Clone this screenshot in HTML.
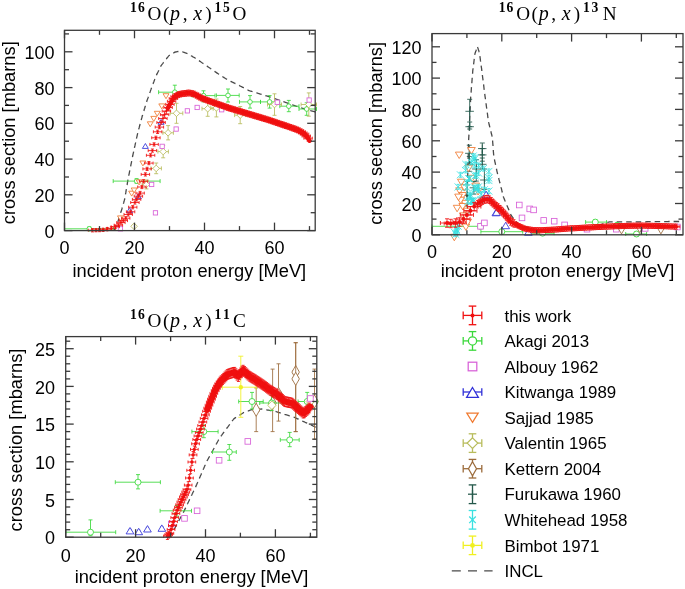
<!DOCTYPE html>
<html><head><meta charset="utf-8"><style>
html,body{margin:0;padding:0;background:#fff;width:685px;height:589px;overflow:hidden}
svg{display:block;filter:blur(0.4px)}
</style></head><body>
<svg width="685" height="589" viewBox="0 0 685 589">
<style>.t{font-family:"Liberation Sans",sans-serif;font-size:18px;fill:#000}.a{font-family:"Liberation Sans",sans-serif;font-size:18.3px;fill:#000}.l{font-family:"Liberation Sans",sans-serif;font-size:16.9px;fill:#000}.ti{font-family:"Liberation Serif",serif;font-size:18px;fill:#000}</style>
<rect width="685" height="589" fill="#fff"/>
<polyline points="114.2,230.6 114.5,229.8 114.9,229.1 115.2,228.3 115.6,227.6 115.9,226.8 116.3,226 116.6,225.3 117,224.5 117.3,223.4 117.7,222.3 118,221.2 118.4,220.1 118.7,219 119.1,217.9 119.4,216.8 119.8,215.7 120.1,214.6 120.5,213.5 120.8,212.4 121.2,211.3 121.5,210.2 121.9,209 122.2,207.7 122.6,206.5 123,205.2 123.3,204 123.7,202.7 124,201.5 124.4,200.2 124.7,199 125.1,196.9 125.4,194.8 125.8,192.7 126.1,190.6 126.5,188.5 126.8,186.4 127.2,184.4 127.5,182.3 127.9,180.2 128.2,178.4 128.6,176.7 128.9,174.9 129.3,173.1 129.6,171.4 130,169.6 130.3,167.8 130.7,166.1 131,164.3 131.4,162.6 131.7,160.8 132.1,159 132.4,157.3 132.8,155.5 133.1,153.9 133.5,152.3 133.8,150.7 134.2,149.1 134.5,147.5 134.9,145.9 135.2,144.3 135.6,142.7 135.9,141.1 136.3,139.5 136.6,137.9 137,136.3 137.3,134.8 137.7,133.2 138,131.8 138.4,130.5 138.7,129.2 139.1,127.9 139.4,126.6 139.8,125.3 140.1,124 140.5,122.7 140.8,121.4 141.2,120.1 141.5,118.8 141.9,117.5 142.2,116.2 142.6,115 142.9,113.9 143.3,112.7 143.6,111.6 144,110.5 144.3,109.3 144.7,108.2 145,107 145.4,105.9 145.7,104.8 146.1,103.6 146.4,102.5 146.8,101.3 147.1,100.3 147.5,99.3 147.8,98.4 148.2,97.4 148.5,96.4 148.9,95.4 149.2,94.4 149.6,93.4 149.9,92.4 150.3,91.4 150.6,90.4 151,89.4 151.3,88.5 151.7,87.5 152,86.6 152.4,85.6 152.7,84.7 153.1,83.8 153.4,82.8 153.8,81.9 154.1,81 154.5,80 154.8,79.1 155.2,78.2 155.5,77.2 155.9,76.3 156.2,75.6 156.6,74.9 156.9,74.1 157.3,73.4 157.6,72.7 158,72 158.3,71.3 158.7,70.6 159,69.9 159.4,69.1 159.7,68.4 160.1,67.7 160.4,67 160.8,66.3 161.1,65.6 161.5,65.1 161.8,64.7 162.2,64.2 162.5,63.8 162.9,63.3 163.2,62.9 163.6,62.4 163.9,62 164.3,61.5 164.6,61.1 165,60.7 165.3,60.2 165.7,59.8 166,59.3 166.4,58.9 166.7,58.4 167.1,58 167.4,57.5 167.8,57.1 168.1,56.6 168.5,56.2 168.8,55.7 169.2,55.5 169.5,55.3 169.9,55.1 170.2,54.9 170.6,54.7 170.9,54.5 171.3,54.3 171.6,54.1 172,53.8 172.3,53.6 172.7,53.4 173,53.2 173.4,53 173.7,52.8 174.1,52.6 174.4,52.4 174.8,52.2 175.1,52.1 175.5,52 175.8,52 176.2,51.9 176.5,51.8 176.9,51.7 177.2,51.7 177.6,51.6 177.9,51.5 178.3,51.5 178.6,51.4 179,51.3 179.3,51.3 179.7,51.3 180,51.4 180.4,51.5 180.7,51.6 181.1,51.6 181.4,51.7 181.8,51.8 182.1,51.9 182.5,51.9 182.8,52 183.2,52.1 183.5,52.2 183.9,52.3 184.2,52.4 184.6,52.6 184.9,52.7 185.3,52.8 185.6,53 186,53.1 186.3,53.2 186.7,53.4 187,53.5 187.4,53.6 187.7,53.8 188.1,54 188.4,54.2 188.8,54.4 189.1,54.6 189.5,54.8 189.8,55 190.2,55.2 190.5,55.4 190.9,55.6 191.2,55.8 191.6,56 191.9,56.2 192.3,56.4 192.6,56.6 193,56.8 193.3,57 193.7,57.2 194,57.4 194.4,57.6 194.7,57.8 195.1,58 195.4,58.2 195.8,58.4 196.1,58.7 196.5,58.9 196.8,59.1 197.2,59.4 197.5,59.6 197.9,59.9 198.2,60.1 198.6,60.3 198.9,60.6 199.3,60.8 199.6,61.1 200,61.3 200.3,61.5 200.7,61.8 201,62 201.4,62.3 201.7,62.5 202.1,62.8 202.4,63 202.8,63.2 203.1,63.5 203.5,63.7 203.8,64 204.2,64.2 204.5,64.4 204.9,64.7 205.2,64.9 205.6,65.2 205.9,65.4 206.3,65.6 206.6,65.9 207,66.1 207.3,66.3 207.7,66.6 208,66.8 208.4,67.1 208.7,67.3 209.1,67.5 209.4,67.8 209.8,68 210.1,68.2 210.5,68.5 210.8,68.7 211.2,69 211.5,69.2 211.9,69.4 212.2,69.7 212.6,69.9 212.9,70.2 213.3,70.4 213.6,70.6 214,70.9 214.3,71.1 214.7,71.4 215,71.6 215.4,71.8 215.7,72.1 216.1,72.3 216.4,72.6 216.8,72.8 217.1,73.1 217.5,73.3 217.8,73.5 218.2,73.8 218.5,74 218.9,74.3 219.2,74.5 219.6,74.7 219.9,75 220.3,75.2 220.6,75.4 221,75.7 221.3,75.9 221.7,76.1 222,76.3 222.4,76.5 222.7,76.7 223.1,77 223.4,77.2 223.8,77.4 224.1,77.6 224.5,77.8 224.8,78 225.2,78.2 225.5,78.5 225.9,78.7 226.2,78.9 226.6,79.1 226.9,79.3 227.3,79.5 227.6,79.8 228,80 228.3,80.2 228.7,80.4 229,80.6 229.4,80.7 229.7,80.9 230.1,81.1 230.4,81.2 230.8,81.4 231.1,81.6 231.5,81.7 231.8,81.9 232.2,82.1 232.5,82.2 232.9,82.4 233.2,82.6 233.6,82.7 233.9,82.9 234.3,83.1 234.6,83.2 235,83.4 235.3,83.6 235.7,83.7 236,83.9 236.4,84.1 236.7,84.2 237.1,84.4 237.4,84.5 237.8,84.7 238.1,84.9 238.5,85.1 238.8,85.2 239.2,85.4 239.5,85.6 239.9,85.8 240.2,86 240.6,86.2 240.9,86.4 241.3,86.5 241.6,86.7 242,86.9 242.3,87.1 242.7,87.3 243,87.5 243.4,87.6 243.7,87.8 244.1,88 244.4,88.2 244.8,88.4 245.1,88.6 245.5,88.8 245.8,88.9 246.2,89.1 246.5,89.3 246.9,89.5 247.2,89.7 247.6,89.9 247.9,90 248.3,90.2 248.6,90.4 249,90.6 249.3,90.7 249.7,90.8 250,90.9 250.4,91 250.7,91.1 251.1,91.2 251.4,91.3 251.8,91.4 252.1,91.5 252.5,91.7 252.8,91.8 253.2,91.9 253.5,92 253.9,92.1 254.2,92.2 254.6,92.3 254.9,92.4 255.3,92.5 255.6,92.6 256,92.7 256.3,92.8 256.7,92.9 257,93 257.4,93.1 257.7,93.2 258.1,93.3 258.4,93.4 258.8,93.5 259.1,93.7 259.5,93.8 259.8,93.9 260.2,94 260.5,94.1 260.9,94.2 261.2,94.3 261.6,94.4 261.9,94.5 262.3,94.6 262.6,94.7 263,94.8 263.3,94.9 263.7,95 264,95.1 264.4,95.2 264.7,95.3 265.1,95.4 265.4,95.6 265.8,95.7 266.1,95.8 266.5,95.9 266.8,96 267.2,96.1 267.5,96.2 267.9,96.3 268.2,96.4 268.6,96.5 268.9,96.6 269.3,96.7 269.6,96.9 270,97 270.3,97.1 270.7,97.2 271,97.3 271.4,97.5 271.7,97.6 272.1,97.7 272.4,97.8 272.8,98 273.1,98.1 273.5,98.2 273.8,98.3 274.2,98.4 274.5,98.6 274.9,98.7 275.2,98.8 275.6,98.9 275.9,99 276.3,99.2 276.6,99.3 277,99.4 277.3,99.5 277.7,99.7 278,99.8 278.4,99.9 278.7,100 279.1,100.1 279.4,100.3 279.8,100.4 280.1,100.5 280.5,100.6 280.8,100.7 281.2,100.9 281.5,101 281.9,101.1 282.2,101.2 282.6,101.4 282.9,101.5 283.3,101.6 283.6,101.7 284,101.8 284.3,102 284.7,102.1 285,102.2 285.4,102.3 285.7,102.4 286.1,102.6 286.4,102.7 286.8,102.8 287.1,102.9 287.5,103.1 287.8,103.2 288.2,103.3 288.5,103.4 288.9,103.5 289.2,103.7 289.6,103.8 289.9,103.9 290.3,104.1 290.6,104.2 291,104.3 291.3,104.4 291.7,104.6 292,104.7 292.4,104.8 292.7,104.9 293.1,105.1 293.4,105.2 293.8,105.3 294.1,105.5 294.5,105.6 294.8,105.7 295.2,105.8 295.5,106 295.9,106.1 296.2,106.2 296.6,106.3 296.9,106.5 297.3,106.6 297.6,106.7 298,106.8 298.3,107 298.7,107.1 299,107.2 299.4,107.3 299.7,107.4 300.1,107.5 300.4,107.6 300.8,107.7 301.1,107.8 301.5,107.9 301.8,108 302.2,108.2 302.5,108.3 302.9,108.4 303.2,108.5 303.6,108.6 303.9,108.7 304.3,108.8 304.6,108.9 305,109 305.3,109.1 305.7,109.2 306,109.3 306.4,109.4 306.7,109.5 307.1,109.6 307.4,109.7 307.8,109.8 308.1,109.9 308.5,110 308.8,110.1 309.2,110.2 309.5,110.3 309.9,110.4 310.2,110.5 310.6,110.6 310.9,110.7 311.3,110.8 311.6,110.9 312,111 312.3,111.1 312.7,111.2 313,111.3 313.4,111.4 313.7,111.5 314.1,111.6 314.4,111.7 314.8,111.9 315.1,112 315.5,112.1" fill="none" stroke="#4a4a4a" stroke-width="1.3" stroke-dasharray="5.5,4"/>
<line x1="64.5" y1="228.8" x2="113.5" y2="228.8" stroke="#3ad83a" stroke-width="0.85" />
<line x1="64.5" y1="226.8" x2="64.5" y2="230.8" stroke="#3ad83a" stroke-width="0.85" />
<line x1="113.5" y1="226.8" x2="113.5" y2="230.8" stroke="#3ad83a" stroke-width="0.85" />
<line x1="89.3" y1="230.6" x2="89.3" y2="227" stroke="#3ad83a" stroke-width="0.85" />
<line x1="87.3" y1="230.6" x2="91.3" y2="230.6" stroke="#3ad83a" stroke-width="0.85" />
<line x1="87.3" y1="227" x2="91.3" y2="227" stroke="#3ad83a" stroke-width="0.85" />
<circle cx="89.3" cy="228.8" r="2.3" fill="#fff" stroke="#3ad83a" stroke-width="0.85"/>
<line x1="113.2" y1="181.1" x2="160.1" y2="181.1" stroke="#3ad83a" stroke-width="0.85" />
<line x1="113.2" y1="179.1" x2="113.2" y2="183.1" stroke="#3ad83a" stroke-width="0.85" />
<line x1="160.1" y1="179.1" x2="160.1" y2="183.1" stroke="#3ad83a" stroke-width="0.85" />
<line x1="136.6" y1="183.2" x2="136.6" y2="178.7" stroke="#3ad83a" stroke-width="0.85" />
<line x1="134.6" y1="183.2" x2="138.6" y2="183.2" stroke="#3ad83a" stroke-width="0.85" />
<line x1="134.6" y1="178.7" x2="138.6" y2="178.7" stroke="#3ad83a" stroke-width="0.85" />
<circle cx="136.6" cy="181.1" r="2.3" fill="#fff" stroke="#3ad83a" stroke-width="0.85"/>
<line x1="158.6" y1="92.2" x2="190.5" y2="92.2" stroke="#3ad83a" stroke-width="0.85" />
<line x1="158.6" y1="90.2" x2="158.6" y2="94.2" stroke="#3ad83a" stroke-width="0.85" />
<line x1="190.5" y1="90.2" x2="190.5" y2="94.2" stroke="#3ad83a" stroke-width="0.85" />
<line x1="174.8" y1="99.2" x2="174.8" y2="85.2" stroke="#3ad83a" stroke-width="0.85" />
<line x1="172.8" y1="99.2" x2="176.8" y2="99.2" stroke="#3ad83a" stroke-width="0.85" />
<line x1="172.8" y1="85.2" x2="176.8" y2="85.2" stroke="#3ad83a" stroke-width="0.85" />
<circle cx="174.8" cy="92.2" r="2.3" fill="#fff" stroke="#3ad83a" stroke-width="0.85"/>
<line x1="192.2" y1="95.6" x2="215" y2="95.6" stroke="#3ad83a" stroke-width="0.85" />
<line x1="192.2" y1="93.6" x2="192.2" y2="97.6" stroke="#3ad83a" stroke-width="0.85" />
<line x1="215" y1="93.6" x2="215" y2="97.6" stroke="#3ad83a" stroke-width="0.85" />
<line x1="203.5" y1="101.9" x2="203.5" y2="90.8" stroke="#3ad83a" stroke-width="0.85" />
<line x1="201.5" y1="101.9" x2="205.5" y2="101.9" stroke="#3ad83a" stroke-width="0.85" />
<line x1="201.5" y1="90.8" x2="205.5" y2="90.8" stroke="#3ad83a" stroke-width="0.85" />
<circle cx="203.5" cy="95.6" r="2.3" fill="#fff" stroke="#3ad83a" stroke-width="0.85"/>
<line x1="216.4" y1="95.4" x2="239.2" y2="95.4" stroke="#3ad83a" stroke-width="0.85" />
<line x1="216.4" y1="93.4" x2="216.4" y2="97.4" stroke="#3ad83a" stroke-width="0.85" />
<line x1="239.2" y1="93.4" x2="239.2" y2="97.4" stroke="#3ad83a" stroke-width="0.85" />
<line x1="228" y1="102" x2="228" y2="89" stroke="#3ad83a" stroke-width="0.85" />
<line x1="226" y1="102" x2="230" y2="102" stroke="#3ad83a" stroke-width="0.85" />
<line x1="226" y1="89" x2="230" y2="89" stroke="#3ad83a" stroke-width="0.85" />
<circle cx="228" cy="95.4" r="2.3" fill="#fff" stroke="#3ad83a" stroke-width="0.85"/>
<line x1="239.5" y1="101.9" x2="260.5" y2="101.9" stroke="#3ad83a" stroke-width="0.85" />
<line x1="239.5" y1="99.9" x2="239.5" y2="103.9" stroke="#3ad83a" stroke-width="0.85" />
<line x1="260.5" y1="99.9" x2="260.5" y2="103.9" stroke="#3ad83a" stroke-width="0.85" />
<line x1="250" y1="108.1" x2="250" y2="95.6" stroke="#3ad83a" stroke-width="0.85" />
<line x1="248" y1="108.1" x2="252" y2="108.1" stroke="#3ad83a" stroke-width="0.85" />
<line x1="248" y1="95.6" x2="252" y2="95.6" stroke="#3ad83a" stroke-width="0.85" />
<circle cx="250" cy="101.9" r="2.3" fill="#fff" stroke="#3ad83a" stroke-width="0.85"/>
<line x1="260.5" y1="101.9" x2="279.8" y2="101.9" stroke="#3ad83a" stroke-width="0.85" />
<line x1="260.5" y1="99.9" x2="260.5" y2="103.9" stroke="#3ad83a" stroke-width="0.85" />
<line x1="279.8" y1="99.9" x2="279.8" y2="103.9" stroke="#3ad83a" stroke-width="0.85" />
<line x1="269.6" y1="108.1" x2="269.6" y2="95.6" stroke="#3ad83a" stroke-width="0.85" />
<line x1="267.6" y1="108.1" x2="271.6" y2="108.1" stroke="#3ad83a" stroke-width="0.85" />
<line x1="267.6" y1="95.6" x2="271.6" y2="95.6" stroke="#3ad83a" stroke-width="0.85" />
<circle cx="269.6" cy="101.9" r="2.3" fill="#fff" stroke="#3ad83a" stroke-width="0.85"/>
<line x1="279.8" y1="106.2" x2="299" y2="106.2" stroke="#3ad83a" stroke-width="0.85" />
<line x1="279.8" y1="104.2" x2="279.8" y2="108.2" stroke="#3ad83a" stroke-width="0.85" />
<line x1="299" y1="104.2" x2="299" y2="108.2" stroke="#3ad83a" stroke-width="0.85" />
<line x1="288.8" y1="111.7" x2="288.8" y2="100.4" stroke="#3ad83a" stroke-width="0.85" />
<line x1="286.8" y1="111.7" x2="290.8" y2="111.7" stroke="#3ad83a" stroke-width="0.85" />
<line x1="286.8" y1="100.4" x2="290.8" y2="100.4" stroke="#3ad83a" stroke-width="0.85" />
<circle cx="288.8" cy="106.2" r="2.3" fill="#fff" stroke="#3ad83a" stroke-width="0.85"/>
<line x1="299" y1="109" x2="316.5" y2="109" stroke="#3ad83a" stroke-width="0.85" />
<line x1="299" y1="107" x2="299" y2="111" stroke="#3ad83a" stroke-width="0.85" />
<line x1="316.5" y1="107" x2="316.5" y2="111" stroke="#3ad83a" stroke-width="0.85" />
<line x1="306.7" y1="115.3" x2="306.7" y2="102.8" stroke="#3ad83a" stroke-width="0.85" />
<line x1="304.7" y1="115.3" x2="308.7" y2="115.3" stroke="#3ad83a" stroke-width="0.85" />
<line x1="304.7" y1="102.8" x2="308.7" y2="102.8" stroke="#3ad83a" stroke-width="0.85" />
<circle cx="306.7" cy="109" r="2.3" fill="#fff" stroke="#3ad83a" stroke-width="0.85"/>
<path d="M134.1 223L137.4 226.3L134.1 229.6L130.8 226.3Z" fill="#fff" stroke="#b8bc5c" stroke-width="0.85"/>
<line x1="142.2" y1="184.5" x2="150.6" y2="184.5" stroke="#b8bc5c" stroke-width="0.85" />
<line x1="142.2" y1="182.5" x2="142.2" y2="186.5" stroke="#b8bc5c" stroke-width="0.85" />
<line x1="150.6" y1="182.5" x2="150.6" y2="186.5" stroke="#b8bc5c" stroke-width="0.85" />
<line x1="146.4" y1="188.9" x2="146.4" y2="180" stroke="#b8bc5c" stroke-width="0.85" />
<line x1="144.4" y1="188.9" x2="148.4" y2="188.9" stroke="#b8bc5c" stroke-width="0.85" />
<line x1="144.4" y1="180" x2="148.4" y2="180" stroke="#b8bc5c" stroke-width="0.85" />
<path d="M146.4 181.2L149.7 184.5L146.4 187.8L143.1 184.5Z" fill="#fff" stroke="#b8bc5c" stroke-width="0.85"/>
<line x1="150.9" y1="168.4" x2="161.4" y2="168.4" stroke="#b8bc5c" stroke-width="0.85" />
<line x1="150.9" y1="166.4" x2="150.9" y2="170.4" stroke="#b8bc5c" stroke-width="0.85" />
<line x1="161.4" y1="166.4" x2="161.4" y2="170.4" stroke="#b8bc5c" stroke-width="0.85" />
<line x1="156.2" y1="173.7" x2="156.2" y2="163" stroke="#b8bc5c" stroke-width="0.85" />
<line x1="154.2" y1="173.7" x2="158.2" y2="173.7" stroke="#b8bc5c" stroke-width="0.85" />
<line x1="154.2" y1="163" x2="158.2" y2="163" stroke="#b8bc5c" stroke-width="0.85" />
<path d="M156.2 165.1L159.5 168.4L156.2 171.7L152.9 168.4Z" fill="#fff" stroke="#b8bc5c" stroke-width="0.85"/>
<line x1="157.9" y1="151.6" x2="168.4" y2="151.6" stroke="#b8bc5c" stroke-width="0.85" />
<line x1="157.9" y1="149.6" x2="157.9" y2="153.6" stroke="#b8bc5c" stroke-width="0.85" />
<line x1="168.4" y1="149.6" x2="168.4" y2="153.6" stroke="#b8bc5c" stroke-width="0.85" />
<line x1="163.2" y1="157.8" x2="163.2" y2="145.3" stroke="#b8bc5c" stroke-width="0.85" />
<line x1="161.2" y1="157.8" x2="165.2" y2="157.8" stroke="#b8bc5c" stroke-width="0.85" />
<line x1="161.2" y1="145.3" x2="165.2" y2="145.3" stroke="#b8bc5c" stroke-width="0.85" />
<path d="M163.2 148.3L166.5 151.6L163.2 154.9L159.9 151.6Z" fill="#fff" stroke="#b8bc5c" stroke-width="0.85"/>
<line x1="162.9" y1="132.8" x2="173.4" y2="132.8" stroke="#b8bc5c" stroke-width="0.85" />
<line x1="162.9" y1="130.8" x2="162.9" y2="134.8" stroke="#b8bc5c" stroke-width="0.85" />
<line x1="173.4" y1="130.8" x2="173.4" y2="134.8" stroke="#b8bc5c" stroke-width="0.85" />
<line x1="168.1" y1="139.9" x2="168.1" y2="125.6" stroke="#b8bc5c" stroke-width="0.85" />
<line x1="166.1" y1="139.9" x2="170.1" y2="139.9" stroke="#b8bc5c" stroke-width="0.85" />
<line x1="166.1" y1="125.6" x2="170.1" y2="125.6" stroke="#b8bc5c" stroke-width="0.85" />
<path d="M168.1 129.5L171.4 132.8L168.1 136.1L164.8 132.8Z" fill="#fff" stroke="#b8bc5c" stroke-width="0.85"/>
<line x1="170.2" y1="113.3" x2="182.8" y2="113.3" stroke="#b8bc5c" stroke-width="0.85" />
<line x1="170.2" y1="111.3" x2="170.2" y2="115.3" stroke="#b8bc5c" stroke-width="0.85" />
<line x1="182.8" y1="111.3" x2="182.8" y2="115.3" stroke="#b8bc5c" stroke-width="0.85" />
<line x1="176.5" y1="123.3" x2="176.5" y2="103.3" stroke="#b8bc5c" stroke-width="0.85" />
<line x1="174.5" y1="123.3" x2="178.5" y2="123.3" stroke="#b8bc5c" stroke-width="0.85" />
<line x1="174.5" y1="103.3" x2="178.5" y2="103.3" stroke="#b8bc5c" stroke-width="0.85" />
<path d="M176.5 110L179.8 113.3L176.5 116.6L173.2 113.3Z" fill="#fff" stroke="#b8bc5c" stroke-width="0.85"/>
<line x1="202" y1="108.7" x2="213.2" y2="108.7" stroke="#b8bc5c" stroke-width="0.85" />
<line x1="202" y1="106.7" x2="202" y2="110.7" stroke="#b8bc5c" stroke-width="0.85" />
<line x1="213.2" y1="106.7" x2="213.2" y2="110.7" stroke="#b8bc5c" stroke-width="0.85" />
<line x1="207.7" y1="116.3" x2="207.7" y2="101" stroke="#b8bc5c" stroke-width="0.85" />
<line x1="205.7" y1="116.3" x2="209.7" y2="116.3" stroke="#b8bc5c" stroke-width="0.85" />
<line x1="205.7" y1="101" x2="209.7" y2="101" stroke="#b8bc5c" stroke-width="0.85" />
<path d="M207.7 105.4L211 108.7L207.7 112L204.3 108.7Z" fill="#fff" stroke="#b8bc5c" stroke-width="0.85"/>
<line x1="210.8" y1="107.9" x2="222" y2="107.9" stroke="#b8bc5c" stroke-width="0.85" />
<line x1="210.8" y1="105.9" x2="210.8" y2="109.9" stroke="#b8bc5c" stroke-width="0.85" />
<line x1="222" y1="105.9" x2="222" y2="109.9" stroke="#b8bc5c" stroke-width="0.85" />
<line x1="216.4" y1="116.9" x2="216.4" y2="99" stroke="#b8bc5c" stroke-width="0.85" />
<line x1="214.4" y1="116.9" x2="218.4" y2="116.9" stroke="#b8bc5c" stroke-width="0.85" />
<line x1="214.4" y1="99" x2="218.4" y2="99" stroke="#b8bc5c" stroke-width="0.85" />
<path d="M216.4 104.6L219.7 107.9L216.4 111.2L213.1 107.9Z" fill="#fff" stroke="#b8bc5c" stroke-width="0.85"/>
<line x1="234.6" y1="115.1" x2="245.8" y2="115.1" stroke="#b8bc5c" stroke-width="0.85" />
<line x1="234.6" y1="113.1" x2="234.6" y2="117.1" stroke="#b8bc5c" stroke-width="0.85" />
<line x1="245.8" y1="113.1" x2="245.8" y2="117.1" stroke="#b8bc5c" stroke-width="0.85" />
<line x1="240.2" y1="123.7" x2="240.2" y2="106.5" stroke="#b8bc5c" stroke-width="0.85" />
<line x1="238.2" y1="123.7" x2="242.2" y2="123.7" stroke="#b8bc5c" stroke-width="0.85" />
<line x1="238.2" y1="106.5" x2="242.2" y2="106.5" stroke="#b8bc5c" stroke-width="0.85" />
<path d="M240.2 111.8L243.5 115.1L240.2 118.4L236.9 115.1Z" fill="#fff" stroke="#b8bc5c" stroke-width="0.85"/>
<line x1="267.5" y1="104.5" x2="281.5" y2="104.5" stroke="#b8bc5c" stroke-width="0.85" />
<line x1="267.5" y1="102.5" x2="267.5" y2="106.5" stroke="#b8bc5c" stroke-width="0.85" />
<line x1="281.5" y1="102.5" x2="281.5" y2="106.5" stroke="#b8bc5c" stroke-width="0.85" />
<line x1="274.5" y1="115.3" x2="274.5" y2="93.8" stroke="#b8bc5c" stroke-width="0.85" />
<line x1="272.5" y1="115.3" x2="276.5" y2="115.3" stroke="#b8bc5c" stroke-width="0.85" />
<line x1="272.5" y1="93.8" x2="276.5" y2="93.8" stroke="#b8bc5c" stroke-width="0.85" />
<path d="M274.5 101.2L277.8 104.5L274.5 107.8L271.2 104.5Z" fill="#fff" stroke="#b8bc5c" stroke-width="0.85"/>
<line x1="301.1" y1="104.5" x2="316.5" y2="104.5" stroke="#b8bc5c" stroke-width="0.85" />
<line x1="301.1" y1="102.5" x2="301.1" y2="106.5" stroke="#b8bc5c" stroke-width="0.85" />
<line x1="316.5" y1="102.5" x2="316.5" y2="106.5" stroke="#b8bc5c" stroke-width="0.85" />
<line x1="308.8" y1="116.2" x2="308.8" y2="92.9" stroke="#b8bc5c" stroke-width="0.85" />
<line x1="306.8" y1="116.2" x2="310.8" y2="116.2" stroke="#b8bc5c" stroke-width="0.85" />
<line x1="306.8" y1="92.9" x2="310.8" y2="92.9" stroke="#b8bc5c" stroke-width="0.85" />
<path d="M308.8 101.2L312.1 104.5L308.8 107.8L305.5 104.5Z" fill="#fff" stroke="#b8bc5c" stroke-width="0.85"/>
<path d="M120.5 220.8L123.5 215.9L117.5 215.9Z" fill="#fff" stroke="#f07a30" stroke-width="0.85"/>
<path d="M131.7 196.1L134.7 191.2L128.7 191.2Z" fill="#fff" stroke="#f07a30" stroke-width="0.85"/>
<path d="M134.1 192.9L137.1 188L131.2 188Z" fill="#fff" stroke="#f07a30" stroke-width="0.85"/>
<path d="M139.1 184.9L142 179.9L136.1 179.9Z" fill="#fff" stroke="#f07a30" stroke-width="0.85"/>
<path d="M142.9 165.9L145.9 161L139.9 161Z" fill="#fff" stroke="#f07a30" stroke-width="0.85"/>
<path d="M150.2 126.7L153.2 121.8L147.3 121.8Z" fill="#fff" stroke="#f07a30" stroke-width="0.85"/>
<path d="M153.8 121.4L156.7 116.4L150.8 116.4Z" fill="#fff" stroke="#f07a30" stroke-width="0.85"/>
<path d="M157.2 116.2L160.2 111.3L154.3 111.3Z" fill="#fff" stroke="#f07a30" stroke-width="0.85"/>
<path d="M161.8 108.9L164.8 103.9L158.8 103.9Z" fill="#fff" stroke="#f07a30" stroke-width="0.85"/>
<path d="M166 98.7L169 93.7L163 93.7Z" fill="#fff" stroke="#f07a30" stroke-width="0.85"/>
<path d="M129.6 207.7L132.6 212.6L126.6 212.6Z" fill="#fff" stroke="#3030d8" stroke-width="0.85"/>
<path d="M138.4 193.7L141.3 198.7L135.4 198.7Z" fill="#fff" stroke="#3030d8" stroke-width="0.85"/>
<path d="M145.4 143.5L148.3 148.4L142.4 148.4Z" fill="#fff" stroke="#3030d8" stroke-width="0.85"/>
<path d="M161.1 119.4L164.1 124.3L158.1 124.3Z" fill="#fff" stroke="#3030d8" stroke-width="0.85"/>
<rect x="118.3" y="226.7" width="4.3" height="4.3" fill="#fff" stroke="#d860d8" stroke-width="0.85"/>
<rect x="149.5" y="182.3" width="4.3" height="4.3" fill="#fff" stroke="#d860d8" stroke-width="0.85"/>
<rect x="153.3" y="210.7" width="4.3" height="4.3" fill="#fff" stroke="#d860d8" stroke-width="0.85"/>
<rect x="160" y="144.2" width="4.3" height="4.3" fill="#fff" stroke="#d860d8" stroke-width="0.85"/>
<rect x="174" y="126.9" width="4.3" height="4.3" fill="#fff" stroke="#d860d8" stroke-width="0.85"/>
<rect x="185.2" y="108.7" width="4.3" height="4.3" fill="#fff" stroke="#d860d8" stroke-width="0.85"/>
<rect x="195" y="105.3" width="4.3" height="4.3" fill="#fff" stroke="#d860d8" stroke-width="0.85"/>
<rect x="219.5" y="107.6" width="4.3" height="4.3" fill="#fff" stroke="#d860d8" stroke-width="0.85"/>
<rect x="275.1" y="100.1" width="4.3" height="4.3" fill="#fff" stroke="#d860d8" stroke-width="0.85"/>
<rect x="307" y="97.9" width="4.3" height="4.3" fill="#fff" stroke="#d860d8" stroke-width="0.85"/>
<polyline points="167.8,108.1 168.6,106.6 169.5,105 170.4,103.4 171.2,101.9 172.1,100.5 173,99.1 173.9,97.7 174.8,96.9 175.6,96.2 176.5,95.5 177.4,94.8 178.2,94.6 179.1,94.4 180,94.2 180.9,94 181.8,93.8 182.6,93.7 183.5,93.6 184.4,93.5 185.2,93.4 186.1,93.3 187,93.1 187.9,93 188.8,92.9 189.6,93.1 190.5,93.2 191.4,93.4 192.2,93.5 193.1,93.7 194,93.8 194.9,94.3 195.8,94.8 196.6,95.4 197.5,95.9 198.4,96.4 199.2,96.9 200.1,97.4 201,97.9 201.9,98.3 202.8,98.6 203.6,98.9 204.5,99.2 205.4,99.6 206.2,99.9 207.1,100.2 208,100.6 208.9,100.9 209.8,101.2 210.6,101.5 211.5,101.9 212.4,102.2 213.2,102.5 214.1,102.8 215,103.1 215.9,103.4 216.8,103.7 217.6,104 218.5,104.3 219.4,104.6 220.2,104.9 221.1,105.2 222,105.5 222.9,105.9 223.8,106.2 224.6,106.5 225.5,106.8 226.4,107.1 227.2,107.4 228.1,107.7 229,108 229.9,108.3 230.8,108.5 231.6,108.8 232.5,109.1 233.4,109.3 234.2,109.6 235.1,109.9 236,110.1 236.9,110.4 237.8,110.7 238.6,110.9 239.5,111.2 240.4,111.4 241.2,111.7 242.1,112 243,112.2 243.9,112.5 244.8,112.8 245.6,113 246.5,113.3 247.4,113.5 248.2,113.8 249.1,114.1 250,114.3 250.9,114.6 251.8,114.9 252.6,115.1 253.5,115.4 254.4,115.7 255.2,115.9 256.1,116.2 257,116.4 257.9,116.7 258.8,117 259.6,117.2 260.5,117.5 261.4,117.8 262.2,118 263.1,118.3 264,118.6 264.9,118.8 265.8,119.1 266.6,119.3 267.5,119.6 268.4,119.9 269.2,120.2 270.1,120.5 271,120.7 271.9,121 272.8,121.3 273.6,121.6 274.5,121.9 275.4,122.2 276.2,122.5 277.1,122.8 278,123.1 278.9,123.4 279.8,123.7 280.6,124 281.5,124.3 282.4,124.6 283.2,124.9 284.1,125.2 285,125.5 285.9,125.8 286.8,126.1 287.6,126.4 288.5,126.7 289.4,127 290.2,127.3 291.1,127.6 292,127.9 292.9,128.2 293.8,128.5 294.6,128.8 295.5,129.1 296.4,129.4 297.2,129.7 298.1,130 299,130.6 299.9,131.1 300.8,131.6 301.6,132.1 302.5,132.6 303.4,133.2 304.2,133.7 305.1,134.7 306,135.7 306.9,136.6 307.8,137.6 308.6,139.1 309.5,140.7" fill="none" stroke="#f01010" stroke-width="4.5" stroke-linejoin="round" stroke-linecap="round"/>
<line x1="88.3" y1="230.2" x2="96.7" y2="230.2" stroke="#f01010" stroke-width="0.85" />
<line x1="88.3" y1="228.7" x2="88.3" y2="231.7" stroke="#f01010" stroke-width="0.85" />
<line x1="96.7" y1="228.7" x2="96.7" y2="231.7" stroke="#f01010" stroke-width="0.85" />
<line x1="92.5" y1="231.9" x2="92.5" y2="228.6" stroke="#f01010" stroke-width="0.85" />
<line x1="91" y1="231.9" x2="94" y2="231.9" stroke="#f01010" stroke-width="0.85" />
<line x1="91" y1="228.6" x2="94" y2="228.6" stroke="#f01010" stroke-width="0.85" />
<circle cx="92.5" cy="230.2" r="1.1" fill="#f01010"/>
<line x1="91.8" y1="230.2" x2="100.2" y2="230.2" stroke="#f01010" stroke-width="0.85" />
<line x1="91.8" y1="228.7" x2="91.8" y2="231.7" stroke="#f01010" stroke-width="0.85" />
<line x1="100.2" y1="228.7" x2="100.2" y2="231.7" stroke="#f01010" stroke-width="0.85" />
<line x1="96" y1="231.8" x2="96" y2="228.5" stroke="#f01010" stroke-width="0.85" />
<line x1="94.5" y1="231.8" x2="97.5" y2="231.8" stroke="#f01010" stroke-width="0.85" />
<line x1="94.5" y1="228.5" x2="97.5" y2="228.5" stroke="#f01010" stroke-width="0.85" />
<circle cx="96" cy="230.2" r="1.1" fill="#f01010"/>
<line x1="95.3" y1="230.1" x2="103.7" y2="230.1" stroke="#f01010" stroke-width="0.85" />
<line x1="95.3" y1="228.6" x2="95.3" y2="231.6" stroke="#f01010" stroke-width="0.85" />
<line x1="103.7" y1="228.6" x2="103.7" y2="231.6" stroke="#f01010" stroke-width="0.85" />
<line x1="99.5" y1="231.7" x2="99.5" y2="228.5" stroke="#f01010" stroke-width="0.85" />
<line x1="98" y1="231.7" x2="101" y2="231.7" stroke="#f01010" stroke-width="0.85" />
<line x1="98" y1="228.5" x2="101" y2="228.5" stroke="#f01010" stroke-width="0.85" />
<circle cx="99.5" cy="230.1" r="1.1" fill="#f01010"/>
<line x1="98.8" y1="229.9" x2="107.2" y2="229.9" stroke="#f01010" stroke-width="0.85" />
<line x1="98.8" y1="228.4" x2="98.8" y2="231.4" stroke="#f01010" stroke-width="0.85" />
<line x1="107.2" y1="228.4" x2="107.2" y2="231.4" stroke="#f01010" stroke-width="0.85" />
<line x1="103" y1="231.5" x2="103" y2="228.3" stroke="#f01010" stroke-width="0.85" />
<line x1="101.5" y1="231.5" x2="104.5" y2="231.5" stroke="#f01010" stroke-width="0.85" />
<line x1="101.5" y1="228.3" x2="104.5" y2="228.3" stroke="#f01010" stroke-width="0.85" />
<circle cx="103" cy="229.9" r="1.1" fill="#f01010"/>
<line x1="103" y1="229.1" x2="111.4" y2="229.1" stroke="#f01010" stroke-width="0.85" />
<line x1="103" y1="227.6" x2="103" y2="230.6" stroke="#f01010" stroke-width="0.85" />
<line x1="111.4" y1="227.6" x2="111.4" y2="230.6" stroke="#f01010" stroke-width="0.85" />
<line x1="107.2" y1="230.7" x2="107.2" y2="227.5" stroke="#f01010" stroke-width="0.85" />
<line x1="105.7" y1="230.7" x2="108.7" y2="230.7" stroke="#f01010" stroke-width="0.85" />
<line x1="105.7" y1="227.5" x2="108.7" y2="227.5" stroke="#f01010" stroke-width="0.85" />
<circle cx="107.2" cy="229.1" r="1.1" fill="#f01010"/>
<line x1="107.2" y1="228.3" x2="115.6" y2="228.3" stroke="#f01010" stroke-width="0.85" />
<line x1="107.2" y1="226.8" x2="107.2" y2="229.8" stroke="#f01010" stroke-width="0.85" />
<line x1="115.6" y1="226.8" x2="115.6" y2="229.8" stroke="#f01010" stroke-width="0.85" />
<line x1="111.4" y1="229.9" x2="111.4" y2="226.7" stroke="#f01010" stroke-width="0.85" />
<line x1="109.9" y1="229.9" x2="112.9" y2="229.9" stroke="#f01010" stroke-width="0.85" />
<line x1="109.9" y1="226.7" x2="112.9" y2="226.7" stroke="#f01010" stroke-width="0.85" />
<circle cx="111.4" cy="228.3" r="1.1" fill="#f01010"/>
<line x1="111.1" y1="226.7" x2="119.4" y2="226.7" stroke="#f01010" stroke-width="0.85" />
<line x1="111.1" y1="225.2" x2="111.1" y2="228.2" stroke="#f01010" stroke-width="0.85" />
<line x1="119.4" y1="225.2" x2="119.4" y2="228.2" stroke="#f01010" stroke-width="0.85" />
<line x1="115.2" y1="228.3" x2="115.2" y2="225.1" stroke="#f01010" stroke-width="0.85" />
<line x1="113.8" y1="228.3" x2="116.8" y2="228.3" stroke="#f01010" stroke-width="0.85" />
<line x1="113.8" y1="225.1" x2="116.8" y2="225.1" stroke="#f01010" stroke-width="0.85" />
<circle cx="115.2" cy="226.7" r="1.1" fill="#f01010"/>
<line x1="114.2" y1="225.2" x2="122.6" y2="225.2" stroke="#f01010" stroke-width="0.85" />
<line x1="114.2" y1="223.7" x2="114.2" y2="226.7" stroke="#f01010" stroke-width="0.85" />
<line x1="122.6" y1="223.7" x2="122.6" y2="226.7" stroke="#f01010" stroke-width="0.85" />
<line x1="118.4" y1="226.8" x2="118.4" y2="223.6" stroke="#f01010" stroke-width="0.85" />
<line x1="116.9" y1="226.8" x2="119.9" y2="226.8" stroke="#f01010" stroke-width="0.85" />
<line x1="116.9" y1="223.6" x2="119.9" y2="223.6" stroke="#f01010" stroke-width="0.85" />
<circle cx="118.4" cy="225.2" r="1.1" fill="#f01010"/>
<line x1="116.7" y1="222.6" x2="125.1" y2="222.6" stroke="#f01010" stroke-width="0.85" />
<line x1="116.7" y1="221.1" x2="116.7" y2="224.1" stroke="#f01010" stroke-width="0.85" />
<line x1="125.1" y1="221.1" x2="125.1" y2="224.1" stroke="#f01010" stroke-width="0.85" />
<line x1="120.9" y1="224.2" x2="120.9" y2="221" stroke="#f01010" stroke-width="0.85" />
<line x1="119.4" y1="224.2" x2="122.4" y2="224.2" stroke="#f01010" stroke-width="0.85" />
<line x1="119.4" y1="221" x2="122.4" y2="221" stroke="#f01010" stroke-width="0.85" />
<circle cx="120.9" cy="222.6" r="1.1" fill="#f01010"/>
<line x1="119.1" y1="220.6" x2="127.5" y2="220.6" stroke="#f01010" stroke-width="0.85" />
<line x1="119.1" y1="219.1" x2="119.1" y2="222.1" stroke="#f01010" stroke-width="0.85" />
<line x1="127.5" y1="219.1" x2="127.5" y2="222.1" stroke="#f01010" stroke-width="0.85" />
<line x1="123.3" y1="222.2" x2="123.3" y2="219" stroke="#f01010" stroke-width="0.85" />
<line x1="121.8" y1="222.2" x2="124.8" y2="222.2" stroke="#f01010" stroke-width="0.85" />
<line x1="121.8" y1="219" x2="124.8" y2="219" stroke="#f01010" stroke-width="0.85" />
<circle cx="123.3" cy="220.6" r="1.1" fill="#f01010"/>
<line x1="121.6" y1="218.2" x2="129.9" y2="218.2" stroke="#f01010" stroke-width="0.85" />
<line x1="121.6" y1="216.7" x2="121.6" y2="219.7" stroke="#f01010" stroke-width="0.85" />
<line x1="129.9" y1="216.7" x2="129.9" y2="219.7" stroke="#f01010" stroke-width="0.85" />
<line x1="125.8" y1="219.8" x2="125.8" y2="216.6" stroke="#f01010" stroke-width="0.85" />
<line x1="124.2" y1="219.8" x2="127.2" y2="219.8" stroke="#f01010" stroke-width="0.85" />
<line x1="124.2" y1="216.6" x2="127.2" y2="216.6" stroke="#f01010" stroke-width="0.85" />
<circle cx="125.8" cy="218.2" r="1.1" fill="#f01010"/>
<line x1="124" y1="214.5" x2="132.4" y2="214.5" stroke="#f01010" stroke-width="0.85" />
<line x1="124" y1="213" x2="124" y2="216" stroke="#f01010" stroke-width="0.85" />
<line x1="132.4" y1="213" x2="132.4" y2="216" stroke="#f01010" stroke-width="0.85" />
<line x1="128.2" y1="216.1" x2="128.2" y2="212.9" stroke="#f01010" stroke-width="0.85" />
<line x1="126.7" y1="216.1" x2="129.7" y2="216.1" stroke="#f01010" stroke-width="0.85" />
<line x1="126.7" y1="212.9" x2="129.7" y2="212.9" stroke="#f01010" stroke-width="0.85" />
<circle cx="128.2" cy="214.5" r="1.1" fill="#f01010"/>
<line x1="126.4" y1="211.8" x2="134.8" y2="211.8" stroke="#f01010" stroke-width="0.85" />
<line x1="126.4" y1="210.3" x2="126.4" y2="213.3" stroke="#f01010" stroke-width="0.85" />
<line x1="134.8" y1="210.3" x2="134.8" y2="213.3" stroke="#f01010" stroke-width="0.85" />
<line x1="130.6" y1="213.4" x2="130.6" y2="210.2" stroke="#f01010" stroke-width="0.85" />
<line x1="129.1" y1="213.4" x2="132.1" y2="213.4" stroke="#f01010" stroke-width="0.85" />
<line x1="129.1" y1="210.2" x2="132.1" y2="210.2" stroke="#f01010" stroke-width="0.85" />
<circle cx="130.6" cy="211.8" r="1.1" fill="#f01010"/>
<line x1="128.6" y1="207.2" x2="136.9" y2="207.2" stroke="#f01010" stroke-width="0.85" />
<line x1="128.6" y1="205.7" x2="128.6" y2="208.7" stroke="#f01010" stroke-width="0.85" />
<line x1="136.9" y1="205.7" x2="136.9" y2="208.7" stroke="#f01010" stroke-width="0.85" />
<line x1="132.8" y1="208.8" x2="132.8" y2="205.6" stroke="#f01010" stroke-width="0.85" />
<line x1="131.2" y1="208.8" x2="134.2" y2="208.8" stroke="#f01010" stroke-width="0.85" />
<line x1="131.2" y1="205.6" x2="134.2" y2="205.6" stroke="#f01010" stroke-width="0.85" />
<circle cx="132.8" cy="207.2" r="1.1" fill="#f01010"/>
<line x1="130.7" y1="202.5" x2="139.1" y2="202.5" stroke="#f01010" stroke-width="0.85" />
<line x1="130.7" y1="201" x2="130.7" y2="204" stroke="#f01010" stroke-width="0.85" />
<line x1="139.1" y1="201" x2="139.1" y2="204" stroke="#f01010" stroke-width="0.85" />
<line x1="134.9" y1="204.1" x2="134.9" y2="200.9" stroke="#f01010" stroke-width="0.85" />
<line x1="133.4" y1="204.1" x2="136.4" y2="204.1" stroke="#f01010" stroke-width="0.85" />
<line x1="133.4" y1="200.9" x2="136.4" y2="200.9" stroke="#f01010" stroke-width="0.85" />
<circle cx="134.9" cy="202.5" r="1.1" fill="#f01010"/>
<line x1="132.4" y1="199.4" x2="140.8" y2="199.4" stroke="#f01010" stroke-width="0.85" />
<line x1="132.4" y1="197.9" x2="132.4" y2="200.9" stroke="#f01010" stroke-width="0.85" />
<line x1="140.8" y1="197.9" x2="140.8" y2="200.9" stroke="#f01010" stroke-width="0.85" />
<line x1="136.6" y1="201" x2="136.6" y2="197.8" stroke="#f01010" stroke-width="0.85" />
<line x1="135.1" y1="201" x2="138.1" y2="201" stroke="#f01010" stroke-width="0.85" />
<line x1="135.1" y1="197.8" x2="138.1" y2="197.8" stroke="#f01010" stroke-width="0.85" />
<circle cx="136.6" cy="199.4" r="1.1" fill="#f01010"/>
<line x1="134.2" y1="196.2" x2="142.6" y2="196.2" stroke="#f01010" stroke-width="0.85" />
<line x1="134.2" y1="194.7" x2="134.2" y2="197.7" stroke="#f01010" stroke-width="0.85" />
<line x1="142.6" y1="194.7" x2="142.6" y2="197.7" stroke="#f01010" stroke-width="0.85" />
<line x1="138.4" y1="197.8" x2="138.4" y2="194.6" stroke="#f01010" stroke-width="0.85" />
<line x1="136.9" y1="197.8" x2="139.9" y2="197.8" stroke="#f01010" stroke-width="0.85" />
<line x1="136.9" y1="194.6" x2="139.9" y2="194.6" stroke="#f01010" stroke-width="0.85" />
<circle cx="138.4" cy="196.2" r="1.1" fill="#f01010"/>
<line x1="135.9" y1="193.1" x2="144.3" y2="193.1" stroke="#f01010" stroke-width="0.85" />
<line x1="135.9" y1="191.6" x2="135.9" y2="194.6" stroke="#f01010" stroke-width="0.85" />
<line x1="144.3" y1="191.6" x2="144.3" y2="194.6" stroke="#f01010" stroke-width="0.85" />
<line x1="140.1" y1="194.7" x2="140.1" y2="191.4" stroke="#f01010" stroke-width="0.85" />
<line x1="138.6" y1="194.7" x2="141.6" y2="194.7" stroke="#f01010" stroke-width="0.85" />
<line x1="138.6" y1="191.4" x2="141.6" y2="191.4" stroke="#f01010" stroke-width="0.85" />
<circle cx="140.1" cy="193.1" r="1.1" fill="#f01010"/>
<line x1="137.7" y1="187" x2="146.1" y2="187" stroke="#f01010" stroke-width="0.85" />
<line x1="137.7" y1="185.5" x2="137.7" y2="188.5" stroke="#f01010" stroke-width="0.85" />
<line x1="146.1" y1="185.5" x2="146.1" y2="188.5" stroke="#f01010" stroke-width="0.85" />
<line x1="141.9" y1="188.6" x2="141.9" y2="185.4" stroke="#f01010" stroke-width="0.85" />
<line x1="140.4" y1="188.6" x2="143.4" y2="188.6" stroke="#f01010" stroke-width="0.85" />
<line x1="140.4" y1="185.4" x2="143.4" y2="185.4" stroke="#f01010" stroke-width="0.85" />
<circle cx="141.9" cy="187" r="1.1" fill="#f01010"/>
<line x1="139.4" y1="181.3" x2="147.8" y2="181.3" stroke="#f01010" stroke-width="0.85" />
<line x1="139.4" y1="179.8" x2="139.4" y2="182.8" stroke="#f01010" stroke-width="0.85" />
<line x1="147.8" y1="179.8" x2="147.8" y2="182.8" stroke="#f01010" stroke-width="0.85" />
<line x1="143.6" y1="182.9" x2="143.6" y2="179.6" stroke="#f01010" stroke-width="0.85" />
<line x1="142.1" y1="182.9" x2="145.1" y2="182.9" stroke="#f01010" stroke-width="0.85" />
<line x1="142.1" y1="179.6" x2="145.1" y2="179.6" stroke="#f01010" stroke-width="0.85" />
<circle cx="143.6" cy="181.3" r="1.1" fill="#f01010"/>
<line x1="141.2" y1="174.4" x2="149.6" y2="174.4" stroke="#f01010" stroke-width="0.85" />
<line x1="141.2" y1="172.9" x2="141.2" y2="175.9" stroke="#f01010" stroke-width="0.85" />
<line x1="149.6" y1="172.9" x2="149.6" y2="175.9" stroke="#f01010" stroke-width="0.85" />
<line x1="145.4" y1="176" x2="145.4" y2="172.8" stroke="#f01010" stroke-width="0.85" />
<line x1="143.9" y1="176" x2="146.9" y2="176" stroke="#f01010" stroke-width="0.85" />
<line x1="143.9" y1="172.8" x2="146.9" y2="172.8" stroke="#f01010" stroke-width="0.85" />
<circle cx="145.4" cy="174.4" r="1.1" fill="#f01010"/>
<line x1="142.9" y1="168.9" x2="151.3" y2="168.9" stroke="#f01010" stroke-width="0.85" />
<line x1="142.9" y1="167.4" x2="142.9" y2="170.4" stroke="#f01010" stroke-width="0.85" />
<line x1="151.3" y1="167.4" x2="151.3" y2="170.4" stroke="#f01010" stroke-width="0.85" />
<line x1="147.1" y1="170.5" x2="147.1" y2="167.3" stroke="#f01010" stroke-width="0.85" />
<line x1="145.6" y1="170.5" x2="148.6" y2="170.5" stroke="#f01010" stroke-width="0.85" />
<line x1="145.6" y1="167.3" x2="148.6" y2="167.3" stroke="#f01010" stroke-width="0.85" />
<circle cx="147.1" cy="168.9" r="1.1" fill="#f01010"/>
<line x1="144.7" y1="163.1" x2="153.1" y2="163.1" stroke="#f01010" stroke-width="0.85" />
<line x1="144.7" y1="161.6" x2="144.7" y2="164.6" stroke="#f01010" stroke-width="0.85" />
<line x1="153.1" y1="161.6" x2="153.1" y2="164.6" stroke="#f01010" stroke-width="0.85" />
<line x1="148.9" y1="164.7" x2="148.9" y2="161.5" stroke="#f01010" stroke-width="0.85" />
<line x1="147.4" y1="164.7" x2="150.4" y2="164.7" stroke="#f01010" stroke-width="0.85" />
<line x1="147.4" y1="161.5" x2="150.4" y2="161.5" stroke="#f01010" stroke-width="0.85" />
<circle cx="148.9" cy="163.1" r="1.1" fill="#f01010"/>
<line x1="146.4" y1="155.3" x2="154.8" y2="155.3" stroke="#f01010" stroke-width="0.85" />
<line x1="146.4" y1="153.8" x2="146.4" y2="156.8" stroke="#f01010" stroke-width="0.85" />
<line x1="154.8" y1="153.8" x2="154.8" y2="156.8" stroke="#f01010" stroke-width="0.85" />
<line x1="150.6" y1="156.9" x2="150.6" y2="153.7" stroke="#f01010" stroke-width="0.85" />
<line x1="149.1" y1="156.9" x2="152.1" y2="156.9" stroke="#f01010" stroke-width="0.85" />
<line x1="149.1" y1="153.7" x2="152.1" y2="153.7" stroke="#f01010" stroke-width="0.85" />
<circle cx="150.6" cy="155.3" r="1.1" fill="#f01010"/>
<line x1="148.2" y1="150.6" x2="156.6" y2="150.6" stroke="#f01010" stroke-width="0.85" />
<line x1="148.2" y1="149.1" x2="148.2" y2="152.1" stroke="#f01010" stroke-width="0.85" />
<line x1="156.6" y1="149.1" x2="156.6" y2="152.1" stroke="#f01010" stroke-width="0.85" />
<line x1="152.4" y1="152.2" x2="152.4" y2="149" stroke="#f01010" stroke-width="0.85" />
<line x1="150.9" y1="152.2" x2="153.9" y2="152.2" stroke="#f01010" stroke-width="0.85" />
<line x1="150.9" y1="149" x2="153.9" y2="149" stroke="#f01010" stroke-width="0.85" />
<circle cx="152.4" cy="150.6" r="1.1" fill="#f01010"/>
<line x1="149.9" y1="144.4" x2="158.3" y2="144.4" stroke="#f01010" stroke-width="0.85" />
<line x1="149.9" y1="142.9" x2="149.9" y2="145.9" stroke="#f01010" stroke-width="0.85" />
<line x1="158.3" y1="142.9" x2="158.3" y2="145.9" stroke="#f01010" stroke-width="0.85" />
<line x1="154.1" y1="146" x2="154.1" y2="142.8" stroke="#f01010" stroke-width="0.85" />
<line x1="152.6" y1="146" x2="155.6" y2="146" stroke="#f01010" stroke-width="0.85" />
<line x1="152.6" y1="142.8" x2="155.6" y2="142.8" stroke="#f01010" stroke-width="0.85" />
<circle cx="154.1" cy="144.4" r="1.1" fill="#f01010"/>
<line x1="151.7" y1="137.8" x2="160.1" y2="137.8" stroke="#f01010" stroke-width="0.85" />
<line x1="151.7" y1="136.3" x2="151.7" y2="139.3" stroke="#f01010" stroke-width="0.85" />
<line x1="160.1" y1="136.3" x2="160.1" y2="139.3" stroke="#f01010" stroke-width="0.85" />
<line x1="155.9" y1="139.4" x2="155.9" y2="136.2" stroke="#f01010" stroke-width="0.85" />
<line x1="154.4" y1="139.4" x2="157.4" y2="139.4" stroke="#f01010" stroke-width="0.85" />
<line x1="154.4" y1="136.2" x2="157.4" y2="136.2" stroke="#f01010" stroke-width="0.85" />
<circle cx="155.9" cy="137.8" r="1.1" fill="#f01010"/>
<line x1="153.4" y1="131.8" x2="161.8" y2="131.8" stroke="#f01010" stroke-width="0.85" />
<line x1="153.4" y1="130.3" x2="153.4" y2="133.3" stroke="#f01010" stroke-width="0.85" />
<line x1="161.8" y1="130.3" x2="161.8" y2="133.3" stroke="#f01010" stroke-width="0.85" />
<line x1="157.6" y1="133.5" x2="157.6" y2="130.2" stroke="#f01010" stroke-width="0.85" />
<line x1="156.1" y1="133.5" x2="159.1" y2="133.5" stroke="#f01010" stroke-width="0.85" />
<line x1="156.1" y1="130.2" x2="159.1" y2="130.2" stroke="#f01010" stroke-width="0.85" />
<circle cx="157.6" cy="131.8" r="1.1" fill="#f01010"/>
<line x1="155.2" y1="127.1" x2="163.6" y2="127.1" stroke="#f01010" stroke-width="0.85" />
<line x1="155.2" y1="125.6" x2="155.2" y2="128.6" stroke="#f01010" stroke-width="0.85" />
<line x1="163.6" y1="125.6" x2="163.6" y2="128.6" stroke="#f01010" stroke-width="0.85" />
<line x1="159.4" y1="128.7" x2="159.4" y2="125.5" stroke="#f01010" stroke-width="0.85" />
<line x1="157.9" y1="128.7" x2="160.9" y2="128.7" stroke="#f01010" stroke-width="0.85" />
<line x1="157.9" y1="125.5" x2="160.9" y2="125.5" stroke="#f01010" stroke-width="0.85" />
<circle cx="159.4" cy="127.1" r="1.1" fill="#f01010"/>
<line x1="156.9" y1="122.5" x2="165.3" y2="122.5" stroke="#f01010" stroke-width="0.85" />
<line x1="156.9" y1="121" x2="156.9" y2="124" stroke="#f01010" stroke-width="0.85" />
<line x1="165.3" y1="121" x2="165.3" y2="124" stroke="#f01010" stroke-width="0.85" />
<line x1="161.1" y1="124.1" x2="161.1" y2="120.9" stroke="#f01010" stroke-width="0.85" />
<line x1="159.6" y1="124.1" x2="162.6" y2="124.1" stroke="#f01010" stroke-width="0.85" />
<line x1="159.6" y1="120.9" x2="162.6" y2="120.9" stroke="#f01010" stroke-width="0.85" />
<circle cx="161.1" cy="122.5" r="1.1" fill="#f01010"/>
<line x1="158.7" y1="118.5" x2="167.1" y2="118.5" stroke="#f01010" stroke-width="0.85" />
<line x1="158.7" y1="117" x2="158.7" y2="120" stroke="#f01010" stroke-width="0.85" />
<line x1="167.1" y1="117" x2="167.1" y2="120" stroke="#f01010" stroke-width="0.85" />
<line x1="162.9" y1="121.4" x2="162.9" y2="115.6" stroke="#f01010" stroke-width="0.85" />
<line x1="161.4" y1="121.4" x2="164.4" y2="121.4" stroke="#f01010" stroke-width="0.85" />
<line x1="161.4" y1="115.6" x2="164.4" y2="115.6" stroke="#f01010" stroke-width="0.85" />
<circle cx="162.9" cy="118.5" r="1.1" fill="#f01010"/>
<line x1="160.4" y1="114.6" x2="168.8" y2="114.6" stroke="#f01010" stroke-width="0.85" />
<line x1="160.4" y1="113.1" x2="160.4" y2="116.1" stroke="#f01010" stroke-width="0.85" />
<line x1="168.8" y1="113.1" x2="168.8" y2="116.1" stroke="#f01010" stroke-width="0.85" />
<line x1="164.6" y1="117.4" x2="164.6" y2="111.7" stroke="#f01010" stroke-width="0.85" />
<line x1="163.1" y1="117.4" x2="166.1" y2="117.4" stroke="#f01010" stroke-width="0.85" />
<line x1="163.1" y1="111.7" x2="166.1" y2="111.7" stroke="#f01010" stroke-width="0.85" />
<circle cx="164.6" cy="114.6" r="1.1" fill="#f01010"/>
<line x1="162.2" y1="111" x2="170.6" y2="111" stroke="#f01010" stroke-width="0.85" />
<line x1="162.2" y1="109.5" x2="162.2" y2="112.5" stroke="#f01010" stroke-width="0.85" />
<line x1="170.6" y1="109.5" x2="170.6" y2="112.5" stroke="#f01010" stroke-width="0.85" />
<line x1="166.4" y1="113.8" x2="166.4" y2="108.1" stroke="#f01010" stroke-width="0.85" />
<line x1="164.9" y1="113.8" x2="167.9" y2="113.8" stroke="#f01010" stroke-width="0.85" />
<line x1="164.9" y1="108.1" x2="167.9" y2="108.1" stroke="#f01010" stroke-width="0.85" />
<circle cx="166.4" cy="111" r="1.1" fill="#f01010"/>
<line x1="163.9" y1="107.5" x2="172.3" y2="107.5" stroke="#f01010" stroke-width="0.85" />
<line x1="163.9" y1="106" x2="163.9" y2="109" stroke="#f01010" stroke-width="0.85" />
<line x1="172.3" y1="106" x2="172.3" y2="109" stroke="#f01010" stroke-width="0.85" />
<line x1="168.1" y1="110.4" x2="168.1" y2="104.6" stroke="#f01010" stroke-width="0.85" />
<line x1="166.6" y1="110.4" x2="169.6" y2="110.4" stroke="#f01010" stroke-width="0.85" />
<line x1="166.6" y1="104.6" x2="169.6" y2="104.6" stroke="#f01010" stroke-width="0.85" />
<circle cx="168.1" cy="107.5" r="1.1" fill="#f01010"/>
<line x1="165.7" y1="104.4" x2="174.1" y2="104.4" stroke="#f01010" stroke-width="0.85" />
<line x1="165.7" y1="102.9" x2="165.7" y2="105.9" stroke="#f01010" stroke-width="0.85" />
<line x1="174.1" y1="102.9" x2="174.1" y2="105.9" stroke="#f01010" stroke-width="0.85" />
<line x1="169.9" y1="107.2" x2="169.9" y2="101.5" stroke="#f01010" stroke-width="0.85" />
<line x1="168.4" y1="107.2" x2="171.4" y2="107.2" stroke="#f01010" stroke-width="0.85" />
<line x1="168.4" y1="101.5" x2="171.4" y2="101.5" stroke="#f01010" stroke-width="0.85" />
<circle cx="169.9" cy="104.4" r="1.1" fill="#f01010"/>
<line x1="167.4" y1="101.3" x2="175.8" y2="101.3" stroke="#f01010" stroke-width="0.85" />
<line x1="167.4" y1="99.8" x2="167.4" y2="102.8" stroke="#f01010" stroke-width="0.85" />
<line x1="175.8" y1="99.8" x2="175.8" y2="102.8" stroke="#f01010" stroke-width="0.85" />
<line x1="171.6" y1="104.2" x2="171.6" y2="98.4" stroke="#f01010" stroke-width="0.85" />
<line x1="170.1" y1="104.2" x2="173.1" y2="104.2" stroke="#f01010" stroke-width="0.85" />
<line x1="170.1" y1="98.4" x2="173.1" y2="98.4" stroke="#f01010" stroke-width="0.85" />
<circle cx="171.6" cy="101.3" r="1.1" fill="#f01010"/>
<line x1="169.2" y1="98.5" x2="177.6" y2="98.5" stroke="#f01010" stroke-width="0.85" />
<line x1="169.2" y1="97" x2="169.2" y2="100" stroke="#f01010" stroke-width="0.85" />
<line x1="177.6" y1="97" x2="177.6" y2="100" stroke="#f01010" stroke-width="0.85" />
<line x1="173.4" y1="101.4" x2="173.4" y2="95.7" stroke="#f01010" stroke-width="0.85" />
<line x1="171.9" y1="101.4" x2="174.9" y2="101.4" stroke="#f01010" stroke-width="0.85" />
<line x1="171.9" y1="95.7" x2="174.9" y2="95.7" stroke="#f01010" stroke-width="0.85" />
<circle cx="173.4" cy="98.5" r="1.1" fill="#f01010"/>
<line x1="170.9" y1="96.6" x2="179.3" y2="96.6" stroke="#f01010" stroke-width="0.85" />
<line x1="170.9" y1="95.1" x2="170.9" y2="98.1" stroke="#f01010" stroke-width="0.85" />
<line x1="179.3" y1="95.1" x2="179.3" y2="98.1" stroke="#f01010" stroke-width="0.85" />
<line x1="175.1" y1="99.5" x2="175.1" y2="93.7" stroke="#f01010" stroke-width="0.85" />
<line x1="173.6" y1="99.5" x2="176.6" y2="99.5" stroke="#f01010" stroke-width="0.85" />
<line x1="173.6" y1="93.7" x2="176.6" y2="93.7" stroke="#f01010" stroke-width="0.85" />
<circle cx="175.1" cy="96.6" r="1.1" fill="#f01010"/>
<line x1="172.7" y1="95.2" x2="181.1" y2="95.2" stroke="#f01010" stroke-width="0.85" />
<line x1="172.7" y1="93.7" x2="172.7" y2="96.7" stroke="#f01010" stroke-width="0.85" />
<line x1="181.1" y1="93.7" x2="181.1" y2="96.7" stroke="#f01010" stroke-width="0.85" />
<line x1="176.9" y1="98.1" x2="176.9" y2="92.4" stroke="#f01010" stroke-width="0.85" />
<line x1="175.4" y1="98.1" x2="178.4" y2="98.1" stroke="#f01010" stroke-width="0.85" />
<line x1="175.4" y1="92.4" x2="178.4" y2="92.4" stroke="#f01010" stroke-width="0.85" />
<circle cx="176.9" cy="95.2" r="1.1" fill="#f01010"/>
<line x1="174.4" y1="94.5" x2="182.8" y2="94.5" stroke="#f01010" stroke-width="0.85" />
<line x1="174.4" y1="93" x2="174.4" y2="96" stroke="#f01010" stroke-width="0.85" />
<line x1="182.8" y1="93" x2="182.8" y2="96" stroke="#f01010" stroke-width="0.85" />
<line x1="178.6" y1="97.3" x2="178.6" y2="91.6" stroke="#f01010" stroke-width="0.85" />
<line x1="177.1" y1="97.3" x2="180.1" y2="97.3" stroke="#f01010" stroke-width="0.85" />
<line x1="177.1" y1="91.6" x2="180.1" y2="91.6" stroke="#f01010" stroke-width="0.85" />
<circle cx="178.6" cy="94.5" r="1.1" fill="#f01010"/>
<line x1="176.2" y1="94.1" x2="184.6" y2="94.1" stroke="#f01010" stroke-width="0.85" />
<line x1="176.2" y1="92.6" x2="176.2" y2="95.6" stroke="#f01010" stroke-width="0.85" />
<line x1="184.6" y1="92.6" x2="184.6" y2="95.6" stroke="#f01010" stroke-width="0.85" />
<line x1="180.4" y1="97" x2="180.4" y2="91.3" stroke="#f01010" stroke-width="0.85" />
<line x1="178.9" y1="97" x2="181.9" y2="97" stroke="#f01010" stroke-width="0.85" />
<line x1="178.9" y1="91.3" x2="181.9" y2="91.3" stroke="#f01010" stroke-width="0.85" />
<circle cx="180.4" cy="94.1" r="1.1" fill="#f01010"/>
<line x1="177.9" y1="93.8" x2="186.3" y2="93.8" stroke="#f01010" stroke-width="0.85" />
<line x1="177.9" y1="92.3" x2="177.9" y2="95.3" stroke="#f01010" stroke-width="0.85" />
<line x1="186.3" y1="92.3" x2="186.3" y2="95.3" stroke="#f01010" stroke-width="0.85" />
<line x1="182.1" y1="96.6" x2="182.1" y2="90.9" stroke="#f01010" stroke-width="0.85" />
<line x1="180.6" y1="96.6" x2="183.6" y2="96.6" stroke="#f01010" stroke-width="0.85" />
<line x1="180.6" y1="90.9" x2="183.6" y2="90.9" stroke="#f01010" stroke-width="0.85" />
<circle cx="182.1" cy="93.8" r="1.1" fill="#f01010"/>
<line x1="179.6" y1="93.5" x2="188.1" y2="93.5" stroke="#f01010" stroke-width="0.85" />
<line x1="179.6" y1="92" x2="179.6" y2="95" stroke="#f01010" stroke-width="0.85" />
<line x1="188.1" y1="92" x2="188.1" y2="95" stroke="#f01010" stroke-width="0.85" />
<line x1="183.9" y1="96.4" x2="183.9" y2="90.7" stroke="#f01010" stroke-width="0.85" />
<line x1="182.4" y1="96.4" x2="185.4" y2="96.4" stroke="#f01010" stroke-width="0.85" />
<line x1="182.4" y1="90.7" x2="185.4" y2="90.7" stroke="#f01010" stroke-width="0.85" />
<circle cx="183.9" cy="93.5" r="1.1" fill="#f01010"/>
<line x1="181.4" y1="93.3" x2="189.8" y2="93.3" stroke="#f01010" stroke-width="0.85" />
<line x1="181.4" y1="91.8" x2="181.4" y2="94.8" stroke="#f01010" stroke-width="0.85" />
<line x1="189.8" y1="91.8" x2="189.8" y2="94.8" stroke="#f01010" stroke-width="0.85" />
<line x1="185.6" y1="96.2" x2="185.6" y2="90.5" stroke="#f01010" stroke-width="0.85" />
<line x1="184.1" y1="96.2" x2="187.1" y2="96.2" stroke="#f01010" stroke-width="0.85" />
<line x1="184.1" y1="90.5" x2="187.1" y2="90.5" stroke="#f01010" stroke-width="0.85" />
<circle cx="185.6" cy="93.3" r="1.1" fill="#f01010"/>
<line x1="183.1" y1="93.1" x2="191.6" y2="93.1" stroke="#f01010" stroke-width="0.85" />
<line x1="183.1" y1="91.6" x2="183.1" y2="94.6" stroke="#f01010" stroke-width="0.85" />
<line x1="191.6" y1="91.6" x2="191.6" y2="94.6" stroke="#f01010" stroke-width="0.85" />
<line x1="187.4" y1="96" x2="187.4" y2="90.2" stroke="#f01010" stroke-width="0.85" />
<line x1="185.9" y1="96" x2="188.9" y2="96" stroke="#f01010" stroke-width="0.85" />
<line x1="185.9" y1="90.2" x2="188.9" y2="90.2" stroke="#f01010" stroke-width="0.85" />
<circle cx="187.4" cy="93.1" r="1.1" fill="#f01010"/>
<line x1="184.9" y1="93" x2="193.3" y2="93" stroke="#f01010" stroke-width="0.85" />
<line x1="184.9" y1="91.5" x2="184.9" y2="94.5" stroke="#f01010" stroke-width="0.85" />
<line x1="193.3" y1="91.5" x2="193.3" y2="94.5" stroke="#f01010" stroke-width="0.85" />
<line x1="189.1" y1="95.8" x2="189.1" y2="90.1" stroke="#f01010" stroke-width="0.85" />
<line x1="187.6" y1="95.8" x2="190.6" y2="95.8" stroke="#f01010" stroke-width="0.85" />
<line x1="187.6" y1="90.1" x2="190.6" y2="90.1" stroke="#f01010" stroke-width="0.85" />
<circle cx="189.1" cy="93" r="1.1" fill="#f01010"/>
<line x1="186.6" y1="93.3" x2="195.1" y2="93.3" stroke="#f01010" stroke-width="0.85" />
<line x1="186.6" y1="91.8" x2="186.6" y2="94.8" stroke="#f01010" stroke-width="0.85" />
<line x1="195.1" y1="91.8" x2="195.1" y2="94.8" stroke="#f01010" stroke-width="0.85" />
<line x1="190.9" y1="96.1" x2="190.9" y2="90.4" stroke="#f01010" stroke-width="0.85" />
<line x1="189.4" y1="96.1" x2="192.4" y2="96.1" stroke="#f01010" stroke-width="0.85" />
<line x1="189.4" y1="90.4" x2="192.4" y2="90.4" stroke="#f01010" stroke-width="0.85" />
<circle cx="190.9" cy="93.3" r="1.1" fill="#f01010"/>
<line x1="188.4" y1="93.6" x2="196.8" y2="93.6" stroke="#f01010" stroke-width="0.85" />
<line x1="188.4" y1="92.1" x2="188.4" y2="95.1" stroke="#f01010" stroke-width="0.85" />
<line x1="196.8" y1="92.1" x2="196.8" y2="95.1" stroke="#f01010" stroke-width="0.85" />
<line x1="192.6" y1="96.4" x2="192.6" y2="90.7" stroke="#f01010" stroke-width="0.85" />
<line x1="191.1" y1="96.4" x2="194.1" y2="96.4" stroke="#f01010" stroke-width="0.85" />
<line x1="191.1" y1="90.7" x2="194.1" y2="90.7" stroke="#f01010" stroke-width="0.85" />
<circle cx="192.6" cy="93.6" r="1.1" fill="#f01010"/>
<line x1="190.1" y1="94" x2="198.6" y2="94" stroke="#f01010" stroke-width="0.85" />
<line x1="190.1" y1="92.5" x2="190.1" y2="95.5" stroke="#f01010" stroke-width="0.85" />
<line x1="198.6" y1="92.5" x2="198.6" y2="95.5" stroke="#f01010" stroke-width="0.85" />
<line x1="194.3" y1="96.9" x2="194.3" y2="91.2" stroke="#f01010" stroke-width="0.85" />
<line x1="192.8" y1="96.9" x2="195.8" y2="96.9" stroke="#f01010" stroke-width="0.85" />
<line x1="192.8" y1="91.2" x2="195.8" y2="91.2" stroke="#f01010" stroke-width="0.85" />
<circle cx="194.3" cy="94" r="1.1" fill="#f01010"/>
<line x1="191.9" y1="95.1" x2="200.3" y2="95.1" stroke="#f01010" stroke-width="0.85" />
<line x1="191.9" y1="93.6" x2="191.9" y2="96.6" stroke="#f01010" stroke-width="0.85" />
<line x1="200.3" y1="93.6" x2="200.3" y2="96.6" stroke="#f01010" stroke-width="0.85" />
<line x1="196.1" y1="97.9" x2="196.1" y2="92.2" stroke="#f01010" stroke-width="0.85" />
<line x1="194.6" y1="97.9" x2="197.6" y2="97.9" stroke="#f01010" stroke-width="0.85" />
<line x1="194.6" y1="92.2" x2="197.6" y2="92.2" stroke="#f01010" stroke-width="0.85" />
<circle cx="196.1" cy="95.1" r="1.1" fill="#f01010"/>
<line x1="193.7" y1="96.1" x2="202.1" y2="96.1" stroke="#f01010" stroke-width="0.85" />
<line x1="193.7" y1="94.6" x2="193.7" y2="97.6" stroke="#f01010" stroke-width="0.85" />
<line x1="202.1" y1="94.6" x2="202.1" y2="97.6" stroke="#f01010" stroke-width="0.85" />
<line x1="197.8" y1="98.9" x2="197.8" y2="93.2" stroke="#f01010" stroke-width="0.85" />
<line x1="196.3" y1="98.9" x2="199.3" y2="98.9" stroke="#f01010" stroke-width="0.85" />
<line x1="196.3" y1="93.2" x2="199.3" y2="93.2" stroke="#f01010" stroke-width="0.85" />
<circle cx="197.8" cy="96.1" r="1.1" fill="#f01010"/>
<line x1="195.4" y1="97.1" x2="203.8" y2="97.1" stroke="#f01010" stroke-width="0.85" />
<line x1="195.4" y1="95.6" x2="195.4" y2="98.6" stroke="#f01010" stroke-width="0.85" />
<line x1="203.8" y1="95.6" x2="203.8" y2="98.6" stroke="#f01010" stroke-width="0.85" />
<line x1="199.6" y1="100" x2="199.6" y2="94.2" stroke="#f01010" stroke-width="0.85" />
<line x1="198.1" y1="100" x2="201.1" y2="100" stroke="#f01010" stroke-width="0.85" />
<line x1="198.1" y1="94.2" x2="201.1" y2="94.2" stroke="#f01010" stroke-width="0.85" />
<circle cx="199.6" cy="97.1" r="1.1" fill="#f01010"/>
<line x1="197.2" y1="98.1" x2="205.6" y2="98.1" stroke="#f01010" stroke-width="0.85" />
<line x1="197.2" y1="96.6" x2="197.2" y2="99.6" stroke="#f01010" stroke-width="0.85" />
<line x1="205.6" y1="96.6" x2="205.6" y2="99.6" stroke="#f01010" stroke-width="0.85" />
<line x1="201.3" y1="100.9" x2="201.3" y2="95.2" stroke="#f01010" stroke-width="0.85" />
<line x1="199.8" y1="100.9" x2="202.8" y2="100.9" stroke="#f01010" stroke-width="0.85" />
<line x1="199.8" y1="95.2" x2="202.8" y2="95.2" stroke="#f01010" stroke-width="0.85" />
<circle cx="201.3" cy="98.1" r="1.1" fill="#f01010"/>
<line x1="198.9" y1="98.7" x2="207.3" y2="98.7" stroke="#f01010" stroke-width="0.85" />
<line x1="198.9" y1="97.2" x2="198.9" y2="100.2" stroke="#f01010" stroke-width="0.85" />
<line x1="207.3" y1="97.2" x2="207.3" y2="100.2" stroke="#f01010" stroke-width="0.85" />
<line x1="203.1" y1="101.6" x2="203.1" y2="95.9" stroke="#f01010" stroke-width="0.85" />
<line x1="201.6" y1="101.6" x2="204.6" y2="101.6" stroke="#f01010" stroke-width="0.85" />
<line x1="201.6" y1="95.9" x2="204.6" y2="95.9" stroke="#f01010" stroke-width="0.85" />
<circle cx="203.1" cy="98.7" r="1.1" fill="#f01010"/>
<line x1="200.7" y1="99.4" x2="209.1" y2="99.4" stroke="#f01010" stroke-width="0.85" />
<line x1="200.7" y1="97.9" x2="200.7" y2="100.9" stroke="#f01010" stroke-width="0.85" />
<line x1="209.1" y1="97.9" x2="209.1" y2="100.9" stroke="#f01010" stroke-width="0.85" />
<line x1="204.8" y1="102.2" x2="204.8" y2="96.5" stroke="#f01010" stroke-width="0.85" />
<line x1="203.3" y1="102.2" x2="206.3" y2="102.2" stroke="#f01010" stroke-width="0.85" />
<line x1="203.3" y1="96.5" x2="206.3" y2="96.5" stroke="#f01010" stroke-width="0.85" />
<circle cx="204.8" cy="99.4" r="1.1" fill="#f01010"/>
<line x1="202.4" y1="100" x2="210.8" y2="100" stroke="#f01010" stroke-width="0.85" />
<line x1="202.4" y1="98.5" x2="202.4" y2="101.5" stroke="#f01010" stroke-width="0.85" />
<line x1="210.8" y1="98.5" x2="210.8" y2="101.5" stroke="#f01010" stroke-width="0.85" />
<line x1="206.6" y1="102.9" x2="206.6" y2="97.2" stroke="#f01010" stroke-width="0.85" />
<line x1="205.1" y1="102.9" x2="208.1" y2="102.9" stroke="#f01010" stroke-width="0.85" />
<line x1="205.1" y1="97.2" x2="208.1" y2="97.2" stroke="#f01010" stroke-width="0.85" />
<circle cx="206.6" cy="100" r="1.1" fill="#f01010"/>
<line x1="204.2" y1="100.7" x2="212.6" y2="100.7" stroke="#f01010" stroke-width="0.85" />
<line x1="204.2" y1="99.2" x2="204.2" y2="102.2" stroke="#f01010" stroke-width="0.85" />
<line x1="212.6" y1="99.2" x2="212.6" y2="102.2" stroke="#f01010" stroke-width="0.85" />
<line x1="208.3" y1="103.5" x2="208.3" y2="97.8" stroke="#f01010" stroke-width="0.85" />
<line x1="206.8" y1="103.5" x2="209.8" y2="103.5" stroke="#f01010" stroke-width="0.85" />
<line x1="206.8" y1="97.8" x2="209.8" y2="97.8" stroke="#f01010" stroke-width="0.85" />
<circle cx="208.3" cy="100.7" r="1.1" fill="#f01010"/>
<line x1="205.9" y1="101.3" x2="214.3" y2="101.3" stroke="#f01010" stroke-width="0.85" />
<line x1="205.9" y1="99.8" x2="205.9" y2="102.8" stroke="#f01010" stroke-width="0.85" />
<line x1="214.3" y1="99.8" x2="214.3" y2="102.8" stroke="#f01010" stroke-width="0.85" />
<line x1="210.1" y1="104.2" x2="210.1" y2="98.5" stroke="#f01010" stroke-width="0.85" />
<line x1="208.6" y1="104.2" x2="211.6" y2="104.2" stroke="#f01010" stroke-width="0.85" />
<line x1="208.6" y1="98.5" x2="211.6" y2="98.5" stroke="#f01010" stroke-width="0.85" />
<circle cx="210.1" cy="101.3" r="1.1" fill="#f01010"/>
<line x1="207.7" y1="102" x2="216.1" y2="102" stroke="#f01010" stroke-width="0.85" />
<line x1="207.7" y1="100.5" x2="207.7" y2="103.5" stroke="#f01010" stroke-width="0.85" />
<line x1="216.1" y1="100.5" x2="216.1" y2="103.5" stroke="#f01010" stroke-width="0.85" />
<line x1="211.8" y1="104.8" x2="211.8" y2="99.1" stroke="#f01010" stroke-width="0.85" />
<line x1="210.3" y1="104.8" x2="213.3" y2="104.8" stroke="#f01010" stroke-width="0.85" />
<line x1="210.3" y1="99.1" x2="213.3" y2="99.1" stroke="#f01010" stroke-width="0.85" />
<circle cx="211.8" cy="102" r="1.1" fill="#f01010"/>
<line x1="209.4" y1="102.6" x2="217.8" y2="102.6" stroke="#f01010" stroke-width="0.85" />
<line x1="209.4" y1="101.1" x2="209.4" y2="104.1" stroke="#f01010" stroke-width="0.85" />
<line x1="217.8" y1="101.1" x2="217.8" y2="104.1" stroke="#f01010" stroke-width="0.85" />
<line x1="213.6" y1="105.5" x2="213.6" y2="99.7" stroke="#f01010" stroke-width="0.85" />
<line x1="212.1" y1="105.5" x2="215.1" y2="105.5" stroke="#f01010" stroke-width="0.85" />
<line x1="212.1" y1="99.7" x2="215.1" y2="99.7" stroke="#f01010" stroke-width="0.85" />
<circle cx="213.6" cy="102.6" r="1.1" fill="#f01010"/>
<line x1="211.2" y1="103.2" x2="219.6" y2="103.2" stroke="#f01010" stroke-width="0.85" />
<line x1="211.2" y1="101.7" x2="211.2" y2="104.7" stroke="#f01010" stroke-width="0.85" />
<line x1="219.6" y1="101.7" x2="219.6" y2="104.7" stroke="#f01010" stroke-width="0.85" />
<line x1="215.3" y1="106.1" x2="215.3" y2="100.4" stroke="#f01010" stroke-width="0.85" />
<line x1="213.8" y1="106.1" x2="216.8" y2="106.1" stroke="#f01010" stroke-width="0.85" />
<line x1="213.8" y1="100.4" x2="216.8" y2="100.4" stroke="#f01010" stroke-width="0.85" />
<circle cx="215.3" cy="103.2" r="1.1" fill="#f01010"/>
<line x1="212.9" y1="103.8" x2="221.3" y2="103.8" stroke="#f01010" stroke-width="0.85" />
<line x1="212.9" y1="102.3" x2="212.9" y2="105.3" stroke="#f01010" stroke-width="0.85" />
<line x1="221.3" y1="102.3" x2="221.3" y2="105.3" stroke="#f01010" stroke-width="0.85" />
<line x1="217.1" y1="106.7" x2="217.1" y2="101" stroke="#f01010" stroke-width="0.85" />
<line x1="215.6" y1="106.7" x2="218.6" y2="106.7" stroke="#f01010" stroke-width="0.85" />
<line x1="215.6" y1="101" x2="218.6" y2="101" stroke="#f01010" stroke-width="0.85" />
<circle cx="217.1" cy="103.8" r="1.1" fill="#f01010"/>
<line x1="214.7" y1="104.4" x2="223.1" y2="104.4" stroke="#f01010" stroke-width="0.85" />
<line x1="214.7" y1="102.9" x2="214.7" y2="105.9" stroke="#f01010" stroke-width="0.85" />
<line x1="223.1" y1="102.9" x2="223.1" y2="105.9" stroke="#f01010" stroke-width="0.85" />
<line x1="218.8" y1="107.3" x2="218.8" y2="101.6" stroke="#f01010" stroke-width="0.85" />
<line x1="217.3" y1="107.3" x2="220.3" y2="107.3" stroke="#f01010" stroke-width="0.85" />
<line x1="217.3" y1="101.6" x2="220.3" y2="101.6" stroke="#f01010" stroke-width="0.85" />
<circle cx="218.8" cy="104.4" r="1.1" fill="#f01010"/>
<line x1="216.4" y1="105.1" x2="224.8" y2="105.1" stroke="#f01010" stroke-width="0.85" />
<line x1="216.4" y1="103.6" x2="216.4" y2="106.6" stroke="#f01010" stroke-width="0.85" />
<line x1="224.8" y1="103.6" x2="224.8" y2="106.6" stroke="#f01010" stroke-width="0.85" />
<line x1="220.6" y1="107.9" x2="220.6" y2="102.2" stroke="#f01010" stroke-width="0.85" />
<line x1="219.1" y1="107.9" x2="222.1" y2="107.9" stroke="#f01010" stroke-width="0.85" />
<line x1="219.1" y1="102.2" x2="222.1" y2="102.2" stroke="#f01010" stroke-width="0.85" />
<circle cx="220.6" cy="105.1" r="1.1" fill="#f01010"/>
<line x1="218.2" y1="105.7" x2="226.6" y2="105.7" stroke="#f01010" stroke-width="0.85" />
<line x1="218.2" y1="104.2" x2="218.2" y2="107.2" stroke="#f01010" stroke-width="0.85" />
<line x1="226.6" y1="104.2" x2="226.6" y2="107.2" stroke="#f01010" stroke-width="0.85" />
<line x1="222.3" y1="108.5" x2="222.3" y2="102.8" stroke="#f01010" stroke-width="0.85" />
<line x1="220.8" y1="108.5" x2="223.8" y2="108.5" stroke="#f01010" stroke-width="0.85" />
<line x1="220.8" y1="102.8" x2="223.8" y2="102.8" stroke="#f01010" stroke-width="0.85" />
<circle cx="222.3" cy="105.7" r="1.1" fill="#f01010"/>
<line x1="219.9" y1="106.3" x2="228.3" y2="106.3" stroke="#f01010" stroke-width="0.85" />
<line x1="219.9" y1="104.8" x2="219.9" y2="107.8" stroke="#f01010" stroke-width="0.85" />
<line x1="228.3" y1="104.8" x2="228.3" y2="107.8" stroke="#f01010" stroke-width="0.85" />
<line x1="224.1" y1="109.1" x2="224.1" y2="103.4" stroke="#f01010" stroke-width="0.85" />
<line x1="222.6" y1="109.1" x2="225.6" y2="109.1" stroke="#f01010" stroke-width="0.85" />
<line x1="222.6" y1="103.4" x2="225.6" y2="103.4" stroke="#f01010" stroke-width="0.85" />
<circle cx="224.1" cy="106.3" r="1.1" fill="#f01010"/>
<line x1="221.7" y1="106.9" x2="230.1" y2="106.9" stroke="#f01010" stroke-width="0.85" />
<line x1="221.7" y1="105.4" x2="221.7" y2="108.4" stroke="#f01010" stroke-width="0.85" />
<line x1="230.1" y1="105.4" x2="230.1" y2="108.4" stroke="#f01010" stroke-width="0.85" />
<line x1="225.8" y1="109.8" x2="225.8" y2="104" stroke="#f01010" stroke-width="0.85" />
<line x1="224.3" y1="109.8" x2="227.3" y2="109.8" stroke="#f01010" stroke-width="0.85" />
<line x1="224.3" y1="104" x2="227.3" y2="104" stroke="#f01010" stroke-width="0.85" />
<circle cx="225.8" cy="106.9" r="1.1" fill="#f01010"/>
<line x1="223.4" y1="107.5" x2="231.8" y2="107.5" stroke="#f01010" stroke-width="0.85" />
<line x1="223.4" y1="106" x2="223.4" y2="109" stroke="#f01010" stroke-width="0.85" />
<line x1="231.8" y1="106" x2="231.8" y2="109" stroke="#f01010" stroke-width="0.85" />
<line x1="227.6" y1="110.4" x2="227.6" y2="104.6" stroke="#f01010" stroke-width="0.85" />
<line x1="226.1" y1="110.4" x2="229.1" y2="110.4" stroke="#f01010" stroke-width="0.85" />
<line x1="226.1" y1="104.6" x2="229.1" y2="104.6" stroke="#f01010" stroke-width="0.85" />
<circle cx="227.6" cy="107.5" r="1.1" fill="#f01010"/>
<line x1="225.2" y1="108.1" x2="233.6" y2="108.1" stroke="#f01010" stroke-width="0.85" />
<line x1="225.2" y1="106.6" x2="225.2" y2="109.6" stroke="#f01010" stroke-width="0.85" />
<line x1="233.6" y1="106.6" x2="233.6" y2="109.6" stroke="#f01010" stroke-width="0.85" />
<line x1="229.3" y1="111" x2="229.3" y2="105.3" stroke="#f01010" stroke-width="0.85" />
<line x1="227.8" y1="111" x2="230.8" y2="111" stroke="#f01010" stroke-width="0.85" />
<line x1="227.8" y1="105.3" x2="230.8" y2="105.3" stroke="#f01010" stroke-width="0.85" />
<circle cx="229.3" cy="108.1" r="1.1" fill="#f01010"/>
<line x1="226.9" y1="108.6" x2="235.3" y2="108.6" stroke="#f01010" stroke-width="0.85" />
<line x1="226.9" y1="107.1" x2="226.9" y2="110.1" stroke="#f01010" stroke-width="0.85" />
<line x1="235.3" y1="107.1" x2="235.3" y2="110.1" stroke="#f01010" stroke-width="0.85" />
<line x1="231.1" y1="111.5" x2="231.1" y2="105.8" stroke="#f01010" stroke-width="0.85" />
<line x1="229.6" y1="111.5" x2="232.6" y2="111.5" stroke="#f01010" stroke-width="0.85" />
<line x1="229.6" y1="105.8" x2="232.6" y2="105.8" stroke="#f01010" stroke-width="0.85" />
<circle cx="231.1" cy="108.6" r="1.1" fill="#f01010"/>
<line x1="228.7" y1="109.2" x2="237.1" y2="109.2" stroke="#f01010" stroke-width="0.85" />
<line x1="228.7" y1="107.7" x2="228.7" y2="110.7" stroke="#f01010" stroke-width="0.85" />
<line x1="237.1" y1="107.7" x2="237.1" y2="110.7" stroke="#f01010" stroke-width="0.85" />
<line x1="232.8" y1="112" x2="232.8" y2="106.3" stroke="#f01010" stroke-width="0.85" />
<line x1="231.3" y1="112" x2="234.3" y2="112" stroke="#f01010" stroke-width="0.85" />
<line x1="231.3" y1="106.3" x2="234.3" y2="106.3" stroke="#f01010" stroke-width="0.85" />
<circle cx="232.8" cy="109.2" r="1.1" fill="#f01010"/>
<line x1="230.4" y1="109.7" x2="238.8" y2="109.7" stroke="#f01010" stroke-width="0.85" />
<line x1="230.4" y1="108.2" x2="230.4" y2="111.2" stroke="#f01010" stroke-width="0.85" />
<line x1="238.8" y1="108.2" x2="238.8" y2="111.2" stroke="#f01010" stroke-width="0.85" />
<line x1="234.6" y1="112.6" x2="234.6" y2="106.8" stroke="#f01010" stroke-width="0.85" />
<line x1="233.1" y1="112.6" x2="236.1" y2="112.6" stroke="#f01010" stroke-width="0.85" />
<line x1="233.1" y1="106.8" x2="236.1" y2="106.8" stroke="#f01010" stroke-width="0.85" />
<circle cx="234.6" cy="109.7" r="1.1" fill="#f01010"/>
<line x1="232.2" y1="110.2" x2="240.6" y2="110.2" stroke="#f01010" stroke-width="0.85" />
<line x1="232.2" y1="108.7" x2="232.2" y2="111.7" stroke="#f01010" stroke-width="0.85" />
<line x1="240.6" y1="108.7" x2="240.6" y2="111.7" stroke="#f01010" stroke-width="0.85" />
<line x1="236.3" y1="113.1" x2="236.3" y2="107.4" stroke="#f01010" stroke-width="0.85" />
<line x1="234.8" y1="113.1" x2="237.8" y2="113.1" stroke="#f01010" stroke-width="0.85" />
<line x1="234.8" y1="107.4" x2="237.8" y2="107.4" stroke="#f01010" stroke-width="0.85" />
<circle cx="236.3" cy="110.2" r="1.1" fill="#f01010"/>
<line x1="233.9" y1="110.8" x2="242.3" y2="110.8" stroke="#f01010" stroke-width="0.85" />
<line x1="233.9" y1="109.3" x2="233.9" y2="112.3" stroke="#f01010" stroke-width="0.85" />
<line x1="242.3" y1="109.3" x2="242.3" y2="112.3" stroke="#f01010" stroke-width="0.85" />
<line x1="238.1" y1="113.6" x2="238.1" y2="107.9" stroke="#f01010" stroke-width="0.85" />
<line x1="236.6" y1="113.6" x2="239.6" y2="113.6" stroke="#f01010" stroke-width="0.85" />
<line x1="236.6" y1="107.9" x2="239.6" y2="107.9" stroke="#f01010" stroke-width="0.85" />
<circle cx="238.1" cy="110.8" r="1.1" fill="#f01010"/>
<line x1="235.7" y1="111.3" x2="244.1" y2="111.3" stroke="#f01010" stroke-width="0.85" />
<line x1="235.7" y1="109.8" x2="235.7" y2="112.8" stroke="#f01010" stroke-width="0.85" />
<line x1="244.1" y1="109.8" x2="244.1" y2="112.8" stroke="#f01010" stroke-width="0.85" />
<line x1="239.8" y1="114.1" x2="239.8" y2="108.4" stroke="#f01010" stroke-width="0.85" />
<line x1="238.3" y1="114.1" x2="241.3" y2="114.1" stroke="#f01010" stroke-width="0.85" />
<line x1="238.3" y1="108.4" x2="241.3" y2="108.4" stroke="#f01010" stroke-width="0.85" />
<circle cx="239.8" cy="111.3" r="1.1" fill="#f01010"/>
<line x1="237.4" y1="111.8" x2="245.8" y2="111.8" stroke="#f01010" stroke-width="0.85" />
<line x1="237.4" y1="110.3" x2="237.4" y2="113.3" stroke="#f01010" stroke-width="0.85" />
<line x1="245.8" y1="110.3" x2="245.8" y2="113.3" stroke="#f01010" stroke-width="0.85" />
<line x1="241.6" y1="114.7" x2="241.6" y2="108.9" stroke="#f01010" stroke-width="0.85" />
<line x1="240.1" y1="114.7" x2="243.1" y2="114.7" stroke="#f01010" stroke-width="0.85" />
<line x1="240.1" y1="108.9" x2="243.1" y2="108.9" stroke="#f01010" stroke-width="0.85" />
<circle cx="241.6" cy="111.8" r="1.1" fill="#f01010"/>
<line x1="239.2" y1="112.3" x2="247.6" y2="112.3" stroke="#f01010" stroke-width="0.85" />
<line x1="239.2" y1="110.8" x2="239.2" y2="113.8" stroke="#f01010" stroke-width="0.85" />
<line x1="247.6" y1="110.8" x2="247.6" y2="113.8" stroke="#f01010" stroke-width="0.85" />
<line x1="243.3" y1="115.2" x2="243.3" y2="109.5" stroke="#f01010" stroke-width="0.85" />
<line x1="241.8" y1="115.2" x2="244.8" y2="115.2" stroke="#f01010" stroke-width="0.85" />
<line x1="241.8" y1="109.5" x2="244.8" y2="109.5" stroke="#f01010" stroke-width="0.85" />
<circle cx="243.3" cy="112.3" r="1.1" fill="#f01010"/>
<line x1="240.9" y1="112.9" x2="249.3" y2="112.9" stroke="#f01010" stroke-width="0.85" />
<line x1="240.9" y1="111.4" x2="240.9" y2="114.4" stroke="#f01010" stroke-width="0.85" />
<line x1="249.3" y1="111.4" x2="249.3" y2="114.4" stroke="#f01010" stroke-width="0.85" />
<line x1="245.1" y1="115.7" x2="245.1" y2="110" stroke="#f01010" stroke-width="0.85" />
<line x1="243.6" y1="115.7" x2="246.6" y2="115.7" stroke="#f01010" stroke-width="0.85" />
<line x1="243.6" y1="110" x2="246.6" y2="110" stroke="#f01010" stroke-width="0.85" />
<circle cx="245.1" cy="112.9" r="1.1" fill="#f01010"/>
<line x1="242.7" y1="113.4" x2="251.1" y2="113.4" stroke="#f01010" stroke-width="0.85" />
<line x1="242.7" y1="111.9" x2="242.7" y2="114.9" stroke="#f01010" stroke-width="0.85" />
<line x1="251.1" y1="111.9" x2="251.1" y2="114.9" stroke="#f01010" stroke-width="0.85" />
<line x1="246.8" y1="116.3" x2="246.8" y2="110.5" stroke="#f01010" stroke-width="0.85" />
<line x1="245.3" y1="116.3" x2="248.3" y2="116.3" stroke="#f01010" stroke-width="0.85" />
<line x1="245.3" y1="110.5" x2="248.3" y2="110.5" stroke="#f01010" stroke-width="0.85" />
<circle cx="246.8" cy="113.4" r="1.1" fill="#f01010"/>
<line x1="244.4" y1="113.9" x2="252.8" y2="113.9" stroke="#f01010" stroke-width="0.85" />
<line x1="244.4" y1="112.4" x2="244.4" y2="115.4" stroke="#f01010" stroke-width="0.85" />
<line x1="252.8" y1="112.4" x2="252.8" y2="115.4" stroke="#f01010" stroke-width="0.85" />
<line x1="248.6" y1="116.8" x2="248.6" y2="111.1" stroke="#f01010" stroke-width="0.85" />
<line x1="247.1" y1="116.8" x2="250.1" y2="116.8" stroke="#f01010" stroke-width="0.85" />
<line x1="247.1" y1="111.1" x2="250.1" y2="111.1" stroke="#f01010" stroke-width="0.85" />
<circle cx="248.6" cy="113.9" r="1.1" fill="#f01010"/>
<line x1="246.2" y1="114.4" x2="254.6" y2="114.4" stroke="#f01010" stroke-width="0.85" />
<line x1="246.2" y1="112.9" x2="246.2" y2="115.9" stroke="#f01010" stroke-width="0.85" />
<line x1="254.6" y1="112.9" x2="254.6" y2="115.9" stroke="#f01010" stroke-width="0.85" />
<line x1="250.3" y1="117.3" x2="250.3" y2="111.6" stroke="#f01010" stroke-width="0.85" />
<line x1="248.8" y1="117.3" x2="251.8" y2="117.3" stroke="#f01010" stroke-width="0.85" />
<line x1="248.8" y1="111.6" x2="251.8" y2="111.6" stroke="#f01010" stroke-width="0.85" />
<circle cx="250.3" cy="114.4" r="1.1" fill="#f01010"/>
<line x1="247.9" y1="115" x2="256.3" y2="115" stroke="#f01010" stroke-width="0.85" />
<line x1="247.9" y1="113.5" x2="247.9" y2="116.5" stroke="#f01010" stroke-width="0.85" />
<line x1="256.3" y1="113.5" x2="256.3" y2="116.5" stroke="#f01010" stroke-width="0.85" />
<line x1="252.1" y1="117.8" x2="252.1" y2="112.1" stroke="#f01010" stroke-width="0.85" />
<line x1="250.6" y1="117.8" x2="253.6" y2="117.8" stroke="#f01010" stroke-width="0.85" />
<line x1="250.6" y1="112.1" x2="253.6" y2="112.1" stroke="#f01010" stroke-width="0.85" />
<circle cx="252.1" cy="115" r="1.1" fill="#f01010"/>
<line x1="249.7" y1="115.5" x2="258.1" y2="115.5" stroke="#f01010" stroke-width="0.85" />
<line x1="249.7" y1="114" x2="249.7" y2="117" stroke="#f01010" stroke-width="0.85" />
<line x1="258.1" y1="114" x2="258.1" y2="117" stroke="#f01010" stroke-width="0.85" />
<line x1="253.8" y1="118.4" x2="253.8" y2="112.6" stroke="#f01010" stroke-width="0.85" />
<line x1="252.3" y1="118.4" x2="255.3" y2="118.4" stroke="#f01010" stroke-width="0.85" />
<line x1="252.3" y1="112.6" x2="255.3" y2="112.6" stroke="#f01010" stroke-width="0.85" />
<circle cx="253.8" cy="115.5" r="1.1" fill="#f01010"/>
<line x1="251.4" y1="116" x2="259.8" y2="116" stroke="#f01010" stroke-width="0.85" />
<line x1="251.4" y1="114.5" x2="251.4" y2="117.5" stroke="#f01010" stroke-width="0.85" />
<line x1="259.8" y1="114.5" x2="259.8" y2="117.5" stroke="#f01010" stroke-width="0.85" />
<line x1="255.6" y1="118.9" x2="255.6" y2="113.2" stroke="#f01010" stroke-width="0.85" />
<line x1="254.1" y1="118.9" x2="257.1" y2="118.9" stroke="#f01010" stroke-width="0.85" />
<line x1="254.1" y1="113.2" x2="257.1" y2="113.2" stroke="#f01010" stroke-width="0.85" />
<circle cx="255.6" cy="116" r="1.1" fill="#f01010"/>
<line x1="253.2" y1="116.6" x2="261.6" y2="116.6" stroke="#f01010" stroke-width="0.85" />
<line x1="253.2" y1="115.1" x2="253.2" y2="118.1" stroke="#f01010" stroke-width="0.85" />
<line x1="261.6" y1="115.1" x2="261.6" y2="118.1" stroke="#f01010" stroke-width="0.85" />
<line x1="257.4" y1="119.4" x2="257.4" y2="113.7" stroke="#f01010" stroke-width="0.85" />
<line x1="255.9" y1="119.4" x2="258.9" y2="119.4" stroke="#f01010" stroke-width="0.85" />
<line x1="255.9" y1="113.7" x2="258.9" y2="113.7" stroke="#f01010" stroke-width="0.85" />
<circle cx="257.4" cy="116.6" r="1.1" fill="#f01010"/>
<line x1="254.9" y1="117.1" x2="263.3" y2="117.1" stroke="#f01010" stroke-width="0.85" />
<line x1="254.9" y1="115.6" x2="254.9" y2="118.6" stroke="#f01010" stroke-width="0.85" />
<line x1="263.3" y1="115.6" x2="263.3" y2="118.6" stroke="#f01010" stroke-width="0.85" />
<line x1="259.1" y1="119.9" x2="259.1" y2="114.2" stroke="#f01010" stroke-width="0.85" />
<line x1="257.6" y1="119.9" x2="260.6" y2="119.9" stroke="#f01010" stroke-width="0.85" />
<line x1="257.6" y1="114.2" x2="260.6" y2="114.2" stroke="#f01010" stroke-width="0.85" />
<circle cx="259.1" cy="117.1" r="1.1" fill="#f01010"/>
<line x1="256.6" y1="117.6" x2="265.1" y2="117.6" stroke="#f01010" stroke-width="0.85" />
<line x1="256.6" y1="116.1" x2="256.6" y2="119.1" stroke="#f01010" stroke-width="0.85" />
<line x1="265.1" y1="116.1" x2="265.1" y2="119.1" stroke="#f01010" stroke-width="0.85" />
<line x1="260.9" y1="120.5" x2="260.9" y2="114.7" stroke="#f01010" stroke-width="0.85" />
<line x1="259.4" y1="120.5" x2="262.4" y2="120.5" stroke="#f01010" stroke-width="0.85" />
<line x1="259.4" y1="114.7" x2="262.4" y2="114.7" stroke="#f01010" stroke-width="0.85" />
<circle cx="260.9" cy="117.6" r="1.1" fill="#f01010"/>
<line x1="258.4" y1="118.1" x2="266.8" y2="118.1" stroke="#f01010" stroke-width="0.85" />
<line x1="258.4" y1="116.6" x2="258.4" y2="119.6" stroke="#f01010" stroke-width="0.85" />
<line x1="266.8" y1="116.6" x2="266.8" y2="119.6" stroke="#f01010" stroke-width="0.85" />
<line x1="262.6" y1="121" x2="262.6" y2="115.3" stroke="#f01010" stroke-width="0.85" />
<line x1="261.1" y1="121" x2="264.1" y2="121" stroke="#f01010" stroke-width="0.85" />
<line x1="261.1" y1="115.3" x2="264.1" y2="115.3" stroke="#f01010" stroke-width="0.85" />
<circle cx="262.6" cy="118.1" r="1.1" fill="#f01010"/>
<line x1="260.1" y1="118.7" x2="268.6" y2="118.7" stroke="#f01010" stroke-width="0.85" />
<line x1="260.1" y1="117.2" x2="260.1" y2="120.2" stroke="#f01010" stroke-width="0.85" />
<line x1="268.6" y1="117.2" x2="268.6" y2="120.2" stroke="#f01010" stroke-width="0.85" />
<line x1="264.4" y1="121.5" x2="264.4" y2="115.8" stroke="#f01010" stroke-width="0.85" />
<line x1="262.9" y1="121.5" x2="265.9" y2="121.5" stroke="#f01010" stroke-width="0.85" />
<line x1="262.9" y1="115.8" x2="265.9" y2="115.8" stroke="#f01010" stroke-width="0.85" />
<circle cx="264.4" cy="118.7" r="1.1" fill="#f01010"/>
<line x1="261.9" y1="119.2" x2="270.3" y2="119.2" stroke="#f01010" stroke-width="0.85" />
<line x1="261.9" y1="117.7" x2="261.9" y2="120.7" stroke="#f01010" stroke-width="0.85" />
<line x1="270.3" y1="117.7" x2="270.3" y2="120.7" stroke="#f01010" stroke-width="0.85" />
<line x1="266.1" y1="122" x2="266.1" y2="116.3" stroke="#f01010" stroke-width="0.85" />
<line x1="264.6" y1="122" x2="267.6" y2="122" stroke="#f01010" stroke-width="0.85" />
<line x1="264.6" y1="116.3" x2="267.6" y2="116.3" stroke="#f01010" stroke-width="0.85" />
<circle cx="266.1" cy="119.2" r="1.1" fill="#f01010"/>
<line x1="263.6" y1="119.7" x2="272.1" y2="119.7" stroke="#f01010" stroke-width="0.85" />
<line x1="263.6" y1="118.2" x2="263.6" y2="121.2" stroke="#f01010" stroke-width="0.85" />
<line x1="272.1" y1="118.2" x2="272.1" y2="121.2" stroke="#f01010" stroke-width="0.85" />
<line x1="267.9" y1="122.6" x2="267.9" y2="116.9" stroke="#f01010" stroke-width="0.85" />
<line x1="266.4" y1="122.6" x2="269.4" y2="122.6" stroke="#f01010" stroke-width="0.85" />
<line x1="266.4" y1="116.9" x2="269.4" y2="116.9" stroke="#f01010" stroke-width="0.85" />
<circle cx="267.9" cy="119.7" r="1.1" fill="#f01010"/>
<line x1="265.4" y1="120.3" x2="273.8" y2="120.3" stroke="#f01010" stroke-width="0.85" />
<line x1="265.4" y1="118.8" x2="265.4" y2="121.8" stroke="#f01010" stroke-width="0.85" />
<line x1="273.8" y1="118.8" x2="273.8" y2="121.8" stroke="#f01010" stroke-width="0.85" />
<line x1="269.6" y1="123.1" x2="269.6" y2="117.4" stroke="#f01010" stroke-width="0.85" />
<line x1="268.1" y1="123.1" x2="271.1" y2="123.1" stroke="#f01010" stroke-width="0.85" />
<line x1="268.1" y1="117.4" x2="271.1" y2="117.4" stroke="#f01010" stroke-width="0.85" />
<circle cx="269.6" cy="120.3" r="1.1" fill="#f01010"/>
<line x1="267.1" y1="120.9" x2="275.6" y2="120.9" stroke="#f01010" stroke-width="0.85" />
<line x1="267.1" y1="119.4" x2="267.1" y2="122.4" stroke="#f01010" stroke-width="0.85" />
<line x1="275.6" y1="119.4" x2="275.6" y2="122.4" stroke="#f01010" stroke-width="0.85" />
<line x1="271.4" y1="123.7" x2="271.4" y2="118" stroke="#f01010" stroke-width="0.85" />
<line x1="269.9" y1="123.7" x2="272.9" y2="123.7" stroke="#f01010" stroke-width="0.85" />
<line x1="269.9" y1="118" x2="272.9" y2="118" stroke="#f01010" stroke-width="0.85" />
<circle cx="271.4" cy="120.9" r="1.1" fill="#f01010"/>
<line x1="268.9" y1="121.5" x2="277.3" y2="121.5" stroke="#f01010" stroke-width="0.85" />
<line x1="268.9" y1="120" x2="268.9" y2="123" stroke="#f01010" stroke-width="0.85" />
<line x1="277.3" y1="120" x2="277.3" y2="123" stroke="#f01010" stroke-width="0.85" />
<line x1="273.1" y1="124.3" x2="273.1" y2="118.6" stroke="#f01010" stroke-width="0.85" />
<line x1="271.6" y1="124.3" x2="274.6" y2="124.3" stroke="#f01010" stroke-width="0.85" />
<line x1="271.6" y1="118.6" x2="274.6" y2="118.6" stroke="#f01010" stroke-width="0.85" />
<circle cx="273.1" cy="121.5" r="1.1" fill="#f01010"/>
<line x1="270.6" y1="122" x2="279.1" y2="122" stroke="#f01010" stroke-width="0.85" />
<line x1="270.6" y1="120.5" x2="270.6" y2="123.5" stroke="#f01010" stroke-width="0.85" />
<line x1="279.1" y1="120.5" x2="279.1" y2="123.5" stroke="#f01010" stroke-width="0.85" />
<line x1="274.9" y1="124.9" x2="274.9" y2="119.2" stroke="#f01010" stroke-width="0.85" />
<line x1="273.4" y1="124.9" x2="276.4" y2="124.9" stroke="#f01010" stroke-width="0.85" />
<line x1="273.4" y1="119.2" x2="276.4" y2="119.2" stroke="#f01010" stroke-width="0.85" />
<circle cx="274.9" cy="122" r="1.1" fill="#f01010"/>
<line x1="272.4" y1="122.6" x2="280.8" y2="122.6" stroke="#f01010" stroke-width="0.85" />
<line x1="272.4" y1="121.1" x2="272.4" y2="124.1" stroke="#f01010" stroke-width="0.85" />
<line x1="280.8" y1="121.1" x2="280.8" y2="124.1" stroke="#f01010" stroke-width="0.85" />
<line x1="276.6" y1="125.5" x2="276.6" y2="119.8" stroke="#f01010" stroke-width="0.85" />
<line x1="275.1" y1="125.5" x2="278.1" y2="125.5" stroke="#f01010" stroke-width="0.85" />
<line x1="275.1" y1="119.8" x2="278.1" y2="119.8" stroke="#f01010" stroke-width="0.85" />
<circle cx="276.6" cy="122.6" r="1.1" fill="#f01010"/>
<line x1="274.1" y1="123.2" x2="282.6" y2="123.2" stroke="#f01010" stroke-width="0.85" />
<line x1="274.1" y1="121.7" x2="274.1" y2="124.7" stroke="#f01010" stroke-width="0.85" />
<line x1="282.6" y1="121.7" x2="282.6" y2="124.7" stroke="#f01010" stroke-width="0.85" />
<line x1="278.4" y1="126.1" x2="278.4" y2="120.4" stroke="#f01010" stroke-width="0.85" />
<line x1="276.9" y1="126.1" x2="279.9" y2="126.1" stroke="#f01010" stroke-width="0.85" />
<line x1="276.9" y1="120.4" x2="279.9" y2="120.4" stroke="#f01010" stroke-width="0.85" />
<circle cx="278.4" cy="123.2" r="1.1" fill="#f01010"/>
<line x1="275.9" y1="123.8" x2="284.3" y2="123.8" stroke="#f01010" stroke-width="0.85" />
<line x1="275.9" y1="122.3" x2="275.9" y2="125.3" stroke="#f01010" stroke-width="0.85" />
<line x1="284.3" y1="122.3" x2="284.3" y2="125.3" stroke="#f01010" stroke-width="0.85" />
<line x1="280.1" y1="126.7" x2="280.1" y2="121" stroke="#f01010" stroke-width="0.85" />
<line x1="278.6" y1="126.7" x2="281.6" y2="126.7" stroke="#f01010" stroke-width="0.85" />
<line x1="278.6" y1="121" x2="281.6" y2="121" stroke="#f01010" stroke-width="0.85" />
<circle cx="280.1" cy="123.8" r="1.1" fill="#f01010"/>
<line x1="277.6" y1="124.4" x2="286.1" y2="124.4" stroke="#f01010" stroke-width="0.85" />
<line x1="277.6" y1="122.9" x2="277.6" y2="125.9" stroke="#f01010" stroke-width="0.85" />
<line x1="286.1" y1="122.9" x2="286.1" y2="125.9" stroke="#f01010" stroke-width="0.85" />
<line x1="281.9" y1="127.3" x2="281.9" y2="121.6" stroke="#f01010" stroke-width="0.85" />
<line x1="280.4" y1="127.3" x2="283.4" y2="127.3" stroke="#f01010" stroke-width="0.85" />
<line x1="280.4" y1="121.6" x2="283.4" y2="121.6" stroke="#f01010" stroke-width="0.85" />
<circle cx="281.9" cy="124.4" r="1.1" fill="#f01010"/>
<line x1="279.4" y1="125" x2="287.8" y2="125" stroke="#f01010" stroke-width="0.85" />
<line x1="279.4" y1="123.5" x2="279.4" y2="126.5" stroke="#f01010" stroke-width="0.85" />
<line x1="287.8" y1="123.5" x2="287.8" y2="126.5" stroke="#f01010" stroke-width="0.85" />
<line x1="283.6" y1="127.9" x2="283.6" y2="122.1" stroke="#f01010" stroke-width="0.85" />
<line x1="282.1" y1="127.9" x2="285.1" y2="127.9" stroke="#f01010" stroke-width="0.85" />
<line x1="282.1" y1="122.1" x2="285.1" y2="122.1" stroke="#f01010" stroke-width="0.85" />
<circle cx="283.6" cy="125" r="1.1" fill="#f01010"/>
<line x1="281.1" y1="125.6" x2="289.5" y2="125.6" stroke="#f01010" stroke-width="0.85" />
<line x1="281.1" y1="124.1" x2="281.1" y2="127.1" stroke="#f01010" stroke-width="0.85" />
<line x1="289.5" y1="124.1" x2="289.5" y2="127.1" stroke="#f01010" stroke-width="0.85" />
<line x1="285.4" y1="128.5" x2="285.4" y2="122.7" stroke="#f01010" stroke-width="0.85" />
<line x1="283.9" y1="128.5" x2="286.9" y2="128.5" stroke="#f01010" stroke-width="0.85" />
<line x1="283.9" y1="122.7" x2="286.9" y2="122.7" stroke="#f01010" stroke-width="0.85" />
<circle cx="285.4" cy="125.6" r="1.1" fill="#f01010"/>
<line x1="282.9" y1="126.2" x2="291.3" y2="126.2" stroke="#f01010" stroke-width="0.85" />
<line x1="282.9" y1="124.7" x2="282.9" y2="127.7" stroke="#f01010" stroke-width="0.85" />
<line x1="291.3" y1="124.7" x2="291.3" y2="127.7" stroke="#f01010" stroke-width="0.85" />
<line x1="287.1" y1="129" x2="287.1" y2="123.3" stroke="#f01010" stroke-width="0.85" />
<line x1="285.6" y1="129" x2="288.6" y2="129" stroke="#f01010" stroke-width="0.85" />
<line x1="285.6" y1="123.3" x2="288.6" y2="123.3" stroke="#f01010" stroke-width="0.85" />
<circle cx="287.1" cy="126.2" r="1.1" fill="#f01010"/>
<line x1="284.6" y1="126.8" x2="293" y2="126.8" stroke="#f01010" stroke-width="0.85" />
<line x1="284.6" y1="125.3" x2="284.6" y2="128.3" stroke="#f01010" stroke-width="0.85" />
<line x1="293" y1="125.3" x2="293" y2="128.3" stroke="#f01010" stroke-width="0.85" />
<line x1="288.8" y1="129.6" x2="288.8" y2="123.9" stroke="#f01010" stroke-width="0.85" />
<line x1="287.3" y1="129.6" x2="290.3" y2="129.6" stroke="#f01010" stroke-width="0.85" />
<line x1="287.3" y1="123.9" x2="290.3" y2="123.9" stroke="#f01010" stroke-width="0.85" />
<circle cx="288.8" cy="126.8" r="1.1" fill="#f01010"/>
<line x1="286.4" y1="127.4" x2="294.8" y2="127.4" stroke="#f01010" stroke-width="0.85" />
<line x1="286.4" y1="125.9" x2="286.4" y2="128.9" stroke="#f01010" stroke-width="0.85" />
<line x1="294.8" y1="125.9" x2="294.8" y2="128.9" stroke="#f01010" stroke-width="0.85" />
<line x1="290.6" y1="130.2" x2="290.6" y2="124.5" stroke="#f01010" stroke-width="0.85" />
<line x1="289.1" y1="130.2" x2="292.1" y2="130.2" stroke="#f01010" stroke-width="0.85" />
<line x1="289.1" y1="124.5" x2="292.1" y2="124.5" stroke="#f01010" stroke-width="0.85" />
<circle cx="290.6" cy="127.4" r="1.1" fill="#f01010"/>
<line x1="288.1" y1="128" x2="296.5" y2="128" stroke="#f01010" stroke-width="0.85" />
<line x1="288.1" y1="126.5" x2="288.1" y2="129.5" stroke="#f01010" stroke-width="0.85" />
<line x1="296.5" y1="126.5" x2="296.5" y2="129.5" stroke="#f01010" stroke-width="0.85" />
<line x1="292.3" y1="130.9" x2="292.3" y2="125.1" stroke="#f01010" stroke-width="0.85" />
<line x1="290.8" y1="130.9" x2="293.8" y2="130.9" stroke="#f01010" stroke-width="0.85" />
<line x1="290.8" y1="125.1" x2="293.8" y2="125.1" stroke="#f01010" stroke-width="0.85" />
<circle cx="292.3" cy="128" r="1.1" fill="#f01010"/>
<line x1="289.9" y1="128.6" x2="298.3" y2="128.6" stroke="#f01010" stroke-width="0.85" />
<line x1="289.9" y1="127.1" x2="289.9" y2="130.1" stroke="#f01010" stroke-width="0.85" />
<line x1="298.3" y1="127.1" x2="298.3" y2="130.1" stroke="#f01010" stroke-width="0.85" />
<line x1="294.1" y1="131.5" x2="294.1" y2="125.7" stroke="#f01010" stroke-width="0.85" />
<line x1="292.6" y1="131.5" x2="295.6" y2="131.5" stroke="#f01010" stroke-width="0.85" />
<line x1="292.6" y1="125.7" x2="295.6" y2="125.7" stroke="#f01010" stroke-width="0.85" />
<circle cx="294.1" cy="128.6" r="1.1" fill="#f01010"/>
<line x1="291.6" y1="129.2" x2="300" y2="129.2" stroke="#f01010" stroke-width="0.85" />
<line x1="291.6" y1="127.7" x2="291.6" y2="130.7" stroke="#f01010" stroke-width="0.85" />
<line x1="300" y1="127.7" x2="300" y2="130.7" stroke="#f01010" stroke-width="0.85" />
<line x1="295.8" y1="132.1" x2="295.8" y2="126.3" stroke="#f01010" stroke-width="0.85" />
<line x1="294.3" y1="132.1" x2="297.3" y2="132.1" stroke="#f01010" stroke-width="0.85" />
<line x1="294.3" y1="126.3" x2="297.3" y2="126.3" stroke="#f01010" stroke-width="0.85" />
<circle cx="295.8" cy="129.2" r="1.1" fill="#f01010"/>
<line x1="293.4" y1="129.8" x2="301.8" y2="129.8" stroke="#f01010" stroke-width="0.85" />
<line x1="293.4" y1="128.3" x2="293.4" y2="131.3" stroke="#f01010" stroke-width="0.85" />
<line x1="301.8" y1="128.3" x2="301.8" y2="131.3" stroke="#f01010" stroke-width="0.85" />
<line x1="297.6" y1="132.7" x2="297.6" y2="127" stroke="#f01010" stroke-width="0.85" />
<line x1="296.1" y1="132.7" x2="299.1" y2="132.7" stroke="#f01010" stroke-width="0.85" />
<line x1="296.1" y1="127" x2="299.1" y2="127" stroke="#f01010" stroke-width="0.85" />
<circle cx="297.6" cy="129.8" r="1.1" fill="#f01010"/>
<line x1="295.1" y1="130.8" x2="303.5" y2="130.8" stroke="#f01010" stroke-width="0.85" />
<line x1="295.1" y1="129.3" x2="295.1" y2="132.3" stroke="#f01010" stroke-width="0.85" />
<line x1="303.5" y1="129.3" x2="303.5" y2="132.3" stroke="#f01010" stroke-width="0.85" />
<line x1="299.3" y1="133.6" x2="299.3" y2="127.9" stroke="#f01010" stroke-width="0.85" />
<line x1="297.8" y1="133.6" x2="300.8" y2="133.6" stroke="#f01010" stroke-width="0.85" />
<line x1="297.8" y1="127.9" x2="300.8" y2="127.9" stroke="#f01010" stroke-width="0.85" />
<circle cx="299.3" cy="130.8" r="1.1" fill="#f01010"/>
<line x1="296.9" y1="131.8" x2="305.3" y2="131.8" stroke="#f01010" stroke-width="0.85" />
<line x1="296.9" y1="130.3" x2="296.9" y2="133.3" stroke="#f01010" stroke-width="0.85" />
<line x1="305.3" y1="130.3" x2="305.3" y2="133.3" stroke="#f01010" stroke-width="0.85" />
<line x1="301.1" y1="134.7" x2="301.1" y2="129" stroke="#f01010" stroke-width="0.85" />
<line x1="299.6" y1="134.7" x2="302.6" y2="134.7" stroke="#f01010" stroke-width="0.85" />
<line x1="299.6" y1="129" x2="302.6" y2="129" stroke="#f01010" stroke-width="0.85" />
<circle cx="301.1" cy="131.8" r="1.1" fill="#f01010"/>
<line x1="298.6" y1="132.9" x2="307" y2="132.9" stroke="#f01010" stroke-width="0.85" />
<line x1="298.6" y1="131.4" x2="298.6" y2="134.4" stroke="#f01010" stroke-width="0.85" />
<line x1="307" y1="131.4" x2="307" y2="134.4" stroke="#f01010" stroke-width="0.85" />
<line x1="302.8" y1="135.7" x2="302.8" y2="130" stroke="#f01010" stroke-width="0.85" />
<line x1="301.3" y1="135.7" x2="304.3" y2="135.7" stroke="#f01010" stroke-width="0.85" />
<line x1="301.3" y1="130" x2="304.3" y2="130" stroke="#f01010" stroke-width="0.85" />
<circle cx="302.8" cy="132.9" r="1.1" fill="#f01010"/>
<line x1="300.4" y1="134.1" x2="308.8" y2="134.1" stroke="#f01010" stroke-width="0.85" />
<line x1="300.4" y1="132.6" x2="300.4" y2="135.6" stroke="#f01010" stroke-width="0.85" />
<line x1="308.8" y1="132.6" x2="308.8" y2="135.6" stroke="#f01010" stroke-width="0.85" />
<line x1="304.6" y1="136.9" x2="304.6" y2="131.2" stroke="#f01010" stroke-width="0.85" />
<line x1="303.1" y1="136.9" x2="306.1" y2="136.9" stroke="#f01010" stroke-width="0.85" />
<line x1="303.1" y1="131.2" x2="306.1" y2="131.2" stroke="#f01010" stroke-width="0.85" />
<circle cx="304.6" cy="134.1" r="1.1" fill="#f01010"/>
<line x1="302.1" y1="136.1" x2="310.5" y2="136.1" stroke="#f01010" stroke-width="0.85" />
<line x1="302.1" y1="134.6" x2="302.1" y2="137.6" stroke="#f01010" stroke-width="0.85" />
<line x1="310.5" y1="134.6" x2="310.5" y2="137.6" stroke="#f01010" stroke-width="0.85" />
<line x1="306.3" y1="138.9" x2="306.3" y2="133.2" stroke="#f01010" stroke-width="0.85" />
<line x1="304.8" y1="138.9" x2="307.8" y2="138.9" stroke="#f01010" stroke-width="0.85" />
<line x1="304.8" y1="133.2" x2="307.8" y2="133.2" stroke="#f01010" stroke-width="0.85" />
<circle cx="306.3" cy="136.1" r="1.1" fill="#f01010"/>
<line x1="303.9" y1="138.2" x2="312.3" y2="138.2" stroke="#f01010" stroke-width="0.85" />
<line x1="303.9" y1="136.7" x2="303.9" y2="139.7" stroke="#f01010" stroke-width="0.85" />
<line x1="312.3" y1="136.7" x2="312.3" y2="139.7" stroke="#f01010" stroke-width="0.85" />
<line x1="308.1" y1="141.1" x2="308.1" y2="135.4" stroke="#f01010" stroke-width="0.85" />
<line x1="306.6" y1="141.1" x2="309.6" y2="141.1" stroke="#f01010" stroke-width="0.85" />
<line x1="306.6" y1="135.4" x2="309.6" y2="135.4" stroke="#f01010" stroke-width="0.85" />
<circle cx="308.1" cy="138.2" r="1.1" fill="#f01010"/>
<line x1="64.5" y1="212.7" x2="69" y2="212.7" stroke="#3a3a3a" stroke-width="1.3" />
<line x1="315.2" y1="212.7" x2="310.7" y2="212.7" stroke="#3a3a3a" stroke-width="1.3" />
<line x1="64.5" y1="177" x2="69" y2="177" stroke="#3a3a3a" stroke-width="1.3" />
<line x1="315.2" y1="177" x2="310.7" y2="177" stroke="#3a3a3a" stroke-width="1.3" />
<line x1="64.5" y1="141.2" x2="69" y2="141.2" stroke="#3a3a3a" stroke-width="1.3" />
<line x1="315.2" y1="141.2" x2="310.7" y2="141.2" stroke="#3a3a3a" stroke-width="1.3" />
<line x1="64.5" y1="105.4" x2="69" y2="105.4" stroke="#3a3a3a" stroke-width="1.3" />
<line x1="315.2" y1="105.4" x2="310.7" y2="105.4" stroke="#3a3a3a" stroke-width="1.3" />
<line x1="64.5" y1="69.7" x2="69" y2="69.7" stroke="#3a3a3a" stroke-width="1.3" />
<line x1="315.2" y1="69.7" x2="310.7" y2="69.7" stroke="#3a3a3a" stroke-width="1.3" />
<line x1="64.5" y1="33.9" x2="69" y2="33.9" stroke="#3a3a3a" stroke-width="1.3" />
<line x1="315.2" y1="33.9" x2="310.7" y2="33.9" stroke="#3a3a3a" stroke-width="1.3" />
<line x1="64.5" y1="230.6" x2="72.5" y2="230.6" stroke="#3a3a3a" stroke-width="1.3" />
<line x1="315.2" y1="230.6" x2="307.2" y2="230.6" stroke="#3a3a3a" stroke-width="1.3" />
<line x1="64.5" y1="194.8" x2="72.5" y2="194.8" stroke="#3a3a3a" stroke-width="1.3" />
<line x1="315.2" y1="194.8" x2="307.2" y2="194.8" stroke="#3a3a3a" stroke-width="1.3" />
<line x1="64.5" y1="159.1" x2="72.5" y2="159.1" stroke="#3a3a3a" stroke-width="1.3" />
<line x1="315.2" y1="159.1" x2="307.2" y2="159.1" stroke="#3a3a3a" stroke-width="1.3" />
<line x1="64.5" y1="123.3" x2="72.5" y2="123.3" stroke="#3a3a3a" stroke-width="1.3" />
<line x1="315.2" y1="123.3" x2="307.2" y2="123.3" stroke="#3a3a3a" stroke-width="1.3" />
<line x1="64.5" y1="87.6" x2="72.5" y2="87.6" stroke="#3a3a3a" stroke-width="1.3" />
<line x1="315.2" y1="87.6" x2="307.2" y2="87.6" stroke="#3a3a3a" stroke-width="1.3" />
<line x1="64.5" y1="51.8" x2="72.5" y2="51.8" stroke="#3a3a3a" stroke-width="1.3" />
<line x1="315.2" y1="51.8" x2="307.2" y2="51.8" stroke="#3a3a3a" stroke-width="1.3" />
<line x1="99.5" y1="230.6" x2="99.5" y2="226.1" stroke="#3a3a3a" stroke-width="1.3" />
<line x1="99.5" y1="30.3" x2="99.5" y2="34.8" stroke="#3a3a3a" stroke-width="1.3" />
<line x1="169.5" y1="230.6" x2="169.5" y2="226.1" stroke="#3a3a3a" stroke-width="1.3" />
<line x1="169.5" y1="30.3" x2="169.5" y2="34.8" stroke="#3a3a3a" stroke-width="1.3" />
<line x1="239.5" y1="230.6" x2="239.5" y2="226.1" stroke="#3a3a3a" stroke-width="1.3" />
<line x1="239.5" y1="30.3" x2="239.5" y2="34.8" stroke="#3a3a3a" stroke-width="1.3" />
<line x1="309.5" y1="230.6" x2="309.5" y2="226.1" stroke="#3a3a3a" stroke-width="1.3" />
<line x1="309.5" y1="30.3" x2="309.5" y2="34.8" stroke="#3a3a3a" stroke-width="1.3" />
<line x1="64.5" y1="230.6" x2="64.5" y2="222.6" stroke="#3a3a3a" stroke-width="1.3" />
<line x1="64.5" y1="30.3" x2="64.5" y2="38.3" stroke="#3a3a3a" stroke-width="1.3" />
<line x1="134.5" y1="230.6" x2="134.5" y2="222.6" stroke="#3a3a3a" stroke-width="1.3" />
<line x1="134.5" y1="30.3" x2="134.5" y2="38.3" stroke="#3a3a3a" stroke-width="1.3" />
<line x1="204.5" y1="230.6" x2="204.5" y2="222.6" stroke="#3a3a3a" stroke-width="1.3" />
<line x1="204.5" y1="30.3" x2="204.5" y2="38.3" stroke="#3a3a3a" stroke-width="1.3" />
<line x1="274.5" y1="230.6" x2="274.5" y2="222.6" stroke="#3a3a3a" stroke-width="1.3" />
<line x1="274.5" y1="30.3" x2="274.5" y2="38.3" stroke="#3a3a3a" stroke-width="1.3" />
<rect x="64.5" y="30.3" width="250.7" height="200.3" fill="none" stroke="#3a3a3a" stroke-width="1.3"/>
<text x="54.6" y="237.7" text-anchor="end" class="t">0</text>
<text x="54.6" y="201.9" text-anchor="end" class="t">20</text>
<text x="54.6" y="166.2" text-anchor="end" class="t">40</text>
<text x="54.6" y="130.4" text-anchor="end" class="t">60</text>
<text x="54.6" y="94.7" text-anchor="end" class="t">80</text>
<text x="54.6" y="58.9" text-anchor="end" class="t">100</text>
<text x="64.5" y="254.3" text-anchor="middle" class="t">0</text>
<text x="134.5" y="254.3" text-anchor="middle" class="t">20</text>
<text x="204.5" y="254.3" text-anchor="middle" class="t">40</text>
<text x="274.5" y="254.3" text-anchor="middle" class="t">60</text>
<polyline points="465.5,216 465.9,213.6 466.2,211.3 466.6,203.5 466.9,195.6 467.2,187.8 467.6,180 467.9,166.9 468.3,153.8 468.6,140.8 469,133.5 469.3,126.2 469.7,118.8 470,111.5 470.4,104.2 470.7,96.9 471.1,92.5 471.4,88 471.8,83.6 472.1,79.1 472.5,74.7 472.8,70.3 473.2,67.5 473.5,64.8 473.9,62 474.2,59.3 474.6,56.6 474.9,53.8 475.3,52.8 475.6,51.7 476,50.7 476.3,49.6 476.7,48.6 477,47.5 477.4,46.4 477.7,47.5 478.1,48.6 478.4,49.7 478.8,50.8 479.1,51.9 479.5,53 479.8,55.6 480.2,58.3 480.5,60.9 480.9,63.5 481.2,66.1 481.6,68.7 481.9,71.5 482.3,74.3 482.6,77 483,79.8 483.3,82.6 483.7,85.4 484,88.2 484.3,90.9 484.7,93.5 485,96.1 485.4,98.7 485.7,101.3 486.1,103.9 486.4,106.5 486.8,109 487.1,111.6 487.5,114.2 487.8,116.8 488.2,119.4 488.5,122 488.9,123.4 489.2,124.8 489.6,126.2 489.9,127.6 490.3,129 490.6,130.4 491,131.8 491.3,133.3 491.7,134.7 492,136.1 492.4,137.5 492.7,142.2 493.1,147 493.4,151.7 493.8,156.5 494.1,158.1 494.5,159.7 494.8,161.3 495.2,163 495.5,164.6 495.9,166.2 496.2,167.9 496.6,169.5 496.9,171.1 497.3,172.7 497.6,174.1 498,175.5 498.3,176.8 498.7,178.2 499,179.5 499.4,180.9 499.7,182.3 500.1,183.6 500.4,185 500.8,186.3 501.1,187.7 501.5,189 501.8,190.4 502.1,191.8 502.5,193.1 502.8,194.5 503.2,195.8 503.5,197.2 503.9,198 504.2,198.9 504.6,199.7 504.9,200.5 505.3,201.4 505.6,202.2 506,203 506.3,203.9 506.7,204.7 507,205.5 507.4,206.4 507.7,207.2 508.1,208 508.4,208.9 508.8,209.7 509.1,210.5 509.5,211.4 509.8,212.2 510.2,213 510.5,213.9 510.9,214.7 511.2,215.5 511.6,216 511.9,216.4 512.3,216.8 512.6,217.2 513,217.7 513.3,218.1 513.7,218.5 514,219 514.4,219.4 514.7,219.8 515.1,220.2 515.4,220.7 515.8,221.1 516.1,221.5 516.5,222 516.8,222.4 517.2,222.8 517.5,223.3 517.9,223.7 518.2,224.1 518.6,224.5 518.9,225 519.3,225.4 519.6,225.5 519.9,225.6 520.3,225.7 520.6,225.7 521,225.8 521.3,225.9 521.7,226 522,226.1 522.4,226.2 522.7,226.3 523.1,226.4 523.4,226.5 523.8,226.5 524.1,226.6 524.5,226.7 524.8,226.8 525.2,226.9 525.5,227 525.9,227.1 526.2,227.2 526.6,227.2 526.9,227.3 527.3,227.4 527.6,227.5 528,227.6 528.3,227.7 528.7,227.8 529,227.9 529.4,227.9 529.7,228 530.1,228.1 530.4,228.2 530.8,228.3 531.1,228.4 531.5,228.5 531.8,228.6 532.2,228.6 532.5,228.7 532.9,228.8 533.2,228.9 533.6,229 533.9,229.1 534.3,229.2 534.6,229.3 535,229.3 535.3,229.4 535.7,229.5 536,229.6 536.4,229.7 536.7,229.8 537,229.8 537.4,229.8 537.7,229.8 538.1,229.8 538.4,229.8 538.8,229.8 539.1,229.8 539.5,229.7 539.8,229.7 540.2,229.7 540.5,229.7 540.9,229.7 541.2,229.7 541.6,229.7 541.9,229.7 542.3,229.7 542.6,229.7 543,229.7 543.3,229.7 543.7,229.7 544,229.7 544.4,229.7 544.7,229.7 545.1,229.7 545.4,229.7 545.8,229.7 546.1,229.7 546.5,229.7 546.8,229.6 547.2,229.6 547.5,229.6 547.9,229.6 548.2,229.6 548.6,229.6 548.9,229.6 549.3,229.6 549.6,229.6 550,229.6 550.3,229.6 550.7,229.6 551,229.6 551.4,229.6 551.7,229.6 552.1,229.6 552.4,229.6 552.8,229.6 553.1,229.6 553.5,229.6 553.8,229.6 554.2,229.6 554.5,229.5 554.8,229.5 555.2,229.5 555.5,229.5 555.9,229.5 556.2,229.5 556.6,229.5 556.9,229.5 557.3,229.5 557.6,229.5 558,229.5 558.3,229.5 558.7,229.5 559,229.5 559.4,229.5 559.7,229.5 560.1,229.5 560.4,229.5 560.8,229.5 561.1,229.5 561.5,229.5 561.8,229.4 562.2,229.4 562.5,229.4 562.9,229.4 563.2,229.4 563.6,229.4 563.9,229.4 564.3,229.4 564.6,229.4 565,229.4 565.3,229.4 565.7,229.4 566,229.4 566.4,229.4 566.7,229.4 567.1,229.4 567.4,229.4 567.8,229.4 568.1,229.4 568.5,229.4 568.8,229.4 569.2,229.3 569.5,229.3 569.9,229.3 570.2,229.3 570.6,229.3 570.9,229.3 571.3,229.3 571.6,229.3 571.9,229.3 572.3,229.3 572.6,229.2 573,229.2 573.3,229.2 573.7,229.2 574,229.1 574.4,229.1 574.7,229.1 575.1,229.1 575.4,229 575.8,229 576.1,229 576.5,228.9 576.8,228.9 577.2,228.9 577.5,228.9 577.9,228.8 578.2,228.8 578.6,228.8 578.9,228.8 579.3,228.7 579.6,228.7 580,228.7 580.3,228.7 580.7,228.6 581,228.6 581.4,228.6 581.7,228.6 582.1,228.5 582.4,228.5 582.8,228.5 583.1,228.5 583.5,228.4 583.8,228.4 584.2,228.4 584.5,228.3 584.9,228.3 585.2,228.3 585.6,228.3 585.9,228.2 586.3,228.2 586.6,228.2 587,228.2 587.3,228.1 587.7,228.1 588,228.1 588.4,228.1 588.7,228 589.1,228 589.4,228 589.7,228 590.1,227.9 590.4,227.9 590.8,227.9 591.1,227.9 591.5,227.8 591.8,227.8 592.2,227.8 592.5,227.7 592.9,227.6 593.2,227.5 593.6,227.4 593.9,227.2 594.3,227.1 594.6,227 595,226.8 595.3,226.7 595.7,226.6 596,226.4 596.4,226.3 596.7,226.2 597.1,226.1 597.4,225.9 597.8,225.8 598.1,225.7 598.5,225.5 598.8,225.4 599.2,225.3 599.5,225.1 599.9,225 600.2,224.9 600.6,224.7 600.9,224.6 601.3,224.5 601.6,224.4 602,224.2 602.3,224.1 602.7,224 603,223.8 603.4,223.7 603.7,223.6 604.1,223.5 604.4,223.4 604.8,223.3 605.1,223.2 605.5,223.1 605.8,222.9 606.2,222.8 606.5,222.7 606.8,222.6 607.2,222.5 607.5,222.4 607.9,222.3 608.2,222.2 608.6,222.1 608.9,222 609.3,221.9 609.6,221.9 610,221.9 610.3,221.9 610.7,221.9 611,221.9 611.4,221.9 611.7,221.9 612.1,221.9 612.4,221.9 612.8,221.9 613.1,221.9 613.5,221.9 613.8,221.9 614.2,221.9 614.5,221.9 614.9,221.9 615.2,221.9 615.6,221.9 615.9,221.9 616.3,221.9 616.6,221.9 617,221.9 617.3,221.9 617.7,221.9 618,221.9 618.4,221.9 618.7,221.9 619.1,221.9 619.4,221.9 619.8,221.9 620.1,221.9 620.5,221.9 620.8,221.9 621.2,221.9 621.5,221.9 621.9,221.9 622.2,221.9 622.6,221.9 622.9,221.9 623.3,221.9 623.6,221.9 624,221.9 624.3,221.9 624.6,221.9 625,221.9 625.3,221.9 625.7,221.9 626,221.9 626.4,221.9 626.7,221.9 627.1,221.9 627.4,221.9 627.8,221.9 628.1,221.9 628.5,221.9 628.8,221.9 629.2,221.9 629.5,221.9 629.9,221.8 630.2,221.8 630.6,221.8 630.9,221.8 631.3,221.8 631.6,221.8 632,221.8 632.3,221.8 632.7,221.8 633,221.8 633.4,221.8 633.7,221.8 634.1,221.8 634.4,221.8 634.8,221.8 635.1,221.8 635.5,221.8 635.8,221.8 636.2,221.8 636.5,221.8 636.9,221.8 637.2,221.8 637.6,221.8 637.9,221.8 638.3,221.8 638.6,221.8 639,221.8 639.3,221.8 639.7,221.8 640,221.8 640.4,221.8 640.7,221.8 641.1,221.8 641.4,221.8 641.7,221.8 642.1,221.8 642.4,221.8 642.8,221.8 643.1,221.8 643.5,221.8 643.8,221.8 644.2,221.8 644.5,221.8 644.9,221.8 645.2,221.8 645.6,221.8 645.9,221.8 646.3,221.8 646.6,221.7 647,221.7 647.3,221.7 647.7,221.7 648,221.7 648.4,221.7 648.7,221.7 649.1,221.7 649.4,221.7 649.8,221.7 650.1,221.7 650.5,221.7 650.8,221.7 651.2,221.7 651.5,221.7 651.9,221.7 652.2,221.7 652.6,221.7 652.9,221.7 653.3,221.7 653.6,221.7 654,221.7 654.3,221.7 654.7,221.7 655,221.7 655.4,221.7 655.7,221.7 656.1,221.7 656.4,221.7 656.8,221.7 657.1,221.7 657.5,221.6 657.8,221.6 658.2,221.6 658.5,221.6 658.9,221.6 659.2,221.6 659.5,221.6 659.9,221.6 660.2,221.6 660.6,221.6 660.9,221.6 661.3,221.6 661.6,221.6 662,221.6 662.3,221.6 662.7,221.6 663,221.6 663.4,221.6 663.7,221.6 664.1,221.6 664.4,221.6 664.8,221.6 665.1,221.6 665.5,221.6 665.8,221.6 666.2,221.6 666.5,221.6 666.9,221.6 667.2,221.6 667.6,221.6 667.9,221.6 668.3,221.6 668.6,221.5 669,221.5 669.3,221.5 669.7,221.5 670,221.5 670.4,221.5 670.7,221.5 671.1,221.5 671.4,221.5 671.8,221.5 672.1,221.5 672.5,221.5 672.8,221.5 673.2,221.5 673.5,221.5 673.9,221.5 674.2,221.5 674.6,221.5 674.9,221.5 675.3,221.5 675.6,221.5 676,221.5 676.3,221.5 676.6,221.5 677,221.5 677.3,221.5 677.7,221.5 678,221.5 678.4,221.5 678.7,221.5 679.1,221.5 679.4,221.5 679.8,221.5 680.1,221.5 680.5,221.5 680.8,221.5 681.2,221.5 681.5,221.5 681.9,221.5 682.2,221.5 682.6,221.5 682.9,221.5 683.3,221.5" fill="none" stroke="#4a4a4a" stroke-width="1.3" stroke-dasharray="5.5,4"/>
<line x1="432" y1="226.3" x2="480.9" y2="226.3" stroke="#3ad83a" stroke-width="0.85" />
<line x1="432" y1="224.3" x2="432" y2="228.3" stroke="#3ad83a" stroke-width="0.85" />
<line x1="480.9" y1="224.3" x2="480.9" y2="228.3" stroke="#3ad83a" stroke-width="0.85" />
<line x1="480.5" y1="226.3" x2="480.9" y2="226.3" stroke="#3ad83a" stroke-width="0.85" />
<line x1="480.5" y1="224.3" x2="480.5" y2="228.3" stroke="#3ad83a" stroke-width="0.85" />
<line x1="480.9" y1="224.3" x2="480.9" y2="228.3" stroke="#3ad83a" stroke-width="0.85" />
<circle cx="480.5" cy="226.3" r="3" fill="#fff" stroke="#3ad83a" stroke-width="0.85"/>
<line x1="480.9" y1="231.7" x2="522.7" y2="231.7" stroke="#3ad83a" stroke-width="0.85" />
<line x1="480.9" y1="229.7" x2="480.9" y2="233.7" stroke="#3ad83a" stroke-width="0.85" />
<line x1="522.7" y1="229.7" x2="522.7" y2="233.7" stroke="#3ad83a" stroke-width="0.85" />
<line x1="501.8" y1="234" x2="501.8" y2="229.3" stroke="#3ad83a" stroke-width="0.85" />
<line x1="499.8" y1="234" x2="503.8" y2="234" stroke="#3ad83a" stroke-width="0.85" />
<line x1="499.8" y1="229.3" x2="503.8" y2="229.3" stroke="#3ad83a" stroke-width="0.85" />
<circle cx="501.8" cy="231.7" r="3" fill="#fff" stroke="#3ad83a" stroke-width="0.85"/>
<line x1="529.7" y1="233.2" x2="554.1" y2="233.2" stroke="#3ad83a" stroke-width="0.85" />
<line x1="529.7" y1="231.2" x2="529.7" y2="235.2" stroke="#3ad83a" stroke-width="0.85" />
<line x1="554.1" y1="231.2" x2="554.1" y2="235.2" stroke="#3ad83a" stroke-width="0.85" />
<line x1="542.6" y1="234.8" x2="542.6" y2="231.7" stroke="#3ad83a" stroke-width="0.85" />
<line x1="540.6" y1="234.8" x2="544.6" y2="234.8" stroke="#3ad83a" stroke-width="0.85" />
<line x1="540.6" y1="231.7" x2="544.6" y2="231.7" stroke="#3ad83a" stroke-width="0.85" />
<circle cx="542.6" cy="233.2" r="3" fill="#fff" stroke="#3ad83a" stroke-width="0.85"/>
<line x1="585.6" y1="222.1" x2="606.5" y2="222.1" stroke="#3ad83a" stroke-width="0.85" />
<line x1="585.6" y1="220.1" x2="585.6" y2="224.1" stroke="#3ad83a" stroke-width="0.85" />
<line x1="606.5" y1="220.1" x2="606.5" y2="224.1" stroke="#3ad83a" stroke-width="0.85" />
<line x1="595.3" y1="224.6" x2="595.3" y2="219.6" stroke="#3ad83a" stroke-width="0.85" />
<line x1="593.3" y1="224.6" x2="597.3" y2="224.6" stroke="#3ad83a" stroke-width="0.85" />
<line x1="593.3" y1="219.6" x2="597.3" y2="219.6" stroke="#3ad83a" stroke-width="0.85" />
<circle cx="595.3" cy="222.1" r="3" fill="#fff" stroke="#3ad83a" stroke-width="0.85"/>
<line x1="625.7" y1="234" x2="646.6" y2="234" stroke="#3ad83a" stroke-width="0.85" />
<line x1="625.7" y1="232" x2="625.7" y2="236" stroke="#3ad83a" stroke-width="0.85" />
<line x1="646.6" y1="232" x2="646.6" y2="236" stroke="#3ad83a" stroke-width="0.85" />
<line x1="636.5" y1="236.4" x2="636.5" y2="231.7" stroke="#3ad83a" stroke-width="0.85" />
<line x1="634.5" y1="236.4" x2="638.5" y2="236.4" stroke="#3ad83a" stroke-width="0.85" />
<line x1="634.5" y1="231.7" x2="638.5" y2="231.7" stroke="#3ad83a" stroke-width="0.85" />
<circle cx="636.5" cy="234" r="3" fill="#fff" stroke="#3ad83a" stroke-width="0.85"/>
<line x1="606.5" y1="225.4" x2="627.4" y2="225.4" stroke="#3ad83a" stroke-width="0.85" />
<line x1="606.5" y1="223.4" x2="606.5" y2="227.4" stroke="#3ad83a" stroke-width="0.85" />
<line x1="627.4" y1="223.4" x2="627.4" y2="227.4" stroke="#3ad83a" stroke-width="0.85" />
<line x1="617" y1="227.7" x2="617" y2="223" stroke="#3ad83a" stroke-width="0.85" />
<line x1="615" y1="227.7" x2="619" y2="227.7" stroke="#3ad83a" stroke-width="0.85" />
<line x1="615" y1="223" x2="619" y2="223" stroke="#3ad83a" stroke-width="0.85" />
<circle cx="617" cy="225.4" r="3" fill="#fff" stroke="#3ad83a" stroke-width="0.85"/>
<line x1="469.7" y1="126.7" x2="469.7" y2="99.3" stroke="#24584a" stroke-width="0.85" />
<line x1="467.2" y1="126.7" x2="472.2" y2="126.7" stroke="#24584a" stroke-width="0.85" />
<line x1="467.2" y1="99.3" x2="472.2" y2="99.3" stroke="#24584a" stroke-width="0.85" />
<line x1="465.4" y1="111.3" x2="473.9" y2="111.3" stroke="#24584a" stroke-width="0.85" />
<line x1="469.7" y1="107.1" x2="469.7" y2="115.6" stroke="#24584a" stroke-width="0.85" />
<line x1="469.7" y1="129" x2="469.7" y2="122" stroke="#24584a" stroke-width="0.85" />
<line x1="467.2" y1="129" x2="472.2" y2="129" stroke="#24584a" stroke-width="0.85" />
<line x1="467.2" y1="122" x2="472.2" y2="122" stroke="#24584a" stroke-width="0.85" />
<line x1="465.4" y1="126.7" x2="473.9" y2="126.7" stroke="#24584a" stroke-width="0.85" />
<line x1="469.7" y1="122.4" x2="469.7" y2="130.9" stroke="#24584a" stroke-width="0.85" />
<line x1="469.3" y1="162.7" x2="469.3" y2="145.2" stroke="#24584a" stroke-width="0.85" />
<line x1="466.8" y1="162.7" x2="471.8" y2="162.7" stroke="#24584a" stroke-width="0.85" />
<line x1="466.8" y1="145.2" x2="471.8" y2="145.2" stroke="#24584a" stroke-width="0.85" />
<line x1="465.1" y1="153.3" x2="473.6" y2="153.3" stroke="#24584a" stroke-width="0.85" />
<line x1="469.3" y1="149.1" x2="469.3" y2="157.6" stroke="#24584a" stroke-width="0.85" />
<line x1="469.3" y1="171.3" x2="469.3" y2="156.5" stroke="#24584a" stroke-width="0.85" />
<line x1="466.8" y1="171.3" x2="471.8" y2="171.3" stroke="#24584a" stroke-width="0.85" />
<line x1="466.8" y1="156.5" x2="471.8" y2="156.5" stroke="#24584a" stroke-width="0.85" />
<line x1="465.1" y1="164.3" x2="473.6" y2="164.3" stroke="#24584a" stroke-width="0.85" />
<line x1="469.3" y1="160" x2="469.3" y2="168.5" stroke="#24584a" stroke-width="0.85" />
<line x1="482.3" y1="154.9" x2="482.3" y2="143" stroke="#24584a" stroke-width="0.85" />
<line x1="479.8" y1="154.9" x2="484.8" y2="154.9" stroke="#24584a" stroke-width="0.85" />
<line x1="479.8" y1="143" x2="484.8" y2="143" stroke="#24584a" stroke-width="0.85" />
<line x1="478" y1="148.6" x2="486.5" y2="148.6" stroke="#24584a" stroke-width="0.85" />
<line x1="482.3" y1="144.4" x2="482.3" y2="152.9" stroke="#24584a" stroke-width="0.85" />
<line x1="482.3" y1="161.2" x2="482.3" y2="148.6" stroke="#24584a" stroke-width="0.85" />
<line x1="479.8" y1="161.2" x2="484.8" y2="161.2" stroke="#24584a" stroke-width="0.85" />
<line x1="479.8" y1="148.6" x2="484.8" y2="148.6" stroke="#24584a" stroke-width="0.85" />
<line x1="478" y1="154.9" x2="486.5" y2="154.9" stroke="#24584a" stroke-width="0.85" />
<line x1="482.3" y1="150.6" x2="482.3" y2="159.1" stroke="#24584a" stroke-width="0.85" />
<line x1="482.3" y1="169" x2="482.3" y2="158" stroke="#24584a" stroke-width="0.85" />
<line x1="479.8" y1="169" x2="484.8" y2="169" stroke="#24584a" stroke-width="0.85" />
<line x1="479.8" y1="158" x2="484.8" y2="158" stroke="#24584a" stroke-width="0.85" />
<line x1="478" y1="164.3" x2="486.5" y2="164.3" stroke="#24584a" stroke-width="0.85" />
<line x1="482.3" y1="160" x2="482.3" y2="168.5" stroke="#24584a" stroke-width="0.85" />
<line x1="476.3" y1="181.1" x2="476.3" y2="159.6" stroke="#24584a" stroke-width="0.85" />
<line x1="473.8" y1="181.1" x2="478.8" y2="181.1" stroke="#24584a" stroke-width="0.85" />
<line x1="473.8" y1="159.6" x2="478.8" y2="159.6" stroke="#24584a" stroke-width="0.85" />
<line x1="472.1" y1="169" x2="480.6" y2="169" stroke="#24584a" stroke-width="0.85" />
<line x1="476.3" y1="164.7" x2="476.3" y2="173.2" stroke="#24584a" stroke-width="0.85" />
<line x1="484.4" y1="189.4" x2="484.4" y2="169" stroke="#24584a" stroke-width="0.85" />
<line x1="481.9" y1="189.4" x2="486.9" y2="189.4" stroke="#24584a" stroke-width="0.85" />
<line x1="481.9" y1="169" x2="486.9" y2="169" stroke="#24584a" stroke-width="0.85" />
<line x1="480.1" y1="180" x2="488.6" y2="180" stroke="#24584a" stroke-width="0.85" />
<line x1="484.4" y1="175.7" x2="484.4" y2="184.2" stroke="#24584a" stroke-width="0.85" />
<line x1="467.2" y1="212.9" x2="467.2" y2="181.5" stroke="#24584a" stroke-width="0.85" />
<line x1="464.7" y1="212.9" x2="469.7" y2="212.9" stroke="#24584a" stroke-width="0.85" />
<line x1="464.7" y1="181.5" x2="469.7" y2="181.5" stroke="#24584a" stroke-width="0.85" />
<line x1="463" y1="195.6" x2="471.5" y2="195.6" stroke="#24584a" stroke-width="0.85" />
<line x1="467.2" y1="191.4" x2="467.2" y2="199.9" stroke="#24584a" stroke-width="0.85" />
<line x1="473.9" y1="194.1" x2="473.9" y2="181.5" stroke="#24584a" stroke-width="0.85" />
<line x1="471.4" y1="194.1" x2="476.4" y2="194.1" stroke="#24584a" stroke-width="0.85" />
<line x1="471.4" y1="181.5" x2="476.4" y2="181.5" stroke="#24584a" stroke-width="0.85" />
<line x1="469.6" y1="187.8" x2="478.1" y2="187.8" stroke="#24584a" stroke-width="0.85" />
<line x1="473.9" y1="183.5" x2="473.9" y2="192" stroke="#24584a" stroke-width="0.85" />
<path d="M459.2 158.5L463.1 152.1L455.4 152.1Z" fill="#fff" stroke="#f07a30" stroke-width="0.85"/>
<path d="M471.4 153.9L475.3 147.5L467.6 147.5Z" fill="#fff" stroke="#f07a30" stroke-width="0.85"/>
<path d="M468.6 171.6L472.5 165.2L464.8 165.2Z" fill="#fff" stroke="#f07a30" stroke-width="0.85"/>
<path d="M461.3 185.6L465.2 179.2L457.5 179.2Z" fill="#fff" stroke="#f07a30" stroke-width="0.85"/>
<path d="M459.6 194.2L463.4 187.8L455.7 187.8Z" fill="#fff" stroke="#f07a30" stroke-width="0.85"/>
<path d="M462.7 198.9L466.6 192.5L458.9 192.5Z" fill="#fff" stroke="#f07a30" stroke-width="0.85"/>
<path d="M457.1 211.8L461 205.3L453.3 205.3Z" fill="#fff" stroke="#f07a30" stroke-width="0.85"/>
<path d="M463.4 219.3L467.3 212.9L459.5 212.9Z" fill="#fff" stroke="#f07a30" stroke-width="0.85"/>
<path d="M465.9 230.4L469.7 224L462 224Z" fill="#fff" stroke="#f07a30" stroke-width="0.85"/>
<path d="M478.1 195L481.9 188.6L474.2 188.6Z" fill="#fff" stroke="#f07a30" stroke-width="0.85"/>
<path d="M454.3 240.8L458.2 234.3L450.5 234.3Z" fill="#fff" stroke="#f07a30" stroke-width="0.85"/>
<path d="M472.1 181.7L476 175.3L468.3 175.3Z" fill="#fff" stroke="#f07a30" stroke-width="0.85"/>
<path d="M475.6 189.5L479.5 183.1L471.8 183.1Z" fill="#fff" stroke="#f07a30" stroke-width="0.85"/>
<path d="M465.2 206.7L469 200.3L461.3 200.3Z" fill="#fff" stroke="#f07a30" stroke-width="0.85"/>
<path d="M467.6 225.6L471.5 219.1L463.7 219.1Z" fill="#fff" stroke="#f07a30" stroke-width="0.85"/>
<path d="M460.6 203.6L464.5 197.2L456.8 197.2Z" fill="#fff" stroke="#f07a30" stroke-width="0.85"/>
<path d="M462.7 209.9L466.6 203.5L458.9 203.5Z" fill="#fff" stroke="#f07a30" stroke-width="0.85"/>
<path d="M464.5 191.1L468.3 184.7L460.6 184.7Z" fill="#fff" stroke="#f07a30" stroke-width="0.85"/>
<path d="M466.9 214.6L470.8 208.2L463 208.2Z" fill="#fff" stroke="#f07a30" stroke-width="0.85"/>
<path d="M458.5 200.5L462.4 194.1L454.7 194.1Z" fill="#fff" stroke="#f07a30" stroke-width="0.85"/>
<line x1="465.7" y1="172.9" x2="465.7" y2="167.9" stroke="#3ae0e0" stroke-width="0.85" />
<line x1="464.2" y1="172.9" x2="467.2" y2="172.9" stroke="#3ae0e0" stroke-width="0.85" />
<line x1="464.2" y1="167.9" x2="467.2" y2="167.9" stroke="#3ae0e0" stroke-width="0.85" />
<line x1="462.1" y1="166.9" x2="469.2" y2="174" stroke="#3ae0e0" stroke-width="0.85" />
<line x1="462.1" y1="174" x2="469.2" y2="166.9" stroke="#3ae0e0" stroke-width="0.85" />
<line x1="465.9" y1="166.9" x2="465.9" y2="161.9" stroke="#3ae0e0" stroke-width="0.85" />
<line x1="464.4" y1="166.9" x2="467.4" y2="166.9" stroke="#3ae0e0" stroke-width="0.85" />
<line x1="464.4" y1="161.9" x2="467.4" y2="161.9" stroke="#3ae0e0" stroke-width="0.85" />
<line x1="462.3" y1="160.9" x2="469.4" y2="167.9" stroke="#3ae0e0" stroke-width="0.85" />
<line x1="462.3" y1="167.9" x2="469.4" y2="160.9" stroke="#3ae0e0" stroke-width="0.85" />
<line x1="472.9" y1="203" x2="472.9" y2="198" stroke="#3ae0e0" stroke-width="0.85" />
<line x1="471.4" y1="203" x2="474.4" y2="203" stroke="#3ae0e0" stroke-width="0.85" />
<line x1="471.4" y1="198" x2="474.4" y2="198" stroke="#3ae0e0" stroke-width="0.85" />
<line x1="469.3" y1="197" x2="476.4" y2="204.1" stroke="#3ae0e0" stroke-width="0.85" />
<line x1="469.3" y1="204.1" x2="476.4" y2="197" stroke="#3ae0e0" stroke-width="0.85" />
<line x1="458.1" y1="189.4" x2="458.1" y2="184.4" stroke="#3ae0e0" stroke-width="0.85" />
<line x1="456.6" y1="189.4" x2="459.6" y2="189.4" stroke="#3ae0e0" stroke-width="0.85" />
<line x1="456.6" y1="184.4" x2="459.6" y2="184.4" stroke="#3ae0e0" stroke-width="0.85" />
<line x1="454.6" y1="183.4" x2="461.7" y2="190.5" stroke="#3ae0e0" stroke-width="0.85" />
<line x1="454.6" y1="190.5" x2="461.7" y2="183.4" stroke="#3ae0e0" stroke-width="0.85" />
<line x1="483.3" y1="171.1" x2="483.3" y2="166.1" stroke="#3ae0e0" stroke-width="0.85" />
<line x1="481.8" y1="171.1" x2="484.8" y2="171.1" stroke="#3ae0e0" stroke-width="0.85" />
<line x1="481.8" y1="166.1" x2="484.8" y2="166.1" stroke="#3ae0e0" stroke-width="0.85" />
<line x1="479.8" y1="165" x2="486.9" y2="172.1" stroke="#3ae0e0" stroke-width="0.85" />
<line x1="479.8" y1="172.1" x2="486.9" y2="165" stroke="#3ae0e0" stroke-width="0.85" />
<line x1="470.4" y1="199.4" x2="470.4" y2="194.4" stroke="#3ae0e0" stroke-width="0.85" />
<line x1="468.9" y1="199.4" x2="471.9" y2="199.4" stroke="#3ae0e0" stroke-width="0.85" />
<line x1="468.9" y1="194.4" x2="471.9" y2="194.4" stroke="#3ae0e0" stroke-width="0.85" />
<line x1="466.8" y1="193.3" x2="473.9" y2="200.4" stroke="#3ae0e0" stroke-width="0.85" />
<line x1="466.8" y1="200.4" x2="473.9" y2="193.3" stroke="#3ae0e0" stroke-width="0.85" />
<line x1="468.7" y1="181.2" x2="468.7" y2="176.2" stroke="#3ae0e0" stroke-width="0.85" />
<line x1="467.2" y1="181.2" x2="470.2" y2="181.2" stroke="#3ae0e0" stroke-width="0.85" />
<line x1="467.2" y1="176.2" x2="470.2" y2="176.2" stroke="#3ae0e0" stroke-width="0.85" />
<line x1="465.2" y1="175.2" x2="472.3" y2="182.3" stroke="#3ae0e0" stroke-width="0.85" />
<line x1="465.2" y1="182.3" x2="472.3" y2="175.2" stroke="#3ae0e0" stroke-width="0.85" />
<line x1="474.9" y1="178.4" x2="474.9" y2="173.4" stroke="#3ae0e0" stroke-width="0.85" />
<line x1="473.4" y1="178.4" x2="476.4" y2="178.4" stroke="#3ae0e0" stroke-width="0.85" />
<line x1="473.4" y1="173.4" x2="476.4" y2="173.4" stroke="#3ae0e0" stroke-width="0.85" />
<line x1="471.4" y1="172.3" x2="478.4" y2="179.4" stroke="#3ae0e0" stroke-width="0.85" />
<line x1="471.4" y1="179.4" x2="478.4" y2="172.3" stroke="#3ae0e0" stroke-width="0.85" />
<line x1="478.7" y1="192.8" x2="478.7" y2="187.8" stroke="#3ae0e0" stroke-width="0.85" />
<line x1="477.2" y1="192.8" x2="480.2" y2="192.8" stroke="#3ae0e0" stroke-width="0.85" />
<line x1="477.2" y1="187.8" x2="480.2" y2="187.8" stroke="#3ae0e0" stroke-width="0.85" />
<line x1="475.2" y1="186.8" x2="482.3" y2="193.8" stroke="#3ae0e0" stroke-width="0.85" />
<line x1="475.2" y1="193.8" x2="482.3" y2="186.8" stroke="#3ae0e0" stroke-width="0.85" />
<line x1="474.3" y1="162.3" x2="474.3" y2="157.3" stroke="#3ae0e0" stroke-width="0.85" />
<line x1="472.8" y1="162.3" x2="475.8" y2="162.3" stroke="#3ae0e0" stroke-width="0.85" />
<line x1="472.8" y1="157.3" x2="475.8" y2="157.3" stroke="#3ae0e0" stroke-width="0.85" />
<line x1="470.7" y1="156.3" x2="477.8" y2="163.4" stroke="#3ae0e0" stroke-width="0.85" />
<line x1="470.7" y1="163.4" x2="477.8" y2="156.3" stroke="#3ae0e0" stroke-width="0.85" />
<line x1="474.3" y1="167.8" x2="474.3" y2="162.8" stroke="#3ae0e0" stroke-width="0.85" />
<line x1="472.8" y1="167.8" x2="475.8" y2="167.8" stroke="#3ae0e0" stroke-width="0.85" />
<line x1="472.8" y1="162.8" x2="475.8" y2="162.8" stroke="#3ae0e0" stroke-width="0.85" />
<line x1="470.7" y1="161.7" x2="477.8" y2="168.8" stroke="#3ae0e0" stroke-width="0.85" />
<line x1="470.7" y1="168.8" x2="477.8" y2="161.7" stroke="#3ae0e0" stroke-width="0.85" />
<line x1="469.8" y1="198.3" x2="469.8" y2="193.3" stroke="#3ae0e0" stroke-width="0.85" />
<line x1="468.3" y1="198.3" x2="471.3" y2="198.3" stroke="#3ae0e0" stroke-width="0.85" />
<line x1="468.3" y1="193.3" x2="471.3" y2="193.3" stroke="#3ae0e0" stroke-width="0.85" />
<line x1="466.2" y1="192.3" x2="473.3" y2="199.4" stroke="#3ae0e0" stroke-width="0.85" />
<line x1="466.2" y1="199.4" x2="473.3" y2="192.3" stroke="#3ae0e0" stroke-width="0.85" />
<line x1="471.2" y1="204.3" x2="471.2" y2="199.3" stroke="#3ae0e0" stroke-width="0.85" />
<line x1="469.7" y1="204.3" x2="472.7" y2="204.3" stroke="#3ae0e0" stroke-width="0.85" />
<line x1="469.7" y1="199.3" x2="472.7" y2="199.3" stroke="#3ae0e0" stroke-width="0.85" />
<line x1="467.7" y1="198.3" x2="474.7" y2="205.4" stroke="#3ae0e0" stroke-width="0.85" />
<line x1="467.7" y1="205.4" x2="474.7" y2="198.3" stroke="#3ae0e0" stroke-width="0.85" />
<line x1="471.4" y1="164.9" x2="471.4" y2="159.9" stroke="#3ae0e0" stroke-width="0.85" />
<line x1="469.9" y1="164.9" x2="472.9" y2="164.9" stroke="#3ae0e0" stroke-width="0.85" />
<line x1="469.9" y1="159.9" x2="472.9" y2="159.9" stroke="#3ae0e0" stroke-width="0.85" />
<line x1="467.9" y1="158.9" x2="475" y2="166" stroke="#3ae0e0" stroke-width="0.85" />
<line x1="467.9" y1="166" x2="475" y2="158.9" stroke="#3ae0e0" stroke-width="0.85" />
<line x1="475.1" y1="160.1" x2="475.1" y2="155.1" stroke="#3ae0e0" stroke-width="0.85" />
<line x1="473.6" y1="160.1" x2="476.6" y2="160.1" stroke="#3ae0e0" stroke-width="0.85" />
<line x1="473.6" y1="155.1" x2="476.6" y2="155.1" stroke="#3ae0e0" stroke-width="0.85" />
<line x1="471.6" y1="154" x2="478.6" y2="161.1" stroke="#3ae0e0" stroke-width="0.85" />
<line x1="471.6" y1="161.1" x2="478.6" y2="154" stroke="#3ae0e0" stroke-width="0.85" />
<line x1="478.6" y1="168" x2="478.6" y2="163" stroke="#3ae0e0" stroke-width="0.85" />
<line x1="477.1" y1="168" x2="480.1" y2="168" stroke="#3ae0e0" stroke-width="0.85" />
<line x1="477.1" y1="163" x2="480.1" y2="163" stroke="#3ae0e0" stroke-width="0.85" />
<line x1="475" y1="162" x2="482.1" y2="169.1" stroke="#3ae0e0" stroke-width="0.85" />
<line x1="475" y1="169.1" x2="482.1" y2="162" stroke="#3ae0e0" stroke-width="0.85" />
<line x1="469.5" y1="181" x2="469.5" y2="176" stroke="#3ae0e0" stroke-width="0.85" />
<line x1="468" y1="181" x2="471" y2="181" stroke="#3ae0e0" stroke-width="0.85" />
<line x1="468" y1="176" x2="471" y2="176" stroke="#3ae0e0" stroke-width="0.85" />
<line x1="466" y1="175" x2="473.1" y2="182" stroke="#3ae0e0" stroke-width="0.85" />
<line x1="466" y1="182" x2="473.1" y2="175" stroke="#3ae0e0" stroke-width="0.85" />
<line x1="488.9" y1="183.1" x2="488.9" y2="178" stroke="#3ae0e0" stroke-width="0.85" />
<line x1="487.4" y1="183.1" x2="490.4" y2="183.1" stroke="#3ae0e0" stroke-width="0.85" />
<line x1="487.4" y1="178" x2="490.4" y2="178" stroke="#3ae0e0" stroke-width="0.85" />
<line x1="485.3" y1="177" x2="492.4" y2="184.1" stroke="#3ae0e0" stroke-width="0.85" />
<line x1="485.3" y1="184.1" x2="492.4" y2="177" stroke="#3ae0e0" stroke-width="0.85" />
<line x1="478.5" y1="175.6" x2="478.5" y2="170.6" stroke="#3ae0e0" stroke-width="0.85" />
<line x1="477" y1="175.6" x2="480" y2="175.6" stroke="#3ae0e0" stroke-width="0.85" />
<line x1="477" y1="170.6" x2="480" y2="170.6" stroke="#3ae0e0" stroke-width="0.85" />
<line x1="475" y1="169.5" x2="482.1" y2="176.6" stroke="#3ae0e0" stroke-width="0.85" />
<line x1="475" y1="176.6" x2="482.1" y2="169.5" stroke="#3ae0e0" stroke-width="0.85" />
<line x1="488.9" y1="174" x2="488.9" y2="168.9" stroke="#3ae0e0" stroke-width="0.85" />
<line x1="487.4" y1="174" x2="490.4" y2="174" stroke="#3ae0e0" stroke-width="0.85" />
<line x1="487.4" y1="168.9" x2="490.4" y2="168.9" stroke="#3ae0e0" stroke-width="0.85" />
<line x1="485.3" y1="167.9" x2="492.4" y2="175" stroke="#3ae0e0" stroke-width="0.85" />
<line x1="485.3" y1="175" x2="492.4" y2="167.9" stroke="#3ae0e0" stroke-width="0.85" />
<line x1="478.5" y1="189.3" x2="478.5" y2="184.3" stroke="#3ae0e0" stroke-width="0.85" />
<line x1="477" y1="189.3" x2="480" y2="189.3" stroke="#3ae0e0" stroke-width="0.85" />
<line x1="477" y1="184.3" x2="480" y2="184.3" stroke="#3ae0e0" stroke-width="0.85" />
<line x1="475" y1="183.3" x2="482" y2="190.3" stroke="#3ae0e0" stroke-width="0.85" />
<line x1="475" y1="190.3" x2="482" y2="183.3" stroke="#3ae0e0" stroke-width="0.85" />
<line x1="470.2" y1="197.1" x2="470.2" y2="192.1" stroke="#3ae0e0" stroke-width="0.85" />
<line x1="468.7" y1="197.1" x2="471.7" y2="197.1" stroke="#3ae0e0" stroke-width="0.85" />
<line x1="468.7" y1="192.1" x2="471.7" y2="192.1" stroke="#3ae0e0" stroke-width="0.85" />
<line x1="466.7" y1="191" x2="473.8" y2="198.1" stroke="#3ae0e0" stroke-width="0.85" />
<line x1="466.7" y1="198.1" x2="473.8" y2="191" stroke="#3ae0e0" stroke-width="0.85" />
<line x1="475.4" y1="190.9" x2="475.4" y2="185.9" stroke="#3ae0e0" stroke-width="0.85" />
<line x1="473.9" y1="190.9" x2="476.9" y2="190.9" stroke="#3ae0e0" stroke-width="0.85" />
<line x1="473.9" y1="185.9" x2="476.9" y2="185.9" stroke="#3ae0e0" stroke-width="0.85" />
<line x1="471.9" y1="184.9" x2="479" y2="191.9" stroke="#3ae0e0" stroke-width="0.85" />
<line x1="471.9" y1="191.9" x2="479" y2="184.9" stroke="#3ae0e0" stroke-width="0.85" />
<line x1="475.9" y1="177.7" x2="475.9" y2="172.7" stroke="#3ae0e0" stroke-width="0.85" />
<line x1="474.4" y1="177.7" x2="477.4" y2="177.7" stroke="#3ae0e0" stroke-width="0.85" />
<line x1="474.4" y1="172.7" x2="477.4" y2="172.7" stroke="#3ae0e0" stroke-width="0.85" />
<line x1="472.4" y1="171.6" x2="479.5" y2="178.7" stroke="#3ae0e0" stroke-width="0.85" />
<line x1="472.4" y1="178.7" x2="479.5" y2="171.6" stroke="#3ae0e0" stroke-width="0.85" />
<line x1="484.4" y1="192.3" x2="484.4" y2="187.2" stroke="#3ae0e0" stroke-width="0.85" />
<line x1="482.9" y1="192.3" x2="485.9" y2="192.3" stroke="#3ae0e0" stroke-width="0.85" />
<line x1="482.9" y1="187.2" x2="485.9" y2="187.2" stroke="#3ae0e0" stroke-width="0.85" />
<line x1="480.8" y1="186.2" x2="487.9" y2="193.3" stroke="#3ae0e0" stroke-width="0.85" />
<line x1="480.8" y1="193.3" x2="487.9" y2="186.2" stroke="#3ae0e0" stroke-width="0.85" />
<line x1="474.1" y1="190.1" x2="474.1" y2="185.1" stroke="#3ae0e0" stroke-width="0.85" />
<line x1="472.6" y1="190.1" x2="475.6" y2="190.1" stroke="#3ae0e0" stroke-width="0.85" />
<line x1="472.6" y1="185.1" x2="475.6" y2="185.1" stroke="#3ae0e0" stroke-width="0.85" />
<line x1="470.6" y1="184.1" x2="477.6" y2="191.1" stroke="#3ae0e0" stroke-width="0.85" />
<line x1="470.6" y1="191.1" x2="477.6" y2="184.1" stroke="#3ae0e0" stroke-width="0.85" />
<line x1="477.2" y1="190.8" x2="477.2" y2="185.8" stroke="#3ae0e0" stroke-width="0.85" />
<line x1="475.7" y1="190.8" x2="478.7" y2="190.8" stroke="#3ae0e0" stroke-width="0.85" />
<line x1="475.7" y1="185.8" x2="478.7" y2="185.8" stroke="#3ae0e0" stroke-width="0.85" />
<line x1="473.7" y1="184.8" x2="480.8" y2="191.8" stroke="#3ae0e0" stroke-width="0.85" />
<line x1="473.7" y1="191.8" x2="480.8" y2="184.8" stroke="#3ae0e0" stroke-width="0.85" />
<line x1="466.6" y1="184.9" x2="466.6" y2="179.9" stroke="#3ae0e0" stroke-width="0.85" />
<line x1="465.1" y1="184.9" x2="468.1" y2="184.9" stroke="#3ae0e0" stroke-width="0.85" />
<line x1="465.1" y1="179.9" x2="468.1" y2="179.9" stroke="#3ae0e0" stroke-width="0.85" />
<line x1="463.1" y1="178.9" x2="470.2" y2="185.9" stroke="#3ae0e0" stroke-width="0.85" />
<line x1="463.1" y1="185.9" x2="470.2" y2="178.9" stroke="#3ae0e0" stroke-width="0.85" />
<line x1="473.2" y1="158.6" x2="473.2" y2="153.6" stroke="#3ae0e0" stroke-width="0.85" />
<line x1="471.7" y1="158.6" x2="474.7" y2="158.6" stroke="#3ae0e0" stroke-width="0.85" />
<line x1="471.7" y1="153.6" x2="474.7" y2="153.6" stroke="#3ae0e0" stroke-width="0.85" />
<line x1="469.7" y1="152.5" x2="476.7" y2="159.6" stroke="#3ae0e0" stroke-width="0.85" />
<line x1="469.7" y1="159.6" x2="476.7" y2="152.5" stroke="#3ae0e0" stroke-width="0.85" />
<line x1="471.6" y1="203.4" x2="471.6" y2="198.3" stroke="#3ae0e0" stroke-width="0.85" />
<line x1="470.1" y1="203.4" x2="473.1" y2="203.4" stroke="#3ae0e0" stroke-width="0.85" />
<line x1="470.1" y1="198.3" x2="473.1" y2="198.3" stroke="#3ae0e0" stroke-width="0.85" />
<line x1="468" y1="197.3" x2="475.1" y2="204.4" stroke="#3ae0e0" stroke-width="0.85" />
<line x1="468" y1="204.4" x2="475.1" y2="197.3" stroke="#3ae0e0" stroke-width="0.85" />
<line x1="473.9" y1="203.6" x2="473.9" y2="198.5" stroke="#3ae0e0" stroke-width="0.85" />
<line x1="472.4" y1="203.6" x2="475.4" y2="203.6" stroke="#3ae0e0" stroke-width="0.85" />
<line x1="472.4" y1="198.5" x2="475.4" y2="198.5" stroke="#3ae0e0" stroke-width="0.85" />
<line x1="470.3" y1="197.5" x2="477.4" y2="204.6" stroke="#3ae0e0" stroke-width="0.85" />
<line x1="470.3" y1="204.6" x2="477.4" y2="197.5" stroke="#3ae0e0" stroke-width="0.85" />
<line x1="460.4" y1="177.3" x2="460.4" y2="172.3" stroke="#3ae0e0" stroke-width="0.85" />
<line x1="458.9" y1="177.3" x2="461.9" y2="177.3" stroke="#3ae0e0" stroke-width="0.85" />
<line x1="458.9" y1="172.3" x2="461.9" y2="172.3" stroke="#3ae0e0" stroke-width="0.85" />
<line x1="456.9" y1="171.3" x2="463.9" y2="178.3" stroke="#3ae0e0" stroke-width="0.85" />
<line x1="456.9" y1="178.3" x2="463.9" y2="171.3" stroke="#3ae0e0" stroke-width="0.85" />
<line x1="467.8" y1="204" x2="467.8" y2="199" stroke="#3ae0e0" stroke-width="0.85" />
<line x1="466.3" y1="204" x2="469.3" y2="204" stroke="#3ae0e0" stroke-width="0.85" />
<line x1="466.3" y1="199" x2="469.3" y2="199" stroke="#3ae0e0" stroke-width="0.85" />
<line x1="464.2" y1="198" x2="471.3" y2="205.1" stroke="#3ae0e0" stroke-width="0.85" />
<line x1="464.2" y1="205.1" x2="471.3" y2="198" stroke="#3ae0e0" stroke-width="0.85" />
<line x1="480.7" y1="202.6" x2="480.7" y2="197.5" stroke="#3ae0e0" stroke-width="0.85" />
<line x1="479.2" y1="202.6" x2="482.2" y2="202.6" stroke="#3ae0e0" stroke-width="0.85" />
<line x1="479.2" y1="197.5" x2="482.2" y2="197.5" stroke="#3ae0e0" stroke-width="0.85" />
<line x1="477.2" y1="196.5" x2="484.3" y2="203.6" stroke="#3ae0e0" stroke-width="0.85" />
<line x1="477.2" y1="203.6" x2="484.3" y2="196.5" stroke="#3ae0e0" stroke-width="0.85" />
<line x1="481.2" y1="196.7" x2="481.2" y2="191.7" stroke="#3ae0e0" stroke-width="0.85" />
<line x1="479.7" y1="196.7" x2="482.7" y2="196.7" stroke="#3ae0e0" stroke-width="0.85" />
<line x1="479.7" y1="191.7" x2="482.7" y2="191.7" stroke="#3ae0e0" stroke-width="0.85" />
<line x1="477.7" y1="190.7" x2="484.7" y2="197.7" stroke="#3ae0e0" stroke-width="0.85" />
<line x1="477.7" y1="197.7" x2="484.7" y2="190.7" stroke="#3ae0e0" stroke-width="0.85" />
<line x1="488.9" y1="180.6" x2="488.9" y2="175.6" stroke="#3ae0e0" stroke-width="0.85" />
<line x1="487.4" y1="180.6" x2="490.4" y2="180.6" stroke="#3ae0e0" stroke-width="0.85" />
<line x1="487.4" y1="175.6" x2="490.4" y2="175.6" stroke="#3ae0e0" stroke-width="0.85" />
<line x1="485.3" y1="174.6" x2="492.4" y2="181.6" stroke="#3ae0e0" stroke-width="0.85" />
<line x1="485.3" y1="181.6" x2="492.4" y2="174.6" stroke="#3ae0e0" stroke-width="0.85" />
<line x1="488.9" y1="193.6" x2="488.9" y2="188.5" stroke="#3ae0e0" stroke-width="0.85" />
<line x1="487.4" y1="193.6" x2="490.4" y2="193.6" stroke="#3ae0e0" stroke-width="0.85" />
<line x1="487.4" y1="188.5" x2="490.4" y2="188.5" stroke="#3ae0e0" stroke-width="0.85" />
<line x1="485.3" y1="187.5" x2="492.4" y2="194.6" stroke="#3ae0e0" stroke-width="0.85" />
<line x1="485.3" y1="194.6" x2="492.4" y2="187.5" stroke="#3ae0e0" stroke-width="0.85" />
<line x1="466.8" y1="190" x2="466.8" y2="185" stroke="#3ae0e0" stroke-width="0.85" />
<line x1="465.3" y1="190" x2="468.3" y2="190" stroke="#3ae0e0" stroke-width="0.85" />
<line x1="465.3" y1="185" x2="468.3" y2="185" stroke="#3ae0e0" stroke-width="0.85" />
<line x1="463.2" y1="183.9" x2="470.3" y2="191" stroke="#3ae0e0" stroke-width="0.85" />
<line x1="463.2" y1="191" x2="470.3" y2="183.9" stroke="#3ae0e0" stroke-width="0.85" />
<line x1="454.7" y1="234.8" x2="454.7" y2="230.1" stroke="#3ae0e0" stroke-width="0.85" />
<line x1="453.2" y1="234.8" x2="456.2" y2="234.8" stroke="#3ae0e0" stroke-width="0.85" />
<line x1="453.2" y1="230.1" x2="456.2" y2="230.1" stroke="#3ae0e0" stroke-width="0.85" />
<line x1="451.1" y1="228.9" x2="458.2" y2="236" stroke="#3ae0e0" stroke-width="0.85" />
<line x1="451.1" y1="236" x2="458.2" y2="228.9" stroke="#3ae0e0" stroke-width="0.85" />
<line x1="456.4" y1="231.7" x2="456.4" y2="227" stroke="#3ae0e0" stroke-width="0.85" />
<line x1="454.9" y1="231.7" x2="457.9" y2="231.7" stroke="#3ae0e0" stroke-width="0.85" />
<line x1="454.9" y1="227" x2="457.9" y2="227" stroke="#3ae0e0" stroke-width="0.85" />
<line x1="452.9" y1="225.8" x2="460" y2="232.9" stroke="#3ae0e0" stroke-width="0.85" />
<line x1="452.9" y1="232.9" x2="460" y2="225.8" stroke="#3ae0e0" stroke-width="0.85" />
<line x1="458.2" y1="228.5" x2="458.2" y2="223.8" stroke="#3ae0e0" stroke-width="0.85" />
<line x1="456.7" y1="228.5" x2="459.7" y2="228.5" stroke="#3ae0e0" stroke-width="0.85" />
<line x1="456.7" y1="223.8" x2="459.7" y2="223.8" stroke="#3ae0e0" stroke-width="0.85" />
<line x1="454.6" y1="222.6" x2="461.7" y2="229.7" stroke="#3ae0e0" stroke-width="0.85" />
<line x1="454.6" y1="229.7" x2="461.7" y2="222.6" stroke="#3ae0e0" stroke-width="0.85" />
<line x1="455.7" y1="236.7" x2="455.7" y2="232" stroke="#3ae0e0" stroke-width="0.85" />
<line x1="454.2" y1="236.7" x2="457.2" y2="236.7" stroke="#3ae0e0" stroke-width="0.85" />
<line x1="454.2" y1="232" x2="457.2" y2="232" stroke="#3ae0e0" stroke-width="0.85" />
<line x1="452.2" y1="230.8" x2="459.3" y2="237.9" stroke="#3ae0e0" stroke-width="0.85" />
<line x1="452.2" y1="237.9" x2="459.3" y2="230.8" stroke="#3ae0e0" stroke-width="0.85" />
<line x1="457.5" y1="234" x2="457.5" y2="229.3" stroke="#3ae0e0" stroke-width="0.85" />
<line x1="456" y1="234" x2="459" y2="234" stroke="#3ae0e0" stroke-width="0.85" />
<line x1="456" y1="229.3" x2="459" y2="229.3" stroke="#3ae0e0" stroke-width="0.85" />
<line x1="453.9" y1="228.1" x2="461" y2="235.2" stroke="#3ae0e0" stroke-width="0.85" />
<line x1="453.9" y1="235.2" x2="461" y2="228.1" stroke="#3ae0e0" stroke-width="0.85" />
<path d="M486.1 191.2L490 197.7L482.2 197.7Z" fill="#fff" stroke="#3030d8" stroke-width="0.85"/>
<path d="M495.9 209.4L499.7 215.8L492 215.8Z" fill="#fff" stroke="#3030d8" stroke-width="0.85"/>
<path d="M496.6 208.9L500.4 215.4L492.7 215.4Z" fill="#fff" stroke="#3030d8" stroke-width="0.85"/>
<path d="M505.6 222.3L509.5 228.7L501.8 228.7Z" fill="#fff" stroke="#3030d8" stroke-width="0.85"/>
<path d="M528.3 228.8L532.2 235.3L524.5 235.3Z" fill="#fff" stroke="#3030d8" stroke-width="0.85"/>
<rect x="477.7" y="223.5" width="5.6" height="5.6" fill="#fff" stroke="#d860d8" stroke-width="0.85"/>
<rect x="481.6" y="220.1" width="5.6" height="5.6" fill="#fff" stroke="#d860d8" stroke-width="0.85"/>
<rect x="516.5" y="202.2" width="5.6" height="5.6" fill="#fff" stroke="#d860d8" stroke-width="0.85"/>
<rect x="519.2" y="215.1" width="5.6" height="5.6" fill="#fff" stroke="#d860d8" stroke-width="0.85"/>
<rect x="526.9" y="206.1" width="5.6" height="5.6" fill="#fff" stroke="#d860d8" stroke-width="0.85"/>
<rect x="530.8" y="207.1" width="5.6" height="5.6" fill="#fff" stroke="#d860d8" stroke-width="0.85"/>
<rect x="540.9" y="217.6" width="5.6" height="5.6" fill="#fff" stroke="#d860d8" stroke-width="0.85"/>
<rect x="551.4" y="218.4" width="5.6" height="5.6" fill="#fff" stroke="#d860d8" stroke-width="0.85"/>
<rect x="561.8" y="222.1" width="5.6" height="5.6" fill="#fff" stroke="#d860d8" stroke-width="0.85"/>
<rect x="584.2" y="226.4" width="5.6" height="5.6" fill="#fff" stroke="#d860d8" stroke-width="0.85"/>
<rect x="613.5" y="226.4" width="5.6" height="5.6" fill="#fff" stroke="#d860d8" stroke-width="0.85"/>
<rect x="642.4" y="225.6" width="5.6" height="5.6" fill="#fff" stroke="#d860d8" stroke-width="0.85"/>
<rect x="674.6" y="224.2" width="5.6" height="5.6" fill="#fff" stroke="#d860d8" stroke-width="0.85"/>
<path d="M621.5 233.9L625.4 227.4L617.6 227.4Z" fill="#fff" stroke="#9c6c3c" stroke-width="0.85"/>
<path d="M639.7 232.6L643.5 226.2L635.8 226.2Z" fill="#fff" stroke="#9c6c3c" stroke-width="0.85"/>
<path d="M660.9 233.9L664.8 227.4L657.1 227.4Z" fill="#fff" stroke="#9c6c3c" stroke-width="0.85"/>
<polyline points="479.1,202.9 480,202.4 480.9,201.8 481.7,201.2 482.6,200.7 483.5,200.1 484.4,199.5 485.2,199.4 486.1,199.3 487,199.2 487.8,199.1 488.7,199.4 489.6,199.7 490.5,200.4 491.3,201.3 492.2,202.2 493.1,203.1 493.9,204 494.8,204.9 495.7,205.8 496.6,206.4 497.4,207 498.3,207.6 499.2,208.4 500.1,209.3 500.9,210.2 501.8,211.1 502.7,212.1 503.5,213 504.4,214 505.3,215 506.2,216 507,216.9 507.9,218.1 508.8,219.2 509.7,220.3 510.5,221.5 511.4,222 512.3,222.5 513.1,223 514,223.5 514.9,224 515.8,224.5 516.6,224.9 517.5,225.3 518.4,225.7 519.2,226.2 520.1,226.6 521,227 521.9,227.4 522.7,227.7 523.6,228.1 524.5,228.5 525.4,228.7 526.2,228.9 527.1,229 528,229.2 528.8,229.3 529.7,229.5 530.6,229.7 531.5,229.8 532.3,230 533.2,230.1 534.1,230.1 535,230.1 535.8,230.2 536.7,230.2 537.6,230.2 538.4,230.2 539.3,230.2 540.2,230.3 541.1,230.2 541.9,230.2 542.8,230.1 543.7,230.1 544.6,230.1 545.4,230 546.3,230 547.2,229.9 548,229.9 548.9,229.9 549.8,229.8 550.7,229.8 551.5,229.7 552.4,229.7 553.3,229.7 554.1,229.6 555,229.6 555.9,229.5 556.8,229.4 557.6,229.4 558.5,229.3 559.4,229.2 560.3,229.1 561.1,229.1 562,229 562.9,228.9 563.7,228.9 564.6,228.8 565.5,228.7 566.4,228.7 567.2,228.6 568.1,228.5 569,228.5 569.9,228.4 570.7,228.4 571.6,228.4 572.5,228.3 573.3,228.3 574.2,228.2 575.1,228.2 576,228.1 576.8,228.1 577.7,228 578.6,228 579.5,227.9 580.3,227.9 581.2,227.9 582.1,227.8 582.9,227.8 583.8,227.7 584.7,227.7 585.6,227.6 586.4,227.6 587.3,227.5 588.2,227.5 589,227.4 589.9,227.4 590.8,227.4 591.7,227.3 592.5,227.3 593.4,227.2 594.3,227.2 595.2,227.1 596,227.1 596.9,227.1 597.8,227 598.6,227 599.5,226.9 600.4,226.9 601.3,226.9 602.1,226.8 603,226.8 603.9,226.7 604.8,226.7 605.6,226.7 606.5,226.6 607.4,226.6 608.2,226.5 609.1,226.5 610,226.5 610.9,226.4 611.7,226.4 612.6,226.3 613.5,226.3 614.4,226.3 615.2,226.2 616.1,226.2 617,226.2 617.8,226.1 618.7,226.1 619.6,226.1 620.5,226.1 621.3,226 622.2,226 623.1,226 624,226 624.8,226 625.7,225.9 626.6,225.9 627.4,225.9 628.3,225.9 629.2,225.8 630.1,225.8 630.9,225.8 631.8,225.8 632.7,225.8 633.5,225.7 634.4,225.7 635.3,225.7 636.2,225.7 637,225.6 637.9,225.6 638.8,225.6 639.7,225.6 640.5,225.6 641.4,225.6 642.3,225.6 643.1,225.6 644,225.7 644.9,225.7 645.8,225.7 646.6,225.7 647.5,225.7 648.4,225.8 649.3,225.8 650.1,225.8 651,225.8 651.9,225.9 652.7,225.9 653.6,225.9 654.5,225.9 655.4,225.9 656.2,226 657.1,226 658,226 658.9,226 659.7,226.1 660.6,226.1 661.5,226.1 662.3,226.1 663.2,226.1 664.1,226.2 665,226.2 665.8,226.2 666.7,226.3 667.6,226.3 668.4,226.3 669.3,226.4 670.2,226.4 671.1,226.4 671.9,226.5 672.8,226.5 673.7,226.5 674.6,226.6 675.4,226.6 676.3,226.7" fill="none" stroke="#f01010" stroke-width="3.0" stroke-linejoin="round" stroke-linecap="round"/>
<line x1="440.4" y1="223" x2="453.6" y2="223" stroke="#f01010" stroke-width="0.85" />
<line x1="440.4" y1="221" x2="440.4" y2="225" stroke="#f01010" stroke-width="0.85" />
<line x1="453.6" y1="221" x2="453.6" y2="225" stroke="#f01010" stroke-width="0.85" />
<line x1="447" y1="227.3" x2="447" y2="218.8" stroke="#f01010" stroke-width="0.85" />
<line x1="445" y1="227.3" x2="449" y2="227.3" stroke="#f01010" stroke-width="0.85" />
<line x1="445" y1="218.8" x2="449" y2="218.8" stroke="#f01010" stroke-width="0.85" />
<circle cx="447" cy="223" r="2" fill="#f01010"/>
<line x1="444.2" y1="223.5" x2="457.5" y2="223.5" stroke="#f01010" stroke-width="0.85" />
<line x1="444.2" y1="221.5" x2="444.2" y2="225.5" stroke="#f01010" stroke-width="0.85" />
<line x1="457.5" y1="221.5" x2="457.5" y2="225.5" stroke="#f01010" stroke-width="0.85" />
<line x1="450.8" y1="227.7" x2="450.8" y2="219.3" stroke="#f01010" stroke-width="0.85" />
<line x1="448.8" y1="227.7" x2="452.8" y2="227.7" stroke="#f01010" stroke-width="0.85" />
<line x1="448.8" y1="219.3" x2="452.8" y2="219.3" stroke="#f01010" stroke-width="0.85" />
<circle cx="450.8" cy="223.5" r="2" fill="#f01010"/>
<line x1="448.8" y1="223" x2="462" y2="223" stroke="#f01010" stroke-width="0.85" />
<line x1="448.8" y1="221" x2="448.8" y2="225" stroke="#f01010" stroke-width="0.85" />
<line x1="462" y1="221" x2="462" y2="225" stroke="#f01010" stroke-width="0.85" />
<line x1="455.4" y1="227.3" x2="455.4" y2="218.8" stroke="#f01010" stroke-width="0.85" />
<line x1="453.4" y1="227.3" x2="457.4" y2="227.3" stroke="#f01010" stroke-width="0.85" />
<line x1="453.4" y1="218.8" x2="457.4" y2="218.8" stroke="#f01010" stroke-width="0.85" />
<circle cx="455.4" cy="223" r="2" fill="#f01010"/>
<line x1="452.9" y1="222" x2="466.2" y2="222" stroke="#f01010" stroke-width="0.85" />
<line x1="452.9" y1="220" x2="452.9" y2="224" stroke="#f01010" stroke-width="0.85" />
<line x1="466.2" y1="220" x2="466.2" y2="224" stroke="#f01010" stroke-width="0.85" />
<line x1="459.6" y1="226.2" x2="459.6" y2="217.7" stroke="#f01010" stroke-width="0.85" />
<line x1="457.6" y1="226.2" x2="461.6" y2="226.2" stroke="#f01010" stroke-width="0.85" />
<line x1="457.6" y1="217.7" x2="461.6" y2="217.7" stroke="#f01010" stroke-width="0.85" />
<circle cx="459.6" cy="222" r="2" fill="#f01010"/>
<line x1="456.8" y1="219.1" x2="470" y2="219.1" stroke="#f01010" stroke-width="0.85" />
<line x1="456.8" y1="217.1" x2="456.8" y2="221.1" stroke="#f01010" stroke-width="0.85" />
<line x1="470" y1="217.1" x2="470" y2="221.1" stroke="#f01010" stroke-width="0.85" />
<line x1="463.4" y1="223.4" x2="463.4" y2="214.9" stroke="#f01010" stroke-width="0.85" />
<line x1="461.4" y1="223.4" x2="465.4" y2="223.4" stroke="#f01010" stroke-width="0.85" />
<line x1="461.4" y1="214.9" x2="465.4" y2="214.9" stroke="#f01010" stroke-width="0.85" />
<circle cx="463.4" cy="219.1" r="2" fill="#f01010"/>
<line x1="460.3" y1="214.9" x2="473.5" y2="214.9" stroke="#f01010" stroke-width="0.85" />
<line x1="460.3" y1="212.9" x2="460.3" y2="216.9" stroke="#f01010" stroke-width="0.85" />
<line x1="473.5" y1="212.9" x2="473.5" y2="216.9" stroke="#f01010" stroke-width="0.85" />
<line x1="466.9" y1="219.1" x2="466.9" y2="210.7" stroke="#f01010" stroke-width="0.85" />
<line x1="464.9" y1="219.1" x2="468.9" y2="219.1" stroke="#f01010" stroke-width="0.85" />
<line x1="464.9" y1="210.7" x2="468.9" y2="210.7" stroke="#f01010" stroke-width="0.85" />
<circle cx="466.9" cy="214.9" r="2" fill="#f01010"/>
<line x1="463.8" y1="210.8" x2="477" y2="210.8" stroke="#f01010" stroke-width="0.85" />
<line x1="463.8" y1="208.8" x2="463.8" y2="212.8" stroke="#f01010" stroke-width="0.85" />
<line x1="477" y1="208.8" x2="477" y2="212.8" stroke="#f01010" stroke-width="0.85" />
<line x1="470.4" y1="215.1" x2="470.4" y2="206.6" stroke="#f01010" stroke-width="0.85" />
<line x1="468.4" y1="215.1" x2="472.4" y2="215.1" stroke="#f01010" stroke-width="0.85" />
<line x1="468.4" y1="206.6" x2="472.4" y2="206.6" stroke="#f01010" stroke-width="0.85" />
<circle cx="470.4" cy="210.8" r="2" fill="#f01010"/>
<line x1="467.6" y1="206.6" x2="480.9" y2="206.6" stroke="#f01010" stroke-width="0.85" />
<line x1="467.6" y1="204.6" x2="467.6" y2="208.6" stroke="#f01010" stroke-width="0.85" />
<line x1="480.9" y1="204.6" x2="480.9" y2="208.6" stroke="#f01010" stroke-width="0.85" />
<line x1="474.2" y1="210.8" x2="474.2" y2="202.4" stroke="#f01010" stroke-width="0.85" />
<line x1="472.2" y1="210.8" x2="476.2" y2="210.8" stroke="#f01010" stroke-width="0.85" />
<line x1="472.2" y1="202.4" x2="476.2" y2="202.4" stroke="#f01010" stroke-width="0.85" />
<circle cx="474.2" cy="206.6" r="2" fill="#f01010"/>
<line x1="473.9" y1="204.2" x2="480.9" y2="204.2" stroke="#f01010" stroke-width="0.85" />
<line x1="473.9" y1="202.7" x2="473.9" y2="205.7" stroke="#f01010" stroke-width="0.85" />
<line x1="480.9" y1="202.7" x2="480.9" y2="205.7" stroke="#f01010" stroke-width="0.85" />
<line x1="477.4" y1="208" x2="477.4" y2="200.4" stroke="#f01010" stroke-width="0.85" />
<line x1="475.9" y1="208" x2="478.9" y2="208" stroke="#f01010" stroke-width="0.85" />
<line x1="475.9" y1="200.4" x2="478.9" y2="200.4" stroke="#f01010" stroke-width="0.85" />
<circle cx="477.4" cy="204.2" r="1.7" fill="#f01010"/>
<line x1="475.6" y1="202.9" x2="482.6" y2="202.9" stroke="#f01010" stroke-width="0.85" />
<line x1="475.6" y1="201.4" x2="475.6" y2="204.4" stroke="#f01010" stroke-width="0.85" />
<line x1="482.6" y1="201.4" x2="482.6" y2="204.4" stroke="#f01010" stroke-width="0.85" />
<line x1="479.1" y1="206.7" x2="479.1" y2="199.2" stroke="#f01010" stroke-width="0.85" />
<line x1="477.6" y1="206.7" x2="480.6" y2="206.7" stroke="#f01010" stroke-width="0.85" />
<line x1="477.6" y1="199.2" x2="480.6" y2="199.2" stroke="#f01010" stroke-width="0.85" />
<circle cx="479.1" cy="202.9" r="1.7" fill="#f01010"/>
<line x1="477.4" y1="201.8" x2="484.4" y2="201.8" stroke="#f01010" stroke-width="0.85" />
<line x1="477.4" y1="200.3" x2="477.4" y2="203.3" stroke="#f01010" stroke-width="0.85" />
<line x1="484.4" y1="200.3" x2="484.4" y2="203.3" stroke="#f01010" stroke-width="0.85" />
<line x1="480.9" y1="205.6" x2="480.9" y2="198" stroke="#f01010" stroke-width="0.85" />
<line x1="479.4" y1="205.6" x2="482.4" y2="205.6" stroke="#f01010" stroke-width="0.85" />
<line x1="479.4" y1="198" x2="482.4" y2="198" stroke="#f01010" stroke-width="0.85" />
<circle cx="480.9" cy="201.8" r="1.7" fill="#f01010"/>
<line x1="479.1" y1="200.7" x2="486.1" y2="200.7" stroke="#f01010" stroke-width="0.85" />
<line x1="479.1" y1="199.2" x2="479.1" y2="202.2" stroke="#f01010" stroke-width="0.85" />
<line x1="486.1" y1="199.2" x2="486.1" y2="202.2" stroke="#f01010" stroke-width="0.85" />
<line x1="482.6" y1="204.4" x2="482.6" y2="196.9" stroke="#f01010" stroke-width="0.85" />
<line x1="481.1" y1="204.4" x2="484.1" y2="204.4" stroke="#f01010" stroke-width="0.85" />
<line x1="481.1" y1="196.9" x2="484.1" y2="196.9" stroke="#f01010" stroke-width="0.85" />
<circle cx="482.6" cy="200.7" r="1.7" fill="#f01010"/>
<line x1="480.9" y1="199.5" x2="487.8" y2="199.5" stroke="#f01010" stroke-width="0.85" />
<line x1="480.9" y1="198" x2="480.9" y2="201" stroke="#f01010" stroke-width="0.85" />
<line x1="487.8" y1="198" x2="487.8" y2="201" stroke="#f01010" stroke-width="0.85" />
<line x1="484.4" y1="203.3" x2="484.4" y2="195.8" stroke="#f01010" stroke-width="0.85" />
<line x1="482.9" y1="203.3" x2="485.9" y2="203.3" stroke="#f01010" stroke-width="0.85" />
<line x1="482.9" y1="195.8" x2="485.9" y2="195.8" stroke="#f01010" stroke-width="0.85" />
<circle cx="484.4" cy="199.5" r="1.7" fill="#f01010"/>
<line x1="482.6" y1="199.3" x2="489.6" y2="199.3" stroke="#f01010" stroke-width="0.85" />
<line x1="482.6" y1="197.8" x2="482.6" y2="200.8" stroke="#f01010" stroke-width="0.85" />
<line x1="489.6" y1="197.8" x2="489.6" y2="200.8" stroke="#f01010" stroke-width="0.85" />
<line x1="486.1" y1="203.1" x2="486.1" y2="195.5" stroke="#f01010" stroke-width="0.85" />
<line x1="484.6" y1="203.1" x2="487.6" y2="203.1" stroke="#f01010" stroke-width="0.85" />
<line x1="484.6" y1="195.5" x2="487.6" y2="195.5" stroke="#f01010" stroke-width="0.85" />
<circle cx="486.1" cy="199.3" r="1.7" fill="#f01010"/>
<line x1="484.4" y1="199.1" x2="491.3" y2="199.1" stroke="#f01010" stroke-width="0.85" />
<line x1="484.4" y1="197.6" x2="484.4" y2="200.6" stroke="#f01010" stroke-width="0.85" />
<line x1="491.3" y1="197.6" x2="491.3" y2="200.6" stroke="#f01010" stroke-width="0.85" />
<line x1="487.8" y1="202.8" x2="487.8" y2="195.3" stroke="#f01010" stroke-width="0.85" />
<line x1="486.3" y1="202.8" x2="489.3" y2="202.8" stroke="#f01010" stroke-width="0.85" />
<line x1="486.3" y1="195.3" x2="489.3" y2="195.3" stroke="#f01010" stroke-width="0.85" />
<circle cx="487.8" cy="199.1" r="1.7" fill="#f01010"/>
<line x1="486.1" y1="199.7" x2="493.1" y2="199.7" stroke="#f01010" stroke-width="0.85" />
<line x1="486.1" y1="198.2" x2="486.1" y2="201.2" stroke="#f01010" stroke-width="0.85" />
<line x1="493.1" y1="198.2" x2="493.1" y2="201.2" stroke="#f01010" stroke-width="0.85" />
<line x1="489.6" y1="203.5" x2="489.6" y2="196" stroke="#f01010" stroke-width="0.85" />
<line x1="488.1" y1="203.5" x2="491.1" y2="203.5" stroke="#f01010" stroke-width="0.85" />
<line x1="488.1" y1="196" x2="491.1" y2="196" stroke="#f01010" stroke-width="0.85" />
<circle cx="489.6" cy="199.7" r="1.7" fill="#f01010"/>
<line x1="487.8" y1="201.3" x2="494.8" y2="201.3" stroke="#f01010" stroke-width="0.85" />
<line x1="487.8" y1="199.8" x2="487.8" y2="202.8" stroke="#f01010" stroke-width="0.85" />
<line x1="494.8" y1="199.8" x2="494.8" y2="202.8" stroke="#f01010" stroke-width="0.85" />
<line x1="491.3" y1="205.1" x2="491.3" y2="197.5" stroke="#f01010" stroke-width="0.85" />
<line x1="489.8" y1="205.1" x2="492.8" y2="205.1" stroke="#f01010" stroke-width="0.85" />
<line x1="489.8" y1="197.5" x2="492.8" y2="197.5" stroke="#f01010" stroke-width="0.85" />
<circle cx="491.3" cy="201.3" r="1.7" fill="#f01010"/>
<line x1="489.6" y1="203.1" x2="496.6" y2="203.1" stroke="#f01010" stroke-width="0.85" />
<line x1="489.6" y1="201.6" x2="489.6" y2="204.6" stroke="#f01010" stroke-width="0.85" />
<line x1="496.6" y1="201.6" x2="496.6" y2="204.6" stroke="#f01010" stroke-width="0.85" />
<line x1="493.1" y1="206.9" x2="493.1" y2="199.4" stroke="#f01010" stroke-width="0.85" />
<line x1="491.6" y1="206.9" x2="494.6" y2="206.9" stroke="#f01010" stroke-width="0.85" />
<line x1="491.6" y1="199.4" x2="494.6" y2="199.4" stroke="#f01010" stroke-width="0.85" />
<circle cx="493.1" cy="203.1" r="1.7" fill="#f01010"/>
<line x1="491.3" y1="204.9" x2="498.3" y2="204.9" stroke="#f01010" stroke-width="0.85" />
<line x1="491.3" y1="203.4" x2="491.3" y2="206.4" stroke="#f01010" stroke-width="0.85" />
<line x1="498.3" y1="203.4" x2="498.3" y2="206.4" stroke="#f01010" stroke-width="0.85" />
<line x1="494.8" y1="208.7" x2="494.8" y2="201.2" stroke="#f01010" stroke-width="0.85" />
<line x1="493.3" y1="208.7" x2="496.3" y2="208.7" stroke="#f01010" stroke-width="0.85" />
<line x1="493.3" y1="201.2" x2="496.3" y2="201.2" stroke="#f01010" stroke-width="0.85" />
<circle cx="494.8" cy="204.9" r="1.7" fill="#f01010"/>
<line x1="493.1" y1="206.4" x2="500.1" y2="206.4" stroke="#f01010" stroke-width="0.85" />
<line x1="493.1" y1="204.9" x2="493.1" y2="207.9" stroke="#f01010" stroke-width="0.85" />
<line x1="500.1" y1="204.9" x2="500.1" y2="207.9" stroke="#f01010" stroke-width="0.85" />
<line x1="496.6" y1="210.1" x2="496.6" y2="202.6" stroke="#f01010" stroke-width="0.85" />
<line x1="495.1" y1="210.1" x2="498.1" y2="210.1" stroke="#f01010" stroke-width="0.85" />
<line x1="495.1" y1="202.6" x2="498.1" y2="202.6" stroke="#f01010" stroke-width="0.85" />
<circle cx="496.6" cy="206.4" r="1.7" fill="#f01010"/>
<line x1="494.8" y1="207.6" x2="501.8" y2="207.6" stroke="#f01010" stroke-width="0.85" />
<line x1="494.8" y1="206.1" x2="494.8" y2="209.1" stroke="#f01010" stroke-width="0.85" />
<line x1="501.8" y1="206.1" x2="501.8" y2="209.1" stroke="#f01010" stroke-width="0.85" />
<line x1="498.3" y1="211.4" x2="498.3" y2="203.8" stroke="#f01010" stroke-width="0.85" />
<line x1="496.8" y1="211.4" x2="499.8" y2="211.4" stroke="#f01010" stroke-width="0.85" />
<line x1="496.8" y1="203.8" x2="499.8" y2="203.8" stroke="#f01010" stroke-width="0.85" />
<circle cx="498.3" cy="207.6" r="1.7" fill="#f01010"/>
<line x1="496.6" y1="209.3" x2="503.5" y2="209.3" stroke="#f01010" stroke-width="0.85" />
<line x1="496.6" y1="207.8" x2="496.6" y2="210.8" stroke="#f01010" stroke-width="0.85" />
<line x1="503.5" y1="207.8" x2="503.5" y2="210.8" stroke="#f01010" stroke-width="0.85" />
<line x1="500.1" y1="213.1" x2="500.1" y2="205.5" stroke="#f01010" stroke-width="0.85" />
<line x1="498.6" y1="213.1" x2="501.6" y2="213.1" stroke="#f01010" stroke-width="0.85" />
<line x1="498.6" y1="205.5" x2="501.6" y2="205.5" stroke="#f01010" stroke-width="0.85" />
<circle cx="500.1" cy="209.3" r="1.7" fill="#f01010"/>
<line x1="498.3" y1="211.1" x2="505.3" y2="211.1" stroke="#f01010" stroke-width="0.85" />
<line x1="498.3" y1="209.6" x2="498.3" y2="212.6" stroke="#f01010" stroke-width="0.85" />
<line x1="505.3" y1="209.6" x2="505.3" y2="212.6" stroke="#f01010" stroke-width="0.85" />
<line x1="501.8" y1="214.9" x2="501.8" y2="207.4" stroke="#f01010" stroke-width="0.85" />
<line x1="500.3" y1="214.9" x2="503.3" y2="214.9" stroke="#f01010" stroke-width="0.85" />
<line x1="500.3" y1="207.4" x2="503.3" y2="207.4" stroke="#f01010" stroke-width="0.85" />
<circle cx="501.8" cy="211.1" r="1.7" fill="#f01010"/>
<line x1="500.1" y1="213" x2="507" y2="213" stroke="#f01010" stroke-width="0.85" />
<line x1="500.1" y1="211.5" x2="500.1" y2="214.5" stroke="#f01010" stroke-width="0.85" />
<line x1="507" y1="211.5" x2="507" y2="214.5" stroke="#f01010" stroke-width="0.85" />
<line x1="503.5" y1="216.8" x2="503.5" y2="209.3" stroke="#f01010" stroke-width="0.85" />
<line x1="502" y1="216.8" x2="505" y2="216.8" stroke="#f01010" stroke-width="0.85" />
<line x1="502" y1="209.3" x2="505" y2="209.3" stroke="#f01010" stroke-width="0.85" />
<circle cx="503.5" cy="213" r="1.7" fill="#f01010"/>
<line x1="501.8" y1="215" x2="508.8" y2="215" stroke="#f01010" stroke-width="0.85" />
<line x1="501.8" y1="213.5" x2="501.8" y2="216.5" stroke="#f01010" stroke-width="0.85" />
<line x1="508.8" y1="213.5" x2="508.8" y2="216.5" stroke="#f01010" stroke-width="0.85" />
<line x1="505.3" y1="218.7" x2="505.3" y2="211.2" stroke="#f01010" stroke-width="0.85" />
<line x1="503.8" y1="218.7" x2="506.8" y2="218.7" stroke="#f01010" stroke-width="0.85" />
<line x1="503.8" y1="211.2" x2="506.8" y2="211.2" stroke="#f01010" stroke-width="0.85" />
<circle cx="505.3" cy="215" r="1.7" fill="#f01010"/>
<line x1="503.5" y1="216.9" x2="510.5" y2="216.9" stroke="#f01010" stroke-width="0.85" />
<line x1="503.5" y1="215.4" x2="503.5" y2="218.4" stroke="#f01010" stroke-width="0.85" />
<line x1="510.5" y1="215.4" x2="510.5" y2="218.4" stroke="#f01010" stroke-width="0.85" />
<line x1="507" y1="220.7" x2="507" y2="213.2" stroke="#f01010" stroke-width="0.85" />
<line x1="505.5" y1="220.7" x2="508.5" y2="220.7" stroke="#f01010" stroke-width="0.85" />
<line x1="505.5" y1="213.2" x2="508.5" y2="213.2" stroke="#f01010" stroke-width="0.85" />
<circle cx="507" cy="216.9" r="1.7" fill="#f01010"/>
<line x1="505.3" y1="219.2" x2="512.3" y2="219.2" stroke="#f01010" stroke-width="0.85" />
<line x1="505.3" y1="217.7" x2="505.3" y2="220.7" stroke="#f01010" stroke-width="0.85" />
<line x1="512.3" y1="217.7" x2="512.3" y2="220.7" stroke="#f01010" stroke-width="0.85" />
<line x1="508.8" y1="223" x2="508.8" y2="215.4" stroke="#f01010" stroke-width="0.85" />
<line x1="507.3" y1="223" x2="510.3" y2="223" stroke="#f01010" stroke-width="0.85" />
<line x1="507.3" y1="215.4" x2="510.3" y2="215.4" stroke="#f01010" stroke-width="0.85" />
<circle cx="508.8" cy="219.2" r="1.7" fill="#f01010"/>
<line x1="507" y1="221.5" x2="514" y2="221.5" stroke="#f01010" stroke-width="0.85" />
<line x1="507" y1="220" x2="507" y2="223" stroke="#f01010" stroke-width="0.85" />
<line x1="514" y1="220" x2="514" y2="223" stroke="#f01010" stroke-width="0.85" />
<line x1="510.5" y1="225.2" x2="510.5" y2="217.7" stroke="#f01010" stroke-width="0.85" />
<line x1="509" y1="225.2" x2="512" y2="225.2" stroke="#f01010" stroke-width="0.85" />
<line x1="509" y1="217.7" x2="512" y2="217.7" stroke="#f01010" stroke-width="0.85" />
<circle cx="510.5" cy="221.5" r="1.7" fill="#f01010"/>
<line x1="508.8" y1="222.5" x2="515.8" y2="222.5" stroke="#f01010" stroke-width="0.85" />
<line x1="508.8" y1="221" x2="508.8" y2="224" stroke="#f01010" stroke-width="0.85" />
<line x1="515.8" y1="221" x2="515.8" y2="224" stroke="#f01010" stroke-width="0.85" />
<line x1="512.3" y1="226.2" x2="512.3" y2="218.7" stroke="#f01010" stroke-width="0.85" />
<line x1="510.8" y1="226.2" x2="513.8" y2="226.2" stroke="#f01010" stroke-width="0.85" />
<line x1="510.8" y1="218.7" x2="513.8" y2="218.7" stroke="#f01010" stroke-width="0.85" />
<circle cx="512.3" cy="222.5" r="1.7" fill="#f01010"/>
<line x1="510.5" y1="223.5" x2="517.5" y2="223.5" stroke="#f01010" stroke-width="0.85" />
<line x1="510.5" y1="222" x2="510.5" y2="225" stroke="#f01010" stroke-width="0.85" />
<line x1="517.5" y1="222" x2="517.5" y2="225" stroke="#f01010" stroke-width="0.85" />
<line x1="514" y1="227.2" x2="514" y2="219.7" stroke="#f01010" stroke-width="0.85" />
<line x1="512.5" y1="227.2" x2="515.5" y2="227.2" stroke="#f01010" stroke-width="0.85" />
<line x1="512.5" y1="219.7" x2="515.5" y2="219.7" stroke="#f01010" stroke-width="0.85" />
<circle cx="514" cy="223.5" r="1.7" fill="#f01010"/>
<line x1="512.3" y1="224.5" x2="519.2" y2="224.5" stroke="#f01010" stroke-width="0.85" />
<line x1="512.3" y1="223" x2="512.3" y2="226" stroke="#f01010" stroke-width="0.85" />
<line x1="519.2" y1="223" x2="519.2" y2="226" stroke="#f01010" stroke-width="0.85" />
<line x1="515.8" y1="227" x2="515.8" y2="222" stroke="#f01010" stroke-width="0.85" />
<line x1="514.3" y1="227" x2="517.3" y2="227" stroke="#f01010" stroke-width="0.85" />
<line x1="514.3" y1="222" x2="517.3" y2="222" stroke="#f01010" stroke-width="0.85" />
<circle cx="515.8" cy="224.5" r="1.7" fill="#f01010"/>
<line x1="514" y1="225.3" x2="521" y2="225.3" stroke="#f01010" stroke-width="0.85" />
<line x1="514" y1="223.8" x2="514" y2="226.8" stroke="#f01010" stroke-width="0.85" />
<line x1="521" y1="223.8" x2="521" y2="226.8" stroke="#f01010" stroke-width="0.85" />
<line x1="517.5" y1="227.8" x2="517.5" y2="222.8" stroke="#f01010" stroke-width="0.85" />
<line x1="516" y1="227.8" x2="519" y2="227.8" stroke="#f01010" stroke-width="0.85" />
<line x1="516" y1="222.8" x2="519" y2="222.8" stroke="#f01010" stroke-width="0.85" />
<circle cx="517.5" cy="225.3" r="1.7" fill="#f01010"/>
<line x1="515.8" y1="226.2" x2="522.7" y2="226.2" stroke="#f01010" stroke-width="0.85" />
<line x1="515.8" y1="224.7" x2="515.8" y2="227.7" stroke="#f01010" stroke-width="0.85" />
<line x1="522.7" y1="224.7" x2="522.7" y2="227.7" stroke="#f01010" stroke-width="0.85" />
<line x1="519.2" y1="228.7" x2="519.2" y2="223.6" stroke="#f01010" stroke-width="0.85" />
<line x1="517.8" y1="228.7" x2="520.8" y2="228.7" stroke="#f01010" stroke-width="0.85" />
<line x1="517.8" y1="223.6" x2="520.8" y2="223.6" stroke="#f01010" stroke-width="0.85" />
<circle cx="519.2" cy="226.2" r="1.7" fill="#f01010"/>
<line x1="517.5" y1="227" x2="524.5" y2="227" stroke="#f01010" stroke-width="0.85" />
<line x1="517.5" y1="225.5" x2="517.5" y2="228.5" stroke="#f01010" stroke-width="0.85" />
<line x1="524.5" y1="225.5" x2="524.5" y2="228.5" stroke="#f01010" stroke-width="0.85" />
<line x1="521" y1="229.5" x2="521" y2="224.5" stroke="#f01010" stroke-width="0.85" />
<line x1="519.5" y1="229.5" x2="522.5" y2="229.5" stroke="#f01010" stroke-width="0.85" />
<line x1="519.5" y1="224.5" x2="522.5" y2="224.5" stroke="#f01010" stroke-width="0.85" />
<circle cx="521" cy="227" r="1.7" fill="#f01010"/>
<line x1="519.2" y1="227.7" x2="526.2" y2="227.7" stroke="#f01010" stroke-width="0.85" />
<line x1="519.2" y1="226.2" x2="519.2" y2="229.2" stroke="#f01010" stroke-width="0.85" />
<line x1="526.2" y1="226.2" x2="526.2" y2="229.2" stroke="#f01010" stroke-width="0.85" />
<line x1="522.7" y1="230.3" x2="522.7" y2="225.2" stroke="#f01010" stroke-width="0.85" />
<line x1="521.2" y1="230.3" x2="524.2" y2="230.3" stroke="#f01010" stroke-width="0.85" />
<line x1="521.2" y1="225.2" x2="524.2" y2="225.2" stroke="#f01010" stroke-width="0.85" />
<circle cx="522.7" cy="227.7" r="1.7" fill="#f01010"/>
<line x1="521" y1="228.5" x2="528" y2="228.5" stroke="#f01010" stroke-width="0.85" />
<line x1="521" y1="227" x2="521" y2="230" stroke="#f01010" stroke-width="0.85" />
<line x1="528" y1="227" x2="528" y2="230" stroke="#f01010" stroke-width="0.85" />
<line x1="524.5" y1="231" x2="524.5" y2="226" stroke="#f01010" stroke-width="0.85" />
<line x1="523" y1="231" x2="526" y2="231" stroke="#f01010" stroke-width="0.85" />
<line x1="523" y1="226" x2="526" y2="226" stroke="#f01010" stroke-width="0.85" />
<circle cx="524.5" cy="228.5" r="1.7" fill="#f01010"/>
<line x1="522.7" y1="228.9" x2="529.7" y2="228.9" stroke="#f01010" stroke-width="0.85" />
<line x1="522.7" y1="227.4" x2="522.7" y2="230.4" stroke="#f01010" stroke-width="0.85" />
<line x1="529.7" y1="227.4" x2="529.7" y2="230.4" stroke="#f01010" stroke-width="0.85" />
<line x1="526.2" y1="231.4" x2="526.2" y2="226.4" stroke="#f01010" stroke-width="0.85" />
<line x1="524.7" y1="231.4" x2="527.7" y2="231.4" stroke="#f01010" stroke-width="0.85" />
<line x1="524.7" y1="226.4" x2="527.7" y2="226.4" stroke="#f01010" stroke-width="0.85" />
<circle cx="526.2" cy="228.9" r="1.7" fill="#f01010"/>
<line x1="524.5" y1="229.2" x2="531.5" y2="229.2" stroke="#f01010" stroke-width="0.85" />
<line x1="524.5" y1="227.7" x2="524.5" y2="230.7" stroke="#f01010" stroke-width="0.85" />
<line x1="531.5" y1="227.7" x2="531.5" y2="230.7" stroke="#f01010" stroke-width="0.85" />
<line x1="528" y1="231.7" x2="528" y2="226.7" stroke="#f01010" stroke-width="0.85" />
<line x1="526.5" y1="231.7" x2="529.5" y2="231.7" stroke="#f01010" stroke-width="0.85" />
<line x1="526.5" y1="226.7" x2="529.5" y2="226.7" stroke="#f01010" stroke-width="0.85" />
<circle cx="528" cy="229.2" r="1.7" fill="#f01010"/>
<line x1="526.2" y1="229.5" x2="533.2" y2="229.5" stroke="#f01010" stroke-width="0.85" />
<line x1="526.2" y1="228" x2="526.2" y2="231" stroke="#f01010" stroke-width="0.85" />
<line x1="533.2" y1="228" x2="533.2" y2="231" stroke="#f01010" stroke-width="0.85" />
<line x1="529.7" y1="232" x2="529.7" y2="227" stroke="#f01010" stroke-width="0.85" />
<line x1="528.2" y1="232" x2="531.2" y2="232" stroke="#f01010" stroke-width="0.85" />
<line x1="528.2" y1="227" x2="531.2" y2="227" stroke="#f01010" stroke-width="0.85" />
<circle cx="529.7" cy="229.5" r="1.7" fill="#f01010"/>
<line x1="528" y1="229.8" x2="535" y2="229.8" stroke="#f01010" stroke-width="0.85" />
<line x1="528" y1="228.3" x2="528" y2="231.3" stroke="#f01010" stroke-width="0.85" />
<line x1="535" y1="228.3" x2="535" y2="231.3" stroke="#f01010" stroke-width="0.85" />
<line x1="531.5" y1="232.3" x2="531.5" y2="227.3" stroke="#f01010" stroke-width="0.85" />
<line x1="530" y1="232.3" x2="533" y2="232.3" stroke="#f01010" stroke-width="0.85" />
<line x1="530" y1="227.3" x2="533" y2="227.3" stroke="#f01010" stroke-width="0.85" />
<circle cx="531.5" cy="229.8" r="1.7" fill="#f01010"/>
<line x1="529.7" y1="230.1" x2="536.7" y2="230.1" stroke="#f01010" stroke-width="0.85" />
<line x1="529.7" y1="228.6" x2="529.7" y2="231.6" stroke="#f01010" stroke-width="0.85" />
<line x1="536.7" y1="228.6" x2="536.7" y2="231.6" stroke="#f01010" stroke-width="0.85" />
<line x1="533.2" y1="232.6" x2="533.2" y2="227.6" stroke="#f01010" stroke-width="0.85" />
<line x1="531.7" y1="232.6" x2="534.7" y2="232.6" stroke="#f01010" stroke-width="0.85" />
<line x1="531.7" y1="227.6" x2="534.7" y2="227.6" stroke="#f01010" stroke-width="0.85" />
<circle cx="533.2" cy="230.1" r="1.7" fill="#f01010"/>
<line x1="531.5" y1="230.1" x2="538.4" y2="230.1" stroke="#f01010" stroke-width="0.85" />
<line x1="531.5" y1="228.6" x2="531.5" y2="231.6" stroke="#f01010" stroke-width="0.85" />
<line x1="538.4" y1="228.6" x2="538.4" y2="231.6" stroke="#f01010" stroke-width="0.85" />
<line x1="535" y1="232.7" x2="535" y2="227.6" stroke="#f01010" stroke-width="0.85" />
<line x1="533.5" y1="232.7" x2="536.5" y2="232.7" stroke="#f01010" stroke-width="0.85" />
<line x1="533.5" y1="227.6" x2="536.5" y2="227.6" stroke="#f01010" stroke-width="0.85" />
<circle cx="535" cy="230.1" r="1.7" fill="#f01010"/>
<line x1="533.2" y1="230.2" x2="540.2" y2="230.2" stroke="#f01010" stroke-width="0.85" />
<line x1="533.2" y1="228.7" x2="533.2" y2="231.7" stroke="#f01010" stroke-width="0.85" />
<line x1="540.2" y1="228.7" x2="540.2" y2="231.7" stroke="#f01010" stroke-width="0.85" />
<line x1="536.7" y1="232.7" x2="536.7" y2="227.7" stroke="#f01010" stroke-width="0.85" />
<line x1="535.2" y1="232.7" x2="538.2" y2="232.7" stroke="#f01010" stroke-width="0.85" />
<line x1="535.2" y1="227.7" x2="538.2" y2="227.7" stroke="#f01010" stroke-width="0.85" />
<circle cx="536.7" cy="230.2" r="1.7" fill="#f01010"/>
<line x1="535" y1="230.2" x2="541.9" y2="230.2" stroke="#f01010" stroke-width="0.85" />
<line x1="535" y1="228.7" x2="535" y2="231.7" stroke="#f01010" stroke-width="0.85" />
<line x1="541.9" y1="228.7" x2="541.9" y2="231.7" stroke="#f01010" stroke-width="0.85" />
<line x1="538.4" y1="232.7" x2="538.4" y2="227.7" stroke="#f01010" stroke-width="0.85" />
<line x1="536.9" y1="232.7" x2="539.9" y2="232.7" stroke="#f01010" stroke-width="0.85" />
<line x1="536.9" y1="227.7" x2="539.9" y2="227.7" stroke="#f01010" stroke-width="0.85" />
<circle cx="538.4" cy="230.2" r="1.7" fill="#f01010"/>
<line x1="536.7" y1="230.3" x2="543.7" y2="230.3" stroke="#f01010" stroke-width="0.85" />
<line x1="536.7" y1="228.8" x2="536.7" y2="231.8" stroke="#f01010" stroke-width="0.85" />
<line x1="543.7" y1="228.8" x2="543.7" y2="231.8" stroke="#f01010" stroke-width="0.85" />
<line x1="540.2" y1="232.8" x2="540.2" y2="227.7" stroke="#f01010" stroke-width="0.85" />
<line x1="538.7" y1="232.8" x2="541.7" y2="232.8" stroke="#f01010" stroke-width="0.85" />
<line x1="538.7" y1="227.7" x2="541.7" y2="227.7" stroke="#f01010" stroke-width="0.85" />
<circle cx="540.2" cy="230.3" r="1.7" fill="#f01010"/>
<line x1="538.4" y1="230.2" x2="545.4" y2="230.2" stroke="#f01010" stroke-width="0.85" />
<line x1="538.4" y1="228.7" x2="538.4" y2="231.7" stroke="#f01010" stroke-width="0.85" />
<line x1="545.4" y1="228.7" x2="545.4" y2="231.7" stroke="#f01010" stroke-width="0.85" />
<line x1="541.9" y1="232.7" x2="541.9" y2="227.7" stroke="#f01010" stroke-width="0.85" />
<line x1="540.4" y1="232.7" x2="543.4" y2="232.7" stroke="#f01010" stroke-width="0.85" />
<line x1="540.4" y1="227.7" x2="543.4" y2="227.7" stroke="#f01010" stroke-width="0.85" />
<circle cx="541.9" cy="230.2" r="1.7" fill="#f01010"/>
<line x1="540.2" y1="230.1" x2="547.2" y2="230.1" stroke="#f01010" stroke-width="0.85" />
<line x1="540.2" y1="228.6" x2="540.2" y2="231.6" stroke="#f01010" stroke-width="0.85" />
<line x1="547.2" y1="228.6" x2="547.2" y2="231.6" stroke="#f01010" stroke-width="0.85" />
<line x1="543.7" y1="232.6" x2="543.7" y2="227.6" stroke="#f01010" stroke-width="0.85" />
<line x1="542.2" y1="232.6" x2="545.2" y2="232.6" stroke="#f01010" stroke-width="0.85" />
<line x1="542.2" y1="227.6" x2="545.2" y2="227.6" stroke="#f01010" stroke-width="0.85" />
<circle cx="543.7" cy="230.1" r="1.7" fill="#f01010"/>
<line x1="541.9" y1="230" x2="548.9" y2="230" stroke="#f01010" stroke-width="0.85" />
<line x1="541.9" y1="228.5" x2="541.9" y2="231.5" stroke="#f01010" stroke-width="0.85" />
<line x1="548.9" y1="228.5" x2="548.9" y2="231.5" stroke="#f01010" stroke-width="0.85" />
<line x1="545.4" y1="232.5" x2="545.4" y2="227.5" stroke="#f01010" stroke-width="0.85" />
<line x1="543.9" y1="232.5" x2="546.9" y2="232.5" stroke="#f01010" stroke-width="0.85" />
<line x1="543.9" y1="227.5" x2="546.9" y2="227.5" stroke="#f01010" stroke-width="0.85" />
<circle cx="545.4" cy="230" r="1.7" fill="#f01010"/>
<line x1="543.7" y1="229.9" x2="550.7" y2="229.9" stroke="#f01010" stroke-width="0.85" />
<line x1="543.7" y1="228.4" x2="543.7" y2="231.4" stroke="#f01010" stroke-width="0.85" />
<line x1="550.7" y1="228.4" x2="550.7" y2="231.4" stroke="#f01010" stroke-width="0.85" />
<line x1="547.2" y1="232.4" x2="547.2" y2="227.4" stroke="#f01010" stroke-width="0.85" />
<line x1="545.7" y1="232.4" x2="548.7" y2="232.4" stroke="#f01010" stroke-width="0.85" />
<line x1="545.7" y1="227.4" x2="548.7" y2="227.4" stroke="#f01010" stroke-width="0.85" />
<circle cx="547.2" cy="229.9" r="1.7" fill="#f01010"/>
<line x1="545.4" y1="229.9" x2="552.4" y2="229.9" stroke="#f01010" stroke-width="0.85" />
<line x1="545.4" y1="228.4" x2="545.4" y2="231.4" stroke="#f01010" stroke-width="0.85" />
<line x1="552.4" y1="228.4" x2="552.4" y2="231.4" stroke="#f01010" stroke-width="0.85" />
<line x1="548.9" y1="232.4" x2="548.9" y2="227.4" stroke="#f01010" stroke-width="0.85" />
<line x1="547.4" y1="232.4" x2="550.4" y2="232.4" stroke="#f01010" stroke-width="0.85" />
<line x1="547.4" y1="227.4" x2="550.4" y2="227.4" stroke="#f01010" stroke-width="0.85" />
<circle cx="548.9" cy="229.9" r="1.7" fill="#f01010"/>
<line x1="547.2" y1="229.8" x2="554.1" y2="229.8" stroke="#f01010" stroke-width="0.85" />
<line x1="547.2" y1="228.3" x2="547.2" y2="231.3" stroke="#f01010" stroke-width="0.85" />
<line x1="554.1" y1="228.3" x2="554.1" y2="231.3" stroke="#f01010" stroke-width="0.85" />
<line x1="550.7" y1="232.3" x2="550.7" y2="227.3" stroke="#f01010" stroke-width="0.85" />
<line x1="549.2" y1="232.3" x2="552.2" y2="232.3" stroke="#f01010" stroke-width="0.85" />
<line x1="549.2" y1="227.3" x2="552.2" y2="227.3" stroke="#f01010" stroke-width="0.85" />
<circle cx="550.7" cy="229.8" r="1.7" fill="#f01010"/>
<line x1="548.9" y1="229.7" x2="555.9" y2="229.7" stroke="#f01010" stroke-width="0.85" />
<line x1="548.9" y1="228.2" x2="548.9" y2="231.2" stroke="#f01010" stroke-width="0.85" />
<line x1="555.9" y1="228.2" x2="555.9" y2="231.2" stroke="#f01010" stroke-width="0.85" />
<line x1="552.4" y1="232.2" x2="552.4" y2="227.2" stroke="#f01010" stroke-width="0.85" />
<line x1="550.9" y1="232.2" x2="553.9" y2="232.2" stroke="#f01010" stroke-width="0.85" />
<line x1="550.9" y1="227.2" x2="553.9" y2="227.2" stroke="#f01010" stroke-width="0.85" />
<circle cx="552.4" cy="229.7" r="1.7" fill="#f01010"/>
<line x1="550.7" y1="229.6" x2="557.6" y2="229.6" stroke="#f01010" stroke-width="0.85" />
<line x1="550.7" y1="228.1" x2="550.7" y2="231.1" stroke="#f01010" stroke-width="0.85" />
<line x1="557.6" y1="228.1" x2="557.6" y2="231.1" stroke="#f01010" stroke-width="0.85" />
<line x1="554.1" y1="232.1" x2="554.1" y2="227.1" stroke="#f01010" stroke-width="0.85" />
<line x1="552.6" y1="232.1" x2="555.6" y2="232.1" stroke="#f01010" stroke-width="0.85" />
<line x1="552.6" y1="227.1" x2="555.6" y2="227.1" stroke="#f01010" stroke-width="0.85" />
<circle cx="554.1" cy="229.6" r="1.7" fill="#f01010"/>
<line x1="552.4" y1="229.5" x2="559.4" y2="229.5" stroke="#f01010" stroke-width="0.85" />
<line x1="552.4" y1="228" x2="552.4" y2="231" stroke="#f01010" stroke-width="0.85" />
<line x1="559.4" y1="228" x2="559.4" y2="231" stroke="#f01010" stroke-width="0.85" />
<line x1="555.9" y1="232" x2="555.9" y2="227" stroke="#f01010" stroke-width="0.85" />
<line x1="554.4" y1="232" x2="557.4" y2="232" stroke="#f01010" stroke-width="0.85" />
<line x1="554.4" y1="227" x2="557.4" y2="227" stroke="#f01010" stroke-width="0.85" />
<circle cx="555.9" cy="229.5" r="1.7" fill="#f01010"/>
<line x1="554.1" y1="229.4" x2="561.1" y2="229.4" stroke="#f01010" stroke-width="0.85" />
<line x1="554.1" y1="227.9" x2="554.1" y2="230.9" stroke="#f01010" stroke-width="0.85" />
<line x1="561.1" y1="227.9" x2="561.1" y2="230.9" stroke="#f01010" stroke-width="0.85" />
<line x1="557.6" y1="231.9" x2="557.6" y2="226.8" stroke="#f01010" stroke-width="0.85" />
<line x1="556.1" y1="231.9" x2="559.1" y2="231.9" stroke="#f01010" stroke-width="0.85" />
<line x1="556.1" y1="226.8" x2="559.1" y2="226.8" stroke="#f01010" stroke-width="0.85" />
<circle cx="557.6" cy="229.4" r="1.7" fill="#f01010"/>
<line x1="555.9" y1="229.2" x2="562.9" y2="229.2" stroke="#f01010" stroke-width="0.85" />
<line x1="555.9" y1="227.7" x2="555.9" y2="230.7" stroke="#f01010" stroke-width="0.85" />
<line x1="562.9" y1="227.7" x2="562.9" y2="230.7" stroke="#f01010" stroke-width="0.85" />
<line x1="559.4" y1="231.7" x2="559.4" y2="226.7" stroke="#f01010" stroke-width="0.85" />
<line x1="557.9" y1="231.7" x2="560.9" y2="231.7" stroke="#f01010" stroke-width="0.85" />
<line x1="557.9" y1="226.7" x2="560.9" y2="226.7" stroke="#f01010" stroke-width="0.85" />
<circle cx="559.4" cy="229.2" r="1.7" fill="#f01010"/>
<line x1="557.6" y1="229.1" x2="564.6" y2="229.1" stroke="#f01010" stroke-width="0.85" />
<line x1="557.6" y1="227.6" x2="557.6" y2="230.6" stroke="#f01010" stroke-width="0.85" />
<line x1="564.6" y1="227.6" x2="564.6" y2="230.6" stroke="#f01010" stroke-width="0.85" />
<line x1="561.1" y1="231.6" x2="561.1" y2="226.6" stroke="#f01010" stroke-width="0.85" />
<line x1="559.6" y1="231.6" x2="562.6" y2="231.6" stroke="#f01010" stroke-width="0.85" />
<line x1="559.6" y1="226.6" x2="562.6" y2="226.6" stroke="#f01010" stroke-width="0.85" />
<circle cx="561.1" cy="229.1" r="1.7" fill="#f01010"/>
<line x1="559.4" y1="228.9" x2="566.4" y2="228.9" stroke="#f01010" stroke-width="0.85" />
<line x1="559.4" y1="227.4" x2="559.4" y2="230.4" stroke="#f01010" stroke-width="0.85" />
<line x1="566.4" y1="227.4" x2="566.4" y2="230.4" stroke="#f01010" stroke-width="0.85" />
<line x1="562.9" y1="231.5" x2="562.9" y2="226.4" stroke="#f01010" stroke-width="0.85" />
<line x1="561.4" y1="231.5" x2="564.4" y2="231.5" stroke="#f01010" stroke-width="0.85" />
<line x1="561.4" y1="226.4" x2="564.4" y2="226.4" stroke="#f01010" stroke-width="0.85" />
<circle cx="562.9" cy="228.9" r="1.7" fill="#f01010"/>
<line x1="561.1" y1="228.8" x2="568.1" y2="228.8" stroke="#f01010" stroke-width="0.85" />
<line x1="561.1" y1="227.3" x2="561.1" y2="230.3" stroke="#f01010" stroke-width="0.85" />
<line x1="568.1" y1="227.3" x2="568.1" y2="230.3" stroke="#f01010" stroke-width="0.85" />
<line x1="564.6" y1="231.3" x2="564.6" y2="226.3" stroke="#f01010" stroke-width="0.85" />
<line x1="563.1" y1="231.3" x2="566.1" y2="231.3" stroke="#f01010" stroke-width="0.85" />
<line x1="563.1" y1="226.3" x2="566.1" y2="226.3" stroke="#f01010" stroke-width="0.85" />
<circle cx="564.6" cy="228.8" r="1.7" fill="#f01010"/>
<line x1="562.9" y1="228.7" x2="569.9" y2="228.7" stroke="#f01010" stroke-width="0.85" />
<line x1="562.9" y1="227.2" x2="562.9" y2="230.2" stroke="#f01010" stroke-width="0.85" />
<line x1="569.9" y1="227.2" x2="569.9" y2="230.2" stroke="#f01010" stroke-width="0.85" />
<line x1="566.4" y1="231.2" x2="566.4" y2="226.2" stroke="#f01010" stroke-width="0.85" />
<line x1="564.9" y1="231.2" x2="567.9" y2="231.2" stroke="#f01010" stroke-width="0.85" />
<line x1="564.9" y1="226.2" x2="567.9" y2="226.2" stroke="#f01010" stroke-width="0.85" />
<circle cx="566.4" cy="228.7" r="1.7" fill="#f01010"/>
<line x1="564.6" y1="228.5" x2="571.6" y2="228.5" stroke="#f01010" stroke-width="0.85" />
<line x1="564.6" y1="227" x2="564.6" y2="230" stroke="#f01010" stroke-width="0.85" />
<line x1="571.6" y1="227" x2="571.6" y2="230" stroke="#f01010" stroke-width="0.85" />
<line x1="568.1" y1="231" x2="568.1" y2="226" stroke="#f01010" stroke-width="0.85" />
<line x1="566.6" y1="231" x2="569.6" y2="231" stroke="#f01010" stroke-width="0.85" />
<line x1="566.6" y1="226" x2="569.6" y2="226" stroke="#f01010" stroke-width="0.85" />
<circle cx="568.1" cy="228.5" r="1.7" fill="#f01010"/>
<line x1="566.4" y1="228.4" x2="573.3" y2="228.4" stroke="#f01010" stroke-width="0.85" />
<line x1="566.4" y1="226.9" x2="566.4" y2="229.9" stroke="#f01010" stroke-width="0.85" />
<line x1="573.3" y1="226.9" x2="573.3" y2="229.9" stroke="#f01010" stroke-width="0.85" />
<line x1="569.9" y1="230.9" x2="569.9" y2="225.9" stroke="#f01010" stroke-width="0.85" />
<line x1="568.4" y1="230.9" x2="571.4" y2="230.9" stroke="#f01010" stroke-width="0.85" />
<line x1="568.4" y1="225.9" x2="571.4" y2="225.9" stroke="#f01010" stroke-width="0.85" />
<circle cx="569.9" cy="228.4" r="1.7" fill="#f01010"/>
<line x1="568.1" y1="228.4" x2="575.1" y2="228.4" stroke="#f01010" stroke-width="0.85" />
<line x1="568.1" y1="226.9" x2="568.1" y2="229.9" stroke="#f01010" stroke-width="0.85" />
<line x1="575.1" y1="226.9" x2="575.1" y2="229.9" stroke="#f01010" stroke-width="0.85" />
<line x1="571.6" y1="230.9" x2="571.6" y2="225.8" stroke="#f01010" stroke-width="0.85" />
<line x1="570.1" y1="230.9" x2="573.1" y2="230.9" stroke="#f01010" stroke-width="0.85" />
<line x1="570.1" y1="225.8" x2="573.1" y2="225.8" stroke="#f01010" stroke-width="0.85" />
<circle cx="571.6" cy="228.4" r="1.7" fill="#f01010"/>
<line x1="569.9" y1="228.3" x2="576.8" y2="228.3" stroke="#f01010" stroke-width="0.85" />
<line x1="569.9" y1="226.8" x2="569.9" y2="229.8" stroke="#f01010" stroke-width="0.85" />
<line x1="576.8" y1="226.8" x2="576.8" y2="229.8" stroke="#f01010" stroke-width="0.85" />
<line x1="573.3" y1="230.8" x2="573.3" y2="225.8" stroke="#f01010" stroke-width="0.85" />
<line x1="571.8" y1="230.8" x2="574.8" y2="230.8" stroke="#f01010" stroke-width="0.85" />
<line x1="571.8" y1="225.8" x2="574.8" y2="225.8" stroke="#f01010" stroke-width="0.85" />
<circle cx="573.3" cy="228.3" r="1.7" fill="#f01010"/>
<line x1="571.6" y1="228.2" x2="578.6" y2="228.2" stroke="#f01010" stroke-width="0.85" />
<line x1="571.6" y1="226.7" x2="571.6" y2="229.7" stroke="#f01010" stroke-width="0.85" />
<line x1="578.6" y1="226.7" x2="578.6" y2="229.7" stroke="#f01010" stroke-width="0.85" />
<line x1="575.1" y1="230.7" x2="575.1" y2="225.7" stroke="#f01010" stroke-width="0.85" />
<line x1="573.6" y1="230.7" x2="576.6" y2="230.7" stroke="#f01010" stroke-width="0.85" />
<line x1="573.6" y1="225.7" x2="576.6" y2="225.7" stroke="#f01010" stroke-width="0.85" />
<circle cx="575.1" cy="228.2" r="1.7" fill="#f01010"/>
<line x1="573.3" y1="228.1" x2="580.3" y2="228.1" stroke="#f01010" stroke-width="0.85" />
<line x1="573.3" y1="226.6" x2="573.3" y2="229.6" stroke="#f01010" stroke-width="0.85" />
<line x1="580.3" y1="226.6" x2="580.3" y2="229.6" stroke="#f01010" stroke-width="0.85" />
<line x1="576.8" y1="230.6" x2="576.8" y2="225.6" stroke="#f01010" stroke-width="0.85" />
<line x1="575.3" y1="230.6" x2="578.3" y2="230.6" stroke="#f01010" stroke-width="0.85" />
<line x1="575.3" y1="225.6" x2="578.3" y2="225.6" stroke="#f01010" stroke-width="0.85" />
<circle cx="576.8" cy="228.1" r="1.7" fill="#f01010"/>
<line x1="575.1" y1="228" x2="582.1" y2="228" stroke="#f01010" stroke-width="0.85" />
<line x1="575.1" y1="226.5" x2="575.1" y2="229.5" stroke="#f01010" stroke-width="0.85" />
<line x1="582.1" y1="226.5" x2="582.1" y2="229.5" stroke="#f01010" stroke-width="0.85" />
<line x1="578.6" y1="230.5" x2="578.6" y2="225.5" stroke="#f01010" stroke-width="0.85" />
<line x1="577.1" y1="230.5" x2="580.1" y2="230.5" stroke="#f01010" stroke-width="0.85" />
<line x1="577.1" y1="225.5" x2="580.1" y2="225.5" stroke="#f01010" stroke-width="0.85" />
<circle cx="578.6" cy="228" r="1.7" fill="#f01010"/>
<line x1="576.8" y1="227.9" x2="583.8" y2="227.9" stroke="#f01010" stroke-width="0.85" />
<line x1="576.8" y1="226.4" x2="576.8" y2="229.4" stroke="#f01010" stroke-width="0.85" />
<line x1="583.8" y1="226.4" x2="583.8" y2="229.4" stroke="#f01010" stroke-width="0.85" />
<line x1="580.3" y1="230.4" x2="580.3" y2="225.4" stroke="#f01010" stroke-width="0.85" />
<line x1="578.8" y1="230.4" x2="581.8" y2="230.4" stroke="#f01010" stroke-width="0.85" />
<line x1="578.8" y1="225.4" x2="581.8" y2="225.4" stroke="#f01010" stroke-width="0.85" />
<circle cx="580.3" cy="227.9" r="1.7" fill="#f01010"/>
<line x1="578.6" y1="227.8" x2="585.6" y2="227.8" stroke="#f01010" stroke-width="0.85" />
<line x1="578.6" y1="226.3" x2="578.6" y2="229.3" stroke="#f01010" stroke-width="0.85" />
<line x1="585.6" y1="226.3" x2="585.6" y2="229.3" stroke="#f01010" stroke-width="0.85" />
<line x1="582.1" y1="230.3" x2="582.1" y2="225.3" stroke="#f01010" stroke-width="0.85" />
<line x1="580.6" y1="230.3" x2="583.6" y2="230.3" stroke="#f01010" stroke-width="0.85" />
<line x1="580.6" y1="225.3" x2="583.6" y2="225.3" stroke="#f01010" stroke-width="0.85" />
<circle cx="582.1" cy="227.8" r="1.7" fill="#f01010"/>
<line x1="580.3" y1="227.7" x2="587.3" y2="227.7" stroke="#f01010" stroke-width="0.85" />
<line x1="580.3" y1="226.2" x2="580.3" y2="229.2" stroke="#f01010" stroke-width="0.85" />
<line x1="587.3" y1="226.2" x2="587.3" y2="229.2" stroke="#f01010" stroke-width="0.85" />
<line x1="583.8" y1="230.2" x2="583.8" y2="225.2" stroke="#f01010" stroke-width="0.85" />
<line x1="582.3" y1="230.2" x2="585.3" y2="230.2" stroke="#f01010" stroke-width="0.85" />
<line x1="582.3" y1="225.2" x2="585.3" y2="225.2" stroke="#f01010" stroke-width="0.85" />
<circle cx="583.8" cy="227.7" r="1.7" fill="#f01010"/>
<line x1="582.1" y1="227.6" x2="589" y2="227.6" stroke="#f01010" stroke-width="0.85" />
<line x1="582.1" y1="226.1" x2="582.1" y2="229.1" stroke="#f01010" stroke-width="0.85" />
<line x1="589" y1="226.1" x2="589" y2="229.1" stroke="#f01010" stroke-width="0.85" />
<line x1="585.6" y1="230.1" x2="585.6" y2="225.1" stroke="#f01010" stroke-width="0.85" />
<line x1="584.1" y1="230.1" x2="587.1" y2="230.1" stroke="#f01010" stroke-width="0.85" />
<line x1="584.1" y1="225.1" x2="587.1" y2="225.1" stroke="#f01010" stroke-width="0.85" />
<circle cx="585.6" cy="227.6" r="1.7" fill="#f01010"/>
<line x1="583.8" y1="227.5" x2="590.8" y2="227.5" stroke="#f01010" stroke-width="0.85" />
<line x1="583.8" y1="226" x2="583.8" y2="229" stroke="#f01010" stroke-width="0.85" />
<line x1="590.8" y1="226" x2="590.8" y2="229" stroke="#f01010" stroke-width="0.85" />
<line x1="587.3" y1="230" x2="587.3" y2="225" stroke="#f01010" stroke-width="0.85" />
<line x1="585.8" y1="230" x2="588.8" y2="230" stroke="#f01010" stroke-width="0.85" />
<line x1="585.8" y1="225" x2="588.8" y2="225" stroke="#f01010" stroke-width="0.85" />
<circle cx="587.3" cy="227.5" r="1.7" fill="#f01010"/>
<line x1="585.6" y1="227.4" x2="592.5" y2="227.4" stroke="#f01010" stroke-width="0.85" />
<line x1="585.6" y1="225.9" x2="585.6" y2="228.9" stroke="#f01010" stroke-width="0.85" />
<line x1="592.5" y1="225.9" x2="592.5" y2="228.9" stroke="#f01010" stroke-width="0.85" />
<line x1="589" y1="229.9" x2="589" y2="224.9" stroke="#f01010" stroke-width="0.85" />
<line x1="587.5" y1="229.9" x2="590.5" y2="229.9" stroke="#f01010" stroke-width="0.85" />
<line x1="587.5" y1="224.9" x2="590.5" y2="224.9" stroke="#f01010" stroke-width="0.85" />
<circle cx="589" cy="227.4" r="1.7" fill="#f01010"/>
<line x1="587.3" y1="227.4" x2="594.3" y2="227.4" stroke="#f01010" stroke-width="0.85" />
<line x1="587.3" y1="225.9" x2="587.3" y2="228.9" stroke="#f01010" stroke-width="0.85" />
<line x1="594.3" y1="225.9" x2="594.3" y2="228.9" stroke="#f01010" stroke-width="0.85" />
<line x1="590.8" y1="229.9" x2="590.8" y2="224.8" stroke="#f01010" stroke-width="0.85" />
<line x1="589.3" y1="229.9" x2="592.3" y2="229.9" stroke="#f01010" stroke-width="0.85" />
<line x1="589.3" y1="224.8" x2="592.3" y2="224.8" stroke="#f01010" stroke-width="0.85" />
<circle cx="590.8" cy="227.4" r="1.7" fill="#f01010"/>
<line x1="589" y1="227.3" x2="596" y2="227.3" stroke="#f01010" stroke-width="0.85" />
<line x1="589" y1="225.8" x2="589" y2="228.8" stroke="#f01010" stroke-width="0.85" />
<line x1="596" y1="225.8" x2="596" y2="228.8" stroke="#f01010" stroke-width="0.85" />
<line x1="592.5" y1="229.8" x2="592.5" y2="224.8" stroke="#f01010" stroke-width="0.85" />
<line x1="591" y1="229.8" x2="594" y2="229.8" stroke="#f01010" stroke-width="0.85" />
<line x1="591" y1="224.8" x2="594" y2="224.8" stroke="#f01010" stroke-width="0.85" />
<circle cx="592.5" cy="227.3" r="1.7" fill="#f01010"/>
<line x1="590.8" y1="227.2" x2="597.8" y2="227.2" stroke="#f01010" stroke-width="0.85" />
<line x1="590.8" y1="225.7" x2="590.8" y2="228.7" stroke="#f01010" stroke-width="0.85" />
<line x1="597.8" y1="225.7" x2="597.8" y2="228.7" stroke="#f01010" stroke-width="0.85" />
<line x1="594.3" y1="229.7" x2="594.3" y2="224.7" stroke="#f01010" stroke-width="0.85" />
<line x1="592.8" y1="229.7" x2="595.8" y2="229.7" stroke="#f01010" stroke-width="0.85" />
<line x1="592.8" y1="224.7" x2="595.8" y2="224.7" stroke="#f01010" stroke-width="0.85" />
<circle cx="594.3" cy="227.2" r="1.7" fill="#f01010"/>
<line x1="592.5" y1="227.1" x2="599.5" y2="227.1" stroke="#f01010" stroke-width="0.85" />
<line x1="592.5" y1="225.6" x2="592.5" y2="228.6" stroke="#f01010" stroke-width="0.85" />
<line x1="599.5" y1="225.6" x2="599.5" y2="228.6" stroke="#f01010" stroke-width="0.85" />
<line x1="596" y1="229.6" x2="596" y2="224.6" stroke="#f01010" stroke-width="0.85" />
<line x1="594.5" y1="229.6" x2="597.5" y2="229.6" stroke="#f01010" stroke-width="0.85" />
<line x1="594.5" y1="224.6" x2="597.5" y2="224.6" stroke="#f01010" stroke-width="0.85" />
<circle cx="596" cy="227.1" r="1.7" fill="#f01010"/>
<line x1="594.3" y1="227" x2="601.3" y2="227" stroke="#f01010" stroke-width="0.85" />
<line x1="594.3" y1="225.5" x2="594.3" y2="228.5" stroke="#f01010" stroke-width="0.85" />
<line x1="601.3" y1="225.5" x2="601.3" y2="228.5" stroke="#f01010" stroke-width="0.85" />
<line x1="597.8" y1="229.5" x2="597.8" y2="224.5" stroke="#f01010" stroke-width="0.85" />
<line x1="596.3" y1="229.5" x2="599.3" y2="229.5" stroke="#f01010" stroke-width="0.85" />
<line x1="596.3" y1="224.5" x2="599.3" y2="224.5" stroke="#f01010" stroke-width="0.85" />
<circle cx="597.8" cy="227" r="1.7" fill="#f01010"/>
<line x1="596" y1="226.9" x2="603" y2="226.9" stroke="#f01010" stroke-width="0.85" />
<line x1="596" y1="225.4" x2="596" y2="228.4" stroke="#f01010" stroke-width="0.85" />
<line x1="603" y1="225.4" x2="603" y2="228.4" stroke="#f01010" stroke-width="0.85" />
<line x1="599.5" y1="229.5" x2="599.5" y2="224.4" stroke="#f01010" stroke-width="0.85" />
<line x1="598" y1="229.5" x2="601" y2="229.5" stroke="#f01010" stroke-width="0.85" />
<line x1="598" y1="224.4" x2="601" y2="224.4" stroke="#f01010" stroke-width="0.85" />
<circle cx="599.5" cy="226.9" r="1.7" fill="#f01010"/>
<line x1="597.8" y1="226.9" x2="604.8" y2="226.9" stroke="#f01010" stroke-width="0.85" />
<line x1="597.8" y1="225.4" x2="597.8" y2="228.4" stroke="#f01010" stroke-width="0.85" />
<line x1="604.8" y1="225.4" x2="604.8" y2="228.4" stroke="#f01010" stroke-width="0.85" />
<line x1="601.3" y1="229.4" x2="601.3" y2="224.4" stroke="#f01010" stroke-width="0.85" />
<line x1="599.8" y1="229.4" x2="602.8" y2="229.4" stroke="#f01010" stroke-width="0.85" />
<line x1="599.8" y1="224.4" x2="602.8" y2="224.4" stroke="#f01010" stroke-width="0.85" />
<circle cx="601.3" cy="226.9" r="1.7" fill="#f01010"/>
<line x1="599.5" y1="226.8" x2="606.5" y2="226.8" stroke="#f01010" stroke-width="0.85" />
<line x1="599.5" y1="225.3" x2="599.5" y2="228.3" stroke="#f01010" stroke-width="0.85" />
<line x1="606.5" y1="225.3" x2="606.5" y2="228.3" stroke="#f01010" stroke-width="0.85" />
<line x1="603" y1="229.3" x2="603" y2="224.3" stroke="#f01010" stroke-width="0.85" />
<line x1="601.5" y1="229.3" x2="604.5" y2="229.3" stroke="#f01010" stroke-width="0.85" />
<line x1="601.5" y1="224.3" x2="604.5" y2="224.3" stroke="#f01010" stroke-width="0.85" />
<circle cx="603" cy="226.8" r="1.7" fill="#f01010"/>
<line x1="601.3" y1="226.7" x2="608.2" y2="226.7" stroke="#f01010" stroke-width="0.85" />
<line x1="601.3" y1="225.2" x2="601.3" y2="228.2" stroke="#f01010" stroke-width="0.85" />
<line x1="608.2" y1="225.2" x2="608.2" y2="228.2" stroke="#f01010" stroke-width="0.85" />
<line x1="604.8" y1="229.2" x2="604.8" y2="224.2" stroke="#f01010" stroke-width="0.85" />
<line x1="603.3" y1="229.2" x2="606.3" y2="229.2" stroke="#f01010" stroke-width="0.85" />
<line x1="603.3" y1="224.2" x2="606.3" y2="224.2" stroke="#f01010" stroke-width="0.85" />
<circle cx="604.8" cy="226.7" r="1.7" fill="#f01010"/>
<line x1="603" y1="226.6" x2="610" y2="226.6" stroke="#f01010" stroke-width="0.85" />
<line x1="603" y1="225.1" x2="603" y2="228.1" stroke="#f01010" stroke-width="0.85" />
<line x1="610" y1="225.1" x2="610" y2="228.1" stroke="#f01010" stroke-width="0.85" />
<line x1="606.5" y1="229.1" x2="606.5" y2="224.1" stroke="#f01010" stroke-width="0.85" />
<line x1="605" y1="229.1" x2="608" y2="229.1" stroke="#f01010" stroke-width="0.85" />
<line x1="605" y1="224.1" x2="608" y2="224.1" stroke="#f01010" stroke-width="0.85" />
<circle cx="606.5" cy="226.6" r="1.7" fill="#f01010"/>
<line x1="604.8" y1="226.5" x2="611.7" y2="226.5" stroke="#f01010" stroke-width="0.85" />
<line x1="604.8" y1="225" x2="604.8" y2="228" stroke="#f01010" stroke-width="0.85" />
<line x1="611.7" y1="225" x2="611.7" y2="228" stroke="#f01010" stroke-width="0.85" />
<line x1="608.2" y1="229.1" x2="608.2" y2="224" stroke="#f01010" stroke-width="0.85" />
<line x1="606.7" y1="229.1" x2="609.7" y2="229.1" stroke="#f01010" stroke-width="0.85" />
<line x1="606.7" y1="224" x2="609.7" y2="224" stroke="#f01010" stroke-width="0.85" />
<circle cx="608.2" cy="226.5" r="1.7" fill="#f01010"/>
<line x1="606.5" y1="226.5" x2="613.5" y2="226.5" stroke="#f01010" stroke-width="0.85" />
<line x1="606.5" y1="225" x2="606.5" y2="228" stroke="#f01010" stroke-width="0.85" />
<line x1="613.5" y1="225" x2="613.5" y2="228" stroke="#f01010" stroke-width="0.85" />
<line x1="610" y1="229" x2="610" y2="224" stroke="#f01010" stroke-width="0.85" />
<line x1="608.5" y1="229" x2="611.5" y2="229" stroke="#f01010" stroke-width="0.85" />
<line x1="608.5" y1="224" x2="611.5" y2="224" stroke="#f01010" stroke-width="0.85" />
<circle cx="610" cy="226.5" r="1.7" fill="#f01010"/>
<line x1="608.2" y1="226.4" x2="615.2" y2="226.4" stroke="#f01010" stroke-width="0.85" />
<line x1="608.2" y1="224.9" x2="608.2" y2="227.9" stroke="#f01010" stroke-width="0.85" />
<line x1="615.2" y1="224.9" x2="615.2" y2="227.9" stroke="#f01010" stroke-width="0.85" />
<line x1="611.7" y1="228.9" x2="611.7" y2="223.9" stroke="#f01010" stroke-width="0.85" />
<line x1="610.2" y1="228.9" x2="613.2" y2="228.9" stroke="#f01010" stroke-width="0.85" />
<line x1="610.2" y1="223.9" x2="613.2" y2="223.9" stroke="#f01010" stroke-width="0.85" />
<circle cx="611.7" cy="226.4" r="1.7" fill="#f01010"/>
<line x1="610" y1="226.3" x2="617" y2="226.3" stroke="#f01010" stroke-width="0.85" />
<line x1="610" y1="224.8" x2="610" y2="227.8" stroke="#f01010" stroke-width="0.85" />
<line x1="617" y1="224.8" x2="617" y2="227.8" stroke="#f01010" stroke-width="0.85" />
<line x1="613.5" y1="228.8" x2="613.5" y2="223.8" stroke="#f01010" stroke-width="0.85" />
<line x1="612" y1="228.8" x2="615" y2="228.8" stroke="#f01010" stroke-width="0.85" />
<line x1="612" y1="223.8" x2="615" y2="223.8" stroke="#f01010" stroke-width="0.85" />
<circle cx="613.5" cy="226.3" r="1.7" fill="#f01010"/>
<line x1="611.7" y1="226.2" x2="618.7" y2="226.2" stroke="#f01010" stroke-width="0.85" />
<line x1="611.7" y1="224.7" x2="611.7" y2="227.7" stroke="#f01010" stroke-width="0.85" />
<line x1="618.7" y1="224.7" x2="618.7" y2="227.7" stroke="#f01010" stroke-width="0.85" />
<line x1="615.2" y1="228.7" x2="615.2" y2="223.7" stroke="#f01010" stroke-width="0.85" />
<line x1="613.7" y1="228.7" x2="616.7" y2="228.7" stroke="#f01010" stroke-width="0.85" />
<line x1="613.7" y1="223.7" x2="616.7" y2="223.7" stroke="#f01010" stroke-width="0.85" />
<circle cx="615.2" cy="226.2" r="1.7" fill="#f01010"/>
<line x1="613.5" y1="226.2" x2="620.5" y2="226.2" stroke="#f01010" stroke-width="0.85" />
<line x1="613.5" y1="224.7" x2="613.5" y2="227.7" stroke="#f01010" stroke-width="0.85" />
<line x1="620.5" y1="224.7" x2="620.5" y2="227.7" stroke="#f01010" stroke-width="0.85" />
<line x1="617" y1="228.7" x2="617" y2="223.7" stroke="#f01010" stroke-width="0.85" />
<line x1="615.5" y1="228.7" x2="618.5" y2="228.7" stroke="#f01010" stroke-width="0.85" />
<line x1="615.5" y1="223.7" x2="618.5" y2="223.7" stroke="#f01010" stroke-width="0.85" />
<circle cx="617" cy="226.2" r="1.7" fill="#f01010"/>
<line x1="615.2" y1="226.1" x2="622.2" y2="226.1" stroke="#f01010" stroke-width="0.85" />
<line x1="615.2" y1="224.6" x2="615.2" y2="227.6" stroke="#f01010" stroke-width="0.85" />
<line x1="622.2" y1="224.6" x2="622.2" y2="227.6" stroke="#f01010" stroke-width="0.85" />
<line x1="618.7" y1="228.6" x2="618.7" y2="223.6" stroke="#f01010" stroke-width="0.85" />
<line x1="617.2" y1="228.6" x2="620.2" y2="228.6" stroke="#f01010" stroke-width="0.85" />
<line x1="617.2" y1="223.6" x2="620.2" y2="223.6" stroke="#f01010" stroke-width="0.85" />
<circle cx="618.7" cy="226.1" r="1.7" fill="#f01010"/>
<line x1="617" y1="226.1" x2="624" y2="226.1" stroke="#f01010" stroke-width="0.85" />
<line x1="617" y1="224.6" x2="617" y2="227.6" stroke="#f01010" stroke-width="0.85" />
<line x1="624" y1="224.6" x2="624" y2="227.6" stroke="#f01010" stroke-width="0.85" />
<line x1="620.5" y1="228.6" x2="620.5" y2="223.6" stroke="#f01010" stroke-width="0.85" />
<line x1="619" y1="228.6" x2="622" y2="228.6" stroke="#f01010" stroke-width="0.85" />
<line x1="619" y1="223.6" x2="622" y2="223.6" stroke="#f01010" stroke-width="0.85" />
<circle cx="620.5" cy="226.1" r="1.7" fill="#f01010"/>
<line x1="618.7" y1="226" x2="625.7" y2="226" stroke="#f01010" stroke-width="0.85" />
<line x1="618.7" y1="224.5" x2="618.7" y2="227.5" stroke="#f01010" stroke-width="0.85" />
<line x1="625.7" y1="224.5" x2="625.7" y2="227.5" stroke="#f01010" stroke-width="0.85" />
<line x1="622.2" y1="228.5" x2="622.2" y2="223.5" stroke="#f01010" stroke-width="0.85" />
<line x1="620.7" y1="228.5" x2="623.7" y2="228.5" stroke="#f01010" stroke-width="0.85" />
<line x1="620.7" y1="223.5" x2="623.7" y2="223.5" stroke="#f01010" stroke-width="0.85" />
<circle cx="622.2" cy="226" r="1.7" fill="#f01010"/>
<line x1="620.5" y1="226" x2="627.4" y2="226" stroke="#f01010" stroke-width="0.85" />
<line x1="620.5" y1="224.5" x2="620.5" y2="227.5" stroke="#f01010" stroke-width="0.85" />
<line x1="627.4" y1="224.5" x2="627.4" y2="227.5" stroke="#f01010" stroke-width="0.85" />
<line x1="624" y1="228.5" x2="624" y2="223.5" stroke="#f01010" stroke-width="0.85" />
<line x1="622.5" y1="228.5" x2="625.5" y2="228.5" stroke="#f01010" stroke-width="0.85" />
<line x1="622.5" y1="223.5" x2="625.5" y2="223.5" stroke="#f01010" stroke-width="0.85" />
<circle cx="624" cy="226" r="1.7" fill="#f01010"/>
<line x1="622.2" y1="225.9" x2="629.2" y2="225.9" stroke="#f01010" stroke-width="0.85" />
<line x1="622.2" y1="224.4" x2="622.2" y2="227.4" stroke="#f01010" stroke-width="0.85" />
<line x1="629.2" y1="224.4" x2="629.2" y2="227.4" stroke="#f01010" stroke-width="0.85" />
<line x1="625.7" y1="228.4" x2="625.7" y2="223.4" stroke="#f01010" stroke-width="0.85" />
<line x1="624.2" y1="228.4" x2="627.2" y2="228.4" stroke="#f01010" stroke-width="0.85" />
<line x1="624.2" y1="223.4" x2="627.2" y2="223.4" stroke="#f01010" stroke-width="0.85" />
<circle cx="625.7" cy="225.9" r="1.7" fill="#f01010"/>
<line x1="624" y1="225.9" x2="630.9" y2="225.9" stroke="#f01010" stroke-width="0.85" />
<line x1="624" y1="224.4" x2="624" y2="227.4" stroke="#f01010" stroke-width="0.85" />
<line x1="630.9" y1="224.4" x2="630.9" y2="227.4" stroke="#f01010" stroke-width="0.85" />
<line x1="627.4" y1="228.4" x2="627.4" y2="223.4" stroke="#f01010" stroke-width="0.85" />
<line x1="625.9" y1="228.4" x2="628.9" y2="228.4" stroke="#f01010" stroke-width="0.85" />
<line x1="625.9" y1="223.4" x2="628.9" y2="223.4" stroke="#f01010" stroke-width="0.85" />
<circle cx="627.4" cy="225.9" r="1.7" fill="#f01010"/>
<line x1="625.7" y1="225.8" x2="632.7" y2="225.8" stroke="#f01010" stroke-width="0.85" />
<line x1="625.7" y1="224.3" x2="625.7" y2="227.3" stroke="#f01010" stroke-width="0.85" />
<line x1="632.7" y1="224.3" x2="632.7" y2="227.3" stroke="#f01010" stroke-width="0.85" />
<line x1="629.2" y1="228.4" x2="629.2" y2="223.3" stroke="#f01010" stroke-width="0.85" />
<line x1="627.7" y1="228.4" x2="630.7" y2="228.4" stroke="#f01010" stroke-width="0.85" />
<line x1="627.7" y1="223.3" x2="630.7" y2="223.3" stroke="#f01010" stroke-width="0.85" />
<circle cx="629.2" cy="225.8" r="1.7" fill="#f01010"/>
<line x1="627.4" y1="225.8" x2="634.4" y2="225.8" stroke="#f01010" stroke-width="0.85" />
<line x1="627.4" y1="224.3" x2="627.4" y2="227.3" stroke="#f01010" stroke-width="0.85" />
<line x1="634.4" y1="224.3" x2="634.4" y2="227.3" stroke="#f01010" stroke-width="0.85" />
<line x1="630.9" y1="228.3" x2="630.9" y2="223.3" stroke="#f01010" stroke-width="0.85" />
<line x1="629.4" y1="228.3" x2="632.4" y2="228.3" stroke="#f01010" stroke-width="0.85" />
<line x1="629.4" y1="223.3" x2="632.4" y2="223.3" stroke="#f01010" stroke-width="0.85" />
<circle cx="630.9" cy="225.8" r="1.7" fill="#f01010"/>
<line x1="629.2" y1="225.8" x2="636.2" y2="225.8" stroke="#f01010" stroke-width="0.85" />
<line x1="629.2" y1="224.3" x2="629.2" y2="227.3" stroke="#f01010" stroke-width="0.85" />
<line x1="636.2" y1="224.3" x2="636.2" y2="227.3" stroke="#f01010" stroke-width="0.85" />
<line x1="632.7" y1="228.3" x2="632.7" y2="223.2" stroke="#f01010" stroke-width="0.85" />
<line x1="631.2" y1="228.3" x2="634.2" y2="228.3" stroke="#f01010" stroke-width="0.85" />
<line x1="631.2" y1="223.2" x2="634.2" y2="223.2" stroke="#f01010" stroke-width="0.85" />
<circle cx="632.7" cy="225.8" r="1.7" fill="#f01010"/>
<line x1="630.9" y1="225.7" x2="637.9" y2="225.7" stroke="#f01010" stroke-width="0.85" />
<line x1="630.9" y1="224.2" x2="630.9" y2="227.2" stroke="#f01010" stroke-width="0.85" />
<line x1="637.9" y1="224.2" x2="637.9" y2="227.2" stroke="#f01010" stroke-width="0.85" />
<line x1="634.4" y1="228.2" x2="634.4" y2="223.2" stroke="#f01010" stroke-width="0.85" />
<line x1="632.9" y1="228.2" x2="635.9" y2="228.2" stroke="#f01010" stroke-width="0.85" />
<line x1="632.9" y1="223.2" x2="635.9" y2="223.2" stroke="#f01010" stroke-width="0.85" />
<circle cx="634.4" cy="225.7" r="1.7" fill="#f01010"/>
<line x1="632.7" y1="225.7" x2="639.7" y2="225.7" stroke="#f01010" stroke-width="0.85" />
<line x1="632.7" y1="224.2" x2="632.7" y2="227.2" stroke="#f01010" stroke-width="0.85" />
<line x1="639.7" y1="224.2" x2="639.7" y2="227.2" stroke="#f01010" stroke-width="0.85" />
<line x1="636.2" y1="228.2" x2="636.2" y2="223.2" stroke="#f01010" stroke-width="0.85" />
<line x1="634.7" y1="228.2" x2="637.7" y2="228.2" stroke="#f01010" stroke-width="0.85" />
<line x1="634.7" y1="223.2" x2="637.7" y2="223.2" stroke="#f01010" stroke-width="0.85" />
<circle cx="636.2" cy="225.7" r="1.7" fill="#f01010"/>
<line x1="634.4" y1="225.6" x2="641.4" y2="225.6" stroke="#f01010" stroke-width="0.85" />
<line x1="634.4" y1="224.1" x2="634.4" y2="227.1" stroke="#f01010" stroke-width="0.85" />
<line x1="641.4" y1="224.1" x2="641.4" y2="227.1" stroke="#f01010" stroke-width="0.85" />
<line x1="637.9" y1="228.1" x2="637.9" y2="223.1" stroke="#f01010" stroke-width="0.85" />
<line x1="636.4" y1="228.1" x2="639.4" y2="228.1" stroke="#f01010" stroke-width="0.85" />
<line x1="636.4" y1="223.1" x2="639.4" y2="223.1" stroke="#f01010" stroke-width="0.85" />
<circle cx="637.9" cy="225.6" r="1.7" fill="#f01010"/>
<line x1="636.2" y1="225.6" x2="643.1" y2="225.6" stroke="#f01010" stroke-width="0.85" />
<line x1="636.2" y1="224.1" x2="636.2" y2="227.1" stroke="#f01010" stroke-width="0.85" />
<line x1="643.1" y1="224.1" x2="643.1" y2="227.1" stroke="#f01010" stroke-width="0.85" />
<line x1="639.7" y1="228.1" x2="639.7" y2="223.1" stroke="#f01010" stroke-width="0.85" />
<line x1="638.2" y1="228.1" x2="641.2" y2="228.1" stroke="#f01010" stroke-width="0.85" />
<line x1="638.2" y1="223.1" x2="641.2" y2="223.1" stroke="#f01010" stroke-width="0.85" />
<circle cx="639.7" cy="225.6" r="1.7" fill="#f01010"/>
<line x1="637.9" y1="225.6" x2="644.9" y2="225.6" stroke="#f01010" stroke-width="0.85" />
<line x1="637.9" y1="224.1" x2="637.9" y2="227.1" stroke="#f01010" stroke-width="0.85" />
<line x1="644.9" y1="224.1" x2="644.9" y2="227.1" stroke="#f01010" stroke-width="0.85" />
<line x1="641.4" y1="228.1" x2="641.4" y2="223.1" stroke="#f01010" stroke-width="0.85" />
<line x1="639.9" y1="228.1" x2="642.9" y2="228.1" stroke="#f01010" stroke-width="0.85" />
<line x1="639.9" y1="223.1" x2="642.9" y2="223.1" stroke="#f01010" stroke-width="0.85" />
<circle cx="641.4" cy="225.6" r="1.7" fill="#f01010"/>
<line x1="639.7" y1="225.6" x2="646.6" y2="225.6" stroke="#f01010" stroke-width="0.85" />
<line x1="639.7" y1="224.1" x2="639.7" y2="227.1" stroke="#f01010" stroke-width="0.85" />
<line x1="646.6" y1="224.1" x2="646.6" y2="227.1" stroke="#f01010" stroke-width="0.85" />
<line x1="643.1" y1="228.1" x2="643.1" y2="223.1" stroke="#f01010" stroke-width="0.85" />
<line x1="641.6" y1="228.1" x2="644.6" y2="228.1" stroke="#f01010" stroke-width="0.85" />
<line x1="641.6" y1="223.1" x2="644.6" y2="223.1" stroke="#f01010" stroke-width="0.85" />
<circle cx="643.1" cy="225.6" r="1.7" fill="#f01010"/>
<line x1="641.4" y1="225.7" x2="648.4" y2="225.7" stroke="#f01010" stroke-width="0.85" />
<line x1="641.4" y1="224.2" x2="641.4" y2="227.2" stroke="#f01010" stroke-width="0.85" />
<line x1="648.4" y1="224.2" x2="648.4" y2="227.2" stroke="#f01010" stroke-width="0.85" />
<line x1="644.9" y1="228.2" x2="644.9" y2="223.2" stroke="#f01010" stroke-width="0.85" />
<line x1="643.4" y1="228.2" x2="646.4" y2="228.2" stroke="#f01010" stroke-width="0.85" />
<line x1="643.4" y1="223.2" x2="646.4" y2="223.2" stroke="#f01010" stroke-width="0.85" />
<circle cx="644.9" cy="225.7" r="1.7" fill="#f01010"/>
<line x1="643.1" y1="225.7" x2="650.1" y2="225.7" stroke="#f01010" stroke-width="0.85" />
<line x1="643.1" y1="224.2" x2="643.1" y2="227.2" stroke="#f01010" stroke-width="0.85" />
<line x1="650.1" y1="224.2" x2="650.1" y2="227.2" stroke="#f01010" stroke-width="0.85" />
<line x1="646.6" y1="228.2" x2="646.6" y2="223.2" stroke="#f01010" stroke-width="0.85" />
<line x1="645.1" y1="228.2" x2="648.1" y2="228.2" stroke="#f01010" stroke-width="0.85" />
<line x1="645.1" y1="223.2" x2="648.1" y2="223.2" stroke="#f01010" stroke-width="0.85" />
<circle cx="646.6" cy="225.7" r="1.7" fill="#f01010"/>
<line x1="644.9" y1="225.8" x2="651.9" y2="225.8" stroke="#f01010" stroke-width="0.85" />
<line x1="644.9" y1="224.3" x2="644.9" y2="227.3" stroke="#f01010" stroke-width="0.85" />
<line x1="651.9" y1="224.3" x2="651.9" y2="227.3" stroke="#f01010" stroke-width="0.85" />
<line x1="648.4" y1="228.3" x2="648.4" y2="223.3" stroke="#f01010" stroke-width="0.85" />
<line x1="646.9" y1="228.3" x2="649.9" y2="228.3" stroke="#f01010" stroke-width="0.85" />
<line x1="646.9" y1="223.3" x2="649.9" y2="223.3" stroke="#f01010" stroke-width="0.85" />
<circle cx="648.4" cy="225.8" r="1.7" fill="#f01010"/>
<line x1="646.6" y1="225.8" x2="653.6" y2="225.8" stroke="#f01010" stroke-width="0.85" />
<line x1="646.6" y1="224.3" x2="646.6" y2="227.3" stroke="#f01010" stroke-width="0.85" />
<line x1="653.6" y1="224.3" x2="653.6" y2="227.3" stroke="#f01010" stroke-width="0.85" />
<line x1="650.1" y1="228.3" x2="650.1" y2="223.3" stroke="#f01010" stroke-width="0.85" />
<line x1="648.6" y1="228.3" x2="651.6" y2="228.3" stroke="#f01010" stroke-width="0.85" />
<line x1="648.6" y1="223.3" x2="651.6" y2="223.3" stroke="#f01010" stroke-width="0.85" />
<circle cx="650.1" cy="225.8" r="1.7" fill="#f01010"/>
<line x1="648.4" y1="225.9" x2="655.4" y2="225.9" stroke="#f01010" stroke-width="0.85" />
<line x1="648.4" y1="224.4" x2="648.4" y2="227.4" stroke="#f01010" stroke-width="0.85" />
<line x1="655.4" y1="224.4" x2="655.4" y2="227.4" stroke="#f01010" stroke-width="0.85" />
<line x1="651.9" y1="228.4" x2="651.9" y2="223.3" stroke="#f01010" stroke-width="0.85" />
<line x1="650.4" y1="228.4" x2="653.4" y2="228.4" stroke="#f01010" stroke-width="0.85" />
<line x1="650.4" y1="223.3" x2="653.4" y2="223.3" stroke="#f01010" stroke-width="0.85" />
<circle cx="651.9" cy="225.9" r="1.7" fill="#f01010"/>
<line x1="650.1" y1="225.9" x2="657.1" y2="225.9" stroke="#f01010" stroke-width="0.85" />
<line x1="650.1" y1="224.4" x2="650.1" y2="227.4" stroke="#f01010" stroke-width="0.85" />
<line x1="657.1" y1="224.4" x2="657.1" y2="227.4" stroke="#f01010" stroke-width="0.85" />
<line x1="653.6" y1="228.4" x2="653.6" y2="223.4" stroke="#f01010" stroke-width="0.85" />
<line x1="652.1" y1="228.4" x2="655.1" y2="228.4" stroke="#f01010" stroke-width="0.85" />
<line x1="652.1" y1="223.4" x2="655.1" y2="223.4" stroke="#f01010" stroke-width="0.85" />
<circle cx="653.6" cy="225.9" r="1.7" fill="#f01010"/>
<line x1="651.9" y1="225.9" x2="658.9" y2="225.9" stroke="#f01010" stroke-width="0.85" />
<line x1="651.9" y1="224.4" x2="651.9" y2="227.4" stroke="#f01010" stroke-width="0.85" />
<line x1="658.9" y1="224.4" x2="658.9" y2="227.4" stroke="#f01010" stroke-width="0.85" />
<line x1="655.4" y1="228.5" x2="655.4" y2="223.4" stroke="#f01010" stroke-width="0.85" />
<line x1="653.9" y1="228.5" x2="656.9" y2="228.5" stroke="#f01010" stroke-width="0.85" />
<line x1="653.9" y1="223.4" x2="656.9" y2="223.4" stroke="#f01010" stroke-width="0.85" />
<circle cx="655.4" cy="225.9" r="1.7" fill="#f01010"/>
<line x1="653.6" y1="226" x2="660.6" y2="226" stroke="#f01010" stroke-width="0.85" />
<line x1="653.6" y1="224.5" x2="653.6" y2="227.5" stroke="#f01010" stroke-width="0.85" />
<line x1="660.6" y1="224.5" x2="660.6" y2="227.5" stroke="#f01010" stroke-width="0.85" />
<line x1="657.1" y1="228.5" x2="657.1" y2="223.5" stroke="#f01010" stroke-width="0.85" />
<line x1="655.6" y1="228.5" x2="658.6" y2="228.5" stroke="#f01010" stroke-width="0.85" />
<line x1="655.6" y1="223.5" x2="658.6" y2="223.5" stroke="#f01010" stroke-width="0.85" />
<circle cx="657.1" cy="226" r="1.7" fill="#f01010"/>
<line x1="655.4" y1="226" x2="662.3" y2="226" stroke="#f01010" stroke-width="0.85" />
<line x1="655.4" y1="224.5" x2="655.4" y2="227.5" stroke="#f01010" stroke-width="0.85" />
<line x1="662.3" y1="224.5" x2="662.3" y2="227.5" stroke="#f01010" stroke-width="0.85" />
<line x1="658.9" y1="228.5" x2="658.9" y2="223.5" stroke="#f01010" stroke-width="0.85" />
<line x1="657.4" y1="228.5" x2="660.4" y2="228.5" stroke="#f01010" stroke-width="0.85" />
<line x1="657.4" y1="223.5" x2="660.4" y2="223.5" stroke="#f01010" stroke-width="0.85" />
<circle cx="658.9" cy="226" r="1.7" fill="#f01010"/>
<line x1="657.1" y1="226.1" x2="664.1" y2="226.1" stroke="#f01010" stroke-width="0.85" />
<line x1="657.1" y1="224.6" x2="657.1" y2="227.6" stroke="#f01010" stroke-width="0.85" />
<line x1="664.1" y1="224.6" x2="664.1" y2="227.6" stroke="#f01010" stroke-width="0.85" />
<line x1="660.6" y1="228.6" x2="660.6" y2="223.6" stroke="#f01010" stroke-width="0.85" />
<line x1="659.1" y1="228.6" x2="662.1" y2="228.6" stroke="#f01010" stroke-width="0.85" />
<line x1="659.1" y1="223.6" x2="662.1" y2="223.6" stroke="#f01010" stroke-width="0.85" />
<circle cx="660.6" cy="226.1" r="1.7" fill="#f01010"/>
<line x1="658.9" y1="226.1" x2="665.8" y2="226.1" stroke="#f01010" stroke-width="0.85" />
<line x1="658.9" y1="224.6" x2="658.9" y2="227.6" stroke="#f01010" stroke-width="0.85" />
<line x1="665.8" y1="224.6" x2="665.8" y2="227.6" stroke="#f01010" stroke-width="0.85" />
<line x1="662.3" y1="228.6" x2="662.3" y2="223.6" stroke="#f01010" stroke-width="0.85" />
<line x1="660.8" y1="228.6" x2="663.8" y2="228.6" stroke="#f01010" stroke-width="0.85" />
<line x1="660.8" y1="223.6" x2="663.8" y2="223.6" stroke="#f01010" stroke-width="0.85" />
<circle cx="662.3" cy="226.1" r="1.7" fill="#f01010"/>
<line x1="660.6" y1="226.2" x2="667.6" y2="226.2" stroke="#f01010" stroke-width="0.85" />
<line x1="660.6" y1="224.7" x2="660.6" y2="227.7" stroke="#f01010" stroke-width="0.85" />
<line x1="667.6" y1="224.7" x2="667.6" y2="227.7" stroke="#f01010" stroke-width="0.85" />
<line x1="664.1" y1="228.7" x2="664.1" y2="223.7" stroke="#f01010" stroke-width="0.85" />
<line x1="662.6" y1="228.7" x2="665.6" y2="228.7" stroke="#f01010" stroke-width="0.85" />
<line x1="662.6" y1="223.7" x2="665.6" y2="223.7" stroke="#f01010" stroke-width="0.85" />
<circle cx="664.1" cy="226.2" r="1.7" fill="#f01010"/>
<line x1="662.3" y1="226.2" x2="669.3" y2="226.2" stroke="#f01010" stroke-width="0.85" />
<line x1="662.3" y1="224.7" x2="662.3" y2="227.7" stroke="#f01010" stroke-width="0.85" />
<line x1="669.3" y1="224.7" x2="669.3" y2="227.7" stroke="#f01010" stroke-width="0.85" />
<line x1="665.8" y1="228.7" x2="665.8" y2="223.7" stroke="#f01010" stroke-width="0.85" />
<line x1="664.3" y1="228.7" x2="667.3" y2="228.7" stroke="#f01010" stroke-width="0.85" />
<line x1="664.3" y1="223.7" x2="667.3" y2="223.7" stroke="#f01010" stroke-width="0.85" />
<circle cx="665.8" cy="226.2" r="1.7" fill="#f01010"/>
<line x1="664.1" y1="226.3" x2="671.1" y2="226.3" stroke="#f01010" stroke-width="0.85" />
<line x1="664.1" y1="224.8" x2="664.1" y2="227.8" stroke="#f01010" stroke-width="0.85" />
<line x1="671.1" y1="224.8" x2="671.1" y2="227.8" stroke="#f01010" stroke-width="0.85" />
<line x1="667.6" y1="228.8" x2="667.6" y2="223.8" stroke="#f01010" stroke-width="0.85" />
<line x1="666.1" y1="228.8" x2="669.1" y2="228.8" stroke="#f01010" stroke-width="0.85" />
<line x1="666.1" y1="223.8" x2="669.1" y2="223.8" stroke="#f01010" stroke-width="0.85" />
<circle cx="667.6" cy="226.3" r="1.7" fill="#f01010"/>
<line x1="665.8" y1="226.4" x2="672.8" y2="226.4" stroke="#f01010" stroke-width="0.85" />
<line x1="665.8" y1="224.9" x2="665.8" y2="227.9" stroke="#f01010" stroke-width="0.85" />
<line x1="672.8" y1="224.9" x2="672.8" y2="227.9" stroke="#f01010" stroke-width="0.85" />
<line x1="669.3" y1="228.9" x2="669.3" y2="223.9" stroke="#f01010" stroke-width="0.85" />
<line x1="667.8" y1="228.9" x2="670.8" y2="228.9" stroke="#f01010" stroke-width="0.85" />
<line x1="667.8" y1="223.9" x2="670.8" y2="223.9" stroke="#f01010" stroke-width="0.85" />
<circle cx="669.3" cy="226.4" r="1.7" fill="#f01010"/>
<line x1="667.6" y1="226.4" x2="674.6" y2="226.4" stroke="#f01010" stroke-width="0.85" />
<line x1="667.6" y1="224.9" x2="667.6" y2="227.9" stroke="#f01010" stroke-width="0.85" />
<line x1="674.6" y1="224.9" x2="674.6" y2="227.9" stroke="#f01010" stroke-width="0.85" />
<line x1="671.1" y1="229" x2="671.1" y2="223.9" stroke="#f01010" stroke-width="0.85" />
<line x1="669.6" y1="229" x2="672.6" y2="229" stroke="#f01010" stroke-width="0.85" />
<line x1="669.6" y1="223.9" x2="672.6" y2="223.9" stroke="#f01010" stroke-width="0.85" />
<circle cx="671.1" cy="226.4" r="1.7" fill="#f01010"/>
<line x1="669.3" y1="226.5" x2="676.3" y2="226.5" stroke="#f01010" stroke-width="0.85" />
<line x1="669.3" y1="225" x2="669.3" y2="228" stroke="#f01010" stroke-width="0.85" />
<line x1="676.3" y1="225" x2="676.3" y2="228" stroke="#f01010" stroke-width="0.85" />
<line x1="672.8" y1="229" x2="672.8" y2="224" stroke="#f01010" stroke-width="0.85" />
<line x1="671.3" y1="229" x2="674.3" y2="229" stroke="#f01010" stroke-width="0.85" />
<line x1="671.3" y1="224" x2="674.3" y2="224" stroke="#f01010" stroke-width="0.85" />
<circle cx="672.8" cy="226.5" r="1.7" fill="#f01010"/>
<line x1="671.1" y1="226.6" x2="678" y2="226.6" stroke="#f01010" stroke-width="0.85" />
<line x1="671.1" y1="225.1" x2="671.1" y2="228.1" stroke="#f01010" stroke-width="0.85" />
<line x1="678" y1="225.1" x2="678" y2="228.1" stroke="#f01010" stroke-width="0.85" />
<line x1="674.6" y1="229.1" x2="674.6" y2="224.1" stroke="#f01010" stroke-width="0.85" />
<line x1="673.1" y1="229.1" x2="676.1" y2="229.1" stroke="#f01010" stroke-width="0.85" />
<line x1="673.1" y1="224.1" x2="676.1" y2="224.1" stroke="#f01010" stroke-width="0.85" />
<circle cx="674.6" cy="226.6" r="1.7" fill="#f01010"/>
<line x1="672.8" y1="226.7" x2="679.8" y2="226.7" stroke="#f01010" stroke-width="0.85" />
<line x1="672.8" y1="225.2" x2="672.8" y2="228.2" stroke="#f01010" stroke-width="0.85" />
<line x1="679.8" y1="225.2" x2="679.8" y2="228.2" stroke="#f01010" stroke-width="0.85" />
<line x1="676.3" y1="229.2" x2="676.3" y2="224.1" stroke="#f01010" stroke-width="0.85" />
<line x1="674.8" y1="229.2" x2="677.8" y2="229.2" stroke="#f01010" stroke-width="0.85" />
<line x1="674.8" y1="224.1" x2="677.8" y2="224.1" stroke="#f01010" stroke-width="0.85" />
<circle cx="676.3" cy="226.7" r="1.7" fill="#f01010"/>
<line x1="432" y1="219.1" x2="436.5" y2="219.1" stroke="#3a3a3a" stroke-width="1.3" />
<line x1="683" y1="219.1" x2="678.5" y2="219.1" stroke="#3a3a3a" stroke-width="1.3" />
<line x1="432" y1="187.8" x2="436.5" y2="187.8" stroke="#3a3a3a" stroke-width="1.3" />
<line x1="683" y1="187.8" x2="678.5" y2="187.8" stroke="#3a3a3a" stroke-width="1.3" />
<line x1="432" y1="156.5" x2="436.5" y2="156.5" stroke="#3a3a3a" stroke-width="1.3" />
<line x1="683" y1="156.5" x2="678.5" y2="156.5" stroke="#3a3a3a" stroke-width="1.3" />
<line x1="432" y1="125.1" x2="436.5" y2="125.1" stroke="#3a3a3a" stroke-width="1.3" />
<line x1="683" y1="125.1" x2="678.5" y2="125.1" stroke="#3a3a3a" stroke-width="1.3" />
<line x1="432" y1="93.8" x2="436.5" y2="93.8" stroke="#3a3a3a" stroke-width="1.3" />
<line x1="683" y1="93.8" x2="678.5" y2="93.8" stroke="#3a3a3a" stroke-width="1.3" />
<line x1="432" y1="62.4" x2="436.5" y2="62.4" stroke="#3a3a3a" stroke-width="1.3" />
<line x1="683" y1="62.4" x2="678.5" y2="62.4" stroke="#3a3a3a" stroke-width="1.3" />
<line x1="432" y1="234.8" x2="440" y2="234.8" stroke="#3a3a3a" stroke-width="1.3" />
<line x1="683" y1="234.8" x2="675" y2="234.8" stroke="#3a3a3a" stroke-width="1.3" />
<line x1="432" y1="203.5" x2="440" y2="203.5" stroke="#3a3a3a" stroke-width="1.3" />
<line x1="683" y1="203.5" x2="675" y2="203.5" stroke="#3a3a3a" stroke-width="1.3" />
<line x1="432" y1="172.1" x2="440" y2="172.1" stroke="#3a3a3a" stroke-width="1.3" />
<line x1="683" y1="172.1" x2="675" y2="172.1" stroke="#3a3a3a" stroke-width="1.3" />
<line x1="432" y1="140.8" x2="440" y2="140.8" stroke="#3a3a3a" stroke-width="1.3" />
<line x1="683" y1="140.8" x2="675" y2="140.8" stroke="#3a3a3a" stroke-width="1.3" />
<line x1="432" y1="109.4" x2="440" y2="109.4" stroke="#3a3a3a" stroke-width="1.3" />
<line x1="683" y1="109.4" x2="675" y2="109.4" stroke="#3a3a3a" stroke-width="1.3" />
<line x1="432" y1="78.1" x2="440" y2="78.1" stroke="#3a3a3a" stroke-width="1.3" />
<line x1="683" y1="78.1" x2="675" y2="78.1" stroke="#3a3a3a" stroke-width="1.3" />
<line x1="432" y1="46.8" x2="440" y2="46.8" stroke="#3a3a3a" stroke-width="1.3" />
<line x1="683" y1="46.8" x2="675" y2="46.8" stroke="#3a3a3a" stroke-width="1.3" />
<line x1="466.9" y1="234.8" x2="466.9" y2="230.3" stroke="#3a3a3a" stroke-width="1.3" />
<line x1="466.9" y1="33.6" x2="466.9" y2="38.1" stroke="#3a3a3a" stroke-width="1.3" />
<line x1="536.7" y1="234.8" x2="536.7" y2="230.3" stroke="#3a3a3a" stroke-width="1.3" />
<line x1="536.7" y1="33.6" x2="536.7" y2="38.1" stroke="#3a3a3a" stroke-width="1.3" />
<line x1="606.5" y1="234.8" x2="606.5" y2="230.3" stroke="#3a3a3a" stroke-width="1.3" />
<line x1="606.5" y1="33.6" x2="606.5" y2="38.1" stroke="#3a3a3a" stroke-width="1.3" />
<line x1="676.3" y1="234.8" x2="676.3" y2="230.3" stroke="#3a3a3a" stroke-width="1.3" />
<line x1="676.3" y1="33.6" x2="676.3" y2="38.1" stroke="#3a3a3a" stroke-width="1.3" />
<line x1="432" y1="234.8" x2="432" y2="226.8" stroke="#3a3a3a" stroke-width="1.3" />
<line x1="432" y1="33.6" x2="432" y2="41.6" stroke="#3a3a3a" stroke-width="1.3" />
<line x1="501.8" y1="234.8" x2="501.8" y2="226.8" stroke="#3a3a3a" stroke-width="1.3" />
<line x1="501.8" y1="33.6" x2="501.8" y2="41.6" stroke="#3a3a3a" stroke-width="1.3" />
<line x1="571.6" y1="234.8" x2="571.6" y2="226.8" stroke="#3a3a3a" stroke-width="1.3" />
<line x1="571.6" y1="33.6" x2="571.6" y2="41.6" stroke="#3a3a3a" stroke-width="1.3" />
<line x1="641.4" y1="234.8" x2="641.4" y2="226.8" stroke="#3a3a3a" stroke-width="1.3" />
<line x1="641.4" y1="33.6" x2="641.4" y2="41.6" stroke="#3a3a3a" stroke-width="1.3" />
<rect x="432" y="33.6" width="251" height="201.2" fill="none" stroke="#3a3a3a" stroke-width="1.3"/>
<text x="421.6" y="241.9" text-anchor="end" class="t">0</text>
<text x="421.6" y="210.6" text-anchor="end" class="t">20</text>
<text x="421.6" y="179.2" text-anchor="end" class="t">40</text>
<text x="421.6" y="147.9" text-anchor="end" class="t">60</text>
<text x="421.6" y="116.5" text-anchor="end" class="t">80</text>
<text x="421.6" y="85.2" text-anchor="end" class="t">100</text>
<text x="421.6" y="53.9" text-anchor="end" class="t">120</text>
<text x="432" y="258.3" text-anchor="middle" class="t">0</text>
<text x="501.8" y="258.3" text-anchor="middle" class="t">20</text>
<text x="571.6" y="258.3" text-anchor="middle" class="t">40</text>
<text x="641.4" y="258.3" text-anchor="middle" class="t">60</text>
<polyline points="168.8,537.2 169.2,536.8 169.5,536.4 169.9,535.9 170.2,535.5 170.6,535.1 170.9,534.7 171.2,534.3 171.6,533.8 171.9,533.4 172.3,532.8 172.6,532.1 173,531.5 173.3,530.9 173.7,530.2 174,529.6 174.4,528.9 174.7,528.3 175.1,527.6 175.4,527 175.8,526.4 176.1,525.7 176.5,525.1 176.8,524.4 177.2,523.8 177.5,523.1 177.9,522.5 178.2,521.9 178.6,521.2 178.9,520.6 179.3,519.9 179.6,519.3 180,518.6 180.3,518 180.7,517.4 181,516.7 181.4,516.1 181.7,515.4 182.1,514.8 182.4,514.1 182.8,513.5 183.1,512.9 183.5,512.2 183.8,511.6 184.2,510.8 184.5,510.1 184.9,509.4 185.2,508.6 185.6,507.9 185.9,507.2 186.3,506.4 186.6,505.7 187,505 187.3,504.2 187.7,503.5 188,502.8 188.4,502 188.7,501.3 189.1,500.6 189.4,499.8 189.8,499.1 190.1,498.4 190.5,497.6 190.8,496.9 191.2,496.2 191.5,495.4 191.9,494.7 192.2,494 192.6,493.3 192.9,492.5 193.3,491.8 193.6,491.1 194,490.3 194.3,489.6 194.7,488.9 195,488.1 195.4,487.4 195.7,486.7 196.1,485.9 196.4,485.1 196.8,484.3 197.1,483.5 197.5,482.7 197.8,481.9 198.2,481.1 198.5,480.3 198.9,479.5 199.2,478.7 199.6,477.9 199.9,477.1 200.3,476.3 200.6,475.5 201,474.7 201.3,473.9 201.7,473.1 202,472.3 202.4,471.5 202.7,470.6 203.1,469.8 203.4,469 203.8,468.2 204.1,467.4 204.5,466.6 204.8,465.8 205.2,465 205.5,464.2 205.8,463.4 206.2,462.6 206.5,461.8 206.9,461.2 207.2,460.5 207.6,459.9 207.9,459.3 208.3,458.6 208.6,458 209,457.4 209.3,456.7 209.7,456.1 210,455.5 210.4,454.8 210.7,454.2 211.1,453.5 211.4,452.9 211.8,452.3 212.1,451.6 212.5,451 212.8,450.4 213.2,449.7 213.5,449.1 213.9,448.5 214.2,447.8 214.6,447.2 214.9,446.6 215.3,445.9 215.6,445.3 216,444.7 216.3,444 216.7,443.4 217,442.8 217.4,442.1 217.7,441.5 218.1,440.8 218.4,440.2 218.8,439.6 219.1,438.9 219.5,438.3 219.8,437.7 220.2,437.2 220.5,436.7 220.9,436.3 221.2,435.8 221.6,435.3 221.9,434.8 222.3,434.4 222.6,433.9 223,433.4 223.3,433 223.7,432.5 224,432 224.4,431.5 224.7,431.1 225.1,430.6 225.4,430.1 225.8,429.7 226.1,429.2 226.5,428.7 226.8,428.2 227.2,427.8 227.5,427.3 227.9,426.8 228.2,426.4 228.6,425.9 228.9,425.4 229.3,424.9 229.6,424.5 230,424 230.3,423.5 230.7,423.1 231,422.6 231.4,422.1 231.7,421.6 232.1,421.2 232.4,420.7 232.8,420.2 233.1,419.8 233.5,419.3 233.8,418.8 234.2,418.6 234.5,418.4 234.9,418.2 235.2,417.9 235.6,417.7 235.9,417.5 236.3,417.3 236.6,417 237,416.8 237.3,416.6 237.7,416.4 238,416.1 238.4,415.9 238.7,415.7 239.1,415.5 239.4,415.2 239.8,415 240.1,414.8 240.5,414.6 240.8,414.4 241.1,414.1 241.5,413.9 241.8,413.7 242.2,413.5 242.5,413.2 242.9,413 243.2,412.8 243.6,412.7 243.9,412.5 244.3,412.4 244.6,412.3 245,412.1 245.3,412 245.7,411.9 246,411.7 246.4,411.6 246.7,411.5 247.1,411.3 247.4,411.2 247.8,411.1 248.1,411 248.5,410.8 248.8,410.7 249.2,410.6 249.5,410.4 249.9,410.3 250.2,410.2 250.6,410 250.9,409.9 251.3,409.8 251.6,409.7 252,409.7 252.3,409.7 252.7,409.7 253,409.6 253.4,409.6 253.7,409.6 254.1,409.6 254.4,409.5 254.8,409.5 255.1,409.5 255.5,409.5 255.8,409.4 256.2,409.4 256.5,409.4 256.9,409.4 257.2,409.3 257.6,409.3 257.9,409.3 258.3,409.3 258.6,409.2 259,409.2 259.3,409.2 259.7,409.1 260,409.1 260.4,409.1 260.7,409.1 261.1,409 261.4,409 261.8,409.1 262.1,409.1 262.5,409.2 262.8,409.3 263.2,409.3 263.5,409.4 263.9,409.4 264.2,409.5 264.6,409.5 264.9,409.6 265.3,409.7 265.6,409.7 266,409.8 266.3,409.8 266.7,409.9 267,409.9 267.4,410 267.7,410.1 268.1,410.1 268.4,410.2 268.8,410.2 269.1,410.3 269.5,410.4 269.8,410.4 270.2,410.5 270.5,410.5 270.9,410.6 271.2,410.6 271.6,410.7 271.9,410.8 272.3,410.8 272.6,410.9 273,410.9 273.3,411 273.7,411.1 274,411.1 274.4,411.2 274.7,411.2 275.1,411.3 275.4,411.4 275.7,411.5 276.1,411.6 276.4,411.7 276.8,411.8 277.1,411.9 277.5,412 277.8,412.2 278.2,412.3 278.5,412.4 278.9,412.5 279.2,412.6 279.6,412.7 279.9,412.8 280.3,412.9 280.6,413 281,413.1 281.3,413.3 281.7,413.4 282,413.5 282.4,413.6 282.7,413.7 283.1,413.8 283.4,413.9 283.8,414 284.1,414.1 284.5,414.2 284.8,414.4 285.2,414.5 285.5,414.6 285.9,414.7 286.2,414.8 286.6,414.9 286.9,415 287.3,415.1 287.6,415.2 288,415.3 288.3,415.4 288.7,415.6 289,415.7 289.4,415.8 289.7,415.9 290.1,416 290.4,416.1 290.8,416.2 291.1,416.3 291.5,416.4 291.8,416.5 292.2,416.7 292.5,416.8 292.9,416.9 293.2,417 293.6,417.1 293.9,417.2 294.3,417.3 294.6,417.5 295,417.6 295.3,417.8 295.7,418 296,418.1 296.4,418.3 296.7,418.4 297.1,418.6 297.4,418.8 297.8,418.9 298.1,419.1 298.5,419.2 298.8,419.4 299.2,419.6 299.5,419.7 299.9,419.9 300.2,420 300.6,420.2 300.9,420.4 301.3,420.5 301.6,420.7 302,420.8 302.3,421 302.7,421.2 303,421.3 303.4,421.5 303.7,421.7 304.1,421.8 304.4,422 304.8,422.1 305.1,422.3 305.5,422.5 305.8,422.6 306.2,422.8 306.5,422.9 306.9,423.1 307.2,423.3 307.6,423.4 307.9,423.6 308.3,423.7 308.6,423.9 309,424.1 309.3,424.2 309.7,424.4 310,424.5 310.4,424.7 310.7,424.9 311,425 311.4,425.2 311.7,425.3 312.1,425.5 312.4,425.7 312.8,425.8 313.1,426 313.5,426.2 313.8,426.3 314.2,426.5 314.5,426.6 314.9,426.8 315.2,427 315.6,427.1 315.9,427.1 316.3,427.1" fill="none" stroke="#4a4a4a" stroke-width="1.3" stroke-dasharray="5.5,4"/>
<line x1="253.4" y1="409.8" x2="259" y2="409.8" stroke="#9c6c3c" stroke-width="0.85" />
<line x1="253.4" y1="407.8" x2="253.4" y2="411.8" stroke="#9c6c3c" stroke-width="0.85" />
<line x1="259" y1="407.8" x2="259" y2="411.8" stroke="#9c6c3c" stroke-width="0.85" />
<line x1="256.2" y1="431.6" x2="256.2" y2="387.9" stroke="#9c6c3c" stroke-width="0.85" />
<line x1="254.2" y1="431.6" x2="258.2" y2="431.6" stroke="#9c6c3c" stroke-width="0.85" />
<line x1="254.2" y1="387.9" x2="258.2" y2="387.9" stroke="#9c6c3c" stroke-width="0.85" />
<path d="M256.2 403.2L259.9 409.8L256.2 416.3L252.4 409.8Z" fill="#fff" stroke="#9c6c3c" stroke-width="0.85"/>
<line x1="269.8" y1="403" x2="275.4" y2="403" stroke="#9c6c3c" stroke-width="0.85" />
<line x1="269.8" y1="401" x2="269.8" y2="405" stroke="#9c6c3c" stroke-width="0.85" />
<line x1="275.4" y1="401" x2="275.4" y2="405" stroke="#9c6c3c" stroke-width="0.85" />
<line x1="272.6" y1="431.6" x2="272.6" y2="369.1" stroke="#9c6c3c" stroke-width="0.85" />
<line x1="270.6" y1="431.6" x2="274.6" y2="431.6" stroke="#9c6c3c" stroke-width="0.85" />
<line x1="270.6" y1="369.1" x2="274.6" y2="369.1" stroke="#9c6c3c" stroke-width="0.85" />
<path d="M272.6 396.4L276.3 403L272.6 409.5L268.9 403Z" fill="#fff" stroke="#9c6c3c" stroke-width="0.85"/>
<line x1="275.7" y1="393.9" x2="281.3" y2="393.9" stroke="#9c6c3c" stroke-width="0.85" />
<line x1="275.7" y1="391.9" x2="275.7" y2="395.9" stroke="#9c6c3c" stroke-width="0.85" />
<line x1="281.3" y1="391.9" x2="281.3" y2="395.9" stroke="#9c6c3c" stroke-width="0.85" />
<line x1="278.5" y1="421.1" x2="278.5" y2="363.8" stroke="#9c6c3c" stroke-width="0.85" />
<line x1="276.5" y1="421.1" x2="280.5" y2="421.1" stroke="#9c6c3c" stroke-width="0.85" />
<line x1="276.5" y1="363.8" x2="280.5" y2="363.8" stroke="#9c6c3c" stroke-width="0.85" />
<path d="M278.5 387.4L282.3 393.9L278.5 400.5L274.8 393.9Z" fill="#fff" stroke="#9c6c3c" stroke-width="0.85"/>
<line x1="292.9" y1="372.1" x2="298.5" y2="372.1" stroke="#9c6c3c" stroke-width="0.85" />
<line x1="292.9" y1="370.1" x2="292.9" y2="374.1" stroke="#9c6c3c" stroke-width="0.85" />
<line x1="298.5" y1="370.1" x2="298.5" y2="374.1" stroke="#9c6c3c" stroke-width="0.85" />
<line x1="295.7" y1="431.6" x2="295.7" y2="342.7" stroke="#9c6c3c" stroke-width="0.85" />
<line x1="293.7" y1="431.6" x2="297.7" y2="431.6" stroke="#9c6c3c" stroke-width="0.85" />
<line x1="293.7" y1="342.7" x2="297.7" y2="342.7" stroke="#9c6c3c" stroke-width="0.85" />
<path d="M295.7 365.5L299.4 372.1L295.7 378.6L291.9 372.1Z" fill="#fff" stroke="#9c6c3c" stroke-width="0.85"/>
<line x1="292.9" y1="378.9" x2="298.5" y2="378.9" stroke="#9c6c3c" stroke-width="0.85" />
<line x1="292.9" y1="376.9" x2="292.9" y2="380.9" stroke="#9c6c3c" stroke-width="0.85" />
<line x1="298.5" y1="376.9" x2="298.5" y2="380.9" stroke="#9c6c3c" stroke-width="0.85" />
<line x1="295.7" y1="431.6" x2="295.7" y2="342.7" stroke="#9c6c3c" stroke-width="0.85" />
<line x1="293.7" y1="431.6" x2="297.7" y2="431.6" stroke="#9c6c3c" stroke-width="0.85" />
<line x1="293.7" y1="342.7" x2="297.7" y2="342.7" stroke="#9c6c3c" stroke-width="0.85" />
<path d="M295.7 372.3L299.4 378.9L295.7 385.4L291.9 378.9Z" fill="#fff" stroke="#9c6c3c" stroke-width="0.85"/>
<line x1="311.7" y1="401.5" x2="317.3" y2="401.5" stroke="#9c6c3c" stroke-width="0.85" />
<line x1="311.7" y1="399.5" x2="311.7" y2="403.5" stroke="#9c6c3c" stroke-width="0.85" />
<line x1="317.3" y1="399.5" x2="317.3" y2="403.5" stroke="#9c6c3c" stroke-width="0.85" />
<line x1="314.5" y1="439.2" x2="314.5" y2="369.1" stroke="#9c6c3c" stroke-width="0.85" />
<line x1="312.5" y1="439.2" x2="316.5" y2="439.2" stroke="#9c6c3c" stroke-width="0.85" />
<line x1="312.5" y1="369.1" x2="316.5" y2="369.1" stroke="#9c6c3c" stroke-width="0.85" />
<path d="M314.5 394.9L318.3 401.5L314.5 408L310.8 401.5Z" fill="#fff" stroke="#9c6c3c" stroke-width="0.85"/>
<line x1="65.7" y1="532.2" x2="115.7" y2="532.2" stroke="#3ad83a" stroke-width="0.85" />
<line x1="65.7" y1="530.2" x2="65.7" y2="534.2" stroke="#3ad83a" stroke-width="0.85" />
<line x1="115.7" y1="530.2" x2="115.7" y2="534.2" stroke="#3ad83a" stroke-width="0.85" />
<line x1="90.5" y1="535.7" x2="90.5" y2="519.9" stroke="#3ad83a" stroke-width="0.85" />
<line x1="88.5" y1="535.7" x2="92.5" y2="535.7" stroke="#3ad83a" stroke-width="0.85" />
<line x1="88.5" y1="519.9" x2="92.5" y2="519.9" stroke="#3ad83a" stroke-width="0.85" />
<circle cx="90.5" cy="532.2" r="3" fill="#fff" stroke="#3ad83a" stroke-width="0.85"/>
<line x1="115.3" y1="482.2" x2="160.4" y2="482.2" stroke="#3ad83a" stroke-width="0.85" />
<line x1="115.3" y1="480.2" x2="115.3" y2="484.2" stroke="#3ad83a" stroke-width="0.85" />
<line x1="160.4" y1="480.2" x2="160.4" y2="484.2" stroke="#3ad83a" stroke-width="0.85" />
<line x1="138" y1="488.9" x2="138" y2="474.6" stroke="#3ad83a" stroke-width="0.85" />
<line x1="136" y1="488.9" x2="140" y2="488.9" stroke="#3ad83a" stroke-width="0.85" />
<line x1="136" y1="474.6" x2="140" y2="474.6" stroke="#3ad83a" stroke-width="0.85" />
<circle cx="138" cy="482.2" r="3" fill="#fff" stroke="#3ad83a" stroke-width="0.85"/>
<line x1="160.1" y1="510.8" x2="191.5" y2="510.8" stroke="#3ad83a" stroke-width="0.85" />
<line x1="160.1" y1="508.8" x2="160.1" y2="512.8" stroke="#3ad83a" stroke-width="0.85" />
<line x1="191.5" y1="508.8" x2="191.5" y2="512.8" stroke="#3ad83a" stroke-width="0.85" />
<line x1="176.8" y1="516.1" x2="176.8" y2="505.5" stroke="#3ad83a" stroke-width="0.85" />
<line x1="174.8" y1="516.1" x2="178.8" y2="516.1" stroke="#3ad83a" stroke-width="0.85" />
<line x1="174.8" y1="505.5" x2="178.8" y2="505.5" stroke="#3ad83a" stroke-width="0.85" />
<circle cx="176.8" cy="510.8" r="3" fill="#fff" stroke="#3ad83a" stroke-width="0.85"/>
<line x1="191.9" y1="431.6" x2="218.1" y2="431.6" stroke="#3ad83a" stroke-width="0.85" />
<line x1="191.9" y1="429.6" x2="191.9" y2="433.6" stroke="#3ad83a" stroke-width="0.85" />
<line x1="218.1" y1="429.6" x2="218.1" y2="433.6" stroke="#3ad83a" stroke-width="0.85" />
<line x1="203.8" y1="437.7" x2="203.8" y2="424.9" stroke="#3ad83a" stroke-width="0.85" />
<line x1="201.8" y1="437.7" x2="205.8" y2="437.7" stroke="#3ad83a" stroke-width="0.85" />
<line x1="201.8" y1="424.9" x2="205.8" y2="424.9" stroke="#3ad83a" stroke-width="0.85" />
<circle cx="203.8" cy="431.6" r="3" fill="#fff" stroke="#3ad83a" stroke-width="0.85"/>
<line x1="212.5" y1="452" x2="236.3" y2="452" stroke="#3ad83a" stroke-width="0.85" />
<line x1="212.5" y1="450" x2="212.5" y2="454" stroke="#3ad83a" stroke-width="0.85" />
<line x1="236.3" y1="450" x2="236.3" y2="454" stroke="#3ad83a" stroke-width="0.85" />
<line x1="229.3" y1="460.3" x2="229.3" y2="444.5" stroke="#3ad83a" stroke-width="0.85" />
<line x1="227.3" y1="460.3" x2="231.3" y2="460.3" stroke="#3ad83a" stroke-width="0.85" />
<line x1="227.3" y1="444.5" x2="231.3" y2="444.5" stroke="#3ad83a" stroke-width="0.85" />
<circle cx="229.3" cy="452" r="3" fill="#fff" stroke="#3ad83a" stroke-width="0.85"/>
<line x1="238.7" y1="401.5" x2="263.2" y2="401.5" stroke="#3ad83a" stroke-width="0.85" />
<line x1="238.7" y1="399.5" x2="238.7" y2="403.5" stroke="#3ad83a" stroke-width="0.85" />
<line x1="263.2" y1="399.5" x2="263.2" y2="403.5" stroke="#3ad83a" stroke-width="0.85" />
<line x1="252" y1="409" x2="252" y2="392.4" stroke="#3ad83a" stroke-width="0.85" />
<line x1="250" y1="409" x2="254" y2="409" stroke="#3ad83a" stroke-width="0.85" />
<line x1="250" y1="392.4" x2="254" y2="392.4" stroke="#3ad83a" stroke-width="0.85" />
<circle cx="252" cy="401.5" r="3" fill="#fff" stroke="#3ad83a" stroke-width="0.85"/>
<line x1="259.7" y1="403" x2="282.4" y2="403" stroke="#3ad83a" stroke-width="0.85" />
<line x1="259.7" y1="401" x2="259.7" y2="405" stroke="#3ad83a" stroke-width="0.85" />
<line x1="282.4" y1="401" x2="282.4" y2="405" stroke="#3ad83a" stroke-width="0.85" />
<line x1="271.6" y1="410.5" x2="271.6" y2="395.4" stroke="#3ad83a" stroke-width="0.85" />
<line x1="269.6" y1="410.5" x2="273.6" y2="410.5" stroke="#3ad83a" stroke-width="0.85" />
<line x1="269.6" y1="395.4" x2="273.6" y2="395.4" stroke="#3ad83a" stroke-width="0.85" />
<circle cx="271.6" cy="403" r="3" fill="#fff" stroke="#3ad83a" stroke-width="0.85"/>
<line x1="280.3" y1="439.9" x2="299.2" y2="439.9" stroke="#3ad83a" stroke-width="0.85" />
<line x1="280.3" y1="437.9" x2="280.3" y2="441.9" stroke="#3ad83a" stroke-width="0.85" />
<line x1="299.2" y1="437.9" x2="299.2" y2="441.9" stroke="#3ad83a" stroke-width="0.85" />
<line x1="289.7" y1="446.7" x2="289.7" y2="432.4" stroke="#3ad83a" stroke-width="0.85" />
<line x1="287.7" y1="446.7" x2="291.7" y2="446.7" stroke="#3ad83a" stroke-width="0.85" />
<line x1="287.7" y1="432.4" x2="291.7" y2="432.4" stroke="#3ad83a" stroke-width="0.85" />
<circle cx="289.7" cy="439.9" r="3" fill="#fff" stroke="#3ad83a" stroke-width="0.85"/>
<line x1="298.1" y1="401.5" x2="317.3" y2="401.5" stroke="#3ad83a" stroke-width="0.85" />
<line x1="298.1" y1="399.5" x2="298.1" y2="403.5" stroke="#3ad83a" stroke-width="0.85" />
<line x1="317.3" y1="399.5" x2="317.3" y2="403.5" stroke="#3ad83a" stroke-width="0.85" />
<line x1="307.2" y1="409" x2="307.2" y2="392.4" stroke="#3ad83a" stroke-width="0.85" />
<line x1="305.2" y1="409" x2="309.2" y2="409" stroke="#3ad83a" stroke-width="0.85" />
<line x1="305.2" y1="392.4" x2="309.2" y2="392.4" stroke="#3ad83a" stroke-width="0.85" />
<circle cx="307.2" cy="401.5" r="3" fill="#fff" stroke="#3ad83a" stroke-width="0.85"/>
<line x1="129" y1="530.8" x2="131.1" y2="530.8" stroke="#3030d8" stroke-width="0.85" />
<line x1="129" y1="528.8" x2="129" y2="532.8" stroke="#3030d8" stroke-width="0.85" />
<line x1="131.1" y1="528.8" x2="131.1" y2="532.8" stroke="#3030d8" stroke-width="0.85" />
<path d="M130 527.5L133.9 533.9L126.1 533.9Z" fill="#fff" stroke="#3030d8" stroke-width="0.85"/>
<line x1="137.7" y1="531.6" x2="139.8" y2="531.6" stroke="#3030d8" stroke-width="0.85" />
<line x1="137.7" y1="529.6" x2="137.7" y2="533.6" stroke="#3030d8" stroke-width="0.85" />
<line x1="139.8" y1="529.6" x2="139.8" y2="533.6" stroke="#3030d8" stroke-width="0.85" />
<path d="M138.7 528.3L142.6 534.7L134.9 534.7Z" fill="#fff" stroke="#3030d8" stroke-width="0.85"/>
<line x1="146.4" y1="528.9" x2="148.5" y2="528.9" stroke="#3030d8" stroke-width="0.85" />
<line x1="146.4" y1="526.9" x2="146.4" y2="530.9" stroke="#3030d8" stroke-width="0.85" />
<line x1="148.5" y1="526.9" x2="148.5" y2="530.9" stroke="#3030d8" stroke-width="0.85" />
<path d="M147.5 525.6L151.3 532L143.6 532Z" fill="#fff" stroke="#3030d8" stroke-width="0.85"/>
<line x1="160.8" y1="528.2" x2="162.9" y2="528.2" stroke="#3030d8" stroke-width="0.85" />
<line x1="160.8" y1="526.2" x2="160.8" y2="530.2" stroke="#3030d8" stroke-width="0.85" />
<line x1="162.9" y1="526.2" x2="162.9" y2="530.2" stroke="#3030d8" stroke-width="0.85" />
<path d="M161.8 524.9L165.7 531.3L158 531.3Z" fill="#fff" stroke="#3030d8" stroke-width="0.85"/>
<path d="M176.8 506.5L181.1 510.8L176.8 515.1L172.6 510.8Z" fill="#fff" stroke="#b8bc5c" stroke-width="0.85"/>
<path d="M271.9 401L276.2 405.3L271.9 409.5L267.6 405.3Z" fill="#fff" stroke="#b8bc5c" stroke-width="0.85"/>
<path d="M310.4 397.2L314.6 401.5L310.4 405.8L306.1 401.5Z" fill="#fff" stroke="#b8bc5c" stroke-width="0.85"/>
<line x1="222.3" y1="387.2" x2="256.2" y2="387.2" stroke="#f0f020" stroke-width="0.85" />
<line x1="222.3" y1="384.7" x2="222.3" y2="389.7" stroke="#f0f020" stroke-width="0.85" />
<line x1="256.2" y1="384.7" x2="256.2" y2="389.7" stroke="#f0f020" stroke-width="0.85" />
<line x1="240.8" y1="417.3" x2="240.8" y2="356.2" stroke="#f0f020" stroke-width="0.85" />
<line x1="238.3" y1="417.3" x2="243.3" y2="417.3" stroke="#f0f020" stroke-width="0.85" />
<line x1="238.3" y1="356.2" x2="243.3" y2="356.2" stroke="#f0f020" stroke-width="0.85" />
<circle cx="240.8" cy="387.2" r="2.2" fill="#f0f020"/>
<rect x="168.5" y="521.2" width="5.6" height="5.6" fill="#fff" stroke="#d860d8" stroke-width="0.85"/>
<rect x="181.7" y="515.6" width="5.6" height="5.6" fill="#fff" stroke="#d860d8" stroke-width="0.85"/>
<rect x="194.3" y="508" width="5.6" height="5.6" fill="#fff" stroke="#d860d8" stroke-width="0.85"/>
<rect x="216.3" y="457.5" width="5.6" height="5.6" fill="#fff" stroke="#d860d8" stroke-width="0.85"/>
<rect x="245" y="438.6" width="5.6" height="5.6" fill="#fff" stroke="#d860d8" stroke-width="0.85"/>
<rect x="307.6" y="395.7" width="5.6" height="5.6" fill="#fff" stroke="#d860d8" stroke-width="0.85"/>
<polyline points="207.2,409.5 208.1,407.4 209,405.2 209.9,403 210.7,400.8 211.6,398.7 212.5,396.7 213.4,394.7 214.2,392.6 215.1,390.6 216,388.9 216.9,387.3 217.7,385.8 218.6,384.2 219.5,382.6 220.4,381.7 221.2,380.8 222.1,379.9 223,379 223.8,378.1 224.7,377.2 225.6,376.3 226.5,375.4 227.3,374.5 228.2,374.1 229.1,373.8 230,373.5 230.8,373.3 231.7,373 232.6,372.7 233.5,372.4 234.3,372.1 235.2,372.9 236.1,373.9 237,375 237.8,376 238.7,376.1 239.6,374.8 240.4,373.5 241.3,372.2 242.2,370.9 243.1,370 243.9,370.9 244.8,371.8 245.7,372.7 246.6,373.5 247.4,374.4 248.3,375.3 249.2,376.1 250.1,376.6 250.9,377.1 251.8,377.7 252.7,378.2 253.6,378.8 254.4,379.3 255.3,379.8 256.2,380.4 257.1,380.9 257.9,381.5 258.8,382.1 259.7,382.6 260.5,383.2 261.4,383.8 262.3,384.3 263.2,384.9 264,385.6 264.9,386.2 265.8,386.9 266.7,387.5 267.5,388.2 268.4,388.9 269.3,389.5 270.2,390.2 271,390.7 271.9,391.2 272.8,391.8 273.7,392.3 274.5,392.9 275.4,393.4 276.3,393.9 277.1,394.5 278,395.2 278.9,396.1 279.8,396.9 280.6,397.7 281.5,398.6 282.4,399.4 283.3,400.3 284.1,401.1 285,401.6 285.9,401.8 286.8,401.9 287.6,402.1 288.5,402.3 289.4,402.5 290.3,402.7 291.1,402.8 292,403.1 292.9,403.9 293.7,404.6 294.6,405.4 295.5,406.2 296.4,406.9 297.2,407.7 298.1,408.4 299,409.2 299.9,410 300.7,410.8 301.6,411.6 302.5,412.4 303.4,413.2 304.2,413 305.1,412.1 306,411.2 306.9,410.4 307.7,409.5 308.6,408.6 309.5,407.7 310.4,406.8" fill="none" stroke="#f01010" stroke-width="6.0" stroke-linejoin="round" stroke-linecap="round"/>
<line x1="163.6" y1="536.1" x2="171.2" y2="536.1" stroke="#f01010" stroke-width="0.85" />
<line x1="163.6" y1="534.6" x2="163.6" y2="537.6" stroke="#f01010" stroke-width="0.85" />
<line x1="171.2" y1="534.6" x2="171.2" y2="537.6" stroke="#f01010" stroke-width="0.85" />
<line x1="167.4" y1="539.5" x2="167.4" y2="532.7" stroke="#f01010" stroke-width="0.85" />
<line x1="165.9" y1="539.5" x2="168.9" y2="539.5" stroke="#f01010" stroke-width="0.85" />
<line x1="165.9" y1="532.7" x2="168.9" y2="532.7" stroke="#f01010" stroke-width="0.85" />
<circle cx="167.4" cy="536.1" r="1.7" fill="#f01010"/>
<line x1="164.8" y1="534.7" x2="172.5" y2="534.7" stroke="#f01010" stroke-width="0.85" />
<line x1="164.8" y1="533.2" x2="164.8" y2="536.2" stroke="#f01010" stroke-width="0.85" />
<line x1="172.5" y1="533.2" x2="172.5" y2="536.2" stroke="#f01010" stroke-width="0.85" />
<line x1="168.6" y1="538.1" x2="168.6" y2="531.4" stroke="#f01010" stroke-width="0.85" />
<line x1="167.1" y1="538.1" x2="170.1" y2="538.1" stroke="#f01010" stroke-width="0.85" />
<line x1="167.1" y1="531.4" x2="170.1" y2="531.4" stroke="#f01010" stroke-width="0.85" />
<circle cx="168.6" cy="534.7" r="1.7" fill="#f01010"/>
<line x1="166" y1="533.4" x2="173.7" y2="533.4" stroke="#f01010" stroke-width="0.85" />
<line x1="166" y1="531.9" x2="166" y2="534.9" stroke="#f01010" stroke-width="0.85" />
<line x1="173.7" y1="531.9" x2="173.7" y2="534.9" stroke="#f01010" stroke-width="0.85" />
<line x1="169.9" y1="536.8" x2="169.9" y2="530" stroke="#f01010" stroke-width="0.85" />
<line x1="168.4" y1="536.8" x2="171.4" y2="536.8" stroke="#f01010" stroke-width="0.85" />
<line x1="168.4" y1="530" x2="171.4" y2="530" stroke="#f01010" stroke-width="0.85" />
<circle cx="169.9" cy="533.4" r="1.7" fill="#f01010"/>
<line x1="167.2" y1="529.5" x2="174.9" y2="529.5" stroke="#f01010" stroke-width="0.85" />
<line x1="167.2" y1="528" x2="167.2" y2="531" stroke="#f01010" stroke-width="0.85" />
<line x1="174.9" y1="528" x2="174.9" y2="531" stroke="#f01010" stroke-width="0.85" />
<line x1="171.1" y1="532.9" x2="171.1" y2="526.1" stroke="#f01010" stroke-width="0.85" />
<line x1="169.6" y1="532.9" x2="172.6" y2="532.9" stroke="#f01010" stroke-width="0.85" />
<line x1="169.6" y1="526.1" x2="172.6" y2="526.1" stroke="#f01010" stroke-width="0.85" />
<circle cx="171.1" cy="529.5" r="1.7" fill="#f01010"/>
<line x1="168.5" y1="525.5" x2="176.1" y2="525.5" stroke="#f01010" stroke-width="0.85" />
<line x1="168.5" y1="524" x2="168.5" y2="527" stroke="#f01010" stroke-width="0.85" />
<line x1="176.1" y1="524" x2="176.1" y2="527" stroke="#f01010" stroke-width="0.85" />
<line x1="172.3" y1="528.9" x2="172.3" y2="522.1" stroke="#f01010" stroke-width="0.85" />
<line x1="170.8" y1="528.9" x2="173.8" y2="528.9" stroke="#f01010" stroke-width="0.85" />
<line x1="170.8" y1="522.1" x2="173.8" y2="522.1" stroke="#f01010" stroke-width="0.85" />
<circle cx="172.3" cy="525.5" r="1.7" fill="#f01010"/>
<line x1="169.7" y1="521.6" x2="177.4" y2="521.6" stroke="#f01010" stroke-width="0.85" />
<line x1="169.7" y1="520.1" x2="169.7" y2="523.1" stroke="#f01010" stroke-width="0.85" />
<line x1="177.4" y1="520.1" x2="177.4" y2="523.1" stroke="#f01010" stroke-width="0.85" />
<line x1="173.5" y1="524.9" x2="173.5" y2="518.2" stroke="#f01010" stroke-width="0.85" />
<line x1="172" y1="524.9" x2="175" y2="524.9" stroke="#f01010" stroke-width="0.85" />
<line x1="172" y1="518.2" x2="175" y2="518.2" stroke="#f01010" stroke-width="0.85" />
<circle cx="173.5" cy="521.6" r="1.7" fill="#f01010"/>
<line x1="170.9" y1="517.6" x2="178.6" y2="517.6" stroke="#f01010" stroke-width="0.85" />
<line x1="170.9" y1="516.1" x2="170.9" y2="519.1" stroke="#f01010" stroke-width="0.85" />
<line x1="178.6" y1="516.1" x2="178.6" y2="519.1" stroke="#f01010" stroke-width="0.85" />
<line x1="174.7" y1="521" x2="174.7" y2="514.2" stroke="#f01010" stroke-width="0.85" />
<line x1="173.2" y1="521" x2="176.2" y2="521" stroke="#f01010" stroke-width="0.85" />
<line x1="173.2" y1="514.2" x2="176.2" y2="514.2" stroke="#f01010" stroke-width="0.85" />
<circle cx="174.7" cy="517.6" r="1.7" fill="#f01010"/>
<line x1="172.1" y1="513.6" x2="179.8" y2="513.6" stroke="#f01010" stroke-width="0.85" />
<line x1="172.1" y1="512.1" x2="172.1" y2="515.1" stroke="#f01010" stroke-width="0.85" />
<line x1="179.8" y1="512.1" x2="179.8" y2="515.1" stroke="#f01010" stroke-width="0.85" />
<line x1="176" y1="517" x2="176" y2="510.2" stroke="#f01010" stroke-width="0.85" />
<line x1="174.5" y1="517" x2="177.5" y2="517" stroke="#f01010" stroke-width="0.85" />
<line x1="174.5" y1="510.2" x2="177.5" y2="510.2" stroke="#f01010" stroke-width="0.85" />
<circle cx="176" cy="513.6" r="1.7" fill="#f01010"/>
<line x1="173.3" y1="510.1" x2="181" y2="510.1" stroke="#f01010" stroke-width="0.85" />
<line x1="173.3" y1="508.6" x2="173.3" y2="511.6" stroke="#f01010" stroke-width="0.85" />
<line x1="181" y1="508.6" x2="181" y2="511.6" stroke="#f01010" stroke-width="0.85" />
<line x1="177.2" y1="513.4" x2="177.2" y2="506.7" stroke="#f01010" stroke-width="0.85" />
<line x1="175.7" y1="513.4" x2="178.7" y2="513.4" stroke="#f01010" stroke-width="0.85" />
<line x1="175.7" y1="506.7" x2="178.7" y2="506.7" stroke="#f01010" stroke-width="0.85" />
<circle cx="177.2" cy="510.1" r="1.7" fill="#f01010"/>
<line x1="174.6" y1="507.4" x2="182.3" y2="507.4" stroke="#f01010" stroke-width="0.85" />
<line x1="174.6" y1="505.9" x2="174.6" y2="508.9" stroke="#f01010" stroke-width="0.85" />
<line x1="182.3" y1="505.9" x2="182.3" y2="508.9" stroke="#f01010" stroke-width="0.85" />
<line x1="178.4" y1="510.8" x2="178.4" y2="504" stroke="#f01010" stroke-width="0.85" />
<line x1="176.9" y1="510.8" x2="179.9" y2="510.8" stroke="#f01010" stroke-width="0.85" />
<line x1="176.9" y1="504" x2="179.9" y2="504" stroke="#f01010" stroke-width="0.85" />
<circle cx="178.4" cy="507.4" r="1.7" fill="#f01010"/>
<line x1="175.8" y1="504.8" x2="183.5" y2="504.8" stroke="#f01010" stroke-width="0.85" />
<line x1="175.8" y1="503.3" x2="175.8" y2="506.3" stroke="#f01010" stroke-width="0.85" />
<line x1="183.5" y1="503.3" x2="183.5" y2="506.3" stroke="#f01010" stroke-width="0.85" />
<line x1="179.6" y1="508.2" x2="179.6" y2="501.4" stroke="#f01010" stroke-width="0.85" />
<line x1="178.1" y1="508.2" x2="181.1" y2="508.2" stroke="#f01010" stroke-width="0.85" />
<line x1="178.1" y1="501.4" x2="181.1" y2="501.4" stroke="#f01010" stroke-width="0.85" />
<circle cx="179.6" cy="504.8" r="1.7" fill="#f01010"/>
<line x1="177" y1="502.1" x2="184.7" y2="502.1" stroke="#f01010" stroke-width="0.85" />
<line x1="177" y1="500.6" x2="177" y2="503.6" stroke="#f01010" stroke-width="0.85" />
<line x1="184.7" y1="500.6" x2="184.7" y2="503.6" stroke="#f01010" stroke-width="0.85" />
<line x1="180.9" y1="505.5" x2="180.9" y2="498.7" stroke="#f01010" stroke-width="0.85" />
<line x1="179.4" y1="505.5" x2="182.4" y2="505.5" stroke="#f01010" stroke-width="0.85" />
<line x1="179.4" y1="498.7" x2="182.4" y2="498.7" stroke="#f01010" stroke-width="0.85" />
<circle cx="180.9" cy="502.1" r="1.7" fill="#f01010"/>
<line x1="178.2" y1="499.5" x2="185.9" y2="499.5" stroke="#f01010" stroke-width="0.85" />
<line x1="178.2" y1="498" x2="178.2" y2="501" stroke="#f01010" stroke-width="0.85" />
<line x1="185.9" y1="498" x2="185.9" y2="501" stroke="#f01010" stroke-width="0.85" />
<line x1="182.1" y1="502.9" x2="182.1" y2="496.1" stroke="#f01010" stroke-width="0.85" />
<line x1="180.6" y1="502.9" x2="183.6" y2="502.9" stroke="#f01010" stroke-width="0.85" />
<line x1="180.6" y1="496.1" x2="183.6" y2="496.1" stroke="#f01010" stroke-width="0.85" />
<circle cx="182.1" cy="499.5" r="1.7" fill="#f01010"/>
<line x1="179.5" y1="497" x2="187.2" y2="497" stroke="#f01010" stroke-width="0.85" />
<line x1="179.5" y1="495.5" x2="179.5" y2="498.5" stroke="#f01010" stroke-width="0.85" />
<line x1="187.2" y1="495.5" x2="187.2" y2="498.5" stroke="#f01010" stroke-width="0.85" />
<line x1="183.3" y1="500.4" x2="183.3" y2="493.6" stroke="#f01010" stroke-width="0.85" />
<line x1="181.8" y1="500.4" x2="184.8" y2="500.4" stroke="#f01010" stroke-width="0.85" />
<line x1="181.8" y1="493.6" x2="184.8" y2="493.6" stroke="#f01010" stroke-width="0.85" />
<circle cx="183.3" cy="497" r="1.7" fill="#f01010"/>
<line x1="180.7" y1="494.6" x2="188.4" y2="494.6" stroke="#f01010" stroke-width="0.85" />
<line x1="180.7" y1="493.1" x2="180.7" y2="496.1" stroke="#f01010" stroke-width="0.85" />
<line x1="188.4" y1="493.1" x2="188.4" y2="496.1" stroke="#f01010" stroke-width="0.85" />
<line x1="184.5" y1="497.9" x2="184.5" y2="491.2" stroke="#f01010" stroke-width="0.85" />
<line x1="183" y1="497.9" x2="186" y2="497.9" stroke="#f01010" stroke-width="0.85" />
<line x1="183" y1="491.2" x2="186" y2="491.2" stroke="#f01010" stroke-width="0.85" />
<circle cx="184.5" cy="494.6" r="1.7" fill="#f01010"/>
<line x1="181.9" y1="492.1" x2="189.6" y2="492.1" stroke="#f01010" stroke-width="0.85" />
<line x1="181.9" y1="490.6" x2="181.9" y2="493.6" stroke="#f01010" stroke-width="0.85" />
<line x1="189.6" y1="490.6" x2="189.6" y2="493.6" stroke="#f01010" stroke-width="0.85" />
<line x1="185.8" y1="495.5" x2="185.8" y2="488.7" stroke="#f01010" stroke-width="0.85" />
<line x1="184.3" y1="495.5" x2="187.3" y2="495.5" stroke="#f01010" stroke-width="0.85" />
<line x1="184.3" y1="488.7" x2="187.3" y2="488.7" stroke="#f01010" stroke-width="0.85" />
<circle cx="185.8" cy="492.1" r="1.7" fill="#f01010"/>
<line x1="183.1" y1="489.6" x2="190.8" y2="489.6" stroke="#f01010" stroke-width="0.85" />
<line x1="183.1" y1="488.1" x2="183.1" y2="491.1" stroke="#f01010" stroke-width="0.85" />
<line x1="190.8" y1="488.1" x2="190.8" y2="491.1" stroke="#f01010" stroke-width="0.85" />
<line x1="187" y1="493" x2="187" y2="486.2" stroke="#f01010" stroke-width="0.85" />
<line x1="185.5" y1="493" x2="188.5" y2="493" stroke="#f01010" stroke-width="0.85" />
<line x1="185.5" y1="486.2" x2="188.5" y2="486.2" stroke="#f01010" stroke-width="0.85" />
<circle cx="187" cy="489.6" r="1.7" fill="#f01010"/>
<line x1="184.4" y1="485.1" x2="192" y2="485.1" stroke="#f01010" stroke-width="0.85" />
<line x1="184.4" y1="483.6" x2="184.4" y2="486.6" stroke="#f01010" stroke-width="0.85" />
<line x1="192" y1="483.6" x2="192" y2="486.6" stroke="#f01010" stroke-width="0.85" />
<line x1="188.2" y1="488.5" x2="188.2" y2="481.7" stroke="#f01010" stroke-width="0.85" />
<line x1="186.7" y1="488.5" x2="189.7" y2="488.5" stroke="#f01010" stroke-width="0.85" />
<line x1="186.7" y1="481.7" x2="189.7" y2="481.7" stroke="#f01010" stroke-width="0.85" />
<circle cx="188.2" cy="485.1" r="1.7" fill="#f01010"/>
<line x1="185.6" y1="478" x2="193.3" y2="478" stroke="#f01010" stroke-width="0.85" />
<line x1="185.6" y1="476.5" x2="185.6" y2="479.5" stroke="#f01010" stroke-width="0.85" />
<line x1="193.3" y1="476.5" x2="193.3" y2="479.5" stroke="#f01010" stroke-width="0.85" />
<line x1="189.4" y1="481.4" x2="189.4" y2="474.6" stroke="#f01010" stroke-width="0.85" />
<line x1="187.9" y1="481.4" x2="190.9" y2="481.4" stroke="#f01010" stroke-width="0.85" />
<line x1="187.9" y1="474.6" x2="190.9" y2="474.6" stroke="#f01010" stroke-width="0.85" />
<circle cx="189.4" cy="478" r="1.7" fill="#f01010"/>
<line x1="186.8" y1="470.3" x2="194.5" y2="470.3" stroke="#f01010" stroke-width="0.85" />
<line x1="186.8" y1="468.8" x2="186.8" y2="471.8" stroke="#f01010" stroke-width="0.85" />
<line x1="194.5" y1="468.8" x2="194.5" y2="471.8" stroke="#f01010" stroke-width="0.85" />
<line x1="190.6" y1="473.7" x2="190.6" y2="466.9" stroke="#f01010" stroke-width="0.85" />
<line x1="189.1" y1="473.7" x2="192.1" y2="473.7" stroke="#f01010" stroke-width="0.85" />
<line x1="189.1" y1="466.9" x2="192.1" y2="466.9" stroke="#f01010" stroke-width="0.85" />
<circle cx="190.6" cy="470.3" r="1.7" fill="#f01010"/>
<line x1="188" y1="462" x2="195.7" y2="462" stroke="#f01010" stroke-width="0.85" />
<line x1="188" y1="460.5" x2="188" y2="463.5" stroke="#f01010" stroke-width="0.85" />
<line x1="195.7" y1="460.5" x2="195.7" y2="463.5" stroke="#f01010" stroke-width="0.85" />
<line x1="191.9" y1="465.4" x2="191.9" y2="458.6" stroke="#f01010" stroke-width="0.85" />
<line x1="190.4" y1="465.4" x2="193.4" y2="465.4" stroke="#f01010" stroke-width="0.85" />
<line x1="190.4" y1="458.6" x2="193.4" y2="458.6" stroke="#f01010" stroke-width="0.85" />
<circle cx="191.9" cy="462" r="1.7" fill="#f01010"/>
<line x1="189.2" y1="454.9" x2="196.9" y2="454.9" stroke="#f01010" stroke-width="0.85" />
<line x1="189.2" y1="453.4" x2="189.2" y2="456.4" stroke="#f01010" stroke-width="0.85" />
<line x1="196.9" y1="453.4" x2="196.9" y2="456.4" stroke="#f01010" stroke-width="0.85" />
<line x1="193.1" y1="458.3" x2="193.1" y2="451.5" stroke="#f01010" stroke-width="0.85" />
<line x1="191.6" y1="458.3" x2="194.6" y2="458.3" stroke="#f01010" stroke-width="0.85" />
<line x1="191.6" y1="451.5" x2="194.6" y2="451.5" stroke="#f01010" stroke-width="0.85" />
<circle cx="193.1" cy="454.9" r="1.7" fill="#f01010"/>
<line x1="190.5" y1="449.4" x2="198.2" y2="449.4" stroke="#f01010" stroke-width="0.85" />
<line x1="190.5" y1="447.9" x2="190.5" y2="450.9" stroke="#f01010" stroke-width="0.85" />
<line x1="198.2" y1="447.9" x2="198.2" y2="450.9" stroke="#f01010" stroke-width="0.85" />
<line x1="194.3" y1="452.8" x2="194.3" y2="446" stroke="#f01010" stroke-width="0.85" />
<line x1="192.8" y1="452.8" x2="195.8" y2="452.8" stroke="#f01010" stroke-width="0.85" />
<line x1="192.8" y1="446" x2="195.8" y2="446" stroke="#f01010" stroke-width="0.85" />
<circle cx="194.3" cy="449.4" r="1.7" fill="#f01010"/>
<line x1="191.7" y1="443.8" x2="199.4" y2="443.8" stroke="#f01010" stroke-width="0.85" />
<line x1="191.7" y1="442.3" x2="191.7" y2="445.3" stroke="#f01010" stroke-width="0.85" />
<line x1="199.4" y1="442.3" x2="199.4" y2="445.3" stroke="#f01010" stroke-width="0.85" />
<line x1="195.5" y1="447.2" x2="195.5" y2="440.4" stroke="#f01010" stroke-width="0.85" />
<line x1="194" y1="447.2" x2="197" y2="447.2" stroke="#f01010" stroke-width="0.85" />
<line x1="194" y1="440.4" x2="197" y2="440.4" stroke="#f01010" stroke-width="0.85" />
<circle cx="195.5" cy="443.8" r="1.7" fill="#f01010"/>
<line x1="192.9" y1="439.5" x2="200.6" y2="439.5" stroke="#f01010" stroke-width="0.85" />
<line x1="192.9" y1="438" x2="192.9" y2="441" stroke="#f01010" stroke-width="0.85" />
<line x1="200.6" y1="438" x2="200.6" y2="441" stroke="#f01010" stroke-width="0.85" />
<line x1="196.8" y1="442.9" x2="196.8" y2="436.1" stroke="#f01010" stroke-width="0.85" />
<line x1="195.3" y1="442.9" x2="198.3" y2="442.9" stroke="#f01010" stroke-width="0.85" />
<line x1="195.3" y1="436.1" x2="198.3" y2="436.1" stroke="#f01010" stroke-width="0.85" />
<circle cx="196.8" cy="439.5" r="1.7" fill="#f01010"/>
<line x1="194.1" y1="436" x2="201.8" y2="436" stroke="#f01010" stroke-width="0.85" />
<line x1="194.1" y1="434.5" x2="194.1" y2="437.5" stroke="#f01010" stroke-width="0.85" />
<line x1="201.8" y1="434.5" x2="201.8" y2="437.5" stroke="#f01010" stroke-width="0.85" />
<line x1="198" y1="439.4" x2="198" y2="432.6" stroke="#f01010" stroke-width="0.85" />
<line x1="196.5" y1="439.4" x2="199.5" y2="439.4" stroke="#f01010" stroke-width="0.85" />
<line x1="196.5" y1="432.6" x2="199.5" y2="432.6" stroke="#f01010" stroke-width="0.85" />
<circle cx="198" cy="436" r="1.7" fill="#f01010"/>
<line x1="195.4" y1="432.6" x2="203.1" y2="432.6" stroke="#f01010" stroke-width="0.85" />
<line x1="195.4" y1="431.1" x2="195.4" y2="434.1" stroke="#f01010" stroke-width="0.85" />
<line x1="203.1" y1="431.1" x2="203.1" y2="434.1" stroke="#f01010" stroke-width="0.85" />
<line x1="199.2" y1="436" x2="199.2" y2="429.2" stroke="#f01010" stroke-width="0.85" />
<line x1="197.7" y1="436" x2="200.7" y2="436" stroke="#f01010" stroke-width="0.85" />
<line x1="197.7" y1="429.2" x2="200.7" y2="429.2" stroke="#f01010" stroke-width="0.85" />
<circle cx="199.2" cy="432.6" r="1.7" fill="#f01010"/>
<line x1="196.6" y1="429.1" x2="204.3" y2="429.1" stroke="#f01010" stroke-width="0.85" />
<line x1="196.6" y1="427.6" x2="196.6" y2="430.6" stroke="#f01010" stroke-width="0.85" />
<line x1="204.3" y1="427.6" x2="204.3" y2="430.6" stroke="#f01010" stroke-width="0.85" />
<line x1="200.4" y1="432.5" x2="200.4" y2="425.7" stroke="#f01010" stroke-width="0.85" />
<line x1="198.9" y1="432.5" x2="201.9" y2="432.5" stroke="#f01010" stroke-width="0.85" />
<line x1="198.9" y1="425.7" x2="201.9" y2="425.7" stroke="#f01010" stroke-width="0.85" />
<circle cx="200.4" cy="429.1" r="1.7" fill="#f01010"/>
<line x1="197.8" y1="425.6" x2="205.5" y2="425.6" stroke="#f01010" stroke-width="0.85" />
<line x1="197.8" y1="424.1" x2="197.8" y2="427.1" stroke="#f01010" stroke-width="0.85" />
<line x1="205.5" y1="424.1" x2="205.5" y2="427.1" stroke="#f01010" stroke-width="0.85" />
<line x1="201.7" y1="429" x2="201.7" y2="422.2" stroke="#f01010" stroke-width="0.85" />
<line x1="200.2" y1="429" x2="203.2" y2="429" stroke="#f01010" stroke-width="0.85" />
<line x1="200.2" y1="422.2" x2="203.2" y2="422.2" stroke="#f01010" stroke-width="0.85" />
<circle cx="201.7" cy="425.6" r="1.7" fill="#f01010"/>
<line x1="199" y1="422" x2="206.7" y2="422" stroke="#f01010" stroke-width="0.85" />
<line x1="199" y1="420.5" x2="199" y2="423.5" stroke="#f01010" stroke-width="0.85" />
<line x1="206.7" y1="420.5" x2="206.7" y2="423.5" stroke="#f01010" stroke-width="0.85" />
<line x1="202.9" y1="425.4" x2="202.9" y2="418.6" stroke="#f01010" stroke-width="0.85" />
<line x1="201.4" y1="425.4" x2="204.4" y2="425.4" stroke="#f01010" stroke-width="0.85" />
<line x1="201.4" y1="418.6" x2="204.4" y2="418.6" stroke="#f01010" stroke-width="0.85" />
<circle cx="202.9" cy="422" r="1.7" fill="#f01010"/>
<line x1="200.3" y1="418.4" x2="207.9" y2="418.4" stroke="#f01010" stroke-width="0.85" />
<line x1="200.3" y1="416.9" x2="200.3" y2="419.9" stroke="#f01010" stroke-width="0.85" />
<line x1="207.9" y1="416.9" x2="207.9" y2="419.9" stroke="#f01010" stroke-width="0.85" />
<line x1="204.1" y1="421.8" x2="204.1" y2="415" stroke="#f01010" stroke-width="0.85" />
<line x1="202.6" y1="421.8" x2="205.6" y2="421.8" stroke="#f01010" stroke-width="0.85" />
<line x1="202.6" y1="415" x2="205.6" y2="415" stroke="#f01010" stroke-width="0.85" />
<circle cx="204.1" cy="418.4" r="1.7" fill="#f01010"/>
<line x1="201.5" y1="414.9" x2="209.2" y2="414.9" stroke="#f01010" stroke-width="0.85" />
<line x1="201.5" y1="413.4" x2="201.5" y2="416.4" stroke="#f01010" stroke-width="0.85" />
<line x1="209.2" y1="413.4" x2="209.2" y2="416.4" stroke="#f01010" stroke-width="0.85" />
<line x1="205.3" y1="418.2" x2="205.3" y2="411.5" stroke="#f01010" stroke-width="0.85" />
<line x1="203.8" y1="418.2" x2="206.8" y2="418.2" stroke="#f01010" stroke-width="0.85" />
<line x1="203.8" y1="411.5" x2="206.8" y2="411.5" stroke="#f01010" stroke-width="0.85" />
<circle cx="205.3" cy="414.9" r="1.7" fill="#f01010"/>
<line x1="202.7" y1="411.3" x2="210.4" y2="411.3" stroke="#f01010" stroke-width="0.85" />
<line x1="202.7" y1="409.8" x2="202.7" y2="412.8" stroke="#f01010" stroke-width="0.85" />
<line x1="210.4" y1="409.8" x2="210.4" y2="412.8" stroke="#f01010" stroke-width="0.85" />
<line x1="206.5" y1="416.2" x2="206.5" y2="406.4" stroke="#f01010" stroke-width="0.85" />
<line x1="205" y1="416.2" x2="208" y2="416.2" stroke="#f01010" stroke-width="0.85" />
<line x1="205" y1="406.4" x2="208" y2="406.4" stroke="#f01010" stroke-width="0.85" />
<circle cx="206.5" cy="411.3" r="1.7" fill="#f01010"/>
<line x1="203.9" y1="408.2" x2="211.6" y2="408.2" stroke="#f01010" stroke-width="0.85" />
<line x1="203.9" y1="406.7" x2="203.9" y2="409.7" stroke="#f01010" stroke-width="0.85" />
<line x1="211.6" y1="406.7" x2="211.6" y2="409.7" stroke="#f01010" stroke-width="0.85" />
<line x1="207.8" y1="413.1" x2="207.8" y2="403.3" stroke="#f01010" stroke-width="0.85" />
<line x1="206.3" y1="413.1" x2="209.3" y2="413.1" stroke="#f01010" stroke-width="0.85" />
<line x1="206.3" y1="403.3" x2="209.3" y2="403.3" stroke="#f01010" stroke-width="0.85" />
<circle cx="207.8" cy="408.2" r="1.7" fill="#f01010"/>
<line x1="205.2" y1="405.2" x2="212.8" y2="405.2" stroke="#f01010" stroke-width="0.85" />
<line x1="205.2" y1="403.7" x2="205.2" y2="406.7" stroke="#f01010" stroke-width="0.85" />
<line x1="212.8" y1="403.7" x2="212.8" y2="406.7" stroke="#f01010" stroke-width="0.85" />
<line x1="209" y1="410.1" x2="209" y2="400.3" stroke="#f01010" stroke-width="0.85" />
<line x1="207.5" y1="410.1" x2="210.5" y2="410.1" stroke="#f01010" stroke-width="0.85" />
<line x1="207.5" y1="400.3" x2="210.5" y2="400.3" stroke="#f01010" stroke-width="0.85" />
<circle cx="209" cy="405.2" r="1.7" fill="#f01010"/>
<line x1="206.4" y1="402.1" x2="214.1" y2="402.1" stroke="#f01010" stroke-width="0.85" />
<line x1="206.4" y1="400.6" x2="206.4" y2="403.6" stroke="#f01010" stroke-width="0.85" />
<line x1="214.1" y1="400.6" x2="214.1" y2="403.6" stroke="#f01010" stroke-width="0.85" />
<line x1="210.2" y1="407" x2="210.2" y2="397.2" stroke="#f01010" stroke-width="0.85" />
<line x1="208.7" y1="407" x2="211.7" y2="407" stroke="#f01010" stroke-width="0.85" />
<line x1="208.7" y1="397.2" x2="211.7" y2="397.2" stroke="#f01010" stroke-width="0.85" />
<circle cx="210.2" cy="402.1" r="1.7" fill="#f01010"/>
<line x1="207.6" y1="399.2" x2="215.3" y2="399.2" stroke="#f01010" stroke-width="0.85" />
<line x1="207.6" y1="397.7" x2="207.6" y2="400.7" stroke="#f01010" stroke-width="0.85" />
<line x1="215.3" y1="397.7" x2="215.3" y2="400.7" stroke="#f01010" stroke-width="0.85" />
<line x1="211.4" y1="404.1" x2="211.4" y2="394.3" stroke="#f01010" stroke-width="0.85" />
<line x1="209.9" y1="404.1" x2="212.9" y2="404.1" stroke="#f01010" stroke-width="0.85" />
<line x1="209.9" y1="394.3" x2="212.9" y2="394.3" stroke="#f01010" stroke-width="0.85" />
<circle cx="211.4" cy="399.2" r="1.7" fill="#f01010"/>
<line x1="208.8" y1="396.3" x2="216.5" y2="396.3" stroke="#f01010" stroke-width="0.85" />
<line x1="208.8" y1="394.8" x2="208.8" y2="397.8" stroke="#f01010" stroke-width="0.85" />
<line x1="216.5" y1="394.8" x2="216.5" y2="397.8" stroke="#f01010" stroke-width="0.85" />
<line x1="212.7" y1="401.2" x2="212.7" y2="391.4" stroke="#f01010" stroke-width="0.85" />
<line x1="211.2" y1="401.2" x2="214.2" y2="401.2" stroke="#f01010" stroke-width="0.85" />
<line x1="211.2" y1="391.4" x2="214.2" y2="391.4" stroke="#f01010" stroke-width="0.85" />
<circle cx="212.7" cy="396.3" r="1.7" fill="#f01010"/>
<line x1="210" y1="393.4" x2="217.7" y2="393.4" stroke="#f01010" stroke-width="0.85" />
<line x1="210" y1="391.9" x2="210" y2="394.9" stroke="#f01010" stroke-width="0.85" />
<line x1="217.7" y1="391.9" x2="217.7" y2="394.9" stroke="#f01010" stroke-width="0.85" />
<line x1="213.9" y1="398.3" x2="213.9" y2="388.5" stroke="#f01010" stroke-width="0.85" />
<line x1="212.4" y1="398.3" x2="215.4" y2="398.3" stroke="#f01010" stroke-width="0.85" />
<line x1="212.4" y1="388.5" x2="215.4" y2="388.5" stroke="#f01010" stroke-width="0.85" />
<circle cx="213.9" cy="393.4" r="1.7" fill="#f01010"/>
<line x1="211.3" y1="390.6" x2="219" y2="390.6" stroke="#f01010" stroke-width="0.85" />
<line x1="211.3" y1="389.1" x2="211.3" y2="392.1" stroke="#f01010" stroke-width="0.85" />
<line x1="219" y1="389.1" x2="219" y2="392.1" stroke="#f01010" stroke-width="0.85" />
<line x1="215.1" y1="395.5" x2="215.1" y2="385.7" stroke="#f01010" stroke-width="0.85" />
<line x1="213.6" y1="395.5" x2="216.6" y2="395.5" stroke="#f01010" stroke-width="0.85" />
<line x1="213.6" y1="385.7" x2="216.6" y2="385.7" stroke="#f01010" stroke-width="0.85" />
<circle cx="215.1" cy="390.6" r="1.7" fill="#f01010"/>
<line x1="212.5" y1="388.3" x2="220.2" y2="388.3" stroke="#f01010" stroke-width="0.85" />
<line x1="212.5" y1="386.8" x2="212.5" y2="389.8" stroke="#f01010" stroke-width="0.85" />
<line x1="220.2" y1="386.8" x2="220.2" y2="389.8" stroke="#f01010" stroke-width="0.85" />
<line x1="216.3" y1="393.2" x2="216.3" y2="383.4" stroke="#f01010" stroke-width="0.85" />
<line x1="214.8" y1="393.2" x2="217.8" y2="393.2" stroke="#f01010" stroke-width="0.85" />
<line x1="214.8" y1="383.4" x2="217.8" y2="383.4" stroke="#f01010" stroke-width="0.85" />
<circle cx="216.3" cy="388.3" r="1.7" fill="#f01010"/>
<line x1="213.7" y1="386.1" x2="221.4" y2="386.1" stroke="#f01010" stroke-width="0.85" />
<line x1="213.7" y1="384.6" x2="213.7" y2="387.6" stroke="#f01010" stroke-width="0.85" />
<line x1="221.4" y1="384.6" x2="221.4" y2="387.6" stroke="#f01010" stroke-width="0.85" />
<line x1="217.6" y1="391" x2="217.6" y2="381.2" stroke="#f01010" stroke-width="0.85" />
<line x1="216.1" y1="391" x2="219.1" y2="391" stroke="#f01010" stroke-width="0.85" />
<line x1="216.1" y1="381.2" x2="219.1" y2="381.2" stroke="#f01010" stroke-width="0.85" />
<circle cx="217.6" cy="386.1" r="1.7" fill="#f01010"/>
<line x1="214.9" y1="383.9" x2="222.6" y2="383.9" stroke="#f01010" stroke-width="0.85" />
<line x1="214.9" y1="382.4" x2="214.9" y2="385.4" stroke="#f01010" stroke-width="0.85" />
<line x1="222.6" y1="382.4" x2="222.6" y2="385.4" stroke="#f01010" stroke-width="0.85" />
<line x1="218.8" y1="388.8" x2="218.8" y2="379" stroke="#f01010" stroke-width="0.85" />
<line x1="217.3" y1="388.8" x2="220.3" y2="388.8" stroke="#f01010" stroke-width="0.85" />
<line x1="217.3" y1="379" x2="220.3" y2="379" stroke="#f01010" stroke-width="0.85" />
<circle cx="218.8" cy="383.9" r="1.7" fill="#f01010"/>
<line x1="216.2" y1="382.1" x2="223.8" y2="382.1" stroke="#f01010" stroke-width="0.85" />
<line x1="216.2" y1="380.6" x2="216.2" y2="383.6" stroke="#f01010" stroke-width="0.85" />
<line x1="223.8" y1="380.6" x2="223.8" y2="383.6" stroke="#f01010" stroke-width="0.85" />
<line x1="220" y1="387" x2="220" y2="377.2" stroke="#f01010" stroke-width="0.85" />
<line x1="218.5" y1="387" x2="221.5" y2="387" stroke="#f01010" stroke-width="0.85" />
<line x1="218.5" y1="377.2" x2="221.5" y2="377.2" stroke="#f01010" stroke-width="0.85" />
<circle cx="220" cy="382.1" r="1.7" fill="#f01010"/>
<line x1="217.4" y1="380.8" x2="225.1" y2="380.8" stroke="#f01010" stroke-width="0.85" />
<line x1="217.4" y1="379.3" x2="217.4" y2="382.3" stroke="#f01010" stroke-width="0.85" />
<line x1="225.1" y1="379.3" x2="225.1" y2="382.3" stroke="#f01010" stroke-width="0.85" />
<line x1="221.2" y1="385.7" x2="221.2" y2="375.9" stroke="#f01010" stroke-width="0.85" />
<line x1="219.7" y1="385.7" x2="222.7" y2="385.7" stroke="#f01010" stroke-width="0.85" />
<line x1="219.7" y1="375.9" x2="222.7" y2="375.9" stroke="#f01010" stroke-width="0.85" />
<circle cx="221.2" cy="380.8" r="1.7" fill="#f01010"/>
<line x1="218.6" y1="379.6" x2="226.3" y2="379.6" stroke="#f01010" stroke-width="0.85" />
<line x1="218.6" y1="378.1" x2="218.6" y2="381.1" stroke="#f01010" stroke-width="0.85" />
<line x1="226.3" y1="378.1" x2="226.3" y2="381.1" stroke="#f01010" stroke-width="0.85" />
<line x1="222.5" y1="384.5" x2="222.5" y2="374.7" stroke="#f01010" stroke-width="0.85" />
<line x1="221" y1="384.5" x2="224" y2="384.5" stroke="#f01010" stroke-width="0.85" />
<line x1="221" y1="374.7" x2="224" y2="374.7" stroke="#f01010" stroke-width="0.85" />
<circle cx="222.5" cy="379.6" r="1.7" fill="#f01010"/>
<line x1="219.8" y1="378.3" x2="227.5" y2="378.3" stroke="#f01010" stroke-width="0.85" />
<line x1="219.8" y1="376.8" x2="219.8" y2="379.8" stroke="#f01010" stroke-width="0.85" />
<line x1="227.5" y1="376.8" x2="227.5" y2="379.8" stroke="#f01010" stroke-width="0.85" />
<line x1="223.7" y1="383.2" x2="223.7" y2="373.4" stroke="#f01010" stroke-width="0.85" />
<line x1="222.2" y1="383.2" x2="225.2" y2="383.2" stroke="#f01010" stroke-width="0.85" />
<line x1="222.2" y1="373.4" x2="225.2" y2="373.4" stroke="#f01010" stroke-width="0.85" />
<circle cx="223.7" cy="378.3" r="1.7" fill="#f01010"/>
<line x1="221.1" y1="377" x2="228.7" y2="377" stroke="#f01010" stroke-width="0.85" />
<line x1="221.1" y1="375.5" x2="221.1" y2="378.5" stroke="#f01010" stroke-width="0.85" />
<line x1="228.7" y1="375.5" x2="228.7" y2="378.5" stroke="#f01010" stroke-width="0.85" />
<line x1="224.9" y1="381.9" x2="224.9" y2="372.1" stroke="#f01010" stroke-width="0.85" />
<line x1="223.4" y1="381.9" x2="226.4" y2="381.9" stroke="#f01010" stroke-width="0.85" />
<line x1="223.4" y1="372.1" x2="226.4" y2="372.1" stroke="#f01010" stroke-width="0.85" />
<circle cx="224.9" cy="377" r="1.7" fill="#f01010"/>
<line x1="222.3" y1="375.8" x2="230" y2="375.8" stroke="#f01010" stroke-width="0.85" />
<line x1="222.3" y1="374.3" x2="222.3" y2="377.3" stroke="#f01010" stroke-width="0.85" />
<line x1="230" y1="374.3" x2="230" y2="377.3" stroke="#f01010" stroke-width="0.85" />
<line x1="226.1" y1="380.7" x2="226.1" y2="370.9" stroke="#f01010" stroke-width="0.85" />
<line x1="224.6" y1="380.7" x2="227.6" y2="380.7" stroke="#f01010" stroke-width="0.85" />
<line x1="224.6" y1="370.9" x2="227.6" y2="370.9" stroke="#f01010" stroke-width="0.85" />
<circle cx="226.1" cy="375.8" r="1.7" fill="#f01010"/>
<line x1="223.5" y1="374.5" x2="231.2" y2="374.5" stroke="#f01010" stroke-width="0.85" />
<line x1="223.5" y1="373" x2="223.5" y2="376" stroke="#f01010" stroke-width="0.85" />
<line x1="231.2" y1="373" x2="231.2" y2="376" stroke="#f01010" stroke-width="0.85" />
<line x1="227.3" y1="379.4" x2="227.3" y2="369.6" stroke="#f01010" stroke-width="0.85" />
<line x1="225.8" y1="379.4" x2="228.8" y2="379.4" stroke="#f01010" stroke-width="0.85" />
<line x1="225.8" y1="369.6" x2="228.8" y2="369.6" stroke="#f01010" stroke-width="0.85" />
<circle cx="227.3" cy="374.5" r="1.7" fill="#f01010"/>
<line x1="224.7" y1="374" x2="232.4" y2="374" stroke="#f01010" stroke-width="0.85" />
<line x1="224.7" y1="372.5" x2="224.7" y2="375.5" stroke="#f01010" stroke-width="0.85" />
<line x1="232.4" y1="372.5" x2="232.4" y2="375.5" stroke="#f01010" stroke-width="0.85" />
<line x1="228.6" y1="378.9" x2="228.6" y2="369.1" stroke="#f01010" stroke-width="0.85" />
<line x1="227.1" y1="378.9" x2="230.1" y2="378.9" stroke="#f01010" stroke-width="0.85" />
<line x1="227.1" y1="369.1" x2="230.1" y2="369.1" stroke="#f01010" stroke-width="0.85" />
<circle cx="228.6" cy="374" r="1.7" fill="#f01010"/>
<line x1="225.9" y1="373.6" x2="233.6" y2="373.6" stroke="#f01010" stroke-width="0.85" />
<line x1="225.9" y1="372.1" x2="225.9" y2="375.1" stroke="#f01010" stroke-width="0.85" />
<line x1="233.6" y1="372.1" x2="233.6" y2="375.1" stroke="#f01010" stroke-width="0.85" />
<line x1="229.8" y1="378.5" x2="229.8" y2="368.7" stroke="#f01010" stroke-width="0.85" />
<line x1="228.3" y1="378.5" x2="231.3" y2="378.5" stroke="#f01010" stroke-width="0.85" />
<line x1="228.3" y1="368.7" x2="231.3" y2="368.7" stroke="#f01010" stroke-width="0.85" />
<circle cx="229.8" cy="373.6" r="1.7" fill="#f01010"/>
<line x1="227.2" y1="373.2" x2="234.9" y2="373.2" stroke="#f01010" stroke-width="0.85" />
<line x1="227.2" y1="371.7" x2="227.2" y2="374.7" stroke="#f01010" stroke-width="0.85" />
<line x1="234.9" y1="371.7" x2="234.9" y2="374.7" stroke="#f01010" stroke-width="0.85" />
<line x1="231" y1="378.1" x2="231" y2="368.3" stroke="#f01010" stroke-width="0.85" />
<line x1="229.5" y1="378.1" x2="232.5" y2="378.1" stroke="#f01010" stroke-width="0.85" />
<line x1="229.5" y1="368.3" x2="232.5" y2="368.3" stroke="#f01010" stroke-width="0.85" />
<circle cx="231" cy="373.2" r="1.7" fill="#f01010"/>
<line x1="228.4" y1="372.8" x2="236.1" y2="372.8" stroke="#f01010" stroke-width="0.85" />
<line x1="228.4" y1="371.3" x2="228.4" y2="374.3" stroke="#f01010" stroke-width="0.85" />
<line x1="236.1" y1="371.3" x2="236.1" y2="374.3" stroke="#f01010" stroke-width="0.85" />
<line x1="232.2" y1="377.7" x2="232.2" y2="367.9" stroke="#f01010" stroke-width="0.85" />
<line x1="230.7" y1="377.7" x2="233.7" y2="377.7" stroke="#f01010" stroke-width="0.85" />
<line x1="230.7" y1="367.9" x2="233.7" y2="367.9" stroke="#f01010" stroke-width="0.85" />
<circle cx="232.2" cy="372.8" r="1.7" fill="#f01010"/>
<line x1="229.6" y1="372.4" x2="237.3" y2="372.4" stroke="#f01010" stroke-width="0.85" />
<line x1="229.6" y1="370.9" x2="229.6" y2="373.9" stroke="#f01010" stroke-width="0.85" />
<line x1="237.3" y1="370.9" x2="237.3" y2="373.9" stroke="#f01010" stroke-width="0.85" />
<line x1="233.5" y1="377.3" x2="233.5" y2="367.5" stroke="#f01010" stroke-width="0.85" />
<line x1="232" y1="377.3" x2="235" y2="377.3" stroke="#f01010" stroke-width="0.85" />
<line x1="232" y1="367.5" x2="235" y2="367.5" stroke="#f01010" stroke-width="0.85" />
<circle cx="233.5" cy="372.4" r="1.7" fill="#f01010"/>
<line x1="230.8" y1="372.3" x2="238.5" y2="372.3" stroke="#f01010" stroke-width="0.85" />
<line x1="230.8" y1="370.8" x2="230.8" y2="373.8" stroke="#f01010" stroke-width="0.85" />
<line x1="238.5" y1="370.8" x2="238.5" y2="373.8" stroke="#f01010" stroke-width="0.85" />
<line x1="234.7" y1="377.2" x2="234.7" y2="367.4" stroke="#f01010" stroke-width="0.85" />
<line x1="233.2" y1="377.2" x2="236.2" y2="377.2" stroke="#f01010" stroke-width="0.85" />
<line x1="233.2" y1="367.4" x2="236.2" y2="367.4" stroke="#f01010" stroke-width="0.85" />
<circle cx="234.7" cy="372.3" r="1.7" fill="#f01010"/>
<line x1="232.1" y1="373.7" x2="239.8" y2="373.7" stroke="#f01010" stroke-width="0.85" />
<line x1="232.1" y1="372.2" x2="232.1" y2="375.2" stroke="#f01010" stroke-width="0.85" />
<line x1="239.8" y1="372.2" x2="239.8" y2="375.2" stroke="#f01010" stroke-width="0.85" />
<line x1="235.9" y1="378.6" x2="235.9" y2="368.8" stroke="#f01010" stroke-width="0.85" />
<line x1="234.4" y1="378.6" x2="237.4" y2="378.6" stroke="#f01010" stroke-width="0.85" />
<line x1="234.4" y1="368.8" x2="237.4" y2="368.8" stroke="#f01010" stroke-width="0.85" />
<circle cx="235.9" cy="373.7" r="1.7" fill="#f01010"/>
<line x1="233.3" y1="375.2" x2="241" y2="375.2" stroke="#f01010" stroke-width="0.85" />
<line x1="233.3" y1="373.7" x2="233.3" y2="376.7" stroke="#f01010" stroke-width="0.85" />
<line x1="241" y1="373.7" x2="241" y2="376.7" stroke="#f01010" stroke-width="0.85" />
<line x1="237.1" y1="380.1" x2="237.1" y2="370.3" stroke="#f01010" stroke-width="0.85" />
<line x1="235.6" y1="380.1" x2="238.6" y2="380.1" stroke="#f01010" stroke-width="0.85" />
<line x1="235.6" y1="370.3" x2="238.6" y2="370.3" stroke="#f01010" stroke-width="0.85" />
<circle cx="237.1" cy="375.2" r="1.7" fill="#f01010"/>
<line x1="234.5" y1="376.6" x2="242.2" y2="376.6" stroke="#f01010" stroke-width="0.85" />
<line x1="234.5" y1="375.1" x2="234.5" y2="378.1" stroke="#f01010" stroke-width="0.85" />
<line x1="242.2" y1="375.1" x2="242.2" y2="378.1" stroke="#f01010" stroke-width="0.85" />
<line x1="238.4" y1="381.5" x2="238.4" y2="371.7" stroke="#f01010" stroke-width="0.85" />
<line x1="236.9" y1="381.5" x2="239.9" y2="381.5" stroke="#f01010" stroke-width="0.85" />
<line x1="236.9" y1="371.7" x2="239.9" y2="371.7" stroke="#f01010" stroke-width="0.85" />
<circle cx="238.4" cy="376.6" r="1.7" fill="#f01010"/>
<line x1="235.7" y1="374.8" x2="243.4" y2="374.8" stroke="#f01010" stroke-width="0.85" />
<line x1="235.7" y1="373.3" x2="235.7" y2="376.3" stroke="#f01010" stroke-width="0.85" />
<line x1="243.4" y1="373.3" x2="243.4" y2="376.3" stroke="#f01010" stroke-width="0.85" />
<line x1="239.6" y1="379.7" x2="239.6" y2="369.9" stroke="#f01010" stroke-width="0.85" />
<line x1="238.1" y1="379.7" x2="241.1" y2="379.7" stroke="#f01010" stroke-width="0.85" />
<line x1="238.1" y1="369.9" x2="241.1" y2="369.9" stroke="#f01010" stroke-width="0.85" />
<circle cx="239.6" cy="374.8" r="1.7" fill="#f01010"/>
<line x1="237" y1="372.9" x2="244.6" y2="372.9" stroke="#f01010" stroke-width="0.85" />
<line x1="237" y1="371.4" x2="237" y2="374.4" stroke="#f01010" stroke-width="0.85" />
<line x1="244.6" y1="371.4" x2="244.6" y2="374.4" stroke="#f01010" stroke-width="0.85" />
<line x1="240.8" y1="377.8" x2="240.8" y2="368" stroke="#f01010" stroke-width="0.85" />
<line x1="239.3" y1="377.8" x2="242.3" y2="377.8" stroke="#f01010" stroke-width="0.85" />
<line x1="239.3" y1="368" x2="242.3" y2="368" stroke="#f01010" stroke-width="0.85" />
<circle cx="240.8" cy="372.9" r="1.7" fill="#f01010"/>
<line x1="238.2" y1="371.1" x2="245.9" y2="371.1" stroke="#f01010" stroke-width="0.85" />
<line x1="238.2" y1="369.6" x2="238.2" y2="372.6" stroke="#f01010" stroke-width="0.85" />
<line x1="245.9" y1="369.6" x2="245.9" y2="372.6" stroke="#f01010" stroke-width="0.85" />
<line x1="242" y1="376" x2="242" y2="366.2" stroke="#f01010" stroke-width="0.85" />
<line x1="240.5" y1="376" x2="243.5" y2="376" stroke="#f01010" stroke-width="0.85" />
<line x1="240.5" y1="366.2" x2="243.5" y2="366.2" stroke="#f01010" stroke-width="0.85" />
<circle cx="242" cy="371.1" r="1.7" fill="#f01010"/>
<line x1="239.4" y1="370.2" x2="247.1" y2="370.2" stroke="#f01010" stroke-width="0.85" />
<line x1="239.4" y1="368.7" x2="239.4" y2="371.7" stroke="#f01010" stroke-width="0.85" />
<line x1="247.1" y1="368.7" x2="247.1" y2="371.7" stroke="#f01010" stroke-width="0.85" />
<line x1="243.2" y1="375.1" x2="243.2" y2="365.3" stroke="#f01010" stroke-width="0.85" />
<line x1="241.7" y1="375.1" x2="244.7" y2="375.1" stroke="#f01010" stroke-width="0.85" />
<line x1="241.7" y1="365.3" x2="244.7" y2="365.3" stroke="#f01010" stroke-width="0.85" />
<circle cx="243.2" cy="370.2" r="1.7" fill="#f01010"/>
<line x1="240.6" y1="371.4" x2="248.3" y2="371.4" stroke="#f01010" stroke-width="0.85" />
<line x1="240.6" y1="369.9" x2="240.6" y2="372.9" stroke="#f01010" stroke-width="0.85" />
<line x1="248.3" y1="369.9" x2="248.3" y2="372.9" stroke="#f01010" stroke-width="0.85" />
<line x1="244.5" y1="376.3" x2="244.5" y2="366.5" stroke="#f01010" stroke-width="0.85" />
<line x1="243" y1="376.3" x2="246" y2="376.3" stroke="#f01010" stroke-width="0.85" />
<line x1="243" y1="366.5" x2="246" y2="366.5" stroke="#f01010" stroke-width="0.85" />
<circle cx="244.5" cy="371.4" r="1.7" fill="#f01010"/>
<line x1="241.8" y1="372.7" x2="249.5" y2="372.7" stroke="#f01010" stroke-width="0.85" />
<line x1="241.8" y1="371.2" x2="241.8" y2="374.2" stroke="#f01010" stroke-width="0.85" />
<line x1="249.5" y1="371.2" x2="249.5" y2="374.2" stroke="#f01010" stroke-width="0.85" />
<line x1="245.7" y1="377.6" x2="245.7" y2="367.7" stroke="#f01010" stroke-width="0.85" />
<line x1="244.2" y1="377.6" x2="247.2" y2="377.6" stroke="#f01010" stroke-width="0.85" />
<line x1="244.2" y1="367.7" x2="247.2" y2="367.7" stroke="#f01010" stroke-width="0.85" />
<circle cx="245.7" cy="372.7" r="1.7" fill="#f01010"/>
<line x1="243.1" y1="373.9" x2="250.8" y2="373.9" stroke="#f01010" stroke-width="0.85" />
<line x1="243.1" y1="372.4" x2="243.1" y2="375.4" stroke="#f01010" stroke-width="0.85" />
<line x1="250.8" y1="372.4" x2="250.8" y2="375.4" stroke="#f01010" stroke-width="0.85" />
<line x1="246.9" y1="378.8" x2="246.9" y2="369" stroke="#f01010" stroke-width="0.85" />
<line x1="245.4" y1="378.8" x2="248.4" y2="378.8" stroke="#f01010" stroke-width="0.85" />
<line x1="245.4" y1="369" x2="248.4" y2="369" stroke="#f01010" stroke-width="0.85" />
<circle cx="246.9" cy="373.9" r="1.7" fill="#f01010"/>
<line x1="244.3" y1="375.1" x2="252" y2="375.1" stroke="#f01010" stroke-width="0.85" />
<line x1="244.3" y1="373.6" x2="244.3" y2="376.6" stroke="#f01010" stroke-width="0.85" />
<line x1="252" y1="373.6" x2="252" y2="376.6" stroke="#f01010" stroke-width="0.85" />
<line x1="248.1" y1="380" x2="248.1" y2="370.2" stroke="#f01010" stroke-width="0.85" />
<line x1="246.6" y1="380" x2="249.6" y2="380" stroke="#f01010" stroke-width="0.85" />
<line x1="246.6" y1="370.2" x2="249.6" y2="370.2" stroke="#f01010" stroke-width="0.85" />
<circle cx="248.1" cy="375.1" r="1.7" fill="#f01010"/>
<line x1="245.5" y1="376.2" x2="253.2" y2="376.2" stroke="#f01010" stroke-width="0.85" />
<line x1="245.5" y1="374.7" x2="245.5" y2="377.7" stroke="#f01010" stroke-width="0.85" />
<line x1="253.2" y1="374.7" x2="253.2" y2="377.7" stroke="#f01010" stroke-width="0.85" />
<line x1="249.4" y1="381.1" x2="249.4" y2="371.3" stroke="#f01010" stroke-width="0.85" />
<line x1="247.9" y1="381.1" x2="250.9" y2="381.1" stroke="#f01010" stroke-width="0.85" />
<line x1="247.9" y1="371.3" x2="250.9" y2="371.3" stroke="#f01010" stroke-width="0.85" />
<circle cx="249.4" cy="376.2" r="1.7" fill="#f01010"/>
<line x1="246.7" y1="376.9" x2="254.4" y2="376.9" stroke="#f01010" stroke-width="0.85" />
<line x1="246.7" y1="375.4" x2="246.7" y2="378.4" stroke="#f01010" stroke-width="0.85" />
<line x1="254.4" y1="375.4" x2="254.4" y2="378.4" stroke="#f01010" stroke-width="0.85" />
<line x1="250.6" y1="381.8" x2="250.6" y2="372" stroke="#f01010" stroke-width="0.85" />
<line x1="249.1" y1="381.8" x2="252.1" y2="381.8" stroke="#f01010" stroke-width="0.85" />
<line x1="249.1" y1="372" x2="252.1" y2="372" stroke="#f01010" stroke-width="0.85" />
<circle cx="250.6" cy="376.9" r="1.7" fill="#f01010"/>
<line x1="248" y1="377.7" x2="255.7" y2="377.7" stroke="#f01010" stroke-width="0.85" />
<line x1="248" y1="376.2" x2="248" y2="379.2" stroke="#f01010" stroke-width="0.85" />
<line x1="255.7" y1="376.2" x2="255.7" y2="379.2" stroke="#f01010" stroke-width="0.85" />
<line x1="251.8" y1="382.6" x2="251.8" y2="372.8" stroke="#f01010" stroke-width="0.85" />
<line x1="250.3" y1="382.6" x2="253.3" y2="382.6" stroke="#f01010" stroke-width="0.85" />
<line x1="250.3" y1="372.8" x2="253.3" y2="372.8" stroke="#f01010" stroke-width="0.85" />
<circle cx="251.8" cy="377.7" r="1.7" fill="#f01010"/>
<line x1="249.2" y1="378.4" x2="256.9" y2="378.4" stroke="#f01010" stroke-width="0.85" />
<line x1="249.2" y1="376.9" x2="249.2" y2="379.9" stroke="#f01010" stroke-width="0.85" />
<line x1="256.9" y1="376.9" x2="256.9" y2="379.9" stroke="#f01010" stroke-width="0.85" />
<line x1="253" y1="383.3" x2="253" y2="373.5" stroke="#f01010" stroke-width="0.85" />
<line x1="251.5" y1="383.3" x2="254.5" y2="383.3" stroke="#f01010" stroke-width="0.85" />
<line x1="251.5" y1="373.5" x2="254.5" y2="373.5" stroke="#f01010" stroke-width="0.85" />
<circle cx="253" cy="378.4" r="1.7" fill="#f01010"/>
<line x1="250.4" y1="379.2" x2="258.1" y2="379.2" stroke="#f01010" stroke-width="0.85" />
<line x1="250.4" y1="377.7" x2="250.4" y2="380.7" stroke="#f01010" stroke-width="0.85" />
<line x1="258.1" y1="377.7" x2="258.1" y2="380.7" stroke="#f01010" stroke-width="0.85" />
<line x1="254.3" y1="384.1" x2="254.3" y2="374.3" stroke="#f01010" stroke-width="0.85" />
<line x1="252.8" y1="384.1" x2="255.8" y2="384.1" stroke="#f01010" stroke-width="0.85" />
<line x1="252.8" y1="374.3" x2="255.8" y2="374.3" stroke="#f01010" stroke-width="0.85" />
<circle cx="254.3" cy="379.2" r="1.7" fill="#f01010"/>
<line x1="251.6" y1="379.9" x2="259.3" y2="379.9" stroke="#f01010" stroke-width="0.85" />
<line x1="251.6" y1="378.4" x2="251.6" y2="381.4" stroke="#f01010" stroke-width="0.85" />
<line x1="259.3" y1="378.4" x2="259.3" y2="381.4" stroke="#f01010" stroke-width="0.85" />
<line x1="255.5" y1="384.8" x2="255.5" y2="375" stroke="#f01010" stroke-width="0.85" />
<line x1="254" y1="384.8" x2="257" y2="384.8" stroke="#f01010" stroke-width="0.85" />
<line x1="254" y1="375" x2="257" y2="375" stroke="#f01010" stroke-width="0.85" />
<circle cx="255.5" cy="379.9" r="1.7" fill="#f01010"/>
<line x1="252.9" y1="380.7" x2="260.5" y2="380.7" stroke="#f01010" stroke-width="0.85" />
<line x1="252.9" y1="379.2" x2="252.9" y2="382.2" stroke="#f01010" stroke-width="0.85" />
<line x1="260.5" y1="379.2" x2="260.5" y2="382.2" stroke="#f01010" stroke-width="0.85" />
<line x1="256.7" y1="385.6" x2="256.7" y2="375.8" stroke="#f01010" stroke-width="0.85" />
<line x1="255.2" y1="385.6" x2="258.2" y2="385.6" stroke="#f01010" stroke-width="0.85" />
<line x1="255.2" y1="375.8" x2="258.2" y2="375.8" stroke="#f01010" stroke-width="0.85" />
<circle cx="256.7" cy="380.7" r="1.7" fill="#f01010"/>
<line x1="254.1" y1="381.5" x2="261.8" y2="381.5" stroke="#f01010" stroke-width="0.85" />
<line x1="254.1" y1="380" x2="254.1" y2="383" stroke="#f01010" stroke-width="0.85" />
<line x1="261.8" y1="380" x2="261.8" y2="383" stroke="#f01010" stroke-width="0.85" />
<line x1="257.9" y1="386.4" x2="257.9" y2="376.6" stroke="#f01010" stroke-width="0.85" />
<line x1="256.4" y1="386.4" x2="259.4" y2="386.4" stroke="#f01010" stroke-width="0.85" />
<line x1="256.4" y1="376.6" x2="259.4" y2="376.6" stroke="#f01010" stroke-width="0.85" />
<circle cx="257.9" cy="381.5" r="1.7" fill="#f01010"/>
<line x1="255.3" y1="382.3" x2="263" y2="382.3" stroke="#f01010" stroke-width="0.85" />
<line x1="255.3" y1="380.8" x2="255.3" y2="383.8" stroke="#f01010" stroke-width="0.85" />
<line x1="263" y1="380.8" x2="263" y2="383.8" stroke="#f01010" stroke-width="0.85" />
<line x1="259.1" y1="387.2" x2="259.1" y2="377.4" stroke="#f01010" stroke-width="0.85" />
<line x1="257.6" y1="387.2" x2="260.6" y2="387.2" stroke="#f01010" stroke-width="0.85" />
<line x1="257.6" y1="377.4" x2="260.6" y2="377.4" stroke="#f01010" stroke-width="0.85" />
<circle cx="259.1" cy="382.3" r="1.7" fill="#f01010"/>
<line x1="256.5" y1="383.1" x2="264.2" y2="383.1" stroke="#f01010" stroke-width="0.85" />
<line x1="256.5" y1="381.6" x2="256.5" y2="384.6" stroke="#f01010" stroke-width="0.85" />
<line x1="264.2" y1="381.6" x2="264.2" y2="384.6" stroke="#f01010" stroke-width="0.85" />
<line x1="260.4" y1="388" x2="260.4" y2="378.2" stroke="#f01010" stroke-width="0.85" />
<line x1="258.9" y1="388" x2="261.9" y2="388" stroke="#f01010" stroke-width="0.85" />
<line x1="258.9" y1="378.2" x2="261.9" y2="378.2" stroke="#f01010" stroke-width="0.85" />
<circle cx="260.4" cy="383.1" r="1.7" fill="#f01010"/>
<line x1="257.8" y1="383.9" x2="265.4" y2="383.9" stroke="#f01010" stroke-width="0.85" />
<line x1="257.8" y1="382.4" x2="257.8" y2="385.4" stroke="#f01010" stroke-width="0.85" />
<line x1="265.4" y1="382.4" x2="265.4" y2="385.4" stroke="#f01010" stroke-width="0.85" />
<line x1="261.6" y1="388.8" x2="261.6" y2="379" stroke="#f01010" stroke-width="0.85" />
<line x1="260.1" y1="388.8" x2="263.1" y2="388.8" stroke="#f01010" stroke-width="0.85" />
<line x1="260.1" y1="379" x2="263.1" y2="379" stroke="#f01010" stroke-width="0.85" />
<circle cx="261.6" cy="383.9" r="1.7" fill="#f01010"/>
<line x1="259" y1="384.7" x2="266.7" y2="384.7" stroke="#f01010" stroke-width="0.85" />
<line x1="259" y1="383.2" x2="259" y2="386.2" stroke="#f01010" stroke-width="0.85" />
<line x1="266.7" y1="383.2" x2="266.7" y2="386.2" stroke="#f01010" stroke-width="0.85" />
<line x1="262.8" y1="389.6" x2="262.8" y2="379.8" stroke="#f01010" stroke-width="0.85" />
<line x1="261.3" y1="389.6" x2="264.3" y2="389.6" stroke="#f01010" stroke-width="0.85" />
<line x1="261.3" y1="379.8" x2="264.3" y2="379.8" stroke="#f01010" stroke-width="0.85" />
<circle cx="262.8" cy="384.7" r="1.7" fill="#f01010"/>
<line x1="260.2" y1="385.6" x2="267.9" y2="385.6" stroke="#f01010" stroke-width="0.85" />
<line x1="260.2" y1="384.1" x2="260.2" y2="387.1" stroke="#f01010" stroke-width="0.85" />
<line x1="267.9" y1="384.1" x2="267.9" y2="387.1" stroke="#f01010" stroke-width="0.85" />
<line x1="264" y1="390.5" x2="264" y2="380.7" stroke="#f01010" stroke-width="0.85" />
<line x1="262.5" y1="390.5" x2="265.5" y2="390.5" stroke="#f01010" stroke-width="0.85" />
<line x1="262.5" y1="380.7" x2="265.5" y2="380.7" stroke="#f01010" stroke-width="0.85" />
<circle cx="264" cy="385.6" r="1.7" fill="#f01010"/>
<line x1="261.4" y1="386.5" x2="269.1" y2="386.5" stroke="#f01010" stroke-width="0.85" />
<line x1="261.4" y1="385" x2="261.4" y2="388" stroke="#f01010" stroke-width="0.85" />
<line x1="269.1" y1="385" x2="269.1" y2="388" stroke="#f01010" stroke-width="0.85" />
<line x1="265.3" y1="391.4" x2="265.3" y2="381.6" stroke="#f01010" stroke-width="0.85" />
<line x1="263.8" y1="391.4" x2="266.8" y2="391.4" stroke="#f01010" stroke-width="0.85" />
<line x1="263.8" y1="381.6" x2="266.8" y2="381.6" stroke="#f01010" stroke-width="0.85" />
<circle cx="265.3" cy="386.5" r="1.7" fill="#f01010"/>
<line x1="262.6" y1="387.4" x2="270.3" y2="387.4" stroke="#f01010" stroke-width="0.85" />
<line x1="262.6" y1="385.9" x2="262.6" y2="388.9" stroke="#f01010" stroke-width="0.85" />
<line x1="270.3" y1="385.9" x2="270.3" y2="388.9" stroke="#f01010" stroke-width="0.85" />
<line x1="266.5" y1="392.3" x2="266.5" y2="382.5" stroke="#f01010" stroke-width="0.85" />
<line x1="265" y1="392.3" x2="268" y2="392.3" stroke="#f01010" stroke-width="0.85" />
<line x1="265" y1="382.5" x2="268" y2="382.5" stroke="#f01010" stroke-width="0.85" />
<circle cx="266.5" cy="387.4" r="1.7" fill="#f01010"/>
<line x1="263.9" y1="388.3" x2="271.6" y2="388.3" stroke="#f01010" stroke-width="0.85" />
<line x1="263.9" y1="386.8" x2="263.9" y2="389.8" stroke="#f01010" stroke-width="0.85" />
<line x1="271.6" y1="386.8" x2="271.6" y2="389.8" stroke="#f01010" stroke-width="0.85" />
<line x1="267.7" y1="393.2" x2="267.7" y2="383.4" stroke="#f01010" stroke-width="0.85" />
<line x1="266.2" y1="393.2" x2="269.2" y2="393.2" stroke="#f01010" stroke-width="0.85" />
<line x1="266.2" y1="383.4" x2="269.2" y2="383.4" stroke="#f01010" stroke-width="0.85" />
<circle cx="267.7" cy="388.3" r="1.7" fill="#f01010"/>
<line x1="265.1" y1="389.2" x2="272.8" y2="389.2" stroke="#f01010" stroke-width="0.85" />
<line x1="265.1" y1="387.7" x2="265.1" y2="390.7" stroke="#f01010" stroke-width="0.85" />
<line x1="272.8" y1="387.7" x2="272.8" y2="390.7" stroke="#f01010" stroke-width="0.85" />
<line x1="268.9" y1="394.1" x2="268.9" y2="384.3" stroke="#f01010" stroke-width="0.85" />
<line x1="267.4" y1="394.1" x2="270.4" y2="394.1" stroke="#f01010" stroke-width="0.85" />
<line x1="267.4" y1="384.3" x2="270.4" y2="384.3" stroke="#f01010" stroke-width="0.85" />
<circle cx="268.9" cy="389.2" r="1.7" fill="#f01010"/>
<line x1="266.3" y1="390.2" x2="274" y2="390.2" stroke="#f01010" stroke-width="0.85" />
<line x1="266.3" y1="388.7" x2="266.3" y2="391.7" stroke="#f01010" stroke-width="0.85" />
<line x1="274" y1="388.7" x2="274" y2="391.7" stroke="#f01010" stroke-width="0.85" />
<line x1="270.2" y1="395.1" x2="270.2" y2="385.3" stroke="#f01010" stroke-width="0.85" />
<line x1="268.7" y1="395.1" x2="271.7" y2="395.1" stroke="#f01010" stroke-width="0.85" />
<line x1="268.7" y1="385.3" x2="271.7" y2="385.3" stroke="#f01010" stroke-width="0.85" />
<circle cx="270.2" cy="390.2" r="1.7" fill="#f01010"/>
<line x1="267.5" y1="390.9" x2="275.2" y2="390.9" stroke="#f01010" stroke-width="0.85" />
<line x1="267.5" y1="389.4" x2="267.5" y2="392.4" stroke="#f01010" stroke-width="0.85" />
<line x1="275.2" y1="389.4" x2="275.2" y2="392.4" stroke="#f01010" stroke-width="0.85" />
<line x1="271.4" y1="395.8" x2="271.4" y2="386" stroke="#f01010" stroke-width="0.85" />
<line x1="269.9" y1="395.8" x2="272.9" y2="395.8" stroke="#f01010" stroke-width="0.85" />
<line x1="269.9" y1="386" x2="272.9" y2="386" stroke="#f01010" stroke-width="0.85" />
<circle cx="271.4" cy="390.9" r="1.7" fill="#f01010"/>
<line x1="268.8" y1="391.7" x2="276.4" y2="391.7" stroke="#f01010" stroke-width="0.85" />
<line x1="268.8" y1="390.2" x2="268.8" y2="393.2" stroke="#f01010" stroke-width="0.85" />
<line x1="276.4" y1="390.2" x2="276.4" y2="393.2" stroke="#f01010" stroke-width="0.85" />
<line x1="272.6" y1="396.6" x2="272.6" y2="386.8" stroke="#f01010" stroke-width="0.85" />
<line x1="271.1" y1="396.6" x2="274.1" y2="396.6" stroke="#f01010" stroke-width="0.85" />
<line x1="271.1" y1="386.8" x2="274.1" y2="386.8" stroke="#f01010" stroke-width="0.85" />
<circle cx="272.6" cy="391.7" r="1.7" fill="#f01010"/>
<line x1="270" y1="392.4" x2="277.7" y2="392.4" stroke="#f01010" stroke-width="0.85" />
<line x1="270" y1="390.9" x2="270" y2="393.9" stroke="#f01010" stroke-width="0.85" />
<line x1="277.7" y1="390.9" x2="277.7" y2="393.9" stroke="#f01010" stroke-width="0.85" />
<line x1="273.8" y1="397.3" x2="273.8" y2="387.5" stroke="#f01010" stroke-width="0.85" />
<line x1="272.3" y1="397.3" x2="275.3" y2="397.3" stroke="#f01010" stroke-width="0.85" />
<line x1="272.3" y1="387.5" x2="275.3" y2="387.5" stroke="#f01010" stroke-width="0.85" />
<circle cx="273.8" cy="392.4" r="1.7" fill="#f01010"/>
<line x1="271.2" y1="393.2" x2="278.9" y2="393.2" stroke="#f01010" stroke-width="0.85" />
<line x1="271.2" y1="391.7" x2="271.2" y2="394.7" stroke="#f01010" stroke-width="0.85" />
<line x1="278.9" y1="391.7" x2="278.9" y2="394.7" stroke="#f01010" stroke-width="0.85" />
<line x1="275.1" y1="398.1" x2="275.1" y2="388.3" stroke="#f01010" stroke-width="0.85" />
<line x1="273.6" y1="398.1" x2="276.6" y2="398.1" stroke="#f01010" stroke-width="0.85" />
<line x1="273.6" y1="388.3" x2="276.6" y2="388.3" stroke="#f01010" stroke-width="0.85" />
<circle cx="275.1" cy="393.2" r="1.7" fill="#f01010"/>
<line x1="272.4" y1="393.9" x2="280.1" y2="393.9" stroke="#f01010" stroke-width="0.85" />
<line x1="272.4" y1="392.4" x2="272.4" y2="395.4" stroke="#f01010" stroke-width="0.85" />
<line x1="280.1" y1="392.4" x2="280.1" y2="395.4" stroke="#f01010" stroke-width="0.85" />
<line x1="276.3" y1="398.8" x2="276.3" y2="389" stroke="#f01010" stroke-width="0.85" />
<line x1="274.8" y1="398.8" x2="277.8" y2="398.8" stroke="#f01010" stroke-width="0.85" />
<line x1="274.8" y1="389" x2="277.8" y2="389" stroke="#f01010" stroke-width="0.85" />
<circle cx="276.3" cy="393.9" r="1.7" fill="#f01010"/>
<line x1="273.7" y1="394.7" x2="281.3" y2="394.7" stroke="#f01010" stroke-width="0.85" />
<line x1="273.7" y1="393.2" x2="273.7" y2="396.2" stroke="#f01010" stroke-width="0.85" />
<line x1="281.3" y1="393.2" x2="281.3" y2="396.2" stroke="#f01010" stroke-width="0.85" />
<line x1="277.5" y1="399.6" x2="277.5" y2="389.8" stroke="#f01010" stroke-width="0.85" />
<line x1="276" y1="399.6" x2="279" y2="399.6" stroke="#f01010" stroke-width="0.85" />
<line x1="276" y1="389.8" x2="279" y2="389.8" stroke="#f01010" stroke-width="0.85" />
<circle cx="277.5" cy="394.7" r="1.7" fill="#f01010"/>
<line x1="274.9" y1="395.9" x2="282.6" y2="395.9" stroke="#f01010" stroke-width="0.85" />
<line x1="274.9" y1="394.4" x2="274.9" y2="397.4" stroke="#f01010" stroke-width="0.85" />
<line x1="282.6" y1="394.4" x2="282.6" y2="397.4" stroke="#f01010" stroke-width="0.85" />
<line x1="278.7" y1="400.8" x2="278.7" y2="391" stroke="#f01010" stroke-width="0.85" />
<line x1="277.2" y1="400.8" x2="280.2" y2="400.8" stroke="#f01010" stroke-width="0.85" />
<line x1="277.2" y1="391" x2="280.2" y2="391" stroke="#f01010" stroke-width="0.85" />
<circle cx="278.7" cy="395.9" r="1.7" fill="#f01010"/>
<line x1="276.1" y1="397.1" x2="283.8" y2="397.1" stroke="#f01010" stroke-width="0.85" />
<line x1="276.1" y1="395.6" x2="276.1" y2="398.6" stroke="#f01010" stroke-width="0.85" />
<line x1="283.8" y1="395.6" x2="283.8" y2="398.6" stroke="#f01010" stroke-width="0.85" />
<line x1="279.9" y1="402" x2="279.9" y2="392.2" stroke="#f01010" stroke-width="0.85" />
<line x1="278.4" y1="402" x2="281.4" y2="402" stroke="#f01010" stroke-width="0.85" />
<line x1="278.4" y1="392.2" x2="281.4" y2="392.2" stroke="#f01010" stroke-width="0.85" />
<circle cx="279.9" cy="397.1" r="1.7" fill="#f01010"/>
<line x1="277.3" y1="398.3" x2="285" y2="398.3" stroke="#f01010" stroke-width="0.85" />
<line x1="277.3" y1="396.8" x2="277.3" y2="399.8" stroke="#f01010" stroke-width="0.85" />
<line x1="285" y1="396.8" x2="285" y2="399.8" stroke="#f01010" stroke-width="0.85" />
<line x1="281.2" y1="403.2" x2="281.2" y2="393.4" stroke="#f01010" stroke-width="0.85" />
<line x1="279.7" y1="403.2" x2="282.7" y2="403.2" stroke="#f01010" stroke-width="0.85" />
<line x1="279.7" y1="393.4" x2="282.7" y2="393.4" stroke="#f01010" stroke-width="0.85" />
<circle cx="281.2" cy="398.3" r="1.7" fill="#f01010"/>
<line x1="278.5" y1="399.4" x2="286.2" y2="399.4" stroke="#f01010" stroke-width="0.85" />
<line x1="278.5" y1="397.9" x2="278.5" y2="400.9" stroke="#f01010" stroke-width="0.85" />
<line x1="286.2" y1="397.9" x2="286.2" y2="400.9" stroke="#f01010" stroke-width="0.85" />
<line x1="282.4" y1="404.3" x2="282.4" y2="394.5" stroke="#f01010" stroke-width="0.85" />
<line x1="280.9" y1="404.3" x2="283.9" y2="404.3" stroke="#f01010" stroke-width="0.85" />
<line x1="280.9" y1="394.5" x2="283.9" y2="394.5" stroke="#f01010" stroke-width="0.85" />
<circle cx="282.4" cy="399.4" r="1.7" fill="#f01010"/>
<line x1="279.8" y1="400.6" x2="287.5" y2="400.6" stroke="#f01010" stroke-width="0.85" />
<line x1="279.8" y1="399.1" x2="279.8" y2="402.1" stroke="#f01010" stroke-width="0.85" />
<line x1="287.5" y1="399.1" x2="287.5" y2="402.1" stroke="#f01010" stroke-width="0.85" />
<line x1="283.6" y1="405.5" x2="283.6" y2="395.7" stroke="#f01010" stroke-width="0.85" />
<line x1="282.1" y1="405.5" x2="285.1" y2="405.5" stroke="#f01010" stroke-width="0.85" />
<line x1="282.1" y1="395.7" x2="285.1" y2="395.7" stroke="#f01010" stroke-width="0.85" />
<circle cx="283.6" cy="400.6" r="1.7" fill="#f01010"/>
<line x1="281" y1="401.6" x2="288.7" y2="401.6" stroke="#f01010" stroke-width="0.85" />
<line x1="281" y1="400.1" x2="281" y2="403.1" stroke="#f01010" stroke-width="0.85" />
<line x1="288.7" y1="400.1" x2="288.7" y2="403.1" stroke="#f01010" stroke-width="0.85" />
<line x1="284.8" y1="406.5" x2="284.8" y2="396.7" stroke="#f01010" stroke-width="0.85" />
<line x1="283.3" y1="406.5" x2="286.3" y2="406.5" stroke="#f01010" stroke-width="0.85" />
<line x1="283.3" y1="396.7" x2="286.3" y2="396.7" stroke="#f01010" stroke-width="0.85" />
<circle cx="284.8" cy="401.6" r="1.7" fill="#f01010"/>
<line x1="282.2" y1="401.8" x2="289.9" y2="401.8" stroke="#f01010" stroke-width="0.85" />
<line x1="282.2" y1="400.3" x2="282.2" y2="403.3" stroke="#f01010" stroke-width="0.85" />
<line x1="289.9" y1="400.3" x2="289.9" y2="403.3" stroke="#f01010" stroke-width="0.85" />
<line x1="286.1" y1="406.7" x2="286.1" y2="396.9" stroke="#f01010" stroke-width="0.85" />
<line x1="284.6" y1="406.7" x2="287.6" y2="406.7" stroke="#f01010" stroke-width="0.85" />
<line x1="284.6" y1="396.9" x2="287.6" y2="396.9" stroke="#f01010" stroke-width="0.85" />
<circle cx="286.1" cy="401.8" r="1.7" fill="#f01010"/>
<line x1="283.4" y1="402.1" x2="291.1" y2="402.1" stroke="#f01010" stroke-width="0.85" />
<line x1="283.4" y1="400.6" x2="283.4" y2="403.6" stroke="#f01010" stroke-width="0.85" />
<line x1="291.1" y1="400.6" x2="291.1" y2="403.6" stroke="#f01010" stroke-width="0.85" />
<line x1="287.3" y1="407" x2="287.3" y2="397.2" stroke="#f01010" stroke-width="0.85" />
<line x1="285.8" y1="407" x2="288.8" y2="407" stroke="#f01010" stroke-width="0.85" />
<line x1="285.8" y1="397.2" x2="288.8" y2="397.2" stroke="#f01010" stroke-width="0.85" />
<circle cx="287.3" cy="402.1" r="1.7" fill="#f01010"/>
<line x1="284.7" y1="402.3" x2="292.4" y2="402.3" stroke="#f01010" stroke-width="0.85" />
<line x1="284.7" y1="400.8" x2="284.7" y2="403.8" stroke="#f01010" stroke-width="0.85" />
<line x1="292.4" y1="400.8" x2="292.4" y2="403.8" stroke="#f01010" stroke-width="0.85" />
<line x1="288.5" y1="407.2" x2="288.5" y2="397.4" stroke="#f01010" stroke-width="0.85" />
<line x1="287" y1="407.2" x2="290" y2="407.2" stroke="#f01010" stroke-width="0.85" />
<line x1="287" y1="397.4" x2="290" y2="397.4" stroke="#f01010" stroke-width="0.85" />
<circle cx="288.5" cy="402.3" r="1.7" fill="#f01010"/>
<line x1="285.9" y1="402.6" x2="293.6" y2="402.6" stroke="#f01010" stroke-width="0.85" />
<line x1="285.9" y1="401.1" x2="285.9" y2="404.1" stroke="#f01010" stroke-width="0.85" />
<line x1="293.6" y1="401.1" x2="293.6" y2="404.1" stroke="#f01010" stroke-width="0.85" />
<line x1="289.7" y1="407.5" x2="289.7" y2="397.7" stroke="#f01010" stroke-width="0.85" />
<line x1="288.2" y1="407.5" x2="291.2" y2="407.5" stroke="#f01010" stroke-width="0.85" />
<line x1="288.2" y1="397.7" x2="291.2" y2="397.7" stroke="#f01010" stroke-width="0.85" />
<circle cx="289.7" cy="402.6" r="1.7" fill="#f01010"/>
<line x1="287.1" y1="402.8" x2="294.8" y2="402.8" stroke="#f01010" stroke-width="0.85" />
<line x1="287.1" y1="401.3" x2="287.1" y2="404.3" stroke="#f01010" stroke-width="0.85" />
<line x1="294.8" y1="401.3" x2="294.8" y2="404.3" stroke="#f01010" stroke-width="0.85" />
<line x1="291" y1="407.7" x2="291" y2="397.9" stroke="#f01010" stroke-width="0.85" />
<line x1="289.5" y1="407.7" x2="292.5" y2="407.7" stroke="#f01010" stroke-width="0.85" />
<line x1="289.5" y1="397.9" x2="292.5" y2="397.9" stroke="#f01010" stroke-width="0.85" />
<circle cx="291" cy="402.8" r="1.7" fill="#f01010"/>
<line x1="288.3" y1="403.3" x2="296" y2="403.3" stroke="#f01010" stroke-width="0.85" />
<line x1="288.3" y1="401.8" x2="288.3" y2="404.8" stroke="#f01010" stroke-width="0.85" />
<line x1="296" y1="401.8" x2="296" y2="404.8" stroke="#f01010" stroke-width="0.85" />
<line x1="292.2" y1="408.2" x2="292.2" y2="398.4" stroke="#f01010" stroke-width="0.85" />
<line x1="290.7" y1="408.2" x2="293.7" y2="408.2" stroke="#f01010" stroke-width="0.85" />
<line x1="290.7" y1="398.4" x2="293.7" y2="398.4" stroke="#f01010" stroke-width="0.85" />
<circle cx="292.2" cy="403.3" r="1.7" fill="#f01010"/>
<line x1="289.6" y1="404.3" x2="297.2" y2="404.3" stroke="#f01010" stroke-width="0.85" />
<line x1="289.6" y1="402.8" x2="289.6" y2="405.8" stroke="#f01010" stroke-width="0.85" />
<line x1="297.2" y1="402.8" x2="297.2" y2="405.8" stroke="#f01010" stroke-width="0.85" />
<line x1="293.4" y1="409.2" x2="293.4" y2="399.4" stroke="#f01010" stroke-width="0.85" />
<line x1="291.9" y1="409.2" x2="294.9" y2="409.2" stroke="#f01010" stroke-width="0.85" />
<line x1="291.9" y1="399.4" x2="294.9" y2="399.4" stroke="#f01010" stroke-width="0.85" />
<circle cx="293.4" cy="404.3" r="1.7" fill="#f01010"/>
<line x1="290.8" y1="405.4" x2="298.5" y2="405.4" stroke="#f01010" stroke-width="0.85" />
<line x1="290.8" y1="403.9" x2="290.8" y2="406.9" stroke="#f01010" stroke-width="0.85" />
<line x1="298.5" y1="403.9" x2="298.5" y2="406.9" stroke="#f01010" stroke-width="0.85" />
<line x1="294.6" y1="410.3" x2="294.6" y2="400.5" stroke="#f01010" stroke-width="0.85" />
<line x1="293.1" y1="410.3" x2="296.1" y2="410.3" stroke="#f01010" stroke-width="0.85" />
<line x1="293.1" y1="400.5" x2="296.1" y2="400.5" stroke="#f01010" stroke-width="0.85" />
<circle cx="294.6" cy="405.4" r="1.7" fill="#f01010"/>
<line x1="292" y1="406.5" x2="299.7" y2="406.5" stroke="#f01010" stroke-width="0.85" />
<line x1="292" y1="405" x2="292" y2="408" stroke="#f01010" stroke-width="0.85" />
<line x1="299.7" y1="405" x2="299.7" y2="408" stroke="#f01010" stroke-width="0.85" />
<line x1="295.8" y1="411.4" x2="295.8" y2="401.6" stroke="#f01010" stroke-width="0.85" />
<line x1="294.3" y1="411.4" x2="297.3" y2="411.4" stroke="#f01010" stroke-width="0.85" />
<line x1="294.3" y1="401.6" x2="297.3" y2="401.6" stroke="#f01010" stroke-width="0.85" />
<circle cx="295.8" cy="406.5" r="1.7" fill="#f01010"/>
<line x1="293.2" y1="407.5" x2="300.9" y2="407.5" stroke="#f01010" stroke-width="0.85" />
<line x1="293.2" y1="406" x2="293.2" y2="409" stroke="#f01010" stroke-width="0.85" />
<line x1="300.9" y1="406" x2="300.9" y2="409" stroke="#f01010" stroke-width="0.85" />
<line x1="297.1" y1="412.4" x2="297.1" y2="402.6" stroke="#f01010" stroke-width="0.85" />
<line x1="295.6" y1="412.4" x2="298.6" y2="412.4" stroke="#f01010" stroke-width="0.85" />
<line x1="295.6" y1="402.6" x2="298.6" y2="402.6" stroke="#f01010" stroke-width="0.85" />
<circle cx="297.1" cy="407.5" r="1.7" fill="#f01010"/>
<line x1="294.4" y1="408.6" x2="302.1" y2="408.6" stroke="#f01010" stroke-width="0.85" />
<line x1="294.4" y1="407.1" x2="294.4" y2="410.1" stroke="#f01010" stroke-width="0.85" />
<line x1="302.1" y1="407.1" x2="302.1" y2="410.1" stroke="#f01010" stroke-width="0.85" />
<line x1="298.3" y1="413.5" x2="298.3" y2="403.7" stroke="#f01010" stroke-width="0.85" />
<line x1="296.8" y1="413.5" x2="299.8" y2="413.5" stroke="#f01010" stroke-width="0.85" />
<line x1="296.8" y1="403.7" x2="299.8" y2="403.7" stroke="#f01010" stroke-width="0.85" />
<circle cx="298.3" cy="408.6" r="1.7" fill="#f01010"/>
<line x1="295.7" y1="409.7" x2="303.4" y2="409.7" stroke="#f01010" stroke-width="0.85" />
<line x1="295.7" y1="408.2" x2="295.7" y2="411.2" stroke="#f01010" stroke-width="0.85" />
<line x1="303.4" y1="408.2" x2="303.4" y2="411.2" stroke="#f01010" stroke-width="0.85" />
<line x1="299.5" y1="414.6" x2="299.5" y2="404.8" stroke="#f01010" stroke-width="0.85" />
<line x1="298" y1="414.6" x2="301" y2="414.6" stroke="#f01010" stroke-width="0.85" />
<line x1="298" y1="404.8" x2="301" y2="404.8" stroke="#f01010" stroke-width="0.85" />
<circle cx="299.5" cy="409.7" r="1.7" fill="#f01010"/>
<line x1="296.9" y1="410.8" x2="304.6" y2="410.8" stroke="#f01010" stroke-width="0.85" />
<line x1="296.9" y1="409.3" x2="296.9" y2="412.3" stroke="#f01010" stroke-width="0.85" />
<line x1="304.6" y1="409.3" x2="304.6" y2="412.3" stroke="#f01010" stroke-width="0.85" />
<line x1="300.7" y1="415.7" x2="300.7" y2="405.9" stroke="#f01010" stroke-width="0.85" />
<line x1="299.2" y1="415.7" x2="302.2" y2="415.7" stroke="#f01010" stroke-width="0.85" />
<line x1="299.2" y1="405.9" x2="302.2" y2="405.9" stroke="#f01010" stroke-width="0.85" />
<circle cx="300.7" cy="410.8" r="1.7" fill="#f01010"/>
<line x1="298.1" y1="411.9" x2="305.8" y2="411.9" stroke="#f01010" stroke-width="0.85" />
<line x1="298.1" y1="410.4" x2="298.1" y2="413.4" stroke="#f01010" stroke-width="0.85" />
<line x1="305.8" y1="410.4" x2="305.8" y2="413.4" stroke="#f01010" stroke-width="0.85" />
<line x1="302" y1="416.8" x2="302" y2="407" stroke="#f01010" stroke-width="0.85" />
<line x1="300.5" y1="416.8" x2="303.5" y2="416.8" stroke="#f01010" stroke-width="0.85" />
<line x1="300.5" y1="407" x2="303.5" y2="407" stroke="#f01010" stroke-width="0.85" />
<circle cx="302" cy="411.9" r="1.7" fill="#f01010"/>
<line x1="299.3" y1="413.1" x2="307" y2="413.1" stroke="#f01010" stroke-width="0.85" />
<line x1="299.3" y1="411.6" x2="299.3" y2="414.6" stroke="#f01010" stroke-width="0.85" />
<line x1="307" y1="411.6" x2="307" y2="414.6" stroke="#f01010" stroke-width="0.85" />
<line x1="303.2" y1="418" x2="303.2" y2="408.2" stroke="#f01010" stroke-width="0.85" />
<line x1="301.7" y1="418" x2="304.7" y2="418" stroke="#f01010" stroke-width="0.85" />
<line x1="301.7" y1="408.2" x2="304.7" y2="408.2" stroke="#f01010" stroke-width="0.85" />
<circle cx="303.2" cy="413.1" r="1.7" fill="#f01010"/>
<line x1="300.6" y1="412.8" x2="308.3" y2="412.8" stroke="#f01010" stroke-width="0.85" />
<line x1="300.6" y1="411.3" x2="300.6" y2="414.3" stroke="#f01010" stroke-width="0.85" />
<line x1="308.3" y1="411.3" x2="308.3" y2="414.3" stroke="#f01010" stroke-width="0.85" />
<line x1="304.4" y1="417.7" x2="304.4" y2="407.9" stroke="#f01010" stroke-width="0.85" />
<line x1="302.9" y1="417.7" x2="305.9" y2="417.7" stroke="#f01010" stroke-width="0.85" />
<line x1="302.9" y1="407.9" x2="305.9" y2="407.9" stroke="#f01010" stroke-width="0.85" />
<circle cx="304.4" cy="412.8" r="1.7" fill="#f01010"/>
<line x1="301.8" y1="411.6" x2="309.5" y2="411.6" stroke="#f01010" stroke-width="0.85" />
<line x1="301.8" y1="410.1" x2="301.8" y2="413.1" stroke="#f01010" stroke-width="0.85" />
<line x1="309.5" y1="410.1" x2="309.5" y2="413.1" stroke="#f01010" stroke-width="0.85" />
<line x1="305.6" y1="416.5" x2="305.6" y2="406.7" stroke="#f01010" stroke-width="0.85" />
<line x1="304.1" y1="416.5" x2="307.1" y2="416.5" stroke="#f01010" stroke-width="0.85" />
<line x1="304.1" y1="406.7" x2="307.1" y2="406.7" stroke="#f01010" stroke-width="0.85" />
<circle cx="305.6" cy="411.6" r="1.7" fill="#f01010"/>
<line x1="303" y1="410.4" x2="310.7" y2="410.4" stroke="#f01010" stroke-width="0.85" />
<line x1="303" y1="408.9" x2="303" y2="411.9" stroke="#f01010" stroke-width="0.85" />
<line x1="310.7" y1="408.9" x2="310.7" y2="411.9" stroke="#f01010" stroke-width="0.85" />
<line x1="306.9" y1="415.3" x2="306.9" y2="405.4" stroke="#f01010" stroke-width="0.85" />
<line x1="305.4" y1="415.3" x2="308.4" y2="415.3" stroke="#f01010" stroke-width="0.85" />
<line x1="305.4" y1="405.4" x2="308.4" y2="405.4" stroke="#f01010" stroke-width="0.85" />
<circle cx="306.9" cy="410.4" r="1.7" fill="#f01010"/>
<line x1="304.2" y1="409.1" x2="311.9" y2="409.1" stroke="#f01010" stroke-width="0.85" />
<line x1="304.2" y1="407.6" x2="304.2" y2="410.6" stroke="#f01010" stroke-width="0.85" />
<line x1="311.9" y1="407.6" x2="311.9" y2="410.6" stroke="#f01010" stroke-width="0.85" />
<line x1="308.1" y1="414" x2="308.1" y2="404.2" stroke="#f01010" stroke-width="0.85" />
<line x1="306.6" y1="414" x2="309.6" y2="414" stroke="#f01010" stroke-width="0.85" />
<line x1="306.6" y1="404.2" x2="309.6" y2="404.2" stroke="#f01010" stroke-width="0.85" />
<circle cx="308.1" cy="409.1" r="1.7" fill="#f01010"/>
<line x1="305.5" y1="407.9" x2="313.1" y2="407.9" stroke="#f01010" stroke-width="0.85" />
<line x1="305.5" y1="406.4" x2="305.5" y2="409.4" stroke="#f01010" stroke-width="0.85" />
<line x1="313.1" y1="406.4" x2="313.1" y2="409.4" stroke="#f01010" stroke-width="0.85" />
<line x1="309.3" y1="412.8" x2="309.3" y2="403" stroke="#f01010" stroke-width="0.85" />
<line x1="307.8" y1="412.8" x2="310.8" y2="412.8" stroke="#f01010" stroke-width="0.85" />
<line x1="307.8" y1="403" x2="310.8" y2="403" stroke="#f01010" stroke-width="0.85" />
<circle cx="309.3" cy="407.9" r="1.7" fill="#f01010"/>
<line x1="65.7" y1="529.7" x2="70.2" y2="529.7" stroke="#3a3a3a" stroke-width="1.3" />
<line x1="316.8" y1="529.7" x2="312.3" y2="529.7" stroke="#3a3a3a" stroke-width="1.3" />
<line x1="65.7" y1="522.1" x2="70.2" y2="522.1" stroke="#3a3a3a" stroke-width="1.3" />
<line x1="316.8" y1="522.1" x2="312.3" y2="522.1" stroke="#3a3a3a" stroke-width="1.3" />
<line x1="65.7" y1="514.6" x2="70.2" y2="514.6" stroke="#3a3a3a" stroke-width="1.3" />
<line x1="316.8" y1="514.6" x2="312.3" y2="514.6" stroke="#3a3a3a" stroke-width="1.3" />
<line x1="65.7" y1="507" x2="70.2" y2="507" stroke="#3a3a3a" stroke-width="1.3" />
<line x1="316.8" y1="507" x2="312.3" y2="507" stroke="#3a3a3a" stroke-width="1.3" />
<line x1="65.7" y1="492" x2="70.2" y2="492" stroke="#3a3a3a" stroke-width="1.3" />
<line x1="316.8" y1="492" x2="312.3" y2="492" stroke="#3a3a3a" stroke-width="1.3" />
<line x1="65.7" y1="484.4" x2="70.2" y2="484.4" stroke="#3a3a3a" stroke-width="1.3" />
<line x1="316.8" y1="484.4" x2="312.3" y2="484.4" stroke="#3a3a3a" stroke-width="1.3" />
<line x1="65.7" y1="476.9" x2="70.2" y2="476.9" stroke="#3a3a3a" stroke-width="1.3" />
<line x1="316.8" y1="476.9" x2="312.3" y2="476.9" stroke="#3a3a3a" stroke-width="1.3" />
<line x1="65.7" y1="469.3" x2="70.2" y2="469.3" stroke="#3a3a3a" stroke-width="1.3" />
<line x1="316.8" y1="469.3" x2="312.3" y2="469.3" stroke="#3a3a3a" stroke-width="1.3" />
<line x1="65.7" y1="454.3" x2="70.2" y2="454.3" stroke="#3a3a3a" stroke-width="1.3" />
<line x1="316.8" y1="454.3" x2="312.3" y2="454.3" stroke="#3a3a3a" stroke-width="1.3" />
<line x1="65.7" y1="446.7" x2="70.2" y2="446.7" stroke="#3a3a3a" stroke-width="1.3" />
<line x1="316.8" y1="446.7" x2="312.3" y2="446.7" stroke="#3a3a3a" stroke-width="1.3" />
<line x1="65.7" y1="439.2" x2="70.2" y2="439.2" stroke="#3a3a3a" stroke-width="1.3" />
<line x1="316.8" y1="439.2" x2="312.3" y2="439.2" stroke="#3a3a3a" stroke-width="1.3" />
<line x1="65.7" y1="431.6" x2="70.2" y2="431.6" stroke="#3a3a3a" stroke-width="1.3" />
<line x1="316.8" y1="431.6" x2="312.3" y2="431.6" stroke="#3a3a3a" stroke-width="1.3" />
<line x1="65.7" y1="416.6" x2="70.2" y2="416.6" stroke="#3a3a3a" stroke-width="1.3" />
<line x1="316.8" y1="416.6" x2="312.3" y2="416.6" stroke="#3a3a3a" stroke-width="1.3" />
<line x1="65.7" y1="409" x2="70.2" y2="409" stroke="#3a3a3a" stroke-width="1.3" />
<line x1="316.8" y1="409" x2="312.3" y2="409" stroke="#3a3a3a" stroke-width="1.3" />
<line x1="65.7" y1="401.5" x2="70.2" y2="401.5" stroke="#3a3a3a" stroke-width="1.3" />
<line x1="316.8" y1="401.5" x2="312.3" y2="401.5" stroke="#3a3a3a" stroke-width="1.3" />
<line x1="65.7" y1="393.9" x2="70.2" y2="393.9" stroke="#3a3a3a" stroke-width="1.3" />
<line x1="316.8" y1="393.9" x2="312.3" y2="393.9" stroke="#3a3a3a" stroke-width="1.3" />
<line x1="65.7" y1="378.9" x2="70.2" y2="378.9" stroke="#3a3a3a" stroke-width="1.3" />
<line x1="316.8" y1="378.9" x2="312.3" y2="378.9" stroke="#3a3a3a" stroke-width="1.3" />
<line x1="65.7" y1="371.3" x2="70.2" y2="371.3" stroke="#3a3a3a" stroke-width="1.3" />
<line x1="316.8" y1="371.3" x2="312.3" y2="371.3" stroke="#3a3a3a" stroke-width="1.3" />
<line x1="65.7" y1="363.8" x2="70.2" y2="363.8" stroke="#3a3a3a" stroke-width="1.3" />
<line x1="316.8" y1="363.8" x2="312.3" y2="363.8" stroke="#3a3a3a" stroke-width="1.3" />
<line x1="65.7" y1="356.2" x2="70.2" y2="356.2" stroke="#3a3a3a" stroke-width="1.3" />
<line x1="316.8" y1="356.2" x2="312.3" y2="356.2" stroke="#3a3a3a" stroke-width="1.3" />
<line x1="65.7" y1="341.2" x2="70.2" y2="341.2" stroke="#3a3a3a" stroke-width="1.3" />
<line x1="316.8" y1="341.2" x2="312.3" y2="341.2" stroke="#3a3a3a" stroke-width="1.3" />
<line x1="65.7" y1="537.2" x2="73.7" y2="537.2" stroke="#3a3a3a" stroke-width="1.3" />
<line x1="316.8" y1="537.2" x2="308.8" y2="537.2" stroke="#3a3a3a" stroke-width="1.3" />
<line x1="65.7" y1="499.5" x2="73.7" y2="499.5" stroke="#3a3a3a" stroke-width="1.3" />
<line x1="316.8" y1="499.5" x2="308.8" y2="499.5" stroke="#3a3a3a" stroke-width="1.3" />
<line x1="65.7" y1="461.8" x2="73.7" y2="461.8" stroke="#3a3a3a" stroke-width="1.3" />
<line x1="316.8" y1="461.8" x2="308.8" y2="461.8" stroke="#3a3a3a" stroke-width="1.3" />
<line x1="65.7" y1="424.1" x2="73.7" y2="424.1" stroke="#3a3a3a" stroke-width="1.3" />
<line x1="316.8" y1="424.1" x2="308.8" y2="424.1" stroke="#3a3a3a" stroke-width="1.3" />
<line x1="65.7" y1="386.4" x2="73.7" y2="386.4" stroke="#3a3a3a" stroke-width="1.3" />
<line x1="316.8" y1="386.4" x2="308.8" y2="386.4" stroke="#3a3a3a" stroke-width="1.3" />
<line x1="65.7" y1="348.7" x2="73.7" y2="348.7" stroke="#3a3a3a" stroke-width="1.3" />
<line x1="316.8" y1="348.7" x2="308.8" y2="348.7" stroke="#3a3a3a" stroke-width="1.3" />
<line x1="100.7" y1="537.2" x2="100.7" y2="532.7" stroke="#3a3a3a" stroke-width="1.3" />
<line x1="100.7" y1="336.6" x2="100.7" y2="341.1" stroke="#3a3a3a" stroke-width="1.3" />
<line x1="170.6" y1="537.2" x2="170.6" y2="532.7" stroke="#3a3a3a" stroke-width="1.3" />
<line x1="170.6" y1="336.6" x2="170.6" y2="341.1" stroke="#3a3a3a" stroke-width="1.3" />
<line x1="240.4" y1="537.2" x2="240.4" y2="532.7" stroke="#3a3a3a" stroke-width="1.3" />
<line x1="240.4" y1="336.6" x2="240.4" y2="341.1" stroke="#3a3a3a" stroke-width="1.3" />
<line x1="310.4" y1="537.2" x2="310.4" y2="532.7" stroke="#3a3a3a" stroke-width="1.3" />
<line x1="310.4" y1="336.6" x2="310.4" y2="341.1" stroke="#3a3a3a" stroke-width="1.3" />
<line x1="65.7" y1="537.2" x2="65.7" y2="529.2" stroke="#3a3a3a" stroke-width="1.3" />
<line x1="65.7" y1="336.6" x2="65.7" y2="344.6" stroke="#3a3a3a" stroke-width="1.3" />
<line x1="135.6" y1="537.2" x2="135.6" y2="529.2" stroke="#3a3a3a" stroke-width="1.3" />
<line x1="135.6" y1="336.6" x2="135.6" y2="344.6" stroke="#3a3a3a" stroke-width="1.3" />
<line x1="205.5" y1="537.2" x2="205.5" y2="529.2" stroke="#3a3a3a" stroke-width="1.3" />
<line x1="205.5" y1="336.6" x2="205.5" y2="344.6" stroke="#3a3a3a" stroke-width="1.3" />
<line x1="275.4" y1="537.2" x2="275.4" y2="529.2" stroke="#3a3a3a" stroke-width="1.3" />
<line x1="275.4" y1="336.6" x2="275.4" y2="344.6" stroke="#3a3a3a" stroke-width="1.3" />
<rect x="65.7" y="336.6" width="251.1" height="200.6" fill="none" stroke="#3a3a3a" stroke-width="1.3"/>
<text x="55" y="544.3" text-anchor="end" class="t">0</text>
<text x="55" y="506.6" text-anchor="end" class="t">5</text>
<text x="55" y="468.9" text-anchor="end" class="t">10</text>
<text x="55" y="431.2" text-anchor="end" class="t">15</text>
<text x="55" y="393.5" text-anchor="end" class="t">20</text>
<text x="55" y="355.8" text-anchor="end" class="t">25</text>
<text x="65.7" y="561.5" text-anchor="middle" class="t">0</text>
<text x="135.6" y="561.5" text-anchor="middle" class="t">20</text>
<text x="205.5" y="561.5" text-anchor="middle" class="t">40</text>
<text x="275.4" y="561.5" text-anchor="middle" class="t">60</text>
<text class="a" text-anchor="middle" transform="translate(15,132.7) rotate(-90)">cross section [mbarns]</text>
<text class="a" text-anchor="middle" transform="translate(382.4,133.4) rotate(-90)">cross section [mbarns]</text>
<text class="a" text-anchor="middle" transform="translate(21.7,440) rotate(-90)">cross section [mbarns]</text>
<text class="a" x="189.3" y="276.8" text-anchor="middle">incident proton energy [MeV]</text>
<text class="a" x="557.5" y="276.6" text-anchor="middle">incident proton energy [MeV]</text>
<text class="a" x="191.5" y="582.5" text-anchor="middle">incident proton energy [MeV]</text>
<text class="ti" x="133.5" y="11.8" text-anchor="middle" style="font-size:13.6px;font-weight:bold">1</text>
<text class="ti" x="141.4" y="11.8" text-anchor="middle" style="font-size:13.6px;font-weight:bold">6</text>
<text class="ti" x="154.5" y="19.8" text-anchor="middle" style="font-size:19.2px">O</text>
<text class="ti" x="166.2" y="19.8" text-anchor="middle" style="font-size:19.2px">(</text>
<text class="ti" x="175.1" y="19.8" text-anchor="middle" style="font-size:20px;font-style:italic">p</text>
<text class="ti" x="185.1" y="19.8" text-anchor="middle" style="font-size:19.2px">,</text>
<text class="ti" x="197.7" y="19.8" text-anchor="middle" style="font-size:20px;font-style:italic">x</text>
<text class="ti" x="208.4" y="19.8" text-anchor="middle" style="font-size:19.2px">)</text>
<text class="ti" x="217.8" y="11.8" text-anchor="middle" style="font-size:13.6px;font-weight:bold">1</text>
<text class="ti" x="226.4" y="11.8" text-anchor="middle" style="font-size:13.6px;font-weight:bold">5</text>
<text class="ti" x="239.4" y="19.8" text-anchor="middle" style="font-size:19.2px">O</text>
<text class="ti" x="502.1" y="12.4" text-anchor="middle" style="font-size:13.6px;font-weight:bold">1</text>
<text class="ti" x="510" y="12.4" text-anchor="middle" style="font-size:13.6px;font-weight:bold">6</text>
<text class="ti" x="523.1" y="20.4" text-anchor="middle" style="font-size:19.2px">O</text>
<text class="ti" x="534.8" y="20.4" text-anchor="middle" style="font-size:19.2px">(</text>
<text class="ti" x="543.7" y="20.4" text-anchor="middle" style="font-size:20px;font-style:italic">p</text>
<text class="ti" x="553.7" y="20.4" text-anchor="middle" style="font-size:19.2px">,</text>
<text class="ti" x="566.3" y="20.4" text-anchor="middle" style="font-size:20px;font-style:italic">x</text>
<text class="ti" x="577" y="20.4" text-anchor="middle" style="font-size:19.2px">)</text>
<text class="ti" x="586.4" y="12.4" text-anchor="middle" style="font-size:13.6px;font-weight:bold">1</text>
<text class="ti" x="595" y="12.4" text-anchor="middle" style="font-size:13.6px;font-weight:bold">3</text>
<text class="ti" x="609.8" y="20.4" text-anchor="middle" style="font-size:19.2px">N</text>
<text class="ti" x="133.5" y="319.2" text-anchor="middle" style="font-size:13.6px;font-weight:bold">1</text>
<text class="ti" x="141.4" y="319.2" text-anchor="middle" style="font-size:13.6px;font-weight:bold">6</text>
<text class="ti" x="154.5" y="327.2" text-anchor="middle" style="font-size:19.2px">O</text>
<text class="ti" x="166.2" y="327.2" text-anchor="middle" style="font-size:19.2px">(</text>
<text class="ti" x="175.1" y="327.2" text-anchor="middle" style="font-size:20px;font-style:italic">p</text>
<text class="ti" x="185.1" y="327.2" text-anchor="middle" style="font-size:19.2px">,</text>
<text class="ti" x="197.7" y="327.2" text-anchor="middle" style="font-size:20px;font-style:italic">x</text>
<text class="ti" x="208.4" y="327.2" text-anchor="middle" style="font-size:19.2px">)</text>
<text class="ti" x="217.8" y="319.2" text-anchor="middle" style="font-size:13.6px;font-weight:bold">1</text>
<text class="ti" x="226.4" y="319.2" text-anchor="middle" style="font-size:13.6px;font-weight:bold">1</text>
<text class="ti" x="239.4" y="327.2" text-anchor="middle" style="font-size:19.2px">C</text>
<text class="l" x="504.5" y="321.6">this work</text>
<line x1="463.2" y1="315.4" x2="481.8" y2="315.4" stroke="#f01010" stroke-width="1.3" />
<line x1="463.2" y1="311.6" x2="463.2" y2="319.2" stroke="#f01010" stroke-width="1.3" />
<line x1="481.8" y1="311.6" x2="481.8" y2="319.2" stroke="#f01010" stroke-width="1.3" />
<line x1="472.5" y1="306.1" x2="472.5" y2="324.7" stroke="#f01010" stroke-width="1.3" />
<line x1="468.7" y1="306.1" x2="476.3" y2="306.1" stroke="#f01010" stroke-width="1.3" />
<line x1="468.7" y1="324.7" x2="476.3" y2="324.7" stroke="#f01010" stroke-width="1.3" />
<circle cx="472.5" cy="315.4" r="2" fill="#f01010"/>
<text class="l" x="504.5" y="347.1">Akagi 2013</text>
<line x1="463.2" y1="340.9" x2="481.8" y2="340.9" stroke="#3ad83a" stroke-width="1.3" />
<line x1="463.2" y1="337.1" x2="463.2" y2="344.8" stroke="#3ad83a" stroke-width="1.3" />
<line x1="481.8" y1="337.1" x2="481.8" y2="344.8" stroke="#3ad83a" stroke-width="1.3" />
<line x1="472.5" y1="331.6" x2="472.5" y2="350.2" stroke="#3ad83a" stroke-width="1.3" />
<line x1="468.7" y1="331.6" x2="476.3" y2="331.6" stroke="#3ad83a" stroke-width="1.3" />
<line x1="468.7" y1="350.2" x2="476.3" y2="350.2" stroke="#3ad83a" stroke-width="1.3" />
<circle cx="472.5" cy="340.9" r="4.1" fill="#fff" stroke="#3ad83a" stroke-width="1.25"/>
<text class="l" x="504.5" y="372.7">Albouy 1962</text>
<rect x="468.2" y="362.2" width="8.6" height="8.6" fill="#fff" stroke="#d860d8" stroke-width="1.25"/>
<text class="l" x="504.5" y="398.2">Kitwanga 1989</text>
<line x1="463.2" y1="392" x2="481.8" y2="392" stroke="#3030d8" stroke-width="1.3" />
<line x1="463.2" y1="388.2" x2="463.2" y2="395.8" stroke="#3030d8" stroke-width="1.3" />
<line x1="481.8" y1="388.2" x2="481.8" y2="395.8" stroke="#3030d8" stroke-width="1.3" />
<path d="M472.5 387.5L478.4 397.4L466.6 397.4Z" fill="#fff" stroke="#3030d8" stroke-width="1.25"/>
<text class="l" x="504.5" y="423.8">Sajjad 1985</text>
<path d="M472.5 422.4L478.2 413L466.8 413Z" fill="#fff" stroke="#f07a30" stroke-width="1.25"/>
<text class="l" x="504.5" y="449.3">Valentin 1965</text>
<line x1="463.2" y1="443.1" x2="481.8" y2="443.1" stroke="#b8bc5c" stroke-width="1.3" />
<line x1="463.2" y1="439.3" x2="463.2" y2="446.9" stroke="#b8bc5c" stroke-width="1.3" />
<line x1="481.8" y1="439.3" x2="481.8" y2="446.9" stroke="#b8bc5c" stroke-width="1.3" />
<line x1="472.5" y1="433.8" x2="472.5" y2="452.4" stroke="#b8bc5c" stroke-width="1.3" />
<line x1="468.7" y1="433.8" x2="476.3" y2="433.8" stroke="#b8bc5c" stroke-width="1.3" />
<line x1="468.7" y1="452.4" x2="476.3" y2="452.4" stroke="#b8bc5c" stroke-width="1.3" />
<path d="M472.5 437.9L477.8 443.1L472.5 448.4L467.2 443.1Z" fill="#fff" stroke="#b8bc5c" stroke-width="1.25"/>
<text class="l" x="504.5" y="474.9">Kettern 2004</text>
<line x1="463.2" y1="468.7" x2="481.8" y2="468.7" stroke="#9c6c3c" stroke-width="1.3" />
<line x1="463.2" y1="464.9" x2="463.2" y2="472.5" stroke="#9c6c3c" stroke-width="1.3" />
<line x1="481.8" y1="464.9" x2="481.8" y2="472.5" stroke="#9c6c3c" stroke-width="1.3" />
<line x1="472.5" y1="459.4" x2="472.5" y2="478" stroke="#9c6c3c" stroke-width="1.3" />
<line x1="468.7" y1="459.4" x2="476.3" y2="459.4" stroke="#9c6c3c" stroke-width="1.3" />
<line x1="468.7" y1="478" x2="476.3" y2="478" stroke="#9c6c3c" stroke-width="1.3" />
<path d="M472.5 461.7L476.5 468.7L472.5 475.7L468.5 468.7Z" fill="#fff" stroke="#9c6c3c" stroke-width="1.25"/>
<text class="l" x="504.5" y="500.4">Furukawa 1960</text>
<line x1="472.5" y1="484.9" x2="472.5" y2="503.6" stroke="#24584a" stroke-width="1.3" />
<line x1="468.7" y1="484.9" x2="476.3" y2="484.9" stroke="#24584a" stroke-width="1.3" />
<line x1="468.7" y1="503.6" x2="476.3" y2="503.6" stroke="#24584a" stroke-width="1.3" />
<line x1="468" y1="494.2" x2="477" y2="494.2" stroke="#24584a" stroke-width="1.25" />
<line x1="472.5" y1="489.8" x2="472.5" y2="498.8" stroke="#24584a" stroke-width="1.25" />
<text class="l" x="504.5" y="526">Whitehead 1958</text>
<line x1="472.5" y1="510.5" x2="472.5" y2="529.1" stroke="#3ae0e0" stroke-width="1.3" />
<line x1="468.7" y1="510.5" x2="476.3" y2="510.5" stroke="#3ae0e0" stroke-width="1.3" />
<line x1="468.7" y1="529.1" x2="476.3" y2="529.1" stroke="#3ae0e0" stroke-width="1.3" />
<line x1="469.2" y1="516.5" x2="475.8" y2="523.1" stroke="#3ae0e0" stroke-width="1.25" />
<line x1="469.2" y1="523.1" x2="475.8" y2="516.5" stroke="#3ae0e0" stroke-width="1.25" />
<text class="l" x="504.5" y="551.6">Bimbot 1971</text>
<line x1="463.2" y1="545.4" x2="481.8" y2="545.4" stroke="#f0f020" stroke-width="1.3" />
<line x1="463.2" y1="541.6" x2="463.2" y2="549.1" stroke="#f0f020" stroke-width="1.3" />
<line x1="481.8" y1="541.6" x2="481.8" y2="549.1" stroke="#f0f020" stroke-width="1.3" />
<line x1="472.5" y1="536.1" x2="472.5" y2="554.6" stroke="#f0f020" stroke-width="1.3" />
<line x1="468.7" y1="536.1" x2="476.3" y2="536.1" stroke="#f0f020" stroke-width="1.3" />
<line x1="468.7" y1="554.6" x2="476.3" y2="554.6" stroke="#f0f020" stroke-width="1.3" />
<circle cx="472.5" cy="545.4" r="2.4" fill="#f0f020"/>
<text class="l" x="504.5" y="577.1">INCL</text>
<line x1="451.8" y1="570.9" x2="492.6" y2="570.9" stroke="#4a4a4a" stroke-width="1.4" stroke-dasharray="9,7.2"/>
</svg>
</body></html>
